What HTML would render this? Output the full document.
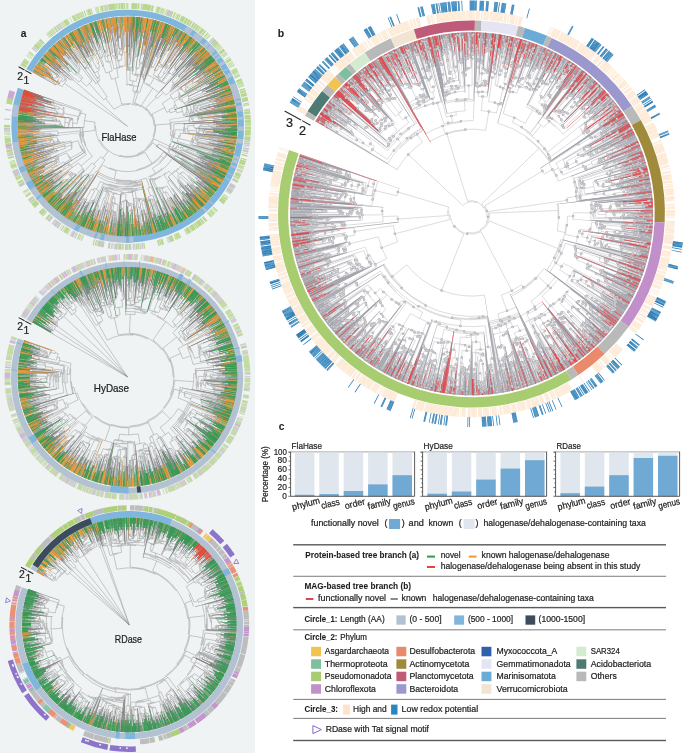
<!DOCTYPE html>
<html><head><meta charset="utf-8"><title>Figure</title>
<style>html,body{margin:0;padding:0;background:#fff;overflow:hidden}svg{display:block}</style>
</head><body><svg width="685" height="753" viewBox="0 0 685 753" font-family="'Liberation Sans', Arial, sans-serif"><rect x="0" y="0" width="255" height="753" fill="#f0f3f4"/>
<g transform="translate(127.5 126.4) scale(0.25)"><path d="M-394-224A453 453 0 1 1 -427-151" stroke="#7fb6de" stroke-width="24.8" fill="none"/><path d="M231-390A453 453 0 0 1 245-381" stroke="#b3c2d3" stroke-width="24.8" fill="none"/><path d="M245-381A453 453 0 0 1 254-375" stroke="#b3c2d3" stroke-width="24.8" fill="none"/><path d="M266-367A453 453 0 0 1 270-364" stroke="#b3c2d3" stroke-width="24.8" fill="none"/><path d="M270-364A453 453 0 0 1 283-354" stroke="#b3c2d3" stroke-width="24.8" fill="none"/><path d="M283-354A453 453 0 0 1 295-344" stroke="#b3c2d3" stroke-width="24.8" fill="none"/><path d="M308-332A453 453 0 0 1 321-320" stroke="#b3c2d3" stroke-width="24.8" fill="none"/><path d="M324-317A453 453 0 0 1 337-303" stroke="#b3c2d3" stroke-width="24.8" fill="none"/><path d="M337-303A453 453 0 0 1 341-298" stroke="#b3c2d3" stroke-width="24.8" fill="none"/><path d="M341-298A453 453 0 0 1 344-296" stroke="#b3c2d3" stroke-width="24.8" fill="none"/><path d="M350-288A453 453 0 0 1 355-282" stroke="#b3c2d3" stroke-width="24.8" fill="none"/><path d="M359-277A453 453 0 0 1 364-270" stroke="#b3c2d3" stroke-width="24.8" fill="none"/><path d="M374-256A453 453 0 0 1 381-245" stroke="#b3c2d3" stroke-width="24.8" fill="none"/><path d="M392-228A453 453 0 0 1 394-224" stroke="#b3c2d3" stroke-width="24.8" fill="none"/><path d="M401-210A453 453 0 0 1 410-194" stroke="#b3c2d3" stroke-width="24.8" fill="none"/><path d="M430-143A453 453 0 0 1 431-140" stroke="#b3c2d3" stroke-width="24.8" fill="none"/><path d="M431-140A453 453 0 0 1 436-124" stroke="#b3c2d3" stroke-width="24.8" fill="none"/><path d="M441-104A453 453 0 0 1 443-94" stroke="#b3c2d3" stroke-width="24.8" fill="none"/><path d="M446-83A453 453 0 0 1 448-71" stroke="#b3c2d3" stroke-width="24.8" fill="none"/><path d="M448-71A453 453 0 0 1 449-60" stroke="#b3c2d3" stroke-width="24.8" fill="none"/><path d="M452-37A453 453 0 0 1 452-27" stroke="#b3c2d3" stroke-width="24.8" fill="none"/><path d="M453 0A453 453 0 0 1 453 18" stroke="#b3c2d3" stroke-width="24.8" fill="none"/><path d="M450 50A453 453 0 0 1 448 68" stroke="#b3c2d3" stroke-width="24.8" fill="none"/><path d="M438 118A453 453 0 0 1 434 130" stroke="#b3c2d3" stroke-width="24.8" fill="none"/><path d="M433 134A453 453 0 0 1 429 146" stroke="#b3c2d3" stroke-width="24.8" fill="none"/><path d="M425 157A453 453 0 0 1 422 165" stroke="#b3c2d3" stroke-width="24.8" fill="none"/><path d="M412 189A453 453 0 0 1 411 192" stroke="#b3c2d3" stroke-width="24.8" fill="none"/><path d="M402 209A453 453 0 0 1 400 212" stroke="#b3c2d3" stroke-width="24.8" fill="none"/><path d="M336 304A453 453 0 0 1 334 307" stroke="#b3c2d3" stroke-width="24.8" fill="none"/><path d="M311 330A453 453 0 0 1 306 335" stroke="#b3c2d3" stroke-width="24.8" fill="none"/><path d="M420-170A453 453 0 0 1 440-110" stroke="#b3c2d3" stroke-width="24.8" fill="none"/><path d="M24 453A453 453 0 0 1 -449 63" stroke="#b3c2d3" stroke-width="24.8" fill="none"/><path d="M-451-39A453 453 0 0 1 -445-86" stroke="#b3c2d3" stroke-width="24.8" fill="none"/><path d="M7 453A453 453 0 0 1 -6 453" stroke="#7fb6de" stroke-width="24.8" fill="none"/><path d="M-93 444A453 453 0 0 1 -107 441" stroke="#7fb6de" stroke-width="24.8" fill="none"/><path d="M-122 437A453 453 0 0 1 -130 434" stroke="#7fb6de" stroke-width="24.8" fill="none"/><path d="M-193 410A453 453 0 0 1 -209 402" stroke="#7fb6de" stroke-width="24.8" fill="none"/><path d="M-352 286A453 453 0 0 1 -357 280" stroke="#7fb6de" stroke-width="24.8" fill="none"/><path d="M-380 247A453 453 0 0 1 -389 232" stroke="#7fb6de" stroke-width="24.8" fill="none"/><path d="M-389 232A453 453 0 0 1 -396 221" stroke="#7fb6de" stroke-width="24.8" fill="none"/><path d="M-416 181A453 453 0 0 1 -419 173" stroke="#7fb6de" stroke-width="24.8" fill="none"/><path d="M-419 173A453 453 0 0 1 -424 161" stroke="#7fb6de" stroke-width="24.8" fill="none"/><circle r="482" stroke="#a7cd6d" stroke-width="24" pathLength="36000" stroke-dasharray="0 24 130 20 255 20 30 20 180 594 30 45 80 120 55 20 230 45 55 20 30 20 30 220 180 19 80 70 55 645 30 145 30 20 30 20 80 20 205 394 55 20 30 45 30 20 80 20 55 20 80 220 105 70 80 20 205 20 80 20 55 20 180 20 30 20 154 20 55 295 80 20 105 20 55 70 155 120 30 195 105 20 55 20 55 644 55 245 55 20 55 320 30 45 55 195 30 20 130 894 105 170 55 544 30 45 30 20 30 20 55 470 55 20 155 20 30 45 55 45 30 719 105 145 55 20 105 20 80 270 255 20 80 270 80 20 30 69 30 20 55 345 55 20 105 70 30 20 105 20 30 370 30 20 130 20 30 20 30 20 30 20 30 119 80 45 30 45 80 20 130 220 80 20 230 20 30 20 30 45 30 20 30 45 55 170 130 994 280 1614 30 20 105 20 130 20 55 145 30 45 30 45 30 20 55 320 155 20 80 20 55 20 105 344 30 45 55 20 55 20 55 20 30 20 55 45 80 220 30 20 30 20 30 20 30 20 30 20 180 20 30 95 30 95 130 19 55 20 105 20 55 20 55 20 55 45 55 70 30 20 130 20 55 170 30 20 30 20 55 70 30 20 105 20 30 20 80 145 304 20 55 20 30 20 80 20 130 20 55 45 30 20 55 145 280 20 80 145 404 20 105 120 30 20 130 20 30 20 55 20 55 20 30 45 30 20 30 195 80 45 80 45 30 20 80 20 55 45 204 20 130 20 105 20 80 70 80 20 80 20 105 20 55 20 30 20 155 20 80 70 55 20 30 45 55 145 55 194 130 20 55 20 30 20 30 20 30 20 30 45 155 45 55 20 30 20 30 120 30 45 130 45 30 20 30 20 30 20 30 20 30 120 55 19 80 20 55 20 30 20 30 20 80 120 130 20 80 20 30 20 30 20 30 95 80 20 105 20 155 45 205 70 55 19 55 170 80 20 130 45 205 20 155 20 80 20 51 1" fill="none" stroke-opacity="0.75"/><circle r="482" stroke="#b9b9b9" stroke-width="24" pathLength="36000" stroke-dasharray="0 698 55 20 80 20 55 20 30 45 80 20 105 870 80 20 30 369 30 45 55 145 205 20 205 1819 30 1769 55 20 30 495 30 694 55 20 30 20 55 20 30 145 55 20 55 70 105 45 30 45 80 45 30 20 30 170 30 19 155 45 30 20 55 45 105 195 205 120 30 20 55 620 30 294 55 20 30 20 130 20 30 620 105 20 155 20 80 120 129 445 30 720 130 669 105 445 305 1894 130 394 55 420 30 3089 55 20 55 1369 30 20 80 20 55 2394 55 20 55 1494 55 1219 205 1119 30 1194 180 1669 30 2670" fill="none" stroke-opacity="0.75"/><circle r="482" stroke="#c08ec8" stroke-width="24" pathLength="36000" stroke-dasharray="0 16614 30 270 30 20 55 20 80 1644 30 545 355 16307" fill="none" stroke-opacity="0.75"/><path d="M-359-207l0-1M-359-208l14 8l1-1M-340-201l1-1M-338-199l1-1l-3-2M-337-199l2 1l2-2M-344-200l11 6l2-3l-3-2M-332-196l3 2a382 382 0 0 1 2-4M-328-196l30 18l1-3M-296-170a341 341 0 0 1 4-6l-6-4M-290-165a333 333 0 0 1 3-4l-7-4M-289-167l3 1a330 330 0 0 1 5-7M-284-169l5 3a324 324 0 0 1 3-5M-363-230l1-1M-355-245l1-1M-329-225l1-2l-27-18M-328-226l2 2l2-2M-313-213l2-3l-14-9M-312-214l3 1l2-3M-306-208l2-3l-4-3M-303-201a363 363 0 0 1 3-5l-5-4M-302-196a360 360 0 0 1 3-6l-2-1M-300-194l2-3l-2-2M-298-191l2-3l-3-1M-363-231l67 43l2-3l-3-1M-345-245l0-1M-333-235l1-1l-13-10M-332-236l14 11l2-2M-317-226l11 7l1-1M-295-189l3 1a347 347 0 0 1 10-15l-23-16M-287-195l2 1a344 344 0 0 1 7-9M-282-198l3 2a341 341 0 0 1 4-5M-283-178a334 334 0 0 1 11-17l-5-4M-281-176a331 331 0 0 1 6-9l-2-2M-276-172a325 325 0 0 1 3-5l-5-3M-339-251l1-1M-316-233l1-1l-24-17M-274-174l2 1a322 322 0 0 1 13-18l-56-42M-339-255l1-1M-339-256l3 2l1-1M-335-251l2-2l-3-2M-334-252l3 2l2-3M-330-251l53 40l2-2M-265-182l6 4a314 314 0 0 1 10-14l-27-20M-321-254l0 0M-283-221l1-2l-39-31M-282-222l8 6l1-2M-254-185l2 2a311 311 0 0 1 8-10l-29-24M-277-168l16 9a305 305 0 0 1 18-26l-5-3M-293-242l1-1M-292-243l16 13l1-1M-275-226l2-2l-3-2M-273-223l1-2l-2-2M-301-256l0-1M-286-241l1-1l-16-14M-273-224l13 10a337 337 0 0 1 3-4l-28-24M-258-216l2 2a333 333 0 0 1 3-3M-254-215l22 18l2-2M-228-184a293 293 0 0 1 5-6l-8-8M-269-235l1-1M-225-187l3 3a288 288 0 0 1 5-6l-51-45M-290-263l1-1M-279-251l1-2l-11-10M-264-236l2-2l-16-14M-262-233l1-2l-2-2M-262-234l4 3a346 346 0 0 1 3-3M-256-232l2 2l2-3M-284-264l1-1M-284-264l18 16l2-1M-312-298l1-1M-311-298l20 19l1-1M-270-265l1-1M-269-265l7 7l1-2M-261-255l2-2l-2-2M-237-230l2-1l-25-25M-290-279l55 53l2-2l-3-2M-234-223l2-2l-2-2M-265-249l32 30l2-3l-2-2M-243-244l2-2M-232-220l2 2a317 317 0 0 1 7-7l-19-20M-226-222l15 15a296 296 0 0 1 6-6M-208-210l2 2a293 293 0 0 1 3-3M-277-297l1-1M-277-298l13 14l2-1M-263-281l2-1l-2-3M-262-277l2-2l-2-2M-260-274l2-2l-3-2M-259-275l2 2a375 375 0 0 1 5-5M-251-280l2-1M-250-280l14 15l2-2M-235-266l2 2l2-1M-248-286l1-2M-248-287l2 2l3-2M-262-316l1 0M-261-316l2 2l1-1M-258-310l1-2l-2-2M-227-271l1-1l-31-39M-226-268l2-1l-2-3M-244-286l40 47l2-2l-23-28M-246-302l2-1M-203-240l8 10a301 301 0 0 1 5-4l-55-68M-232-264l36 41a297 297 0 0 1 7-5l-3-4M-255-275l56 60a293 293 0 0 1 9-8l-3-3M-200-210a290 290 0 0 1 7-7l-2-2M-204-210l18 19a266 266 0 0 1 6-5l-17-18M-253-231l59 54a263 263 0 0 1 13-14l-2-2M-240-307l1-1M-228-295l2-1M-240-307l13 16l2-2l-2-2M-208-264l2-2l-20-26M-207-261l2-1l-2-3M-206-262l2 3a330 330 0 0 1 4-3M-203-255a326 326 0 0 1 3-3l-2-3M-201-257l1 3a323 323 0 0 1 5-4M-197-256l2 3a320 320 0 0 1 3-3M-196-245a314 314 0 0 1 6-5l-4-5M-188-184l24 23a230 230 0 0 1 22-20l-51-66M-234-320l1 0M-233-320l2 3l1-1M-230-313l2-1l-3-4M-229-310l2-1l-2-3M-229-319l1-1M-228-310l22 29l3-2l-26-37M-250-352l1 0M-249-352l23 32l2-1M-212-307l2-2M-225-320l34 49a331 331 0 0 1 4-2l-24-35M-217-321l2-1M-216-321l13 18l1-1M-189-272l11 16a312 312 0 0 1 5-4l-30-43M-176-258l2 3a309 309 0 0 1 4-3M-222-343l2 0M-202-310l2-1l-21-32M-201-310l2 2l2-1M-179-272l3-2l-22-34M-172-257l8 13a294 294 0 0 1 4-3l-18-26M-205-282l35 47a290 290 0 0 1 10-7l-2-3M-171-230a287 287 0 0 1 8-6l-2-2M-167-233l2 3a283 283 0 0 1 13-9M-191-313l2-1M-190-313l3 5l2-1M-172-279l3-1l-17-29M-189-319l2-1M-182-306l1-1l-7-13M-181-307l13 22l3-1M-167-285l2 2l2-1M-170-279l1 2a324 324 0 0 1 7-4l-2-2M-165-279l1 3a321 321 0 0 1 6-3M-161-278l2 3a318 318 0 0 1 4-2M-157-253a298 298 0 0 1 10-6l-10-17M-149-238a280 280 0 0 1 6-3l-9-15M-187-346l1 0M-182-336l1 0l-5-10M-182-336l2 3l2-1M-161-292l3-2l-21-40M-182-350l1-1M-173-341l1-1M-169-330l2 0l-6-12M-168-330l12 23l2-1M-191-384l1-1M-155-307l3 7l3-1l-42-84M-181-350l28 54a333 333 0 0 1 4-2l-1-3M-153-292a330 330 0 0 1 4-2l-2-3M-152-289l2-1l-1-3M-151-290l4 7a319 319 0 0 1 7-3M-144-284l2 2a316 316 0 0 1 4-2M-144-272a308 308 0 0 1 7-4l-3-7M-159-293l15 28a301 301 0 0 1 7-3l-3-6M-166-363l1-1M-158-343l2 0l-9-21M-157-343l1 3l3-1M-156-336l3-2l-2-3M-155-333l2-1l-2-3M-155-330l2-1l-1-3M-154-330l10 21a341 341 0 0 1 5-2M-142-310l2 3l3-2M-143-302a334 334 0 0 1 6-3l-2-3M-140-304l1 3a331 331 0 0 1 6-2M-138-289a321 321 0 0 1 6-3l-4-10M-137-286l3-2l-1-3M-159-370l1 0M-158-370l1 3l1 0M-146-335l3-1l-13-31M-144-336l1 5l3-2M-136-287l2 3a314 314 0 0 1 11-5l-18-43M-122-252a280 280 0 0 1 8-3l-15-32M-141-266l19 35a262 262 0 0 1 11-6l-7-17M-146-239l15 25a251 251 0 0 1 19-11l-4-9M-122-194a229 229 0 0 1 11-6l-10-20M-158-235l37 56a216 216 0 0 1 11-7l-6-11M-127-170a212 212 0 0 1 14-10l-2-3M-153-172l58 66a142 142 0 0 1 14-11l-39-58M-158-385l1-1M-148-373l1 0M-146-364l2 0l-4-9M-142-351l2-1l-5-12M-141-351l6 14l3-2M-158-386l22 52l3-1l-1-3M-128-334l2-1M-127-335l3 9l2-1M-125-338l2-1M-123-326l6 15l3-1l-10-27M-115-311l1 3a329 329 0 0 1 4-2M-135-334l13 32a326 326 0 0 1 11-4l-1-3M-143-407l2 0M-139-408l1 0M-134-389l2 0l-6-19M-142-407l23 66l2-1l-16-47M-112-317l2-1l-8-24M-116-304l10 28a296 296 0 0 1 8-3l-13-38M-112-271a293 293 0 0 1 11-4l-1-3M-101-242a262 262 0 0 1 6-2l-11-29M-123-370l1 0M-122-370l1 5l3-1M-119-365l3 11l3 0M-117-350l4-1l-1-3M-112-371l2-1M-112-368l2-1l-1-3M-108-352l2-1l-5-15M-107-352l1 3l4-1M-102-330l3-1l-5-19M-116-411l1 0M-116-411l1 3l2 0M-104-364l2 0l-12-44M-104-360l2-1l-1-3M-103-361l5 19l4-1M-96-342l1 3l3-1M-94-340l1 4l3-1M-101-331l9 29a316 316 0 0 1 9-3l-8-32M-93-298a312 312 0 0 1 7-2l-1-3M-102-399l1 0M-102-399l4 14l2 0M-96-371l2 0l-3-14M-88-336l2-1l-9-34M-90-299l1 3a309 309 0 0 1 11-3l-9-38M-83-298l3 13a296 296 0 0 1 9-2M-88-279a292 292 0 0 1 14-4l-1-3M-115-350l30 92a272 272 0 0 1 9-3l-5-20M-80-260l1 4a268 268 0 0 1 15-4M-98-243l12 30a230 230 0 0 1 25-9l-10-36M-90-391l3 0M-89-391l11 46l3 0M-79-341l3-1l-1-3M-78-342l1 3l4 0M-79-335a344 344 0 0 1 5-1l-1-3M-79-383l1 0M-78-383l0 5l2-1M-75-357l2-1l-4-20M-74-348l2 0l-2-10M-69-374l1 0M-71-370l3-1l0-3M-66-341l2 0l-5-29M-66-333l2 0l-1-8M-73-348l11 51l4 0l-7-36M-77-335l10 43a300 300 0 0 1 8-2l-1-3M-63-293l3 12a287 287 0 0 1 10-2M-68-401l1 0M-67-401l4 25l1-1M-55-282l2 10a277 277 0 0 1 8-1l-17-104M-62-393l1 0M-62-389l1 0l0-4M-50-342l3-1M-51-376l3-1M-50-376l4 29l3 0M-44-347l0 3l2 0M-43-344l1 3l2 0M-48-343l2 20a326 326 0 0 1 7-1l-2-17M-42-391l2-1M-41-392l3 34l3 0M-39-411l1 0M-39-411l1 3l1 0M-38-408l5 49l2 0M-36-358l0 3l4 0l0-4M-39-351a354 354 0 0 1 5-1l0-3M-39-348l3-1l0-3M-37-348l4 37a313 313 0 0 1 8-1M-35-300a302 302 0 0 1 7-1l-1-10M-42-323l4 33a292 292 0 0 1 7-1l-1-10M-34-290l0 3a289 289 0 0 1 11-1M-29-389l2 0M-29-386l1 0l0-3M-29-386l2 20l2 0M-28-288l0 3a286 286 0 0 1 8 0l-6-81M-40-264a267 267 0 0 1 17-2l-1-19M-62-389l21 128a264 264 0 0 1 10-1l0-3M-24-391l2 0M-23-391l2 29l2 0M-20-409l1 0M-19-409l0 3l2 0M-18-406l2 40l1 0M-14-376l2-1M-13-376l0 3l3 0M-16-366l2 38l4 0l-1-45M-12-328l0 5l4 0M-16-319a320 320 0 0 1 7-1l-1-3M-20-362l2 49l5 0l0-7M-20-308l5 0l0-5M-17-308l0 11a298 298 0 0 1 11-1M-36-261l3 21a243 243 0 0 1 24-2l-2-55M-49-273l6 37a239 239 0 0 1 22-2l0-4M-55-230a236 236 0 0 1 24-4l-1-3M-74-218l10 30a199 199 0 0 1 27-8l-6-36M-2-405l2 0M1-374l1 0M3-324l2 0M1-374l0 54l3 0l0-4M-1-405l0 106l3 0l1-21M1-299l0 7a292 292 0 0 1 5 1M4-292l-1 4l4 0M12-387l2 0M11-375l2 0l0-12M10-361l1 0l1-14M5-288l0 14l3 0l3-87M19-384l1 1M20-384l-2 33l2 0M19-351l-1 22l2 0M15-326l4 1l0-4M17-325l-1 6l4 0M14-316l4 0l0-3M23-348l1 0M16-316l0 3l5 0l3-35M12-303a303 303 0 0 1 6 1l0-11M10-263l3 0l2-39M6-274l0 24a250 250 0 0 1 5 1l1-14M-2-246a246 246 0 0 1 10 0l0-3M3-246l0 9a237 237 0 0 1 15 0M-2-234a234 234 0 0 1 12 0l0-3M4-234l0 3a231 231 0 0 1 14 1M-3-228a228 228 0 0 1 14 1l0-4M4-228l0 4a224 224 0 0 1 14 0M32-345l2 0M30-342l3 0l0-3M31-342l0 10l3 1M32-332l-1 12l2 1M42-378l1 0M39-360l1 0l2-18M45-379l2 0M41-352l2 0l3-27M40-360l-4 34l3 0l3-26M32-320l-3 32l4 0l4-38M49-370l1 0M46-361l2 0l2-9M31-288l-1 7a282 282 0 0 1 7 1l10-81M24-278a279 279 0 0 1 9 1l1-3M18-222a223 223 0 0 1 5 1l5-57M51-319l3 0M49-316l3 0l0-3M43-288l3 0l4-28M42-285l2 0l1-3M39-277l2 1l2-9M65-323l4 1M65-298l2 0M67-322l-5 26l3 1l1-3M64-296l-1 4l4 1M55-291a296 296 0 0 1 9 2l1-3M54-288a293 293 0 0 1 5 1l1-3M52-285l4 1l0-3M54-284l-6 29a259 259 0 0 1 11 2M45-250a254 254 0 0 1 8 1l1-5M40-276l-6 42a236 236 0 0 1 11 2l4-18M32-231a233 233 0 0 1 7 1l1-3M92-381l1 0M89-378l3 0l1-3M36-231l-4 21a213 213 0 0 1 18 3l41-171M20-222l-1 13a210 210 0 0 1 21 3l1-3M97-391l1 1M30-207l-1 3a206 206 0 0 1 21 4l47-190M11-224l-2 41a183 183 0 0 1 26 3l5-23M-3-168a168 168 0 0 1 23 1l2-15M9-168l-1 4a165 165 0 0 1 33 4M25-163l-4 21a143 143 0 0 1 15 3M29-140l-2 5a138 138 0 0 1 8 2M91-345l2 0M106-380l1 0M86-312l1 0l19-68M86-312l0 3l1 1M97-322l1 0M94-320l2 1l1-3M95-319l-9 31l2 1M87-287l-2 5l2 1M79-273l4 1l3-9M81-273l-1 3a281 281 0 0 1 4 2M82-269l-8 26l3 1M117-361l1 1M109-342l2 1l6-19M76-242l-1 3l2 0l33-103M68-238a248 248 0 0 1 7 2l1-3M72-237l-1 3a244 244 0 0 1 5 2M86-309l-28 101a216 216 0 0 1 7 2l9-27M122-366l1 1M122-365l-8 24l1 0M115-341l-10 29l1 1M105-311l-8 25l1 1M62-207l-1 3a213 213 0 0 1 8 3l29-85M55-202a209 209 0 0 1 9 3l1-3M59-201l-1 3a206 206 0 0 1 10 3M63-196l-1 4a202 202 0 0 1 5 2M64-191l-1 3l4 1M65-188l-1 3l2 1M65-184l-1 3l2 0M92-345l-55 205a145 145 0 0 1 12 4l16-45M128-347l3 1M154-363l1 0M142-338l2 0l11-25M136-327l2 1l5-12M137-327l-5 12l3 1M134-315l-1 4l2 1M127-309a334 334 0 0 1 5 2l2-4M125-307l3 2l2-3M123-304l2 1l2-3M121-301l2 1l1-3M148-333l2 1M146-330l2 1l1-3M133-305l2 1l12-26M122-301l-1 3a321 321 0 0 1 9 4l4-10M125-296l-1 3a318 318 0 0 1 8 4M117-293a315 315 0 0 1 10 5l1-3M115-290a312 312 0 0 1 6 2l1-3M118-289l-2 3a309 309 0 0 1 14 6M111-284a305 305 0 0 1 11 4l1-3M117-282l-2 3a302 302 0 0 1 13 5M94-241a258 258 0 0 1 10 5l18-41M92-238a255 255 0 0 1 6 2l1-3M130-347l-42 111a252 252 0 0 1 6 2l1-3M191-386l1 0M178-363l2 1l12-24M179-362l-1 2l2 2M179-359l-13 26l2 1M162-332a369 369 0 0 1 4 2l1-3M190-368l1 0M169-329l1 0l20-39M165-324l1 1l3-6M164-331l-13 26a341 341 0 0 1 4 2l11-20M192-355l1 1M192-355l-11 21l1 1M178-332l2 1l2-2M179-331l-7 13l3 1M165-309l3 2l5-10M162-306l3 1l1-3M159-304l3 1l1-3M153-304l-8 16a322 322 0 0 1 5 3l10-19M125-257a286 286 0 0 1 6 3l17-32M196-348l1 0M182-326l1 1l13-23M171-308l2 1l10-18M194-341l1 0M172-308l-2 4l3 2l22-39M197-339l1 1M194-336l1 1l2-3M171-303l-12 22l3 2l33-57M128-256l-2 3a282 282 0 0 1 14 8l21-35M133-249l-1 3a279 279 0 0 1 10 5M137-243l-2 2a276 276 0 0 1 6 3M118-246a273 273 0 0 1 18 10l2-3M108-227a252 252 0 0 1 10 4l9-18M212-342l1 0M205-333l1 1l6-10M192-315l2 1l11-18M193-314l-2 2l3 2M206-325l1 0M207-325l-4 6l1 1M200-317l2 1l2-3M231-349l1 1M215-326l1 1l15-24M197-302l2 1l16-25M216-321l2 1M204-305l1 2l12-18M198-301l-11 16a340 340 0 0 1 3 3l15-22M167-257l3 2l19-28M201-316l-38 60l3 2l2-2M193-311l-38 61a295 295 0 0 1 5 2l5-7M158-249l-2 3a291 291 0 0 1 10 6M149-247a288 288 0 0 1 10 7l2-3M154-244l-2 3a285 285 0 0 1 12 8M145-242a282 282 0 0 1 11 7l2-2M151-238l-2 2a279 279 0 0 1 12 8M230-317l2 0M214-297l2 1l15-21M215-297l-7 9l3 2M205-287l3 2l2-2M202-285l2 2l2-3M155-232l-12 18a258 258 0 0 1 7 4l53-74M120-202a235 235 0 0 1 14 9l13-19M113-225l-10 19a231 231 0 0 1 22 12l2-4M114-200l-1 2a227 227 0 0 1 22 15M233-308l1 1M251-328l1 1M234-308l-6 8l2 1l22-28M225-299l2 2l2-3M222-297l2 2l2-3M234-300l1 1M256-318l1 1M257-317l-10 12l1 1M230-286l1 1l16-19M217-272l2 1l12-15M214-270l2 1l2-2M235-300l-25 31l3 2l2-3M254-306l2 1M255-306l-22 27l2 1M221-269l3 2l10-12M212-268l-22 27a307 307 0 0 1 6 5l26-32M186-240a303 303 0 0 1 5 4l2-2M188-238l-2 3a300 300 0 0 1 9 7M191-232l-2 3a297 297 0 0 1 5 4M276-318l1 1M277-318l-17 19l2 1M191-227l-11 13a280 280 0 0 1 4 4l77-89M182-212l-2 2a276 276 0 0 1 3 3M223-296l-59 78a273 273 0 0 1 15 12l2-2M161-217a270 270 0 0 1 9 7l2-2M274-303l1 0M271-302l1 1l2-2M249-279l1 1l22-23M246-277l1 1l3-2M166-213l-26 33a227 227 0 0 1 11 10l96-106M124-191l-2 3a224 224 0 0 1 22 16l2-3M91-235l-11 29a221 221 0 0 1 51 28l2-2M64-175a187 187 0 0 1 26 11l16-30M77-170l-1 3a183 183 0 0 1 48 31M271-290l0 1M271-289l-23 24l1 1M249-264l-3 2l2 1M247-261l-11 11l2 1M237-250l-13 14l2 2M219-236a322 322 0 0 1 4 3l2-2M285-290l1 0M236-242l1 1l48-49M236-242l-2 3l2 1M221-234l-22 23a290 290 0 0 1 5 4l31-31M201-209l-7 8a279 279 0 0 1 3 3M273-266l0 1M257-252l1 1l15-14M258-252l-7 7l2 1M248-244l2 2l2-3M249-243l-16 15l2 3M234-227l-5 5l2 2M257-242l1 1M230-221l-2 2l2 3l28-25M267-246l1 2M258-239l1 2l9-8M229-217l-15 14a296 296 0 0 1 3 3l42-38M216-202l-2 2a292 292 0 0 1 3 4M205-204a289 289 0 0 1 8 8l2-2M209-200l-2 2a286 286 0 0 1 5 7M196-200l-18 19a254 254 0 0 1 8 8l23-22M182-177l-2 2a251 251 0 0 1 7 8M183-171l-2 2a247 247 0 0 1 4 4M183-167l-3 2a244 244 0 0 1 3 3M299-262l1 1M250-220l1 1l49-43M181-163l-2 2l2 2l69-61M268-233l1 2M180-160l-2 2l2 3l89-77M179-157l-3 2a235 235 0 0 1 3 3M178-153l-3 2l2 2M176-150l-2 2l1 1M174-147l-2 2l1 1M288-232l1 2M289-231l-3 2l1 2M282-229l2 3l3-2M283-228l-10 8a351 351 0 0 1 3 3M269-220a348 348 0 0 1 3 3l3-2M271-219l-36 29a303 303 0 0 1 3 3M231-190a299 299 0 0 1 3 4l3-2M215-178l2 2l16-12M320-243l0 1M320-243l-19 15l1 1M301-228l-25 20l1 1M272-208l2 2l2-2M269-207l1 2l3-2M266-206l1 2l3-2M263-205l1 2l2-2M216-177l-17 14a257 257 0 0 1 4 6l60-47M172-145l-2 2a222 222 0 0 1 3 5l28-22M134-145a198 198 0 0 1 19 20l19-15M110-120a163 163 0 0 1 9 8l25-23M348-254l1 1M348-254l-51 38l1 1M302-213l1 1M316-219l1 1M316-219l-2 2l0 2M342-233l1 1M342-232l-34 23l1 1M309-209l-3 2l1 2M314-216l-29 20l2 3l19-13M303-213l-22 16a343 343 0 0 1 3 4l2-2M277-197a340 340 0 0 1 2 4l3-2M278-195l-18 13a317 317 0 0 1 4 6M262-179l-3 2a314 314 0 0 1 3 4M261-175l-3 2l2 2M337-217l1 1M337-217l-2 2l0 1M335-214l-26 16l1 2M310-197l-14 9l2 2M280-182a334 334 0 0 1 3 4l14-9M281-180l-2 1a331 331 0 0 1 2 4M346-212l0 1M326-201l0 1l20-12M280-177l-3 2l2 3l47-28M259-172l-19 13a288 288 0 0 1 4 7l34-21M231-166a284 284 0 0 1 8 12l3-2M235-160l-5 4a278 278 0 0 1 7 12M234-150l-3 2a274 274 0 0 1 4 6M233-145l-3 2a271 271 0 0 1 3 4M349-206l1 2M350-205l-43 25l1 1M296-176l2 2l10-5M231-141l-2 1a268 268 0 0 1 2 4l66-39M297-216l-83 61a265 265 0 0 1 13 19l3-2M211-155a262 262 0 0 1 7 11l3-2M208-154a258 258 0 0 1 4 6l3-2M210-151l-10 7a246 246 0 0 1 13 21M207-134l-3 2a243 243 0 0 1 7 11M341-194l0 1M208-126l-3 1a240 240 0 0 1 4 7l132-75M170-126a211 211 0 0 1 12 19l25-15M349-192l1 2M350-191l-32 17l1 2M314-174l1 3l3-2M369-190l0 1M330-171l1 1l38-19M326-172l2 3l3-2M323-172l1 3l3-1M323-170l-2 1a362 362 0 0 1 2 5M316-170a359 359 0 0 1 3 5l3-2M318-167l-28 14a327 327 0 0 1 2 5M315-173l-42 23a311 311 0 0 1 4 7l14-7M275-146l-34 18a273 273 0 0 1 3 6M313-153l1 1M313-153l-16 8l1 2M293-146l2 3l3-1M382-180l0 1M356-169l1 2l25-12M357-168l-3 1l1 2M354-166l-16 8l1 2M371-163l0 1M316-141l1 2l54-23M312-142l2 3l2-1M309-141l1 2l3-1M338-157l-33 15l2 3l2-1M301-144a333 333 0 0 1 2 5l3-1M302-141l-3 1a330 330 0 0 1 4 10M373-156l1 2M335-141l0 2l39-16M331-140l1 1l3-1M328-140l1 2l3-2M328-139l-35 15l1 4M301-135l-48 22a277 277 0 0 1 3 7l37-16M294-144l-51 25a271 271 0 0 1 6 11l5-2M246-114l-3 2a268 268 0 0 1 5 12M246-106l-3 1a265 265 0 0 1 3 6M390-150l0 1M381-148l1 2l8-3M346-135l0 1l35-13M388-147l0 1M346-134l-3 1l1 3l44-16M344-132l-14 6l1 3M315-124a338 338 0 0 1 1 5l15-6M311-124l2 3l3-1M312-122l-32 12a301 301 0 0 1 2 6M244-102l-16 7a246 246 0 0 1 2 7l51-19M243-125l-27 13a243 243 0 0 1 10 22l3-1M207-116a237 237 0 0 1 9 18l5-3M204-115a234 234 0 0 1 5 9l3-1M207-110l-21 11a211 211 0 0 1 12 26M193-86l-8 3a203 203 0 0 1 6 14M399-135l1 1M362-123l1 1l37-12M362-123l-3 1l1 3M334-115l1 3l25-9M373-118l0 1M352-112l0 1l21-6M349-112l0 1l3-1M349-112l-3 1l1 3M346-109l-17 5l1 3M325-106l1 4l3 0M322-106l1 3l3-1M371-111l0 1M351-106l0 2l20-6M348-106l0 2l3-1M322-104l-51 16a285 285 0 0 1 2 6l75-23M370-105l0 2M367-105l0 2l3-1M355-103l1 2l11-3M339-99l1 2l15-5M392-102l0 2M358-94l0 2l34-9M358-93l-7 2l1 2M338-90l1 3l13-3M339-89l-14 4l1 3M326-83l-3 0l0 3M293-80a304 304 0 0 1 2 6l28-7M294-77l-3 0a301 301 0 0 1 2 6M339-98l-61 18a290 290 0 0 1 3 9l11-3M401-95l0 2M401-94l-52 12l1 3M342-82l1 3l6-1M343-80l-29 6l1 4M400-86l0 1M400-86l-38 9l1 2M340-74l0 2l23-4M315-72l-4 1l1 4l28-6M312-69l-3 1a316 316 0 0 1 1 5M280-76l-4 1a286 286 0 0 1 4 15l29-6M278-67l-3 1a283 283 0 0 1 3 10M272-85l-5 1a280 280 0 0 1 6 24l4-1M335-114l-73 25a277 277 0 0 1 5 18l4-1M265-80l-3 1a274 274 0 0 1 6 26M265-66l-3 1a270 270 0 0 1 3 13M264-59l-3 1a267 267 0 0 1 1 8M249-87a264 264 0 0 1 10 33l3 0M255-70l-4 1a261 261 0 0 1 5 20M254-59l-3 1a258 258 0 0 1 2 11M252-53l-3 1a254 254 0 0 1 1 6M237-83a251 251 0 0 1 10 35l3-1M234-83a248 248 0 0 1 5 18l3-1M237-74l-3 1a245 245 0 0 1 7 29M238-58l-5 1a240 240 0 0 1 3 15M234-50l-7 2a232 232 0 0 1 1 8M215-77a228 228 0 0 1 9 34l3-1M192-69a204 204 0 0 1 5 15l23-6M188-76l-22 9a179 179 0 0 1 5 13l24-8M176-117l-37 25a167 167 0 0 1 18 36l11-5M376-58l0 2M323-51l0 2l53-8M383-55l1 1M406-55l0 1M394-54l1 1l11-1M383-55l-36 6l0 2l47-7M347-48l-3 0l0 3M323-50l-26 4a300 300 0 0 1 0 6l47-6M297-43l-3 0a297 297 0 0 1 1 7M381-44l0 2M381-43l-3 0l1 4M378-41l-37 4l0 2M337-40a339 339 0 0 1 1 5l3-1M408-38l0 1M383-37l1 2l24-2M384-36l-4 0l1 3M377-37l0 3l3 0M337-38l-42 5a297 297 0 0 1 1 5l81-8M294-39l-3 0a294 294 0 0 1 1 9l3 0M287-46a291 291 0 0 1 1 12l4-1M288-40l-3 0a287 287 0 0 1 1 16M280-46a284 284 0 0 1 2 14l4 0M281-39l-20 3a264 264 0 0 1 2 15M254-42a258 258 0 0 1 2 14l6-1M251-42a254 254 0 0 1 1 7l3 0M251-39l-3 1a251 251 0 0 1 2 18M374-28l0 1M374-28l-28 2l0 4M250-29l-4 0a248 248 0 0 1 1 12l99-7M424-21l0 2M424-20l-65 3l0 2M388-12l0 1M388-12l-37 1l0 2M348-12l0 2l3 0M414-7l0 1M371-8l0 2l43-1M371-7l-7 0l0 3M361-8l0 2l3 0M361-7l-3 0l0 4M348-11l-26 1l0 5l36 0M322-7l-29 0a294 294 0 0 1 1 5M402 1l0 1M417 3l0 1M417 4l-4 0l0 1M413 4l-38 0l0 2M402 1l-47 0l0 4l20 0M355 3l-8 0l0 3M387 8l0 1M347 5l-3 0l0 3l43 1M341 0a341 341 0 0 1 0 6l3 0M341 3l-3 0a338 338 0 0 1 0 6M335-1a335 335 0 0 1 0 7l3 0M294-4l-4 0a290 290 0 0 1 0 6l45 0M290-1l-3 0a287 287 0 0 1 0 9M287 4l-3 0l0 5M359-16l-94 4a266 266 0 0 1 1 18l18 0M318 20l0 3M407 37l0 1M400 35l-1 2l8 0M391 33l-1 2l10 1M365 29l-1 3l26 2M365 30l-48-4l0 4M318 22l-4-1a315 315 0 0 1 0 7l3 0M311 14a312 312 0 0 1 0 11l3 0M308 13a309 309 0 0 1 0 6l3 0M308 16l-3 0a305 305 0 0 1 -1 14M302 12a302 302 0 0 1 -1 11l4 0M289 11a290 290 0 0 1 0 6l13 1M289 14l-3 0a286 286 0 0 1 -1 15M286 21l-3 0a283 283 0 0 1 -1 8M282 25l-3 0a280 280 0 0 1 -1 5M277 10a277 277 0 0 1 -1 17l3 0M276 18l-31-2a245 245 0 0 1 -1 11M266-3l-25 0a241 241 0 0 1 -1 24l4 1M410 47l-1 2M378 43l-1 2l33 3M241 9l-10 0a231 231 0 0 1 -1 18l147 17M228-12a228 228 0 0 1 -1 30l4 0M228 3l-3 0a225 225 0 0 1 -2 25M427 58l0 1M403 54l0 1l24 4M383 54l0 1M411 63l0 1M368 55l0 2l43 6M368 56l-3-1l-1 3M383 55l-55-8l-1 4l37 5M403 54l-115-15l-1 4l41 6M425 73l0 2M425 74l-50-9l0 2M373 63l-1 3l3 0M355 59l0 2l17 3M392 73l-1 1M389 72l-1 1l4 1M366 66l-1 2l24 4M365 67l-3 0l0 3M355 60l-11-2a349 349 0 0 1 -1 7l19 3M385 75l0 1M343 61l-14-2a335 335 0 0 1 -1 6l57 11M398 83l-1 2M407 88l-1 1M398 84l-43-9l0 2l51 11M340 70l0 3l15 3M340 72l-6-2l0 4M324 66l-1 4l11 2M321 65l-1 2l3 1M320 66l-3-1a324 324 0 0 1 -1 6M329 62l-46-9a288 288 0 0 1 -2 8l36 7M281 46a285 285 0 0 1 -2 10l3 1M280 51l-3 0a281 281 0 0 1 -3 11M275 44a278 278 0 0 1 -2 12l3 1M287 41l-15-2a275 275 0 0 1 -1 11l3 0M411 96l-1 1M411 96l-23-5l0 2M388 92l-26-6l-1 1M358 82l-1 4l4 1M338 86l-1 3M372 100l0 1M389 107l-1 1M372 100l-31-8l0 2l47 13M339 90l-1 2l3 1M337 87l-39-10l-1 3l41 11M285 70a294 294 0 0 1 -1 5l14 4M285 72l-3 0a291 291 0 0 1 -2 7M358 84l-78-18a287 287 0 0 1 -2 8l3 1M271 44l-3 0a272 272 0 0 1 -4 22l15 4M266 55l-3-1a269 269 0 0 1 -5 19M263 34a265 265 0 0 1 -5 29l3 1M384 112l0 1M381 110l0 2l3 1M381 111l-42-12l-1 2M336 96l-1 3l3 1M261 49l-3-1a262 262 0 0 1 -6 25l84 25M212 27a213 213 0 0 1 -4 22l47 12M407 123l-1 1M407 123l-3-1l-1 2M210 38l-5-1a208 208 0 0 1 -6 24l204 62M224 15l-33-2a191 191 0 0 1 -5 32l16 4M394 122l-1 1M375 119l0 1M394 123l-36-11l-1 2l18 5M357 113l-18-6l-1 2M335 110l-1 2M339 108l-14-4l-1 3l10 4M324 106l-3-1l-1 3M189 29l-3 0a188 188 0 0 1 -7 30l142 47M185-11a185 185 0 0 1 -5 54l3 1M184 16l-3 0a182 182 0 0 1 -9 43M247-23l-73 7a174 174 0 0 1 -3 52l7 2M169-29a171 171 0 0 1 2 39l3 0M370 131l-1 2M310 121l-1 1M308 118l-1 2l3 2M298 113l-1 2l10 4M286 107l-1 2l12 5M285 108l-3-1a302 302 0 0 1 -1 5M280 102a298 298 0 0 1 -2 6l3 1M388 156l-1 1M373 155l0 1M373 155l-27-11l-1 1M334 137l-1 2l12 6M333 138l-37-15l-1 2M291 119l-1 3l5 2M388 156l-99-40l-1 3l3 1M279 105l-39-14a256 256 0 0 1 -3 6l51 21M239 94l-3-1a253 253 0 0 1 -3 7M370 132l-146-52a237 237 0 0 1 -4 10l14 6M222 85l-7-3a230 230 0 0 1 -4 9M205 72a218 218 0 0 1 -3 10l11 5M325 143l-1 2M322 141l0 2l2 1M322 142l-35-15l-1 3M282 122l-1 4l5 2M308 145l-1 2M306 142l-1 2l3 2M305 143l-2-1l-2 3M301 138a331 331 0 0 1 -2 4l3 1M300 140l-24-11a304 304 0 0 1 -2 4M281 124l-65-29a236 236 0 0 1 -3 6l62 30M203 77l-3-1a214 214 0 0 1 -5 13l19 9M315 159l0 1M313 156l-1 2l3 1M311 154l-1 2l3 1M284 140l0 1l26 14M282 138l-1 1l3 2M198 83l-3-2a211 211 0 0 1 -5 12l92 45M192 87l-3-1a208 208 0 0 1 -4 9M187 90l-3-1a205 205 0 0 1 -2 5M190 66a202 202 0 0 1 -10 24l3 1M186 78l-3-1a198 198 0 0 1 -7 14M180 84l-9-4a189 189 0 0 1 -3 8M176 61a186 186 0 0 1 -9 22l3 1M172 72l-3-1a183 183 0 0 1 -7 14M363 196l-1 1M342 187l-1 1M362 197l-67-37l-1 2l48 26M268 144l-1 2l28 15M320 179l0 1M320 179l-3-1l-1 1M315 175l-1 2l3 1M315 176l-23-13l-2 2M291 164l-16-9l-1 2M274 156l-3-2l-1 2M271 155l-3-1l-1 2M326 194l-1 1M303 179l-1 1l23 14M272 160l-1 1l31 19M267 155l-48-28l-1 2l53 31M219 128l-3-1l-2 2M267 145l-63-34a233 233 0 0 1 -4 8l15 9M195 104a221 221 0 0 1 -3 5l10 6M337 214l-1 0M337 214l-48-30l-1 1M287 181l-1 2l2 1M272 171l-1 1l15 10M270 168l-1 2l3 1M270 169l-3-2a315 315 0 0 1 -2 4M311 204l0 0M286 186l-1 1l26 17M266 169l-48-31l-2 3l70 45M217 140l-3-2l-2 3M266 178l-1 2M213 139l-2-2a252 252 0 0 1 -2 4l57 38M192 117a225 225 0 0 1 -4 8l22 14M194 107l-24-14a194 194 0 0 1 -7 11l27 17M167 89a189 189 0 0 1 -4 7l4 3M165 92l-40-22a143 143 0 0 1 -7 11M331 229l0 1M331 229l-35-24l-1 1M295 205l-13-9l-1 1M258 177l-2 2l25 18M122 75l-3-1a140 140 0 0 1 -4 5l142 99M298 216l-1 1M321 238l0 1M323 242l-1 1M321 238l-23-17l-2 2l27 20M297 222l-17-13l-2 3M297 216l-17-12a346 346 0 0 1 -4 5l3 1M278 206l-2-2a343 343 0 0 1 -4 5M317 244l-1 1M316 244l-2-2l-1 2M313 243l-5-4l-1 1M307 240l-19-15l-1 1M287 225l-4-3l-2 2M282 223l-2-2l-2 2M302 243l-1 1M279 222l-3-2l-2 2l27 22M319 260l-1 1M325 268l-1 1M319 261l-3-2l-1 1l9 8M300 253l-1 2M311 268l-1 1M299 254l-13-11l-2 2l27 24M285 244l-3-2a372 372 0 0 1 -3 4M281 244l-3-2l-2 3M277 243l-2-2l-2 2M266 224a348 348 0 0 1 -6 7l14 11M256 214a334 334 0 0 1 -3 4l10 9M316 260l-67-55a322 322 0 0 1 -3 4l9 7M275 221l-29-24a315 315 0 0 1 -4 5l5 5M244 200l-23-19a285 285 0 0 1 -9 10M301 275l-1 0M281 255l-1 1l20 19M279 252l-1 1l2 2M278 253l-20-19l-2 2M283 266l-2 1M267 249l-1 2l16 15M257 235l-3-2a345 345 0 0 1 -3 3l16 14M253 234l-9-8a332 332 0 0 1 -4 4M242 228l-3-3l-2 3M265 266l-2 1M264 262l-2 2l2 2M263 258l-2 3l2 2M262 259l-6-5a360 360 0 0 1 -4 3M256 249a357 357 0 0 1 -4 4l2 2M254 251l-6-6a348 348 0 0 1 -5 5M243 236a339 339 0 0 1 -5 4l7 7M241 238l-3-2a335 335 0 0 1 -5 5M236 238l-2-2a332 332 0 0 1 -3 3M232 238l-2-3l-2 2M238 227l-27-26a292 292 0 0 1 -8 9l26 26M217 186l-3-2a282 282 0 0 1 -14 15l7 7M274 206l-62-46a266 266 0 0 1 -17 20l12 11M243 259l-2 2M238 265l-2 1M247 288l-2 1M235 270l-3 2l14 16M234 271l-9-10l-3 2M256 307l-1 1M256 308l-6-7l-2 1M249 302l-2-3l-2 2M221 264l-3 2l28 34M223 262l-2-3a341 341 0 0 1 -3 4l2 2M237 265l-22-25a322 322 0 0 1 -8 7l13 14M214 236a319 319 0 0 1 -5 5l2 2M213 233a316 316 0 0 1 -4 3l3 3M204 222l-2 2l9 11M242 260l-39-42l-2 3l2 2M204 214a295 295 0 0 1 -4 3l2 3M204 170l-3-2a262 262 0 0 1 -22 24l23 23M191 180l-3-2a259 259 0 0 1 -25 23M238 296l-1 1M246 312l-1 1M237 297l-13-17l-3 2l25 31M246 316l0 1M249 335l-1 1M248 332l-1 1l2 3M248 333l-2-3l-2 2M245 326l-2 2l2 3M244 327l-20-27l-3 2M224 296a371 371 0 0 1 -3 3l1 2M223 293l-3 2l2 2M222 290l-2 1l2 3M221 287l-2 1l2 3M246 317l-26-34l-2 2l2 2M223 281l-2-3a355 355 0 0 1 -4 3l2 3M227 323l-1 1M215 303l-2 1l14 20M214 303l-2-2l-3 2M212 297l-3 2l2 3M197 275l-2 1l15 22M196 275l-2-2a335 335 0 0 1 -5 3M192 275l-2-4a331 331 0 0 1 -4 3M192 266a328 328 0 0 1 -6 4l2 3M181 249a307 307 0 0 1 -4 2l12 17M219 280l-50-64a275 275 0 0 1 -9 7l19 27M176 190l-10-11a244 244 0 0 1 -20 16l19 25M221 332l-2 1M219 341l-2 2M218 342l-20-31l-3 1M197 312l-6-10l-3 1M189 302l-1-2l-2 1M190 295a351 351 0 0 1 -5 3l2 2M187 288l-3 2l4 6M186 285l-3 1l2 3M220 332l-34-51l-3 2l2 2M186 277l-3 2l1 3M222 370l-1 1M221 370l-1-1l-1 0M195 324l-2 1l26 44M194 325l-1-3l-3 2M174 285a334 334 0 0 1 -3 3l20 35M189 326l-2 1M188 326l-2-3l-3 2M185 324l-2-3l-3 2M209 377l-1 1M182 322l-14-25l-3 1l44 79M166 298l-1-3l-3 1M202 378l-1 1M201 379l-4-8l-1 1M190 354l-2 1l8 17M189 350l-2 1l2 3M175 321l-2 1l15 29M183 351l-1 0M174 322l-4-8a357 357 0 0 1 -5 3l18 34M163 296l-1-3a335 335 0 0 1 -5 3l10 20M167 286a331 331 0 0 1 -9 5l1 3M172 286l-15-24a305 305 0 0 1 -7 4l12 23M154 264l-2-3a302 302 0 0 1 -14 8M184 278l-26-40a285 285 0 0 1 -21 12l8 15M148 244l-2-2a282 282 0 0 1 -17 9M184 367l-1 0M183 367l-3-7l-2 1M180 356l-2 1l1 3M172 351l-2 1M171 352l-1-3l-2 1M179 357l-26-52a342 342 0 0 1 -4 3l20 41M151 307l-4-8a333 333 0 0 1 -4 2M145 300l-2-5l-3 1M147 289a324 324 0 0 1 -7 3l1 3M137 247l-1-3a279 279 0 0 1 -12 6l19 41M130 247l-2-3a276 276 0 0 1 -11 6M123 247l-2-3a272 272 0 0 1 -6 3M156 187l-2-2a241 241 0 0 1 -49 32l13 28M160 346l-1 1M156 353l-2 1M155 353l-1-3l-2 1M156 346a379 379 0 0 1 -4 2l1 3M161 375l-1 1M161 375l-7-16l-1 1M153 360l-6-15l-2 0M154 347l-8-18a360 360 0 0 1 -5 3l5 13M146 321a353 353 0 0 1 -6 3l3 7M160 346l-14-29a350 350 0 0 1 -4 3l1 3M130 202l-1-2a238 238 0 0 1 -31 16l46 103M114 209l-2-3a234 234 0 0 1 -22 10M101 211l-1-3a231 231 0 0 1 -12 6M180 129a222 222 0 0 1 -90 74l4 8M140 172l-2-3a219 219 0 0 1 -55 33M159 114a196 196 0 0 1 -59 54l12 20M156 111a191 191 0 0 1 -27 30l3 3M153 384l-2 1M135 353l-2 1M134 354l-9-23l-1 1M152 385l-32-82a326 326 0 0 1 -6 2l10 27M119 295a318 318 0 0 1 -5 2l3 7M125 349l-3 1M137 402l-1 0M132 385l-1 0l6 17M120 368l-2 0M119 356l-4 1l4 11M117 357l-1-3l-4 1M132 385l-25-72a330 330 0 0 1 -6 1l13 41M123 349l-20-57a309 309 0 0 1 -5 2l6 20M121 395l-1 0M121 395l-12-40l-2 1M120 414l-1 1M115 395l-1 1l5 18M105 370l-2 0M115 395l-9-29l-3 1l1 3M104 351l-4 1l5 15M104 347l-3 1l1 3M102 348l-1-3a359 359 0 0 1 -6 1M108 355l-11-36a333 333 0 0 1 -6 1l7 26M93 298a313 313 0 0 1 -5 2l6 19M91 299l-1-3a309 309 0 0 1 -9 3M100 293l-1-3a306 306 0 0 1 -15 4l1 3M92 292l-1-3a303 303 0 0 1 -12 4M101 275a293 293 0 0 1 -19 6l3 10M117 296l-22-54a260 260 0 0 1 -14 5l11 31M98 405l-1 1M97 406l0-4l-2 1M86 391l-2 0M83 365l-3 1l5 25M81 366l0-3l-4 0M79 363l-3-12l-2 1M81 347a356 356 0 0 1 -7 1l1 3M96 403l-25-105l-4 1l11 48M78 379l-1 0M73 392l-1 0M74 388l-2 1l1 3M73 388l-1-3l-2 1M73 382l-3 0l1 4M74 378l-3 1l1 3M74 375l-2 1l1 3M73 375l-5-26a356 356 0 0 1 -6 1M65 350l0-3l-4 0M63 347l-1-3l-3 0M68 340a346 346 0 0 1 -8 1l1 3M64 340l0-3a343 343 0 0 1 -7 1M78 379l-10-46a340 340 0 0 1 -8 2l0 3M69 299l-1-4a303 303 0 0 1 -11 3l7 36M71 291a300 300 0 0 1 -9 3l1 3M65 398l-2 0M64 412l-1 0M60 411l-1 0M60 400l-2 0l2 11M59 400l-1-4l-3 1M63 412l-3-19l-4 1l1 3M58 393l0-3a394 394 0 0 1 -5 1M54 411l-1 0M55 390l-4-32l-4 0l7 53M64 398l-7-45a358 358 0 0 1 -9 2l1 3M52 354l-4-31a327 327 0 0 1 -8 2M49 296a300 300 0 0 1 -9 1l4 27M67 293l-1-4a297 297 0 0 1 -22 4l1 4M55 292l0-4a294 294 0 0 1 -20 4M44 381l-1 0M43 415l-1 0M41 385l-1 0l3 30M42 382l-2 0l0 3M44 381l-1-3l-2 1l0 3M42 378l-2-18l-5 0M37 360l0-3l-5 0M35 357l-4-36l-3 0M30 321l-1-9l-3 0M45 290l-1-3a290 290 0 0 1 -18 2l2 23M30 404l-1 0M29 404l0-6l-2 0M28 398l0-3l-2 0M27 395l-1-3l-2 0M28 371l-4 0l1 21M29 368l-3 0l0 3M20 388l-1 0M19 388l0-3l-1 0M18 385l0-9l-2 0M14 403l-1 0M10 394l-1 0M11 373l-2 0l1 21M13 403l-1-33l-2 0l0 3M11 370l0-5l-3 0M13 358l-4 0l0 7M14 355l-3 0l0 3M17 376l-1-28l-4 0l1 7M19 345l-5 0l0 3M16 345l0-6a339 339 0 0 1 -11 0M19 335a336 336 0 0 1 -9 1l0 3M19 327l-5 0l1 9M4 417l-1 0M17 327l-1-10a318 318 0 0 1 -13 1l0 99M10 318l-1-4a315 315 0 0 1 -8 1M28 368l-5-57a311 311 0 0 1 -18 0l0 4M14 311l0-3a308 308 0 0 1 -15 0M6 308l0-3a305 305 0 0 1 -8 0M2 305l0-3l-5 0M0 302l0-3l-4 0M-10 408l-1 0M-8 387l-2 0l0 21M-9 387l0-14l-2 0M-7 370l-3 0l0 3M-8 370l0-8l-4 0M-10 362l0-5l-2 0M-11 357l0-4l-2 0M-12 353l0-3l-2 0M-13 350l0-3l-2 0M-14 347l0-3l-2 0M-15 344l0-4l-2 0M-21 413l-1 0M-22 413l0-3l-1-1M-23 356l-1 0M-28 392l-1 0M-23 356l0-3l-3 0l-2 39M-24 353l1-18l-3 0M-25 335l0-3l-3 0M-23 410l5-81a329 329 0 0 1 -8-1l0 4M-22 329l0-4a326 326 0 0 1 -7 0M-16 340l2-39a302 302 0 0 1 -9 0l-2 24M-5 299a299 299 0 0 1 -13-1l-1 3M-2 299l0-4a295 295 0 0 1 -9 0l0 3M-7 295l1-24a271 271 0 0 1 -18-1M-15 271l0-3a268 268 0 0 1 -10-1M22 264a265 265 0 0 1 -42 0l0 3M35 288l-4-28a262 262 0 0 1 -30 2l0 3M62 251a258 258 0 0 1 -46 7l0 3M-42 396l-2 0M-39 388l-3 0l-1 8M-44 388l-1-1M-41 388l1-3l-4-1l0 3M-38 382l-4-1l0 4M-52 428l-1 0M-52 409l-1 0M-53 409l3-23l-1-1M-53 428l7-58l-2 0l-2 16M-43 364l-3 0l-1 6M-55 400l-2 0M-61 417l-1 0M-56 392l-2 0l-4 25M-63 411l-1 0M-63 411l3-22l-2 0M-57 392l3-24l-3-1l-4 22M-56 400l6-46l-3 0l-3 13M-51 354l0-6a352 352 0 0 1 -5-1M-47 345a348 348 0 0 1 -6-1l0 4M-67 403l-1 0M-62 379l-2 0l-4 24M-74 417l-1 0M-75 417l2-10l-2-1M-71 404l-2-1l-1 3M-69 401l-2-1l-1 3M-70 400l8-48l-4-1M-63 379l6-35a348 348 0 0 1 -5-1l-2 9M-50 345l1-3a345 345 0 0 1 -10-2l-1 3M-54 341l0-3a342 342 0 0 1 -10-2M-45 364l7-52a314 314 0 0 1 -16-3l-5 28M-46 311l0-3a311 311 0 0 1 -13-3M-80 409l-1 0M-80 409l3-16l-2 0M-78 393l3-18l-1-1M-75 375l0-4l-2-1M-76 371l1-4l-2 0M-52 307l3-19a292 292 0 0 1 -10-2l-17 81M-92 419l-1 0M-84 388l-1-1l-7 32M-84 388l7-35l-3 0M-72 337l-3-1l-3 17M-54 287l1-4a288 288 0 0 1 -8-2l-12 56M-57 282l2-10a278 278 0 0 1 -7-2M-40 382l12-109a274 274 0 0 1 -30-5l-1 3M-98 407l-2 0M-97 404l-1 0l-1 3M-97 404l4-20l-2-1M-97 388l-1 0M-94 384l1-4l-3 0l-2 8M-94 380l0-3l-3-1M-80 340a350 350 0 0 1 -6-1l-9 38M-83 340l1-3a347 347 0 0 1 -5-1M-78 334a343 343 0 0 1 -6-1l-1 3M-81 334l6-23a320 320 0 0 1 -6-2M-106 387l-1-1M-103 384l-3-1l0 3M-101 381l-3 0l0 3M-102 381l0-3l-4-1M-78 310l0-3a316 316 0 0 1 -6-2l-20 72M-113 392l-1-1M-114 392l4-14l-1-1M-117 394l-2-1M-111 377l1-3l-2 0l-6 19M-92 324l-4-1l-15 51M-81 306l9-33a283 283 0 0 1 -7-1l-15 51M-123 386l-2 0M-120 384l-3-1l-1 3M-118 381l-3-1l-1 3M-120 381l1-3a396 396 0 0 1 -4-2M-108 353a369 369 0 0 1 -4-2l-9 26M-110 352l4-14a355 355 0 0 1 -5-1M-127 368l-2-1M-125 365l-2 0l-1 3M-126 365l4-12l-3-1M-112 336a355 355 0 0 1 -5-1l-6 18M-109 338l1-3a351 351 0 0 1 -6-2l-1 3M-88 288a302 302 0 0 1 -7-2l-16 48M-76 273l2-6a278 278 0 0 1 -10-2l-7 22M-136 378l-1-1M-134 375l-1 0l-2 3M-134 364l-3-1M-127 347l-2-1l-7 17M-128 346l3-8l-4-1M-135 375l21-57a338 338 0 0 1 -5-1l-8 20M-117 318l1-3a335 335 0 0 1 -5-3M-79 266l1-3a274 274 0 0 1 -19-6l-22 57M-43 271l0-3a271 271 0 0 1 -44-11l-1 3M-65 263l1-3a268 268 0 0 1 -34-10M-81 255l1-3a265 265 0 0 1 -17-6M-25 260a262 262 0 0 1 -63-14l-1 3M-57 255l1-3a258 258 0 0 1 -40-12M39 255l0-3a255 255 0 0 1 -114-8l-1 3M61 244a252 252 0 0 1 -79 7l-1 3M-150 368l-1-1M-151 368l2-3l-2-1M-150 364l8-19l-2 0M-143 345l1-3l-3-1M-164 385l-2-1M-165 385l11-27l-1-1M-143 342l1-3l-3-2l-9 21M-137 337a364 364 0 0 1 -6-2l-1 3M-134 335a361 361 0 0 1 -4-2l-2 3M-136 334l11-29a330 330 0 0 1 -7-3M22 251l-1-3a249 249 0 0 1 -118-19l-31 75M-165 353l-2-1M-162 351l-2-1l-2 3M-163 350l1-3l-3-1M-158 346a380 380 0 0 1 -4-2l-1 3M-156 343l-3-1l-1 3M-157 342l1-2a374 374 0 0 1 -6-3M-159 338l5-10a363 363 0 0 1 -4-2M-138 307a337 337 0 0 1 -7-3l-11 23M-136 304a333 333 0 0 1 -4-2l-2 3M-175 357l-1-1M-138 303l1-3a330 330 0 0 1 -9-4l-29 60M-133 299a327 327 0 0 1 -7-4l-1 3M-130 294a322 322 0 0 1 -4-2l-2 5M-176 349l-1-1M-201 382l-1-1M-190 364l-2-1l-9 18M-191 364l1-3l-2-1M-191 360l2-2l-2-1M-190 357l1-3l-2-1M-206 379l-1-1M-190 354l18-33l-3-1l-32 58M-166 321a361 361 0 0 1 -6-3l-1 2M-161 314a352 352 0 0 1 -4-3l-4 8M-177 349l19-37a349 349 0 0 1 -4-2l-1 2M-160 311l2-3a346 346 0 0 1 -9-5M-154 306a343 343 0 0 1 -7-3l-2 2M-151 304a340 340 0 0 1 -5-2l-1 3M-214 368l-1-1M-207 359l-2-1l-5 10M-205 357l-1-1l-2 3M-202 355l-2-1l-1 2M-203 354l2-3a405 405 0 0 1 -4-2M-195 344a396 396 0 0 1 -4-2l-4 8M-197 343l22-37a353 353 0 0 1 -5-3M-171 305a349 349 0 0 1 -5-3l-1 3M-169 302l-3-2l-2 3M-218 367l-1-1M-170 301l1-2a343 343 0 0 1 -7-5l-43 72M-215 352l-1 0M-188 311l-2-1l-26 42M-221 355l-1-1M-211 342l-2-1l-8 14M-189 310l2-3l-3-1l-22 35M-172 297l1-3a340 340 0 0 1 -7-5l-10 18M-163 294a337 337 0 0 1 -10-5l-1 3M-154 303l23-45a289 289 0 0 1 -13-7l-24 41M-132 293l17-36a281 281 0 0 1 -19-10l-4 7M-39 246l1-3a246 246 0 0 1 -71-23l-16 32M60 235a242 242 0 0 1 -134-4l0 3M59 232a239 239 0 0 1 -66 7l0 3M59 228a236 236 0 0 1 -33 7l0 3M43 232l-1-3a233 233 0 0 1 -166-32M58 222a230 230 0 0 1 -101 3l-1 4M58 219a226 226 0 0 1 -50 7l0 3M33 224l0-3a223 223 0 0 1 -152-32M88 244l-13-37a220 220 0 0 1 -121 8l0 3M15 219l0-3a217 217 0 0 1 -132-33M-53 210l8-32a184 184 0 0 1 -54-23M143 126l-7-7a181 181 0 0 1 -208 47l-1 3M145 102a177 177 0 0 1 -106 71l0 3M-212 322l-1-1M-186 285l-2-1l-24 38M-176 272l-2-1l-9 14M-194 287l-3-2M-177 271l14-21a299 299 0 0 1 -6-3l-26 39M-166 248l2-2a296 296 0 0 1 -4-3M-239 343l-1 0M-221 311l-1 0M-222 311l5-6l-2-2M-218 304l2-3l-2-1M-219 298l-2-1M-220 298l28-38l-2-1M-193 260l2-3l-2-1M-198 262l-2-2M-192 257l6-9l-2-2l-11 15M-181 247a306 306 0 0 1 -4-3l-2 3M-217 301l45-62a294 294 0 0 1 -4-3l-7 10M-174 237l2-2a291 291 0 0 1 -8-6M-148 209a256 256 0 0 1 -7-5l-21 28M-151 207l2-3a253 253 0 0 1 -8-5M-240 343l101-144a243 243 0 0 1 -8-5l-6 7M-166 244l32-48a237 237 0 0 1 -6-4l-3 4M-119 184a219 219 0 0 1 -7-5l-11 15M-233 286l-1-1M-232 276l-1-1M-264 308l-1-1M-232 276l2-3l-3-2l-32 37M-227 272a354 354 0 0 1 -3-3l-2 3M-228 271l2-3a351 351 0 0 1 -4-3M-222 268a348 348 0 0 1 -4-4l-2 3M-234 285l48-58a293 293 0 0 1 -3-3l-35 42M-179 221l-3-2l-5 6M-176 219l-2-2l-2 3M-164 205l-2-1l-11 14M-165 204l2-2a259 259 0 0 1 -7-7M-167 198l4-4a253 253 0 0 1 -4-3M-156 196a250 250 0 0 1 -7-6l-2 2M-153 194a247 247 0 0 1 -4-4l-3 3M-262 292l-1-2M-263 291l3-2a389 389 0 0 1 -3-3M-257 288a386 386 0 0 1 -3-3l-2 2M-288 310l0-1M-288 310l33-36l-1-1M-258 286l52-58a307 307 0 0 1 -4-4l-46 50M-202 227a304 304 0 0 1 -3-3l-3 2M-261 275l-1 0M-258 274l-1-1l-3 2M-259 273l21-22l-1-2M-204 226l18-20a277 277 0 0 1 -5-5l-47 49M-181 205a274 274 0 0 1 -5-4l-3 2M-184 203l3-3a269 269 0 0 1 -6-6M-184 197l2-3a266 266 0 0 1 -3-3M-184 193l11-11l-2-2M-155 192l27-34a203 203 0 0 1 -13-12l-33 35M-123 182l33-48a161 161 0 0 1 -17-13l-28 31M-263 265l-1-1M-292 290l-1-1M-292 289l23-23l-2-1M-270 266l2-2l-1-2M-249 248l-2-2l-17 17M-263 265l25-26l-2-2l-10 10M-239 238l3-2a334 334 0 0 1 -4-4M-238 234l3-2a330 330 0 0 1 -3-3M-217 222a311 311 0 0 1 -5-5l-15 13M-299 279l-1-1M-277 259l-1-1l-21 20M-250 236l-1-1l-26 24M-291 265l-2-1M-288 264l-2-2l-2 2M-265 244l-1-1l-23 20M-305 271l-1-1M-297 258l-1-1M-285 250l-1-2l-12 10M-286 249l28-25l-2-2M-306 270l54-47a336 336 0 0 1 -3-3l-4 3M-253 221l6-5a328 328 0 0 1 -4-5M-242 216a325 325 0 0 1 -4-4l-3 2M-239 215a322 322 0 0 1 -3-3l-2 2M-317 258l0-1M-307 251l-1-1l-9 8M-288 238l-2-2l-17 15M-285 237l-1-2l-3 2M-282 236l-1-2l-3 2M-292 236l-1-1M-337 267l0-1M-295 235l-1-1l-41 32M-293 235l13-10l-1-2l-15 12M-282 235l16-14a346 346 0 0 1 -4-5l-10 8M-268 219l3-2a343 343 0 0 1 -5-6M-268 214l10-8l-2-3M-241 213l14-12a304 304 0 0 1 -11-13l-21 17M-265 243l43-40a301 301 0 0 1 -9-10l-2 2M-226 198l2-2a297 297 0 0 1 -11-14M-251 235l37-34a294 294 0 0 1 -13-14l-2 2M-221 194l3-2a291 291 0 0 1 -13-15M-209 198a288 288 0 0 1 -13-15l-3 2M-206 196a285 285 0 0 1 -7-8l-3 3M-203 195a281 281 0 0 1 -4-5l-3 2M-220 219l45-44a247 247 0 0 1 -5-6l-25 24M-314 238l-1-1M-297 226l-1-1l-16 12M-297 225l2-2l-1-1M-295 222l2-1l-1-3M-178 172l2-2a244 244 0 0 1 -20-24l-98 73M-302 218l-2-3M-303 217l3-2l-1-2M-301 214l3-2l-1-2M-275 201a341 341 0 0 1 -3-4l-21 14M-335 234l-1-1M-277 199l3-2a338 338 0 0 1 -3-4l-58 40M-276 195l12-8l-2-3M-265 185l2-2l-1-2M-263 182l2-2l-1-2M-340 225l-1-1M-337 224l-1-1l-3 1M-337 223l9-6l-2-2M-324 217l-2-2l-3 1M-364 229l0-1M-315 199l-1-1l-48 30M-301 194l-2-3l-12 8M-292 189l-1-2l-9 5M-325 216l38-26a344 344 0 0 1 -3-4l-2 2M-266 179a321 321 0 0 1 -2-4l-20 13M-263 178l-2-3l-2 2M-264 177l11-7a305 305 0 0 1 -6-9M-261 179l28-19a283 283 0 0 1 -4-7l-19 12M-235 157l2-2a279 279 0 0 1 -5-8M-223 164a276 276 0 0 1 -9-15l-3 2M-362 217l0-1M-362 216l25-15l-1-2M-338 200l3-1l-1-3M-336 198l3-2l-1-2M-335 193l-1-1M-334 195l33-19l-1-2l-34 19M-296 178a345 345 0 0 1 -3-5l-3 2M-289 175l-2-3l-6 4M-379 205l-1-1M-332 181l-1-1l-47 24M-342 182l-1-1M-333 180l3-1l-1-3l-12 6M-300 167a343 343 0 0 1 -2-5l-29 15M-281 159a323 323 0 0 1 -2-4l-18 9M-290 174l40-24a292 292 0 0 1 -5-8l-27 15M-377 197l-1-1M-377 196l40-20l-1-2M-357 181l-1-1M-353 181l-1-2l-3 2M-354 180l13-6l-2-3M-342 172l18-9l-1-2M-325 162l35-17l-2-3M-291 143l3-1a321 321 0 0 1 -2-4M-337 175l55-29a317 317 0 0 1 -3-8l-4 2M-375 174l0-1M-323 151l-1-1l-51 23M-383 175l0-1M-359 161l-1-1M-383 174l58-26l-1-3l-34 15M-324 150l3-1l-1-4l-3 2M-301 142l-1-4l-20 9M-297 141l-2-2l-2 1M-389 169l-1-1M-374 163l0-1l-16 6M-370 163l-1-2l-3 2M-371 162l58-25l-1-3M-298 140l11-5a317 317 0 0 1 -4-9l-23 10M-284 142l3-1a314 314 0 0 1 -5-12l-3 1M-284 135l3-1a311 311 0 0 1 -5-13M-272 143a308 308 0 0 1 -9-17l-2 1M-277 135l3-2a304 304 0 0 1 -7-15M-277 126l3-2a301 301 0 0 1 -4-8M-252 146l23-14a265 265 0 0 1 -14-26l-33 14M-223 136a261 261 0 0 1 -10-18l-3 1M-381 155l0-1M-378 155l0-1l-3 1M-369 147l0-1M-346 139l-1-1l-22 8M-363 142l0-2M-347 138l22-8l-1-3l-37 14M-325 128l3-1a347 347 0 0 1 -2-4M-378 154l69-28a333 333 0 0 1 -2-6l-12 5M-305 126a330 330 0 0 1 -2-4l-3 1M-390 144l-1-1M-379 141l-1-1l-10 4M-380 141l29-11l0-2M-333 125l-1-3l-17 7M-333 124l27-10l-1-4M-355 121l0-2M-351 122l-1-3l-3 1M-351 120l18-6l-1-3M-334 113l33-11l-1-3M-383 125l0-1M-400 128l0-1M-383 124l28-9l0-2l-45 14M-302 100l3-1l-1-3l-55 18M-283 99a300 300 0 0 1 -2-6l-14 5M-307 112l28-11a296 296 0 0 1 -2-6l-3 1M-280 98l31-10a264 264 0 0 1 -3-9M-306 124l84-34a239 239 0 0 1 -5-15l-23 8M-404 116l0-1M-376 109l0-2l-28 8M-368 109l0-3l-8 2M-347 103l0-2l-21 6M-343 104l-1-3l-3 1M-340 103l0-1l-4 0M-340 102l3 0a352 352 0 0 1 -2-7M-356 98l0-1M-338 98l3-1a349 349 0 0 1 -1-5l-20 5M-336 95l3-1l-1-4M-327 101a342 342 0 0 1 -3-10l-3 1M-297 92a311 311 0 0 1 -2-5l-30 9M-298 90l3-1a308 308 0 0 1 -3-10M-224 83l3-1a236 236 0 0 1 -6-18l-69 20M-407 101l0-1M-404 101l0-2l-3 1M-404 100l75-18l-1-2M-384 92l-1-1M-330 81l9-2l0-3l-64 15M-397 88l0-1M-393 88l-1-1l-3 0M-368 84l0-2l-26 5M-333 77l0-2l-35 8M-408 87l-1-1M-398 80l0-1M-370 76l0-2l-28 6M-408 86l83-17l-1-3l-44 9M-312 67l-1-2l-12 2M-364 70l-1-2M-365 69l8-1l-1-2M-358 67l16-3l-1-2M-342 63l16-3l0-2M-313 66l4-1a316 316 0 0 1 -2-9l-15 3M-310 61l3-1a313 313 0 0 1 -1-6M-358 59l0-1M-354 61l-1-3l-3 0M-308 57l3 0a310 310 0 0 1 0-6l-49 8M-305 54l3-1a307 307 0 0 1 -1-5M-333 76l37-9a303 303 0 0 1 -3-17l-3 1M-292 68a300 300 0 0 1 -2-10l-4 1M-321 77l41-10a288 288 0 0 1 -1-7l-12 3M-386 57l0-1M-371 56l0-2l-15 2M-371 55l3-1l0-2M-368 53l3 0l0-3M-344 53l-1-4l-20 3M-281 64l4-1a285 285 0 0 1 -5-21l-63 9M-273 69a281 281 0 0 1 -4-17l-3 1M-269 69a278 278 0 0 1 -3-9l-3 1M-255 66a263 263 0 0 1 -1-5l-15 4M-251 66l-1-3l-3 1M-224 73l3-1a233 233 0 0 1 -5-14l-26 6M-228 127l48-27a206 206 0 0 1 -18-43l-26 8M-173 106a203 203 0 0 1 -14-28l-3 1M-228 156l63-43a200 200 0 0 1 -13-22l-3 1M-172 102l4-2a195 195 0 0 1 -26-74M-353 44l0-2M-381 40l0-1M-378 42l0-3l-3 1M-369 42l0-3l-9 1M-369 41l3-1l0-4M-394 36l0-2M-385 36l0-2l-9 1M-385 35l3 0l0-3M-379 31l0-2M-382 34l29-3l-1-3l-25 2M-354 29l15-1l0-4M-335 32a337 337 0 0 1 -1-6l-3 0M-366 38l58-6a310 310 0 0 1 -1-5l-27 2M-305 35a307 307 0 0 1 0-6l-3 0M-353 43l61-8l0-4l-13 1M-288 37l-1-4l-3 0M-285 38l0-3l-3 0M-401 27l0-1M-401 27l30-2l0-2M-285 36l8-1a279 279 0 0 1 -2-17l-92 6M-184 64l3-1a192 192 0 0 1 -10-45l-87 9M-378 21l0-1M-378 21l10-1l0-2M-368 19l4 0l-1-2M-364 18l3 0l0-2M-361 17l3-1l0-2M-355 21a355 355 0 0 1 0-6l-3 0M-355 18l3 0l0-5M-396 14l0-1M-352 16l3-1l0-3l-47 1M-349 14l4-1l-1-3M-188 41l3-1a189 189 0 0 1 -4-34l-157 6M-186 158l45-38a186 186 0 0 1 -43-97l-3 1M-170 75l3-1a183 183 0 0 1 -15-69M-178 40l3-1a179 179 0 0 1 -4-35M-406 1l0-2M-406 0l12 0l0-2M-372 2l0-3l-22 0M-372 0l9 0l0-3M-416-8l0-1M-416-8l13 0l0-2M-403-9l26 1l0-2M-365-6l0-3l-12 0M-376-13l0-2M-376-14l37 2l0-3M-339-14l3 0l0-3M-333-10l0-5l-3-1M-365-7l35 1a330 330 0 0 1 0-7l-3 0M-289-4l1-4l-42-2M-364-20l1-1M-363-21l3 1l0-4M-360-22l3 0l0-2M-357-23l3 0l0-2M-379-31l0-2M-379-32l9 1l0-3M-367-29l0-4l-3 0M-364-28l0-3l-3 0M-419-43l0-1M-419-43l18 2l0-2M-377-37l0-3l-24-2M-345-33l0-2l-32-3M-345-34l3 0l1-4M-364-29l67 5a298 298 0 0 1 0-7l-45-5M-364-43l0-2M-364-44l13 1l1-2M-351-44l14 2l1-3M-334-39l1-4l-3 0M-327-37l1-3l-7-1M-297-27l10 0a288 288 0 0 1 1-7l-41-4M-284-21a285 285 0 0 1 0-9l-3 0M-354-24l81 6a274 274 0 0 1 1-6l-12-1M-289-6l19 0a270 270 0 0 1 1-15l-4 0M-267-3a267 267 0 0 1 0-10l-3 0M-363-1l99 0a264 264 0 0 1 0-7l-3 0M-261 2a261 261 0 0 1 0-6l-3 0M-257 2l-1-3l-3 0M-254 3l0-2l-4 0M-254 2l3 0a251 251 0 0 1 2-36M-236 4a236 236 0 0 1 0-19l-15-1M-236-6l3 0a233 233 0 0 1 2-26M-232-19l3 0a230 230 0 0 1 2-13M-228-25l3 0a226 226 0 0 1 1-7M-225-29l4 1l0-4M-220 4a220 220 0 0 1 2-34l-3 0M-373-60l0-2M-359-56l0-3l-14-2M-359-57l27 4l0-3M-316-48l1-4l-17-3M-315-50l7 1l1-4M-308-51l17 3l1-3M-395-74l0-1M-353-65l1-1l-43-8M-409-81l0-1M-398-78l1-1l-12-3M-333-64l0-2l-65-13M-352-66l24 5l1-3l-6-1M-325-59l1-3l-3 0M-391-81l0-1M-362-74l0-1l-29-6M-362-75l11 3l0-3M-385-85l0-1M-402-92l0-2M-375-85l0-2l-27-6M-385-85l50 11l0-3l-40-9M-333-72l1-3l-3-1M-351-73l21 4l1-4l-3 0M-325-60l41 7a289 289 0 0 1 2-8l-48-10M-279-50a284 284 0 0 1 1-6l-5-1M-367-98l0-1M-342-88l1-3l-26-7M-339-86l1-3l-3-1M-336-84l1-3l-3 0M-333-82l0-3l-3 0M-301-73l0-2l-32-8M-297-71l0-2l-4-1M-297-72l3 1a302 302 0 0 1 2-9M-291-69a299 299 0 0 1 1-6l-3-1M-360-103l0-2M-360-104l38 11l0-2M-322-94l11 3l1-2M-311-92l3 1l1-2M-306-86a318 318 0 0 1 2-5l-3-1M-293-81l1-4l-13-3M-290-72l15 4a283 283 0 0 1 2-9l-20-6M-274-73l16 5a267 267 0 0 1 3-11M-279-53l20 4a264 264 0 0 1 6-24l-3-1M-290-49l33 5a260 260 0 0 1 4-16l-3-1M-220-13l19 1a202 202 0 0 1 3-28l-57-12M-302-99a318 318 0 0 1 2-4M-301-101l3 1l1-3M-297-93a311 311 0 0 1 2-8l-3-1M-200-26l3 0a198 198 0 0 1 8-36l-107-35M-194-44l4 1a195 195 0 0 1 6-22M-174 4a174 174 0 0 1 7-52l-21-6M-178 22l48-6a131 131 0 0 1 0-33l-43-6M-99 128l21-27a128 128 0 0 1 -50-101l-3 0M98 148l-29-45a124 124 0 0 1 -180-49l-4 2M117 77l-16-11a120 120 0 0 1 -132 50l-1 4M165 78l-59-28a117 117 0 0 1 -65 59l2 4M171-10l-58 4a113 113 0 0 1 -36 89l2 3M149-75l-51 26a110 110 0 0 1 4 90l3 1M115-116l-41 41a106 106 0 0 1 32 71l4 0M101-153l-45 68a102 102 0 0 1 38 44l3-2M43-138l-14 44a99 99 0 0 1 46 30l3-2M31-134l-10 41a95 95 0 0 1 32 14l2-3M-50-192l27 103a92 92 0 0 1 59 5l2-3M-88-112l34 43a88 88 0 0 1 61-19l0-3M0 0l-252-172M0 0l-219-187" stroke="#868686" stroke-width="1.7" fill="none"/><circle r="289" stroke="#808080" stroke-width="300" pathLength="36000" stroke-dasharray="0 3414 28 24985 44 7529" fill="none"/><circle r="301" stroke="#808080" stroke-width="276" pathLength="36000" stroke-dasharray="0 26885 28 1498 28 2802 28 4731" fill="none"/><circle r="307" stroke="#808080" stroke-width="264" pathLength="36000" stroke-dasharray="0 3509 28 14314 28 17131 28 962" fill="none"/><circle r="313" stroke="#808080" stroke-width="252" pathLength="36000" stroke-dasharray="0 1887 28 831 28 4 28 719 28 14282 28 11120 44 2198 28 4393 28 326" fill="none"/><circle r="319" stroke="#808080" stroke-width="240" pathLength="36000" stroke-dasharray="0 1903 28 783 44 783 28 11261 28 2357 28 11677 76 2261 28 2707 28 1980" fill="none"/><circle r="325" stroke="#808080" stroke-width="228" pathLength="36000" stroke-dasharray="0 2698 28 9512 28 11041 28 5171 28 370 28 3390 28 1626 28 1996" fill="none"/><circle r="331" stroke="#808080" stroke-width="216" pathLength="36000" stroke-dasharray="0 695 28 1196 28 847 28 290 44 401 28 3168 28 719 28 4742 28 5585 28 894 28 4935 28 3120 28 497 28 3168 28 1324 43 1992 28 1609 60 279" fill="none"/><circle r="337" stroke="#808080" stroke-width="204" pathLength="36000" stroke-dasharray="0 2317 28 4376 44 767 28 4647 28 6554 28 6812 28 1275 28 449 44 322 28 2262 28 1864 44 1053 44 1880 44 978" fill="none"/><circle r="343" stroke="#808080" stroke-width="192" pathLength="36000" stroke-dasharray="0 615 28 6921 28 5251 28 544 28 5314 28 8163 28 1610 28 910 44 2262 28 2182 44 1450 28 438" fill="none"/><circle r="349" stroke="#808080" stroke-width="180" pathLength="36000" stroke-dasharray="0 2301 28 1005 28 1721 28 2485 28 894 28 989 28 2946 28 560 44 1705 28 1371 28 258 28 1356 28 3 28 6748 28 2453 28 767 28 274 28 767 44 3199 28 1435 28 242 28 815 60 51 28 465 28 454" fill="none"/><circle r="355" stroke="#808080" stroke-width="168" pathLength="36000" stroke-dasharray="0 186 28 513 28 814 28 4870 28 3009 43 1578 28 2230 28 4631 28 1641 28 5874 28 480 28 3407 28 465 28 576 28 449 28 1721 28 417 28 433 28 1069 44 1074" fill="none"/><circle r="361" stroke="#808080" stroke-width="156" pathLength="36000" stroke-dasharray="0 154 44 370 60 274 44 321 28 4981 28 6570 44 704 44 1148 28 1705 44 640 28 799 28 322 28 560 28 4299 28 401 28 2198 44 1101 28 322 28 306 44 751 28 942 28 481 43 370 44 942 60 242 28 210 28 370 44 2595 28 915" fill="none"/><circle r="367" stroke="#808080" stroke-width="144" pathLength="36000" stroke-dasharray="0 202 28 1324 28 3040 28 2310 28 623 28 402 28 242 28 719 44 3359 28 306 28 1403 44 1784 28 592 28 545 28 2039 28 2534 44 672 44 1164 28 3041 28 210 28 704 28 147 59 211 28 401 28 1705 60 513 75 672 28 2166 28 624 44 417 28 179 44 624 28 24" fill="none"/><circle r="373" stroke="#808080" stroke-width="132" pathLength="36000" stroke-dasharray="0 218 44 1753 59 84 28 147 28 210 28 211 28 147 59 386 28 1276 28 623 28 847 28 958 28 194 44 1530 28 1006 28 3041 28 258 28 1339 28 386 28 449 44 528 28 211 28 2802 44 147 28 178 28 2312 28 2103 28 1021 28 1053 28 163 28 67 28 577 28 989 28 624 28 211 43 306 44 751 28 465 28 3661 28 1519" fill="none"/><circle r="379" stroke="#808080" stroke-width="120" pathLength="36000" stroke-dasharray="0 361 76 99 28 687 28 926 28 52 28 115 44 115 44 338 28 35 28 99 44 68 28 67 60 1323 44 1499 28 465 44 1657 28 449 60 1435 28 878 28 894 28 354 44 1816 76 830 28 704 28 576 28 2039 44 671 28 84 28 3 28 20 60 83 44 1231 44 1911 28 879 59 338 28 2596 75 115 28 84 28 210 28 258 28 624 28 20 28 560 44 243 28 3152 43 2167 28 1137" fill="none"/><circle r="385" stroke="#808080" stroke-width="108" pathLength="36000" stroke-dasharray="0 1124 44 910 28 4 28 4 28 290 28 67 28 370 28 1371 44 179 59 767 28 115 76 211 28 3 28 68 28 449 44 1800 44 322 44 735 28 4 60 1053 44 496 28 211 28 4 28 4 28 449 28 782 108 767 44 353 28 195 28 1228 28 529 28 3 28 911 28 433 28 687 44 433 28 290 28 36 28 592 28 1294 28 210 28 831 28 322 28 703 28 99 28 529 44 131 28 67 60 67 44 195 28 131 28 385 44 2182 28 52 28 210 28 481 44 4 28 4 75 386 44 19 28 163 28 290 28 4 28 99 28 1991 44 52 28 115 28 560 44 449 28 83 28 481 28 4 28 52 43 195 28 131 28 735 44 465 28 847 28 8" fill="none"/><circle r="391" stroke="#808080" stroke-width="96" pathLength="36000" stroke-dasharray="0 91 28 178 60 799 28 52 28 194 28 370 28 624 59 52 28 608 28 210 28 211 28 226 28 243 28 115 28 544 28 417 28 227 44 2134 28 147 28 862 28 290 60 767 28 354 28 1164 44 195 28 3 28 370 28 115 28 481 28 385 28 545 28 210 28 163 28 290 28 147 44 767 28 210 28 338 28 385 28 386 28 687 28 386 28 3 28 243 28 178 28 306 28 100 28 146 28 2185 28 147 28 67 28 370 28 210 44 4 28 4 28 1721 28 226 44 322 28 290 28 194 60 227 28 83 28 290 28 67 44 1022 44 83 60 3 28 1737 28 402 28 3 28 720 28 290 28 51 28 402 28 19 44 83 28 672 44 36 28 115 28 433 28 417 76 99 44 4 43 211 28 306 28 560 28 465 28 36 28 67 28 195 28 131 28 183" fill="none"/><circle r="397" stroke="#808080" stroke-width="84" pathLength="36000" stroke-dasharray="0 933 28 418 91 4 28 83 28 163 44 20 28 353 28 100 59 4 28 195 75 338 28 401 28 211 28 83 60 656 28 147 28 35 155 767 28 815 28 370 28 480 28 195 28 99 28 163 28 449 28 831 59 513 28 385 28 465 76 195 44 51 28 497 60 162 28 100 28 290 28 3 28 4 28 513 91 1642 28 751 28 417 28 195 28 115 44 83 28 560 28 227 60 321 28 100 28 560 44 322 28 433 28 210 44 322 44 4 59 1374 44 465 44 83 44 35 28 68 28 4 75 672 44 67 44 878 44 767 28 195 28 4 44 449 44 178 28 84 28 528 44 115 28 783 28 306 28 290 44 449 60 242 28 67 28 354 44 1021 28 211 28 51 28 688 28 226 28 20 28 4 28 3 28 163 44 4 28 194 28 593 28 162 28 672 28 242 28 115 28 243 28 115 28 115 28 20 59 990 60 51 28 52 28 40" fill="none"/><circle r="403" stroke="#808080" stroke-width="72" pathLength="36000" stroke-dasharray="0 441 43 354 28 481 28 1530 60 338 43 227 76 449 43 20 28 83 44 115 28 4 28 147 92 496 60 147 28 52 44 226 28 226 60 36 28 910 28 131 28 51 44 433 28 608 60 52 28 306 28 194 28 52 28 465 28 576 28 401 28 465 28 67 28 1308 28 4 28 226 60 1037 28 274 28 4 28 83 28 4 28 847 91 624 28 227 28 83 60 385 92 51 76 83 44 195 28 258 28 226 28 306 76 51 28 68 28 115 76 147 28 226 28 2137 75 20 28 894 28 68 28 35 28 736 28 353 28 195 44 35 76 274 28 163 44 115 44 544 28 36 28 51 28 417 28 306 76 385 28 974 28 83 44 1260 28 227 28 83 44 4 28 131 28 51 60 385 44 36 28 147 28 274 28 163 28 115 28 687 44 306 76 4 28 226 28 51 28 84 28 131 44 353 28 20 60 35 28 195 28 306 28 322 44 131 28 115 28 19 28 1276 28 20 28 56" fill="none"/><circle r="409" stroke="#808080" stroke-width="60" pathLength="36000" stroke-dasharray="0 631 28 290 28 1292 28 767 44 1387 60 385 44 115 44 4 28 799 28 496 28 4 28 4 28 52 28 35 28 147 44 67 44 20 28 51 28 259 44 226 60 608 28 1768 44 736 28 290 28 162 28 1054 75 704 28 3 44 68 60 51 28 433 44 67 28 243 28 703 28 179 28 974 28 337 28 84 43 497 28 20 28 83 28 131 44 465 60 210 28 20 28 385 28 322 28 195 28 99 28 1469 28 274 28 560 28 147 28 227 59 147 60 52 59 4 28 52 60 385 28 179 44 592 28 99 28 179 28 19 28 195 28 51 28 20 28 258 28 147 28 497 28 20 43 227 44 4 28 496 76 131 28 4 28 99 28 83 28 4 28 290 28 115 28 115 28 847 28 226 44 4 28 1117 28 3 28 513 28 751 28 688 28 194 44 258 28 1308 28 242 44 640 60 178 28 52 28 36 28 35 60 390" fill="none"/><circle r="415" stroke="#808080" stroke-width="48" pathLength="36000" stroke-dasharray="0 107 44 639 44 258 44 624 28 147 28 20 28 846 44 894 28 195 44 274 28 688 28 1291 28 20 28 147 44 51 28 497 28 576 44 20 28 783 28 3 28 354 28 672 28 369 28 242 28 52 28 210 28 68 44 83 28 20 28 242 28 99 60 4 28 115 28 624 60 783 28 3 44 4 28 465 28 131 28 354 28 305 28 36 28 226 60 4 28 258 28 513 28 20 43 449 28 1070 28 4808 28 401 44 306 28 3 28 465 28 1546 28 147 28 481 28 688 28 67 28 497 28 1148 28 449 28 433 28 624 28 36 28 99 28 227 59 147 28 84 28 3501 28 1546 28 152" fill="none"/><circle r="421" stroke="#808080" stroke-width="36" pathLength="36000" stroke-dasharray="0 11 28 465 28 656 28 2548 28 449 28 926 28 385 28 4 44 4710 44 512 28 4 28 195 28 2834 28 1196 28 4 28 2770 28 4236 28 640 28 2643 28 990 28 210 28 2914 43 1213 28 226 28 799 28 449 28 163 28 3 28 116 28 496 28 99 28 767 28 624 28 772" fill="none"/><circle r="427" stroke="#808080" stroke-width="24" pathLength="36000" stroke-dasharray="0 4066 28 4058 28 14857 28 2484 28 6984 28 3411" fill="none"/><circle r="307" stroke="#f2982f" stroke-width="264" pathLength="36000" stroke-dasharray="0 17870 22 18108" fill="none"/><circle r="313" stroke="#2f9b4f" stroke-width="252" pathLength="36000" stroke-dasharray="0 1875 22 34103" fill="none"/><circle r="313" stroke="#868686" stroke-width="252" pathLength="36000" stroke-dasharray="0 2765 22 33213" fill="none"/><circle r="313" stroke="#f2982f" stroke-width="252" pathLength="36000" stroke-dasharray="0 12257 22 23721" fill="none"/><circle r="319" stroke="#2f9b4f" stroke-width="240" pathLength="36000" stroke-dasharray="0 34011 22 1967" fill="none"/><circle r="319" stroke="#868686" stroke-width="240" pathLength="36000" stroke-dasharray="0 19921 22 16057" fill="none"/><circle r="325" stroke="#f2982f" stroke-width="228" pathLength="36000" stroke-dasharray="0 714 22 35264" fill="none"/><circle r="331" stroke="#f2982f" stroke-width="216" pathLength="36000" stroke-dasharray="0 26904 22 9074" fill="none"/><circle r="331" stroke="#2f9b4f" stroke-width="216" pathLength="36000" stroke-dasharray="0 3147 22 24291 22 8518" fill="none"/><circle r="331" stroke="#868686" stroke-width="216" pathLength="36000" stroke-dasharray="0 12225 22 23753" fill="none"/><circle r="331" stroke="#e8452c" stroke-width="216" pathLength="36000" stroke-dasharray="0 18824 22 17154" fill="none"/><circle r="337" stroke="#f2982f" stroke-width="204" pathLength="36000" stroke-dasharray="0 7519 22 10 22 11203 22 17202" fill="none"/><circle r="337" stroke="#2f9b4f" stroke-width="204" pathLength="36000" stroke-dasharray="0 17902 22 18076" fill="none"/><circle r="343" stroke="#f2982f" stroke-width="192" pathLength="36000" stroke-dasharray="0 28812 22 677 22 2268 22 4177" fill="none"/><circle r="343" stroke="#868686" stroke-width="192" pathLength="36000" stroke-dasharray="0 31817 22 1154 22 1950 22 1013" fill="none"/><circle r="343" stroke="#2f9b4f" stroke-width="192" pathLength="36000" stroke-dasharray="0 3099 22 4462 22 5209 38 20157 22 2969" fill="none"/><circle r="349" stroke="#2f9b4f" stroke-width="180" pathLength="36000" stroke-dasharray="0 11160 22 6752 22 10792 22 6274 22 934" fill="none"/><circle r="349" stroke="#f2982f" stroke-width="180" pathLength="36000" stroke-dasharray="0 12861 22 3635 22 15817 22 3621" fill="none"/><circle r="349" stroke="#868686" stroke-width="180" pathLength="36000" stroke-dasharray="0 11144 22 24834" fill="none"/><circle r="355" stroke="#f2982f" stroke-width="168" pathLength="36000" stroke-dasharray="0 13402 22 932 22 18520 22 1949 22 1109" fill="none"/><circle r="355" stroke="#2f9b4f" stroke-width="168" pathLength="36000" stroke-dasharray="0 6486 22 6624 22 22846" fill="none"/><circle r="361" stroke="#2f9b4f" stroke-width="156" pathLength="36000" stroke-dasharray="0 13609 22 10156 22 3985 22 5050 22 3112" fill="none"/><circle r="361" stroke="#f2982f" stroke-width="156" pathLength="36000" stroke-dasharray="0 10286 22 14099 22 2109 22 2172 22 1282 22 5447 22 473" fill="none"/><circle r="361" stroke="#868686" stroke-width="156" pathLength="36000" stroke-dasharray="0 4180 22 30652 22 1124" fill="none"/><circle r="367" stroke="#2f9b4f" stroke-width="144" pathLength="36000" stroke-dasharray="0 2002 22 20602 22 2586 22 10744" fill="none"/><circle r="367" stroke="#868686" stroke-width="144" pathLength="36000" stroke-dasharray="0 14213 22 1488 22 8996 22 7276 22 3939" fill="none"/><circle r="367" stroke="#f2982f" stroke-width="144" pathLength="36000" stroke-dasharray="0 1366 22 24212 22 2442 22 614 22 6545 22 711" fill="none"/><circle r="367" stroke="#e8452c" stroke-width="144" pathLength="36000" stroke-dasharray="0 18983 22 16995" fill="none"/><circle r="373" stroke="#f2982f" stroke-width="132" pathLength="36000" stroke-dasharray="0 253 22 8739 22 7959 22 74 22 6531 22 4557 22 10 38 1997 22 2347 22 3319" fill="none"/><circle r="373" stroke="#2f9b4f" stroke-width="132" pathLength="36000" stroke-dasharray="0 7265 22 5320 22 4700 22 12112 22 2697 22 3796" fill="none"/><circle r="373" stroke="#868686" stroke-width="132" pathLength="36000" stroke-dasharray="0 555 22 8453 22 1631 22 8834 22 16439" fill="none"/><circle r="373" stroke="#e8452c" stroke-width="132" pathLength="36000" stroke-dasharray="0 18967 22 17011" fill="none"/><circle r="379" stroke="#2f9b4f" stroke-width="120" pathLength="36000" stroke-dasharray="0 2065 22 4685 22 7021 22 8503 22 2013 22 3492 22 3365 22 4702" fill="none"/><circle r="379" stroke="#868686" stroke-width="120" pathLength="36000" stroke-dasharray="0 23278 22 773 22 296 22 2443 22 4748 22 4352" fill="none"/><circle r="379" stroke="#f2982f" stroke-width="120" pathLength="36000" stroke-dasharray="0 3194 22 137 22 5130 22 5273 22 773 22 407 38 8232 22 1123 22 2236 22 1139 22 5892 22 948 22 1236" fill="none"/><circle r="379" stroke="#e8452c" stroke-width="120" pathLength="36000" stroke-dasharray="0 19651 22 10 22 16295" fill="none"/><circle r="385" stroke="#f2982f" stroke-width="108" pathLength="36000" stroke-dasharray="0 15469 22 535 22 5100 22 41 22 2777 22 4080 22 10 22 1043 22 3444 22 3303" fill="none"/><circle r="385" stroke="#868686" stroke-width="108" pathLength="36000" stroke-dasharray="0 15739 22 7390 38 471 22 8166 22 4130" fill="none"/><circle r="385" stroke="#2f9b4f" stroke-width="108" pathLength="36000" stroke-dasharray="0 2097 22 10 22 1822 22 392 22 1441 22 3571 22 1934 22 6862 22 344 22 9982 37 7310" fill="none"/><circle r="391" stroke="#868686" stroke-width="96" pathLength="36000" stroke-dasharray="0 141 22 2316 22 7260 22 407 22 90 22 6163 22 121 22 4321 22 614 22 12650 22 1697" fill="none"/><circle r="391" stroke="#f2982f" stroke-width="96" pathLength="36000" stroke-dasharray="0 2495 22 773 22 2808 22 9756 22 1664 22 1011 22 2493 22 693 22 376 22 264 22 10 22 3285 22 1504 22 2348 22 1043 22 3333 22 1774 22 1" fill="none"/><circle r="391" stroke="#2f9b4f" stroke-width="96" pathLength="36000" stroke-dasharray="0 269 38 41 22 2840 22 1330 22 407 22 3667 22 184 38 4732 22 249 22 10 22 2983 22 1266 22 7373 38 1855 22 1774 22 2697 22 1489 22 2013 38 361" fill="none"/><circle r="391" stroke="#e8452c" stroke-width="96" pathLength="36000" stroke-dasharray="0 19365 22 9 22 16582" fill="none"/><circle r="397" stroke="#2f9b4f" stroke-width="84" pathLength="36000" stroke-dasharray="0 1652 22 137 38 1043 22 2904 22 2172 22 725 38 4700 22 1203 38 2999 22 614 22 2842 22 3715 37 4335 22 2299 22 217 22 4050" fill="none"/><circle r="397" stroke="#f2982f" stroke-width="84" pathLength="36000" stroke-dasharray="0 2399 22 1998 22 1361 22 4223 22 2315 22 10 22 646 22 614 22 3571 22 4767 22 3635 22 709 22 3285 22 1727 22 90 22 2792 38 1329 22 139" fill="none"/><circle r="397" stroke="#868686" stroke-width="84" pathLength="36000" stroke-dasharray="0 7980 22 1187 53 137 22 9630 22 7230 22 122 22 693 22 2729 22 3174 22 57 22 503 22 2285" fill="none"/><circle r="397" stroke="#e8452c" stroke-width="84" pathLength="36000" stroke-dasharray="0 19412 22 26 22 344 22 16152" fill="none"/><circle r="403" stroke="#f2982f" stroke-width="72" pathLength="36000" stroke-dasharray="0 825 22 42 38 1440 22 122 22 105 22 343 22 471 22 614 22 296 22 296 22 3238 22 375 22 10 22 74 22 661 22 10 22 964 22 534 22 1632 22 232 38 185 22 407 22 1425 22 598 22 551 22 9 22 233 22 10 22 995 22 360 38 296 22 677 22 2413 22 153 38 757 22 312 22 74 22 502 22 74 38 9 22 344 22 26 22 41 22 122 22 137 22 137 37 249 38 327 22 1266 22 26 22 105 22 423 22 153 22 90 22 312 22 1106 22 360 22 328 22 153 22 10 22 57 22 519 22 216 22 296 22 201 22 471 22 232 22 169 22 264 22 407 22 90 22 1933 22 217 38 693 22 441" fill="none"/><circle r="403" stroke="#2f9b4f" stroke-width="72" pathLength="36000" stroke-dasharray="0 428 38 152 22 281 22 200 22 121 22 805 22 10 22 550 38 1075 22 296 22 726 22 359 22 153 22 89 22 1171 22 185 22 343 22 1807 22 73 22 1043 22 1028 38 328 22 343 38 455 22 26 22 105 22 1202 22 312 22 26 22 73 22 392 22 2045 22 948 22 375 22 105 22 169 22 3129 22 1520 22 503 22 2808 22 534 22 758 22 566 22 1854 22 58 22 439 22 9 22 630 22 26 22 360 22 41 22 26 22 360 22 534 22 89 22 106 22 137 22 470 22 551 22 57 22 249 22 981" fill="none"/><circle r="403" stroke="#868686" stroke-width="72" pathLength="36000" stroke-dasharray="0 1016 22 42 22 2712 22 3508 22 3635 22 551 22 2665 22 471 22 2855 22 376 22 26 22 7040 22 4716 22 10 22 1218 22 153 22 1123 22 757 22 439 22 534 22 10 38 1665" fill="none"/><circle r="403" stroke="#e8452c" stroke-width="72" pathLength="36000" stroke-dasharray="0 18872 22 105 22 185 22 518 22 137 22 16073" fill="none"/><circle r="409" stroke="#f2982f" stroke-width="60" pathLength="36000" stroke-dasharray="0 1000 22 217 22 137 37 424 22 280 22 169 22 9 22 551 22 296 22 89 22 709 22 122 22 152 22 26 22 233 22 25 22 1648 22 455 22 582 22 296 22 662 22 184 22 58 22 26 22 1186 22 42 22 661 54 296 22 73 38 408 22 312 22 232 22 105 22 169 22 153 22 821 22 9 22 169 22 217 22 73 22 10 22 57 22 58 22 10 38 757 22 121 22 10 22 9 22 551 22 73 70 296 22 26 22 359 22 201 54 105 22 121 38 73 70 359 22 201 22 487 22 10 22 2365 22 42 22 216 22 153 22 344 38 105 22 89 22 42 22 328 22 25 22 74 53 26 38 10 22 41 22 10 38 503 38 407 38 89 22 74 22 264 22 89 22 26 22 232 38 439 22 10 22 58 22 41 22 328 22 10 38 25 38 105 22 10 22 26 22 26 22 502 22 74 22 25 22 74 22 41 22 153 22 74 22 264 22 121 22 42 22 41 70 153 22 41 22 74 22 105 22 58 22 9 22 137 22 90 22 41 22 74 22 25 22 233 22 73 22 26 22 662 22 137 37 90 22 264 22 137 22 328 22 169 22 137 22 25 22 90 22 73 22 42 22 121 22 312 22 9 22 74 22 598 22 359 22 487 22 74 22 25 38 233 22 9 22 503 22 10 22 42 22 264 22 10 22 296 22 329" fill="none"/><circle r="409" stroke="#868686" stroke-width="60" pathLength="36000" stroke-dasharray="0 78 22 4112 22 3174 22 439 22 439 38 3062 22 3810 22 519 22 1679 22 137 22 455 22 741 22 551 22 2000 22 455 22 804 22 1473 22 980 22 741 22 1584 22 2124 22 948 22 3603 22 1570" fill="none"/><circle r="409" stroke="#2f9b4f" stroke-width="60" pathLength="36000" stroke-dasharray="0 157 22 10 22 10 22 137 22 10 22 25 22 90 22 566 22 296 22 89 22 169 22 233 22 25 22 360 22 57 22 58 22 57 22 26 22 10 22 328 22 168 22 137 22 42 22 630 22 375 22 312 22 185 38 201 22 9 22 360 22 57 38 42 22 10 85 201 22 10 22 200 22 10 22 74 22 121 22 105 22 41 22 26 70 57 22 74 22 184 22 10 22 487 22 264 22 185 22 407 22 42 22 41 54 392 22 41 22 328 38 232 22 885 38 73 22 232 22 74 38 57 22 853 22 41 22 58 54 311 22 58 38 185 22 105 38 57 22 551 22 343 22 360 22 232 22 312 22 455 22 757 22 646 38 821 22 121 22 73 38 26 38 4384 22 265 22 566 22 280 22 73 22 26 22 296 22 328 22 73 22 121 22 58 38 1918 22 41 22 169 38 169 38 25 22 678 22 10 22 280 22 248 38 10 38 41 22 74 22 566 22 328 22 264 22 169 22 216 22 185 22 805 22 41 22 185 22 296 22 232 22 408 22 296 22 25 22 408 22 979 22 106 22 137 22 25 54 10 22 296 22 10 22 202" fill="none"/><circle r="409" stroke="#e8452c" stroke-width="60" pathLength="36000" stroke-dasharray="0 18888 22 25 22 121 22 90 22 105 22 89 38 42 38 25 54 137 22 10 22 41 22 16121" fill="none"/><circle r="415" stroke="#f2982f" stroke-width="48" pathLength="36000" stroke-dasharray="0 126 22 391 22 137 22 312 22 200 38 58 22 10 22 25 22 42 22 375 22 360 22 121 38 73 22 122 22 232 22 89 22 201 22 232 22 360 22 105 54 89 22 105 54 153 22 10 22 153 22 25 22 42 22 10 38 89 22 89 22 312 22 58 22 852 38 26 22 105 22 137 22 1473 22 200 22 153 22 74 22 661 22 217 22 502 22 265 38 216 22 201 22 184 22 90 22 200 22 1059 22 312 38 264 22 58 22 201 22 232 54 89 22 153 22 534 22 312 22 217 22 200 22 58 22 89 22 58 38 200 22 233 22 184 22 153 22 74 22 105 22 105 22 153 22 57 22 26 22 248 22 185 22 89 22 10 22 169 22 169 38 2715 22 137 22 169 69 185 22 42 22 216 22 137 22 137 22 26 22 57 22 137 22 376 22 10 38 153 37 74 22 89 22 10 22 121 38 26 22 41 22 264 22 26 22 58 22 9 22 26 22 26 22 280 22 248 22 42 38 41 22 439 22 153 22 58 22 73 22 90 22 359 22 26 22 57 22 26 22 26 38 73 22 26 22 25 70 121 38 10 22 201 22 25 22 42 22 10 22 200 22 312 22 185 22 10 22 57 38 42 38 168 22 153 22 153 22 89 22 58 38 26 22 439 22 121 22 184 22 153 22 42 22 10 22 73 22 105 22 26 22 42 22 264 22 10 22 41 22 10 22 185 22 216 22 105 22 932 22 58 38 73 22 105 22 217 22 10 22 105 22 248 22 121 22 344 22 503 22 57 38 42 38 343 22 280 22 201 22 58 22 184 22 105 22 122 22 11" fill="none"/><circle r="415" stroke="#868686" stroke-width="48" pathLength="36000" stroke-dasharray="0 475 22 3381 22 2331 22 1664 22 25 22 853 22 884 22 662 22 3841 22 694 22 169 22 614 38 789 22 804 22 1743 22 1761 38 10 22 1171 22 884 22 153 22 10 38 9 22 710 22 57 22 1044 22 486 38 217 22 5193 38 2903 22 74 22 1457 22 170" fill="none"/><circle r="415" stroke="#2f9b4f" stroke-width="48" pathLength="36000" stroke-dasharray="0 94 22 121 22 105 22 10 22 375 22 121 22 153 22 328 22 26 22 26 22 25 22 121 22 26 22 89 22 26 38 57 22 153 22 312 22 105 22 106 22 280 22 41 22 328 22 26 38 169 22 41 22 137 22 328 38 185 22 9 38 74 22 137 22 9 22 137 22 26 22 296 22 10 38 73 22 233 22 216 22 42 22 89 22 10 22 105 22 153 22 26 22 232 22 264 54 10 22 185 22 9 22 121 22 74 38 41 38 74 22 455 22 73 22 137 22 42 22 9 22 106 22 89 22 10 22 312 22 9 22 26 38 26 22 10 37 26 22 58 22 216 22 471 22 153 22 10 22 25 22 217 22 137 54 264 22 137 22 121 22 10 22 216 38 280 22 185 22 58 22 9 22 121 22 58 22 105 22 42 38 184 22 10 22 58 22 296 22 137 22 105 22 73 22 10 22 73 22 185 22 89 22 58 22 423 22 566 38 106 22 693 22 26 22 200 22 455 22 169 22 74 22 327 22 360 22 2858 22 392 22 534 22 153 22 89 22 74 22 41 22 567 22 280 22 25 22 137 38 201 22 423 22 42 22 614 22 169 22 25 38 376 38 200 22 487 38 185 22 391 22 169 22 89 22 10 22 153 22 41 22 121 22 583 53 58 22 10 22 73 38 42 22 566 22 42 22 168 22 185 22 264 54 201 22 200 38 89 38 106 22 121 22 25 22 106 22 57 22 264 22 185 22 360 22 73 22 423 22 42 22 407 22 153 22 105 22 153 22 10 22 407 22 217 38 375 22 58 22 216 22 105 38 10 22 42 22 248 22 105 38 153 22 10 22 186" fill="none"/><circle r="415" stroke="#e8452c" stroke-width="48" pathLength="36000" stroke-dasharray="0 18840 38 41 22 74 22 184 38 10 22 58 22 9 22 217 22 26 22 25 38 16248" fill="none"/><circle r="421" stroke="#f2982f" stroke-width="36" pathLength="36000" stroke-dasharray="0 523 22 185 38 41 22 10 22 185 22 25 22 58 22 248 22 169 22 105 22 471 22 58 22 89 22 391 22 58 22 280 22 42 22 9 22 10 22 74 22 152 22 26 38 10 38 328 22 105 22 264 22 153 22 89 22 121 22 42 22 137 22 26 37 344 22 10 22 42 22 439 22 184 22 42 22 26 22 9 22 153 22 10 22 773 22 42 22 10 22 152 22 42 22 201 38 264 22 184 22 58 22 121 22 360 22 391 38 42 22 121 22 121 38 137 22 359 38 74 22 73 70 9 22 169 22 105 22 90 22 10 22 248 22 73 22 58 22 105 22 57 22 360 22 26 54 9 22 424 22 57 22 10 22 89 22 74 22 57 22 89 22 10 22 423 22 233 22 73 22 74 22 105 22 73 22 26 22 10 22 25 22 10 22 121 22 26 22 57 22 10 22 105 38 185 22 10 22 455 22 105 22 105 22 105 22 90 22 25 22 58 22 105 22 169 22 89 22 26 22 42 22 9 70 153 38 10 22 137 22 137 22 25 22 26 38 42 22 41 22 26 22 73 22 42 22 57 22 10 22 519 22 2302 22 375 38 423 38 10 22 121 22 42 37 122 22 232 22 10 22 89 22 105 22 169 22 535 22 105 38 137 22 232 22 280 22 105 38 26 22 10 22 10 37 122 22 57 38 391 22 10 22 58 22 41 22 169 54 41 22 74 22 26 22 41 38 42 22 153 22 41 22 169 22 26 22 153 22 57 22 121 22 42 22 598 22 137 22 41 22 90 22 296 22 296 22 121 22 89 22 89 22 137 22 153 22 42 22 89 22 26 38 534 22 42 22 201 22 9 22 153 22 249 22 89 22 200 22 26 22 105 22 42 22 10 22 25 22 90 22 57 38 121 22 376 38 137 22 9 22 185 38 42 22 57 22 74 22 9 22 74 22 10 37 10 22 169 86 184 22 106 22 25 22 26 22 201 22 168 22 265 22 25 22 153 22 58 22 41 22 360 22 248 22 296 22 107" fill="none"/><circle r="421" stroke="#2f9b4f" stroke-width="36" pathLength="36000" stroke-dasharray="0 110 22 73 22 73 38 153 22 74 38 327 22 90 22 41 22 185 22 185 22 57 22 296 22 26 22 10 22 168 22 10 22 26 54 264 22 248 22 10 22 137 22 73 22 42 22 201 22 89 22 73 22 42 22 121 22 105 22 392 22 232 38 328 38 121 38 41 22 10 22 73 22 106 53 153 70 169 22 185 22 121 22 200 22 42 38 105 22 42 22 121 22 25 38 58 22 200 22 90 22 296 38 41 22 42 22 25 22 137 22 26 22 26 38 73 22 201 22 41 38 42 22 121 22 264 54 789 22 455 22 41 22 42 22 10 22 10 22 153 22 89 22 26 53 217 22 105 22 58 22 41 22 89 38 169 38 42 38 41 22 58 22 105 22 26 22 89 22 709 22 137 22 105 22 58 38 121 38 73 22 137 22 105 22 26 22 471 22 137 54 264 22 42 38 518 38 535 22 41 38 248 22 121 22 26 22 74 53 980 22 89 22 10 22 328 38 41 22 10 22 26 38 57 22 42 22 57 22 2509 22 693 38 360 38 10 22 248 38 980 22 9 22 137 38 710 22 25 22 90 22 137 22 25 22 201 22 423 22 328 22 1250 22 26 22 137 22 41 54 391 38 328 22 169 22 232 22 169 22 26 22 26 22 439 38 25 38 10 22 439 22 10 22 312 38 73 22 232 22 26 54 201 22 359 22 312 22 10 22 41 22 90 22 10 37 74 22 455 22 26 22 25 22 105 22 153 22 360 22 105 22 10 22 153 22 105 38 137 22 423 22 10 22 57 22 249 22 89 22 10 38 89 22 73 22 567 38 27" fill="none"/><circle r="421" stroke="#868686" stroke-width="36" pathLength="36000" stroke-dasharray="20 1505 22 2124 22 2967 22 1266 22 1171 22 455 22 137 38 677 22 3190 22 916 22 1091 22 964 22 853 22 1409 22 25 22 42 22 2333 22 2999 22 1553 22 2251 22 1425 38 1997 22 837 22 980 22 121 22 2110" fill="none"/><circle r="421" stroke="#e8452c" stroke-width="36" pathLength="36000" stroke-dasharray="0 18792 38 121 22 89 22 58 22 10 22 296 22 184 22 58 22 10 22 57 22 16089" fill="none"/><circle r="427" stroke="#f2982f" stroke-width="24" pathLength="36000" stroke-dasharray="0 30 22 582 22 10 38 153 22 344 22 471 22 184 22 233 22 455 22 168 22 106 38 9 22 10 22 10 22 693 22 106 38 105 22 184 22 169 22 344 22 105 22 74 22 168 22 58 22 264 22 10 54 645 22 328 22 105 22 455 22 312 22 10 22 423 22 42 22 42 22 677 22 916 22 90 22 25 22 10 22 26 22 137 22 57 22 26 22 232 22 344 22 264 22 344 22 57 22 376 22 10 22 73 22 185 22 248 22 376 22 343 22 360 22 328 22 296 22 248 22 423 22 26 22 26 22 121 22 232 22 169 22 73 22 74 22 41 22 106 22 41 22 169 22 185 22 105 22 232 22 10 22 58 22 773 22 184 22 264 22 122 22 2238 22 169 22 89 22 598 22 185 22 312 22 41 22 105 22 10 22 233 22 73 22 10 22 57 22 614 22 201 22 503 22 232 22 375 22 296 22 42 22 201 22 168 22 249 22 471 22 137 22 41 22 121 22 10 22 10 22 89 22 121 22 121 22 249 22 359 22 10 22 678 22 200 22 121 22 408 22 169 22 184 22 201 22 41 22 74 22 216 22 408 22 296 22 375 22 662 22 153 22 153 22 327 22 455 22 26 22 58 22 25 22 217 22 185 22 57 22 185 22 105 22 391 38 217 22 41 22 121 38 153 22 10 22 91" fill="none"/><circle r="427" stroke="#868686" stroke-width="24" pathLength="36000" stroke-dasharray="0 873 22 6465 22 264 22 726 22 868 22 407 38 5798 22 216 22 805 22 1472 22 996 22 137 22 1698 22 804 22 3238 22 1329 54 217 22 4000 22 2507 22 2714" fill="none"/><circle r="427" stroke="#2f9b4f" stroke-width="24" pathLength="36000" stroke-dasharray="0 14 22 10 38 89 22 137 22 153 22 121 22 519 38 343 22 137 22 90 22 328 22 359 38 185 22 10 22 550 54 153 38 121 22 121 22 25 22 106 22 137 22 73 22 185 22 73 22 439 22 185 22 10 38 327 22 328 22 137 22 90 22 486 54 10 22 216 22 58 22 42 22 375 38 328 22 57 22 10 22 73 38 26 22 73 22 519 22 328 38 10 22 89 22 57 22 296 22 217 22 89 22 105 22 10 22 280 22 217 22 391 22 153 22 455 38 121 22 42 22 280 22 487 22 9 22 471 22 10 22 360 22 105 22 1043 22 137 22 185 22 10 22 312 37 74 22 232 22 26 22 89 22 169 22 185 22 1456 22 42 22 58 22 137 22 3001 22 57 22 42 54 10 38 216 22 662 22 280 22 741 22 487 22 423 22 789 22 1075 22 296 22 439 22 264 22 1266 22 153 22 503 22 10 22 168 22 137 22 217 22 709 22 137 22 169 38 10 22 614 22 89 22 328 22 232 22 376 22 391 22 10 22 217 37 614 22 106 22 73 22 439 22 217 22 137 22 248 38 59" fill="none"/><circle r="427" stroke="#e8452c" stroke-width="24" pathLength="36000" stroke-dasharray="0 19110 22 169 22 10 22 200 22 58 22 185 22 9 22 16105" fill="none"/><circle r="433" stroke="#f2982f" stroke-width="12" pathLength="36000" stroke-dasharray="0 968 22 694 38 4175 22 185 22 3555 22 137 22 137 22 201 22 1536 22 42 22 153 22 41 22 1171 22 868 22 726 22 311 22 392 22 5545 22 217 22 153 22 709 22 1075 22 869 22 677 22 26 22 296 38 4175 22 1425 22 1266 22 1075 22 630 22 1584 22 250" fill="none"/><circle r="433" stroke="#868686" stroke-width="12" pathLength="36000" stroke-dasharray="0 777 22 185 22 296 22 4859 38 885 22 248 38 7355 38 344 38 6054 22 280 22 137 22 630 22 1075 22 1600 22 9041 22 1840" fill="none"/><circle r="433" stroke="#2f9b4f" stroke-width="12" pathLength="36000" stroke-dasharray="0 762 22 534 22 328 22 4223 38 137 22 1012 22 2553 22 106 22 168 22 201 22 1504 22 74 22 121 22 41 22 1203 22 836 22 726 22 312 22 391 22 5784 22 57 22 106 22 9 22 10 22 2602 22 757 22 264 22 4191 22 1457 22 1266 22 1075 22 2204 22 266" fill="none"/></g>
<g transform="translate(127.5 376.9) scale(0.25)"><path d="M-393-223A452 452 0 1 1 -427-150" stroke="#b3c2d3" stroke-width="24.8" fill="none"/><path d="M444-85A452 452 0 0 1 448-60" stroke="#7fb6de" stroke-width="24.8" fill="none"/><path d="M53 449A452 452 0 0 1 38 451" stroke="#3d4c5c" stroke-width="24.8" fill="none"/><path d="M4 452A452 452 0 0 1 -68 447" stroke="#7fb6de" stroke-width="24.8" fill="none"/><path d="M-371 259A452 452 0 0 1 -386 236" stroke="#7fb6de" stroke-width="24.8" fill="none"/><path d="M205-403A452 452 0 0 1 219-396" stroke="#7fb6de" stroke-width="24.8" fill="none"/><path d="M-299-340A452 452 0 0 1 -297-342" stroke="#7fb6de" stroke-width="24.8" fill="none"/><path d="M-187-412A452 452 0 0 1 -185-413" stroke="#7fb6de" stroke-width="24.8" fill="none"/><path d="M-185-413A452 452 0 0 1 -181-415" stroke="#7fb6de" stroke-width="24.8" fill="none"/><path d="M-88-444A452 452 0 0 1 -84-444" stroke="#7fb6de" stroke-width="24.8" fill="none"/><path d="M-15-452A452 452 0 0 1 -13-452" stroke="#7fb6de" stroke-width="24.8" fill="none"/><path d="M47-450A452 452 0 0 1 50-450" stroke="#7fb6de" stroke-width="24.8" fill="none"/><path d="M241-383A452 452 0 0 1 244-381" stroke="#7fb6de" stroke-width="24.8" fill="none"/><path d="M247-379A452 452 0 0 1 250-377" stroke="#7fb6de" stroke-width="24.8" fill="none"/><path d="M395-220A452 452 0 0 1 397-217" stroke="#7fb6de" stroke-width="24.8" fill="none"/><path d="M437-116A452 452 0 0 1 438-112" stroke="#7fb6de" stroke-width="24.8" fill="none"/><path d="M452 7A452 452 0 0 1 452 8" stroke="#7fb6de" stroke-width="24.8" fill="none"/><path d="M344 294A452 452 0 0 1 341 298" stroke="#7fb6de" stroke-width="24.8" fill="none"/><path d="M-452-25A452 452 0 0 1 -451-29" stroke="#7fb6de" stroke-width="24.8" fill="none"/><path d="M-433-132A452 452 0 0 1 -432-135" stroke="#7fb6de" stroke-width="24.8" fill="none"/><circle r="480" stroke="#b9b9b9" stroke-width="23" pathLength="36000" stroke-dasharray="29 345 55 20 30 145 55 269 30 395 30 195 30 145 30 195 30 120 80 195 30 19 55 20 80 95 30 70 55 70 30 120 30 170 55 95 55 145 30 70 155 20 105 219 30 70 55 70 55 170 30 20 55 195 55 20 30 95 30 20 30 45 30 95 55 395 30 19 30 145 130 245 55 220 30 45 55 70 30 220 30 145 30 195 104 220 30 195 30 70 130 95 80 95 30 45 105 20 55 20 30 20 105 95 55 394 30 270 30 20 105 70 55 145 30 70 30 20 105 45 55 120 30 195 80 444 330 145 255 170 30 95 55 120 30 244 105 20 30 220 30 70 80 345 30 320 30 95 30 20 80 169 30 20 205 170 30 20 205 695 80 244 30 45 30 20 180 70 155 20 30 170 30 170 80 120 30 145 30 95 30 419 30 145 80 20 30 70 30 45 30 145 80 345 30 95 30 1414 155 20 80 95 155 20 55 20 30 70 30 20 30 45 30 20 280 245 105 195 55 19 105 70 30 70 55 20 30 45 80 45 30 95 55 20 30 445 30 95 80 70 55 194 30 45 30 95 30 20 130 145 55 20 55 120 80 195 155 20 205 145 30 45 30 144 30 220 80 195 30 120 30 270 130 270 30 20 30 20 55 70 55 19 30 20 55 345 130 545 155 120 130 45 55 144 30 95 80 195 30 445 105 45 30 70 55 145 155 244 130 95 180 20 180 20 30 720 30 120 30 20 30 45 80 44 55 270 30 20 80 170 55 445 55 295 30 20 55 70 30 19 55 445 30 70 30 195 55 120 51 1" fill="none" stroke-opacity="0.62"/><circle r="480" stroke="#c08ec8" stroke-width="23" pathLength="36000" stroke-dasharray="0 599 30 344 30 320 30 170 30 470 30 270 80 119 30 1994 30 345 30 270 30 45 30 270 30 469 30 195 30 20 30 220 30 795 130 169 30 45 30 20 80 120 30 20 55 970 30 519 30 895 30 295 30 419 30 520 80 570 30 145 30 369 30 620 30 145 30 345 30 245 30 94 30 195 180 495 30 1044 30 270 30 595 30 245 255 219 80 1120 130 20 30 1314 30 70 30 45 30 1145 30 20 30 20 30 20 30 219 30 420 105 170 30 120 80 20 105 370 130 19 30 395 30 70 30 345 55 919 55 20 80 370 30 145 155 20 30 195 55 395 30 469 30 145 80 620 105 944 80 345 55 545 30 269 30 20 30 445 30 1019 30 545 55 695 80 1219 30 20 30 96" fill="none" stroke-opacity="0.62"/><circle r="480" stroke="#a7cd6d" stroke-width="23" pathLength="36000" stroke-dasharray="0 49 205 20 55 20 30 95 30 20 80 244 105 45 30 95 155 20 30 20 30 45 105 20 55 20 105 20 30 145 30 120 55 95 105 70 30 194 105 20 80 45 30 70 130 20 180 195 80 20 30 45 80 270 204 45 80 45 80 45 30 20 80 20 30 20 30 45 130 20 55 45 30 20 105 70 30 45 55 20 30 45 105 20 30 120 130 69 55 220 80 70 55 20 30 45 30 20 30 45 105 20 55 45 80 20 30 45 55 20 30 70 30 145 30 269 30 45 30 220 30 320 30 20 30 95 105 20 55 95 30 95 30 170 30 45 155 94 30 20 105 20 30 20 30 20 180 20 30 145 30 45 80 20 55 20 80 170 30 45 30 20 80 45 55 20 30 20 55 70 30 19 205 20 30 70 30 20 30 420 55 245 105 145 30 70 105 45 154 20 80 170 30 20 55 20 55 70 55 95 80 20 80 70 55 95 230 20 30 95 30 120 80 20 30 19 30 445 30 195 105 20 30 20 30 120 80 20 105 95 30 20 30 245 80 19 55 20 30 195 55 145 30 70 80 20 30 20 180 220 55 20 80 20 30 20 55 20 30 244 55 20 80 320 55 95 155 95 330 20 105 295 130 1289 55 295 55 45 30 95 30 295 30 669 30 70 30 170 30 70 55 320 80 20 30 245 80 220 30 194 55 20 105 20 30 195 30 170 55 20 55 145 30 470 55 145 30 69 105 195 30 270 30 70 80 20 30 145 30 20 30 145 30 195 30 170 55 69 30 20 30 195 80 20 55 20 30 220 80 20 130 45 155 270 30 344 30 45 55 95 205 220 255 170 80 95 55 20 30 170 80 20 55 20 30 144 30 20 30 195 30 170 30 20 30 20 255 45 30 120 205 45 105 45 30 45 30 244 130 20 55 20 30 95 55 45 30 70 80 420 55 20 30 170 30 20 30 45 80 94 455 20 80 20 155 20 30 221" fill="none" stroke-opacity="0.62"/><circle r="480" stroke="#e98a6c" stroke-width="23" pathLength="36000" stroke-dasharray="0 21732 55 1169 55 95 30 320 30 1569 30 1070 30 1893 155 495 30 745 30 70 30 20 30 19 30 45 30 6193" fill="none" stroke-opacity="0.62"/><circle r="480" stroke="#f0f3f4" stroke-width="23" pathLength="36000" stroke-dasharray="0 773 55 220 80 595 30 195 30 919 55 470 30 2194 30 1494 55 45 30 20 80 170 30 594 30 245 30 1594 55 2294 55 469 30 1020 30 345 30 2718 30 295 130 894 30 220 55 795 30 2489 30 2069 30 1094 30 720 30 419 30 695 30 195 105 120 30 894 30 420 30 744 30 295 80 20 30 620 55 2318 80 695 305 1620" fill="none" stroke-opacity="0.62"/><path d="M-305-175l2-2M-297-169l2-2l-9-5M-354-212l1-1M-354-212l3 1l1-1M-348-218l1-1M-345-215l1-1l-4-3M-339-209l1-3l-6-3M-343-227l1-1M-328-216l1-2l-16-10M-326-213l1-2l-3-2M-324-210l1-2l-3-2M-324-211l3 1a383 383 0 0 1 3-4M-320-205a380 380 0 0 1 3-5l-2-2M-318-203l2-3l-2-2M-311-197l1-3l-7-4M-310-199l2 2a365 365 0 0 1 6-8M-339-210l34 20a359 359 0 0 1 5-8l-5-3M-304-186a356 356 0 0 1 4-6l-3-2M-350-212l48 30a353 353 0 0 1 3-5l-3-2M-349-242l1-1M-348-243l12 9l1-1M-330-228l1-2l-7-5M-330-229l10 7l2-3M-315-216l2-3l-6-4M-313-213l2-3l-3-2M-301-185l3 2a350 350 0 0 1 10-15l-24-17M-323-239l1-2M-323-251l2-2M-322-248l2-2l-2-2M-313-240l2-2l-10-7M-305-232l2-2l-9-7M-304-233l2 2a380 380 0 0 1 5-5M-322-240l20 15a377 377 0 0 1 5-7l-2-2M-300-228l3 2a373 373 0 0 1 6-8M-299-219a370 370 0 0 1 7-9l-2-2M-297-216a367 367 0 0 1 4-5l-2-2M-295-219l3 2a364 364 0 0 1 10-13M-292-211a361 361 0 0 1 7-10l-2-2M-289-216l3 2a357 357 0 0 1 10-14M-288-207a354 354 0 0 1 10-12l-3-2M-286-204a351 351 0 0 1 6-7l-3-2M-284-202a348 348 0 0 1 4-4l-3-2M-297-253a390 390 0 0 1 3-3M-296-249a387 387 0 0 1 3-4l-2-2M-293-245l2-3l-3-3M-293-264l2-3M-291-261l2-2l-3-3M-290-259l2-1l-2-2M-289-259l3 2a385 385 0 0 1 5-6M-285-253a381 381 0 0 1 4-4l-3-3M-308-289l1-1M-308-290l21 20l2-2M-283-255l3 3a377 377 0 0 1 6-7l-12-12M-277-256l7 6a368 368 0 0 1 5-5M-292-247l13 12a365 365 0 0 1 14-15l-3-2M-272-243l2 3a361 361 0 0 1 10-11M-273-226a355 355 0 0 1 13-15l-5-5M-294-287l2-1M-287-289l2-2M-286-290l2 3l2-2M-284-283a401 401 0 0 1 4-3l-3-2M-282-285l2 3a397 397 0 0 1 3-3M-275-292l2-1M-275-287a397 397 0 0 1 3-3l-2-2M-278-284l2 2a394 394 0 0 1 5-4l-2-2M-277-275a391 391 0 0 1 6-6l-3-3M-280-302l2-2M-274-278l2 2a388 388 0 0 1 9-9l-16-18M-267-281l7 8a377 377 0 0 1 7-6M-293-288l40 39a355 355 0 0 1 12-11l-16-16M-266-234l2 2a351 351 0 0 1 19-20l-2-2M-282-315l1 0M-282-315l2 2l2-1M-271-309l2-1M-270-306l2-1l-2-3M-269-306l8 9a396 396 0 0 1 3-3M-259-299l2 2l2-2M-263-311l1-1M-263-311l2 2l2-1M-260-310l2 3l2-2M-256-298l11 14a375 375 0 0 1 5-4l-17-20M-242-286l6 7a366 366 0 0 1 3-3M-279-313l38 42a362 362 0 0 1 9-7l-2-3M-261-329l1-1M-252-313l3-2l-11-14M-252-308a398 398 0 0 1 4-3l-2-3M-257-328l1-1M-250-310l13 16a378 378 0 0 1 5-4l-24-31M-237-274l2 2a359 359 0 0 1 12-9l-12-15M-253-338l1-1M-253-339l2 3l2-1M-250-337l2 3l2-1M-244-334l1-1M-247-335l7 10l2-2l-6-7M-241-321a401 401 0 0 1 4-3l-2-2M-239-322l2 3a398 398 0 0 1 4-4M-236-312a391 391 0 0 1 5-3l-4-6M-235-308a387 387 0 0 1 4-3l-2-2M-233-309l8 10a374 374 0 0 1 7-5M-226-294a371 371 0 0 1 6-5l-2-3M-223-297l2 3a368 368 0 0 1 7-5M-229-277l10 13a343 343 0 0 1 16-13l-15-20M-223-248a333 333 0 0 1 18-15l-6-8M-227-322l2-2M-226-323l2 2l2-1M-223-321l13 18l2-2M-209-304l2 2l3-2M-206-303l2 3l2-2M-203-301l2 3l2-1M-211-321l2-1M-210-322l6 9l3-2M-200-299l11 17a339 339 0 0 1 5-3l-19-29M-196-318l1-1M-192-307l3-1l-6-10M-191-304l2-1l-2-3M-185-292l2-1l-7-11M-184-292l3 5a339 339 0 0 1 5-3M-204-338l1-1M-178-289l5 9l3-2l-33-56M-193-327l2-1M-209-360l1 0M-192-327l23 39l2-1l-41-71M-181-319l1-1M-181-316l2-1l-2-2M-168-288l17 29l3-2l-32-55M-181-328l2-1M-194-362l1 0M-187-346l2-1l-8-15M-180-329l19 36l3-2l-28-52M-189-357l1-1M-182-348l1 0M-181-348l20 39l3-1M-189-358l38 71l2-2l-11-21M-159-294l6 11a321 321 0 0 1 4-2l-1-3M-151-284l10 19a301 301 0 0 1 6-3M-150-260l4 6a294 294 0 0 1 11-7l-3-6M-177-358l1 0M-176-358l13 26l1-1M-163-332l2 2l2-1M-162-326l3-1l-1-3M-154-330l2-1M-153-331l1 3l2-1M-154-345l2-1M-153-346l1 3l3-1M-145-322l3-1l-8-20M-141-311l2-2l-4-10M-151-328l17 37l3-1l-9-20M-132-292l1 3a317 317 0 0 1 6-2M-156-367l1-1M-148-346l2-1l-9-21M-147-347l2 5l2-1M-144-343l1 3l2-1M-142-340l4 9l2 0M-158-388l1 0M-137-331l15 36l2-1l-37-92M-128-290l1 3a314 314 0 0 1 8-3l-2-5M-128-270a299 299 0 0 1 11-5l-6-14M-123-273l2 3a296 296 0 0 1 11-5M-126-264a293 293 0 0 1 11-5l-1-3M-160-326l32 66a290 290 0 0 1 9-4l-1-3M-123-262l1 3a286 286 0 0 1 16-7M-114-263l1 3a283 283 0 0 1 9-3M-138-353l2-1M-108-262l1 3a280 280 0 0 1 6-2l-36-92M-104-260l1 3a277 277 0 0 1 5-2M-100-258l1 3l3-1M-121-242a270 270 0 0 1 24-11l-1-3M-141-258l23 43a245 245 0 0 1 19-9l-10-23M-171-281l45 75a242 242 0 0 1 19-11l-1-3M-134-370l1 0M-130-354l2-1l-5-15M-129-355l1 3l3-1M-126-341l3-1l-3-10M-121-349l2-1M-119-371l1-1M-119-361l4-1l-4-10M-110-332l2-1l-9-28M-110-329l2-1l-1-3M-120-349l8 24l4-1l-1-3M-110-326l1 4a340 340 0 0 1 7-3M-108-308a327 327 0 0 1 7-3l-4-13M-124-342l14 38a323 323 0 0 1 7-2l-1-3M-107-305l3 9a313 313 0 0 1 11-3M-117-382l2-1M-116-382l1 3l2-1M-98-297l1 3a310 310 0 0 1 8-3l-25-83M-105-283a302 302 0 0 1 14-5l-2-8M-98-286l1 3a299 299 0 0 1 12-4M-105-389l1 0M-101-368l2 0l-6-21M-99-354l3 0l-4-14M-92-323l3-1l-9-30M-95-395l1 0M-95-395l1 3l2 0M-93-392l9 40l3 0M-86-348l4-1l-1-3M-84-348l1 3l4-1M-86-341a352 352 0 0 1 6-2l-1-3M-85-331a341 341 0 0 1 5-1l-3-10M-83-331l2 5a336 336 0 0 1 7-2M-79-304a314 314 0 0 1 7-2l-5-21M-76-305l1 5a309 309 0 0 1 9-2M-91-323l8 28a306 306 0 0 1 13-3l0-3M-87-408l1 0M-83-385l2-1l-5-22M-82-386l1 7l3 0M-80-379l5 22l2 0M-74-357l4 17l2-1M-76-296l1 3a303 303 0 0 1 15-4l-9-44M-83-288a300 300 0 0 1 16-4l-1-3M-75-290l1 3a296 296 0 0 1 16-4M-81-278a290 290 0 0 1 16-4l-1-7M-91-285l15 46a250 250 0 0 1 13-3l-10-38M-70-399l1 0M-69-399l3 17l1 0M-65-368l2 0l-2-14M-66-364l2-1l0-3M-65-365l1 3l4 0M-62-362l0 4l3 0M-65-348a354 354 0 0 1 6-1l-1-9M-62-349l6 31a323 323 0 0 1 5-1M-54-319l1 4l4-1M-57-406l1 0M-55-376l3 0l-5-30M-50-398l1 0M-50-398l2 15l2 0M-45-402l1 0M-45-402l2 13l1 0M-43-374l2 0l-1-15M-42-374l1 10l3 0M-43-360l4-1l0-3M-47-383l4 31l3 0l-1-9M-45-349l4 0l-1-3M-44-333l3 0l-2-16M-44-323l3-1l-2-9M-54-376l8 56l4 0l-1-3M-48-316l4-1l0-3M-51-316l1 3l5 0l-1-3M-58-308a313 313 0 0 1 11-2l-1-3M-27-387l2 0M-25-408l1 0M-25-408l1 18l2 0M-26-387l2 26l3-1l-2-28M-27-353l5 0l-1-8M-28-350l4 0l-1-3M-28-346l2 0l0-4M-27-346l0 3a344 344 0 0 1 9-1M-23-343l2 17l4 0M-19-326l1 11l3 0M-15-414l1 0M-16-407l1 0l0-7M-17-389l2 0l0-18M-17-375l2 0l-1-14M-17-315l0 3l4 0l-3-63M-29-307a309 309 0 0 1 14-2l0-3M-53-309l6 33a280 280 0 0 1 27-4l-2-28M-47-245a250 250 0 0 1 17-3l-4-30M-70-241l2 8a243 243 0 0 1 30-7l-1-7M-2-401l2 0M-3-393l2 0l0-8M-4-390l2 0l0-3M-3-390l0 4l4 0M-5-383l4 0l0-3M-6-380l3 0l0-3M-4-380l0 11a369 369 0 0 1 6 0M-1-369l0 3l4 0M1-366l0 3l3 0M2-363l0 3l3 0M3-360l0 22l2 0M8-418l1 0M10-392l3 0M11-392l0 4l3 0M18-401l3 0M16-388l3 0l1-13M22-405l1 0M23-405l-2 25l2 0M17-388l-1 24l5 0l1-16M14-361l5 0l0-3M12-388l-1 45l4 0l1-18M13-343l0 3a340 340 0 0 1 9 1M8-418l-2 104a314 314 0 0 1 10 0l2-26M4-338l0 27a311 311 0 0 1 7 0l0-3M-5-308a308 308 0 0 1 12 0l1-3M28-378l2 0M29-378l-1 6l3 0M25-369l4 0l1-3M1-308l0 4a304 304 0 0 1 21 0l5-65M39-388l1 0M39-388l0 3l3 0M41-363l2 0M41-385l-4 34l4 0l1-12M34-348l5 0l0-3M51-373l2 0M49-370l2 0l1-3M56-365l2 0M54-361l2 0l1-4M55-361l-1 7l4 0M50-370l-4 29a345 345 0 0 1 8 1l2-14M43-339a341 341 0 0 1 7 1l0-3M42-336l4 1l0-3M67-402l1 0M68-402l-2 8l2 1M44-335l-2 13a324 324 0 0 1 13 2l12-74M36-348l-3 29a321 321 0 0 1 15 1l0-3M73-408l1 0M73-408l-6 33l2 1M65-372l3 1l0-3M40-319l-1 11a310 310 0 0 1 16 3l11-67M28-300a301 301 0 0 1 18 2l1-9M26-297a298 298 0 0 1 10 1l1-3M12-304l-1 13a291 291 0 0 1 19 2l1-7M-6-288a288 288 0 0 1 27 1l0-3M7-288l0 3a285 285 0 0 1 46 5M86-420l1 1M78-387l1 1l7-33M89-407l1 0M86-398l2 0l2-9M78-371l3 1l6-28M79-386l-5 21l4 1l2-6M76-364l0 3a369 369 0 0 1 5 1M96-406l1 0M94-403l2 0l0-3M95-403l-1 3l3 1M95-399l-5 23l2 1M91-375l-1 3l2 0M106-416l1 1M106-415l-4 14l2 1M96-383l3 1l4-18M97-383l-7 28l3 1M109-409l1 0M92-354l-3 8l3 1l17-64M101-371l2 0M102-371l-1 3l3 1M103-367l-3 9l2 1M91-345l-3 11a345 345 0 0 1 6 2l7-26M91-372l-10 40a342 342 0 0 1 9 2l1-3M86-331l-1 3a339 339 0 0 1 9 2M73-317a326 326 0 0 1 13 3l4-13M72-314a322 322 0 0 1 7 1l1-3M78-361l-10 49a319 319 0 0 1 6 2l1-4M62-310a316 316 0 0 1 8 2l1-3M60-305a311 311 0 0 1 5 1l1-5M58-302l4 0l0-3M30-283l0 3a281 281 0 0 1 25 4l5-26M42-278l0 3a278 278 0 0 1 36 8M-7-275a275 275 0 0 1 66 6l1-3M26-274l0 3a272 272 0 0 1 51 10M52-267l-1 3a269 269 0 0 1 26 7M64-261l-1 3a265 265 0 0 1 14 4M-8-262a262 262 0 0 1 77 9l1-3M-8-251a251 251 0 0 1 38 2l1-11M123-388l1 0M121-386l2 1l1-3M122-385l-1 3l2 1M122-371l3 0M123-371l-5 16l3 1M115-353l4 1l1-3M122-382l-11 36l3 1l3-7M107-344a360 360 0 0 1 5 2l1-3M109-343l-1 3a357 357 0 0 1 8 3M104-338a354 354 0 0 1 7 2l1-3M137-378l2 0M138-378l-1 3l1 1M133-373l3 1l2-3M123-348l3 1l9-25M124-348l-3 10a359 359 0 0 1 4 2M115-330a350 350 0 0 1 5 1l3-8M108-337l-2 7a347 347 0 0 1 11 4l1-3M96-314a328 328 0 0 1 9 3l6-17M137-355l2 0M150-378l2 1M151-377l-1 3l1 0M138-355l-6 16a364 364 0 0 1 4 2l15-37M129-337a361 361 0 0 1 4 2l1-3M161-386l1 0M162-386l-7 17l1 1M152-367l2 1l2-3M153-366l-1 3l3 1M153-363l-6 14l3 1M139-339a367 367 0 0 1 5 2l5-11M141-338l-5 12a353 353 0 0 1 5 2M131-336l-7 17a342 342 0 0 1 10 4l4-10M120-317a339 339 0 0 1 8 3l1-3M165-376l1 0M165-376l-6 15l1 1M124-315l-1 2a336 336 0 0 1 13 6l23-54M117-311a333 333 0 0 1 11 4l1-3M170-355l2 0M171-355l-1 3l1 1M166-350l3 1l2-3M168-350l-6 13l3 2M163-336l-1 3l2 1M163-333l-1 3l2 1M163-329l-2 4l2 1M153-325a360 360 0 0 1 7 3l2-3M157-324l-2 3a356 356 0 0 1 6 3M150-320a353 353 0 0 1 7 3l1-2M153-318l-7 15a337 337 0 0 1 7 3M202-381l1 1M192-364l1 1l9-18M192-364l-3 6l3 1M181-346l3 1l7-12M172-332l2 2l8-15M173-331l-1 3a370 370 0 0 1 4 2M184-339l3 2M174-327l-5 9a360 360 0 0 1 5 2l12-22M172-317l-2 3a357 357 0 0 1 6 3M162-315a354 354 0 0 1 9 5l2-3M167-312l-2 3a350 350 0 0 1 8 5M200-336l2 1M201-335l-2 2l2 2M195-331a384 384 0 0 1 4 2l1-3M192-329l3 1l2-2M190-327l2 1l2-2M176-304l1 1l14-23M173-302l2 1l1-3M169-306l-7 12a335 335 0 0 1 6 3l6-10M165-292l-6 10a324 324 0 0 1 10 6M146-285a320 320 0 0 1 16 9l2-3M149-302l-8 18a317 317 0 0 1 12 6l1-3M147-281l-2 3a314 314 0 0 1 19 11M155-273l-2 3a310 310 0 0 1 10 6M128-280a307 307 0 0 1 29 16l1-3M124-278a304 304 0 0 1 17 9l1-3M123-309l-18 45a284 284 0 0 1 19 8l9-18M100-312l-14 44a281 281 0 0 1 27 11l1-3M100-263l-4 9a272 272 0 0 1 48 23M225-355l1 0M214-333l1 1M226-355l-18 28l2 2l4-7M228-348l2 1M209-326l-11 17a367 367 0 0 1 4 3l27-41M229-341l1 1M230-340l-2 2l1 1M225-336l2 2l2-3M210-316l2 1l14-20M200-308l-6 9a356 356 0 0 1 4 3l13-19M185-294a347 347 0 0 1 6 4l5-7M218-316l3 1M216-314l2 1l2-2M188-292l-1 3a344 344 0 0 1 9 6l21-31M179-286a337 337 0 0 1 8 6l4-6M230-316l3 2M232-315l-3 3a388 388 0 0 1 4 2M225-311a384 384 0 0 1 4 3l2-3M227-310l-10 14a366 366 0 0 1 4 4M212-295a363 363 0 0 1 5 4l2-3M215-293l-7 9a352 352 0 0 1 5 4M211-282l-2 2a349 349 0 0 1 3 3M211-278l-3 3l2 2M198-277a341 341 0 0 1 9 6l2-3M183-283l-2 3a334 334 0 0 1 17 12l5-6M242-306l1 1M243-306l-2 3l1 1M236-303a384 384 0 0 1 4 3l2-3M190-274l-2 2a331 331 0 0 1 17 12l33-42M196-266l-1 3a327 327 0 0 1 11 8M247-305l2 2M200-259l-2 2a324 324 0 0 1 7 6l43-53M202-254l-2 3a321 321 0 0 1 5 4M270-316l0 1M270-315l-2 2l1 1M269-312l-13 14l1 2M241-284l2 2l14-15M284-316l1 1M277-311l2 1l5-6M256-289l2 2l20-23M250-285l2 2l5-5M242-283l-4 5a366 366 0 0 1 4 4l9-10M225-268a350 350 0 0 1 4 4l11-12M274-302l1 2M290-314l1 1M274-301l-2 2l3 2l15-17M227-266l-2 3a347 347 0 0 1 9 8l39-43M213-255a332 332 0 0 1 7 7l10-11M216-252l-2 3a329 329 0 0 1 10 9M284-301l1 1M268-286l2 1l14-15M292-300l0 0M261-272l2 2l29-30M262-271l-2 2l2 2M269-285l-15 16a370 370 0 0 1 4 4l3-3M256-267l-2 2a367 367 0 0 1 4 4M256-263l-5 5l3 2M252-257l-8 8l2 2M219-245l-2 3a325 325 0 0 1 12 11l16-17M202-249l-23 29a284 284 0 0 1 15 14l29-31M187-213l-2 2a280 280 0 0 1 14 13M121-244l-2 3a269 269 0 0 1 65 45l8-9M300-294l1 1M285-281l1 1l15-14M286-280l-14 13l1 2M273-266l-24 23l2 2M250-242l-2 2a345 345 0 0 1 3 3M249-239l-10 10l2 2M240-228l-15 14a311 311 0 0 1 3 3M268-239l2 2M303-262l1 1M272-237l2 1l29-25M269-238l-15 13a340 340 0 0 1 3 3l16-15M247-224a334 334 0 0 1 4 4l5-4M249-222l-2 2a331 331 0 0 1 5 5M249-217l-4 3a325 325 0 0 1 3 4M227-213l-11 11a296 296 0 0 1 8 9l22-19M220-198l-9 9a283 283 0 0 1 6 6M304-249l1 0M301-249l1 2l3-2M301-248l-2 2l2 2M300-245l-15 12l2 2M286-232l-5 4l1 2M282-227l-3 2l1 2M273-228a355 355 0 0 1 4 6l3-2M321-251l0 1M297-234l1 1l23-18M294-233l1 2l3-3M335-256l1 0M335-256l-11 9l1 1M307-237l2 2l16-12M308-236l-16 12a368 368 0 0 1 3 4M294-222l-8 6l2 3M281-218a355 355 0 0 1 4 5l2-2M302-218l2 1M303-218l-3 2l2 3M301-215l-8 7l2 2M294-207l-9 6l2 3M279-203a345 345 0 0 1 4 6l3-2M276-202a342 342 0 0 1 3 4l2-2M277-200l-5 4a335 335 0 0 1 4 7M267-196a332 332 0 0 1 4 5l3-2M283-215l-36 27a310 310 0 0 1 5 7l17-13M346-234l0 1M342-233l1 1l3-1M343-232l-42 28l2 2M249-184l-7 5a302 302 0 0 1 8 11l52-35M294-232l-60 48a298 298 0 0 1 9 12l3-2M238-178l-2 2a294 294 0 0 1 9 13M241-170l-5 4a289 289 0 0 1 5 7M275-225l-54 44a285 285 0 0 1 15 20l2-2M216-181a282 282 0 0 1 10 12l3-2M221-175l-2 2a279 279 0 0 1 15 20M226-163l-2 2a276 276 0 0 1 8 11M358-228l1 1M359-228l-33 21l1 2M326-206l-3 2l1 1M359-219l0 1M351-215l1 1l7-4M325-200l1 1l25-16M321-200l1 2l3-2M322-199l-9 6l2 3M324-204l-28 18a350 350 0 0 1 3 4l15-10M292-187a347 347 0 0 1 3 4l2-1M359-215l1 1M365-216l0 1M359-215l-23 14l1 2l28-16M329-191l2 2M337-200l-29 17a358 358 0 0 1 2 4l20-11M293-185l-15 10a329 329 0 0 1 6 9l25-15M228-155l-3 1a273 273 0 0 1 8 12l48-29M214-186l-11 9a269 269 0 0 1 24 31l2-2M215-162l-10 8a257 257 0 0 1 18 27M180-178a253 253 0 0 1 32 39l2-2M337-190l1 1M337-190l-3 2l2 3M361-194l1 1M355-192l1 2l6-3M325-177l1 2l30-16M371-193l1 1M354-186l1 2l17-8M351-180l1 2M355-185l-19 10l2 3l14-7M337-174l-10 6l2 3M322-171a364 364 0 0 1 3 6l3-2M326-176l-12 6a357 357 0 0 1 3 6l7-4M310-170a354 354 0 0 1 3 4l3-1M345-165l1 1M345-165l-5 3l0 2M376-176l1 1M377-175l-13 5l1 2M340-161l-8 4l1 3l32-15M332-155l-6 3l1 3M320-156a356 356 0 0 1 3 6l3-1M317-156a353 353 0 0 1 2 5l3-2M370-165l1 1M364-155l1 1M351-151l0 2l13-6M375-155l0 1M365-152l0 1l10-4M351-150l-5 2a377 377 0 0 1 2 4l17-7M338-147a369 369 0 0 1 2 4l7-3M335-146l1 2l3-1M370-165l-39 18l2 3l3-1M327-147l2 3l3-1M307-139l1 2l20-9M396-160l0 1M366-149l1 1l29-11M367-148l-15 5l1 3M353-142l-3 2l1 2M357-140l1 3M350-139l-22 8l1 3l28-10M391-142l0 1M376-138l0 2l15-5M350-130l1 2l25-9M389-139l0 1M350-129l-3 1a370 370 0 0 1 2 4l40-14M328-124a351 351 0 0 1 2 5l18-7M329-129l-5 2a348 348 0 0 1 2 6l3-1M307-138l-19 9a316 316 0 0 1 7 16l30-11M392-136l1 1M392-136l-3 1l1 2M390-134l-9 3l1 2M355-124l1 3l25-9M355-123l-3 1a373 373 0 0 1 2 4M292-121l-3 1a313 313 0 0 1 7 19l57-19M318-154l-39 19a310 310 0 0 1 11 26l3-1M285-122l-3 1a306 306 0 0 1 9 25M392-112l1 1M385-111l0 1l7-2M371-108l1 1l13-3M371-108l-12 4l1 4M376-102l0 2M360-102l-16 4a357 357 0 0 1 1 6l31-9M339-102a354 354 0 0 1 2 8l4-1M335-104a351 351 0 0 1 2 7l3-1M332-104l1 4l3-1M329-104l1 3l3-1M399-102l0 2M399-101l-3 1l1 3M395-95l0 2M396-99l-30 8l1 3l28-6M362-94a374 374 0 0 1 1 5l3 0M362-91l-3 1a371 371 0 0 1 2 7M333-87a345 345 0 0 1 2 6l25-6M329-102l-3 1a341 341 0 0 1 5 18l3-1M329-92l-3 0a338 338 0 0 1 4 17M328-83l-3 1a335 335 0 0 1 2 9M316-101a332 332 0 0 1 7 24l3-1M313-101a329 329 0 0 1 4 13l3-1M309-101a325 325 0 0 1 3 7l3-1M311-97l-3 1a322 322 0 0 1 7 26M303-100a319 319 0 0 1 5 18l3-1M287-109l-3 1a303 303 0 0 1 7 22l15-5M287-97l-3 1a300 300 0 0 1 9 32M249-123a278 278 0 0 1 19 49l21-6M246-122a275 275 0 0 1 11 24l3-1M312-168l-73 39a272 272 0 0 1 10 20l3-1M391-82l1 2M392-81l-19 4l1 3M395-75l0 1M395-74l-21 3l0 2M364-71l1 3l9-2M374-76l-19 4l0 4l9-1M337-72a345 345 0 0 1 1 6l17-4M422-69l0 1M414-65l0 1M422-68l-36 5l1 3l27-4M383-64l0 3l3 0M369-62l1 2l13-2M369-61l-5 1a369 369 0 0 1 1 5M365-58l-6 1l0 4M359-55l-3 1l0 3M352-61a357 357 0 0 1 1 9l3-1M334-59a339 339 0 0 1 1 5l17-2M331-60l1 4l3 0M338-69l-16 3a329 329 0 0 1 2 9l7-1M323-61l-3 0a326 326 0 0 1 3 16M315-68a323 323 0 0 1 3 15l3 0M244-119l-4 2a267 267 0 0 1 22 67l55-10M335-187l-132 74a233 233 0 0 1 18 40l32-11M382-44l0 3M378-45l1 3l3 0M375-47l0 4l3 0M356-46l0 3l19-2M352-47l1 3l3 0M349-47l0 2l4 0M346-48l0 2l3 0M346-47l-3 1a346 346 0 0 1 1 12M395-36l0 2M395-35l-3 1l0 3M371-28l0 2M392-33l-30 3l0 4l9-1M407-25l0 1M392-26l0 2l15 0M392-25l-3 1l0 3M389-23l-6 1l0 2M383-21l-21 1l0 2M362-19l-11 1l0 2M362-28l-21 1a342 342 0 0 1 1 10l9 0M385-16l0 1M403-13l0 1M403-12l-3 0l0 2M400-11l-3 0l0 2M397-10l-32 1l0 1M385-16l-23 1a362 362 0 0 1 0 7l3 0M395-7l0 2M365-2l0 3M403 4l0 1M399 3l0 2l4 0M393 2l0 2l6 0M393 3l-3 0l0 3M365-1l-4 0l0 5l29 0M361 2l-3 0l0 5M395-6l-57 1a338 338 0 0 1 0 9l20 0M403 8l0 2M338-1l-4 0a334 334 0 0 1 0 9l69 1M362-11l-31 0a331 331 0 0 1 0 15l3 0M341-22l-26 2a316 316 0 0 1 1 17l15 0M316-12l-3 0a313 313 0 0 1 0 21M308-29a310 310 0 0 1 2 28l3 0M421 16l0 1M403 14l0 2l18 0M377 12l0 2l26 1M309-15l-3 0a306 306 0 0 1 0 26l71 2M402 27l0 2M402 28l-23-2l0 2M406 32l0 1M380 29l0 2l26 2M379 27l-3 0l0 3l4 0M373 22a374 374 0 0 1 0 6l3 0M337 19l0 4l36 2M397 38l0 1M385 35l0 3l12 1M389 48l0 1M386 46l0 2l3 1M383 44l0 3l3 0M380 43l0 2l3 1M377 42l0 2l3 0M362 39l0 2l15 2M395 53l0 1M389 51l0 1l6 1M382 53l0 2M389 51l-29-3l0 3l22 3M362 40l-12-1a352 352 0 0 1 -1 9l11 1M349 43l-3 0a349 349 0 0 1 -1 8M344 36a346 346 0 0 1 -1 10l3 1M339 35a340 340 0 0 1 -1 6l5 0M385 37l-49-5a337 337 0 0 1 -1 5l3 1M325 29l-1 4l12 2M322 27l-1 4l4 0M337 21l-18-1a320 320 0 0 1 -1 9l4 0M316 17a317 317 0 0 1 0 7l3 0M316 21l-3-1a313 313 0 0 1 -3 26M304 16a304 304 0 0 1 -2 16l10 1M424 66l0 1M394 60l-1 2l31 5M383 65l0 2M372 61l0 3l11 2M394 61l-45-7a353 353 0 0 1 -1 5l24 4M376 68l-1 2M349 56l-4 0a350 350 0 0 1 -1 7l31 6M303 24l-7 0a297 297 0 0 1 -3 27l52 9M294 13a294 294 0 0 1 -2 24l3 0M293 25l-8-1a286 286 0 0 1 -4 29M306-2l-23 0a283 283 0 0 1 -3 40l3 1M282 18l-3 0a280 280 0 0 1 -5 35M275-26a276 276 0 0 1 -1 61l3 1M344-40l-73 8a273 273 0 0 1 2 36l3 0M273-14l-8 1a265 265 0 0 1 -5 64M396 83l0 1M393 81l0 2l3 1M356 73l0 1l37 8M356 74l-3-1l-1 3M335 67l0 4l17 3M396 88l0 1M396 88l-18-4l0 2M378 85l-10-2l0 2M364 80l0 3l4 1M364 81l-3 0l-1 3M389 92l-1 2M388 93l-36-9l-1 3M392 101l0 1M382 97l0 2l10 2M361 91l0 1l21 6M351 86l-40-10l0 3l50 13M361 82l-63-14a306 306 0 0 1 -1 6l14 3M298 71l-3-1a303 303 0 0 1 -2 7M381 101l-1 2M381 102l-29-8l-1 2M392 112l0 1M367 104l0 2l25 7M364 102l0 2l3 1M354 98l0 2l10 3M354 99l-19-5l-1 4M335 96l-13-4l-1 3M351 95l-33-9a329 329 0 0 1 -2 6l6 2M380 114l0 1M372 117l-1 1M371 117l-3-1l0 2M354 110l0 2l14 5M354 111l-30-9l-1 3M382 128l-1 1M371 123l0 2l11 4M324 104l-15-5l-1 4l63 21M309 101l-7-2l-1 4M347 122l-1 2M347 123l-24-8l0 2M320 110a338 338 0 0 1 -2 4l5 2M370 137l0 2M349 128l-1 2l22 8M349 129l-17-6l-1 3M319 112l-3-1a335 335 0 0 1 -2 7l17 6M301 101l-3-1a315 315 0 0 1 -2 7l19 7M298 92a311 311 0 0 1 -4 11l3 1M295 90a308 308 0 0 1 -2 6l3 1M380 114l-88-26l-1 4l3 1M291 90l-35-11a268 268 0 0 1 -6 18M317 89l-86-24a240 240 0 0 1 -4 14l27 9M294 74l-64-16a237 237 0 0 1 -4 13l3 1M335 69l-115-24a224 224 0 0 1 -4 16l12 3M339 137l-2 3M338 138l-20-8l-1 3M301 118a323 323 0 0 1 -3 6l19 7M299 121l-17-7a304 304 0 0 1 -2 5M218 53l-5-1a219 219 0 0 1 -11 32l79 32M211 42a216 216 0 0 1 -6 25l3 1M360 159l0 1M358 156l-1 2l3 2M357 157l-3-1l-1 3M354 158l-3-2l-1 3M350 158l-3-2l-1 2M347 157l-3-1l-1 2M337 146a367 367 0 0 1 -3 7l9 4M375 174l0 1M375 175l-4-2l0 2M371 180l0 1M371 180l-6-2l0 1M365 178l-11-5l-1 2M352 169l-1 3l2 2M350 167l-2 2l3 2M335 159l-1 2l15 7M334 160l-16-8a352 352 0 0 1 -3 5M317 155l-3-2a349 349 0 0 1 -2 4M371 174l-58-27a346 346 0 0 1 -3 6l3 2M351 179l-1 2M329 166l-1 2l23 12M312 150l-14-7a330 330 0 0 1 -4 7l34 17M353 190l-1 3M346 185l-1 3l7 4M346 186l-3-1l-2 3M342 186l-3-1l-1 2M338 179a383 383 0 0 1 -2 6l2 1M310 163l-1 4l28 15M370 208l-1 2M370 209l-3-2l-1 3M366 209l-2-2l-2 2M363 208l-3-2l-1 3M330 184a378 378 0 0 1 -3 5l33 19M310 165l-3-1a348 348 0 0 1 -5 8l27 15M350 206l-1 1M332 194l-1 1l19 11M305 168l-3-2a344 344 0 0 1 -5 8l35 21M299 170l-3-1a341 341 0 0 1 -3 6M295 172l-10-6a329 329 0 0 1 -3 3M284 167l-3-1l-2 2M277 145a313 313 0 0 1 -8 15l11 7M366 228l-1 1M338 215l-2 2M337 216l-10-6a388 388 0 0 1 -3 4M314 199a372 372 0 0 1 -2 4l13 9M312 197l-2 2l3 2M324 219l-2 2M311 210l-1 1l13 9M309 207l-1 2l3 2M309 208l-3-2a369 369 0 0 1 -3 4M311 198l-2-2a366 366 0 0 1 -7 10l3 2M305 201l-2-1a362 362 0 0 1 -6 7M366 228l-70-43a349 349 0 0 1 -7 11l11 8M294 182a346 346 0 0 1 -4 7l2 1M292 179a342 342 0 0 1 -3 5l3 1M290 177l-2 3l2 1M289 178l-3-1a336 336 0 0 1 -11 16M281 185l-3-2a333 333 0 0 1 -7 10M260 158a305 305 0 0 1 -9 14l24 16M273 153l-17-10a293 293 0 0 1 -10 16l10 6M296 147l-36-18a290 290 0 0 1 -12 20l3 2M254 139l-3-1a287 287 0 0 1 -18 29M312 236l-2 2M311 237l-6-5l-2 2M304 233l-2-2l-2 2M301 232l-13-10l-1 2M311 248l-1 2M310 249l-2-2l-1 2M302 238a384 384 0 0 1 -3 3l8 7M286 224l-2 3l16 13M288 223l-3-2l-2 3l2 2M313 258l-1 1M307 252l-2 1l7 6M300 245l-1 2l7 5M284 222l-3-2a357 357 0 0 1 -5 7l24 19M284 212a354 354 0 0 1 -8 9l3 2M282 210a351 351 0 0 1 -5 5l3 2M280 207a348 348 0 0 1 -3 3l3 2M278 209l-2-2a345 345 0 0 1 -12 14M275 202a341 341 0 0 1 -8 10l3 2M325 274l-1 1M307 264l-1 1M293 264l-2 2M281 249a375 375 0 0 1 -3 3l14 13M262 229a348 348 0 0 1 -3 3l20 18M292 273l-1 0M291 270l-2 1l3 2M290 270l-8-7l-2 2M281 260l-2 2l2 2M280 257l-2 2l2 2M260 231l-2-3a345 345 0 0 1 -5 6l26 24M307 264l-59-50a328 328 0 0 1 -5 6l12 11M295 285l-1 1M294 282l-2 1l3 2M288 275l-1 1l6 6M288 276l-22-21l-2 3M246 217l-3-2a324 324 0 0 1 -10 11l32 30M244 209a321 321 0 0 1 -8 9l2 2M324 274l-81-69a318 318 0 0 1 -5 6l2 2M240 208l-2-2a315 315 0 0 1 -13 14M271 207l-29-22a305 305 0 0 1 -18 22l7 6M243 178a302 302 0 0 1 -12 16l2 2M241 176a298 298 0 0 1 -6 8l2 2M239 173a295 295 0 0 1 -3 5l2 2M237 176l-6-6a287 287 0 0 1 -27 31M243 153l-3-2a283 283 0 0 1 -25 33l3 2M278 282l-1 1M276 284l-1 2M277 283l-2-3l-2 3l2 2M274 282l-2-3a390 390 0 0 1 -3 3M272 274a387 387 0 0 1 -4 5l2 2M270 277l-2-3a383 383 0 0 1 -5 5M265 277l-2-3a380 380 0 0 1 -3 3M262 276l-3-3l-2 3M258 275l-2-3l-2 2M262 262a371 371 0 0 1 -9 9l2 2M260 259a367 367 0 0 1 -5 5l2 3M289 313l-1 1M258 262l-3-3a364 364 0 0 1 -9 9l42 46M228 168l-2-2a280 280 0 0 1 -33 37l58 61M335 149l-82-36a277 277 0 0 1 -45 70l2 2M233 150l-3-2a274 274 0 0 1 -45 54M249 107a271 271 0 0 1 -42 68l2 2M271 302l-1 1M263 292l-1 1l8 9M263 293l-2-3l-2 2M274 316l-1 1M273 313l-1 1l2 3M272 314l-2-3l-2 2M250 285l-2 2l21 25M249 282l-2 2l2 2M248 283l-2-2a373 373 0 0 1 -4 3M260 291l-23-26a356 356 0 0 1 -4 4l11 13M268 315l-1 1M267 316l-3-4l-3 2M263 313l-23-27l-2 2M235 267l-11-12a340 340 0 0 1 -7 6l22 26M221 258l-2-2a337 337 0 0 1 -6 4M224 247a333 333 0 0 1 -10 9l2 2M219 251l-16-18a309 309 0 0 1 -9 7M230 142l-3-1a267 267 0 0 1 -55 64l27 31M243 104a264 264 0 0 1 -43 69l2 2M240 299l-2 1M249 318l-2 1M239 300l-14-17l-3 2l26 34M232 308l-3 1M231 309l-3-3l-3 2M227 307l-2-3l-2 2M224 305l-2-2l-2 1M237 332l-2 2M227 316l-2 1l11 16M226 316l-5-7a380 380 0 0 1 -4 3M221 304l-2-3a372 372 0 0 1 -4 3l4 6M223 294a369 369 0 0 1 -8 6l2 3M219 297l-2-2a366 366 0 0 1 -9 6M213 298l-2-3a363 363 0 0 1 -5 4M208 297l-2-3a359 359 0 0 1 -3 3M216 283a356 356 0 0 1 -13 10l2 2M215 280a353 353 0 0 1 -8 6l2 2M205 267a336 336 0 0 1 -4 3l10 13M236 356l-2 1M235 356l-14-21l-1 1M208 311l-2 2l14 23M207 308l-2 2l2 2M206 305l-2 1l2 3M205 305l-7-10a356 356 0 0 1 -6 4M195 297l-1-3a352 352 0 0 1 -5 4M203 268l-14-19a312 312 0 0 1 -20 13l22 34M224 284l-36-45a304 304 0 0 1 -14 10l5 7M223 354l-1 0M210 344l-1 0M209 344l-8-14l-2 1M200 331l-1-3l-2 1M192 310a364 364 0 0 1 -4 2l10 16M222 354l-30-48a361 361 0 0 1 -4 2l2 3M216 368l-1 1M210 355l-1 1l7 12M209 352l-1 1l1 3M190 307l-13-21a337 337 0 0 1 -5 4l37 62M195 341l-2 1M194 341l-6-11l-3 2M187 325l-3 1l3 5M183 316l-2 1l5 8M182 317l-5-10a354 354 0 0 1 -5 3M174 288l-1-3a334 334 0 0 1 -9 6l10 18M168 288l-1-3a331 331 0 0 1 -8 5M181 244l-17-23a276 276 0 0 1 -28 19l27 47M224 140l-21-13a240 240 0 0 1 -72 74l20 30M180 347l-1 1M180 348l-10-19l-2 1M169 330l-1-3l-2 1M166 316a357 357 0 0 1 -4 2l5 9M164 317l-2-3a354 354 0 0 1 -4 2M164 310a350 350 0 0 1 -5 2l1 3M161 311l-1-3a347 347 0 0 1 -6 3M162 304a344 344 0 0 1 -7 3l2 3M161 300a341 341 0 0 1 -4 2l2 3M159 301l-1-2a338 338 0 0 1 -9 4M153 301l-1-3a334 334 0 0 1 -5 3M149 299l-1-3a331 331 0 0 1 -4 2M146 297l-1-3l-3 2M149 275a313 313 0 0 1 -12 6l6 14M148 272a310 310 0 0 1 -7 4l2 2M158 345l-2 1M165 381l-1 1M165 382l-10-23l-2 0M154 359l-6-16l-2 1M144 329l-3 1l6 14M144 325l-3 2l2 3M143 326l-1-3a353 353 0 0 1 -5 2M141 315a345 345 0 0 1 -5 2l3 7M157 345l-21-46a329 329 0 0 1 -4 2l6 15M138 295a326 326 0 0 1 -5 2l1 3M135 296l-1-3a322 322 0 0 1 -10 5M137 289a319 319 0 0 1 -9 4l1 3M135 284a314 314 0 0 1 -5 2l2 5M145 274l-16-30a275 275 0 0 1 -13 6l17 35M131 239a272 272 0 0 1 -10 5l2 3M142 350l-2 1M137 335l-2 1l6 15M140 362l-2 1M139 363l-2-3l-2 0M139 356l-4 1l1 3M136 335l-7-16a344 344 0 0 1 -5 2l13 35M126 320l-1-3a340 340 0 0 1 -6 2M122 318l-2-6l-4 1M117 285a308 308 0 0 1 -9 3l10 25M132 361l-2 0M130 374l-1 0M125 374l-2 0M123 365l-2 1l3 8M118 345l-2 0l6 21M117 345l-1-3l-4 1M129 374l-12-36a358 358 0 0 1 -4 2l1 3M116 331l-3 1l2 7M114 332l-1-3a348 348 0 0 1 -6 2M115 324a344 344 0 0 1 -6 2l1 4M131 361l-24-67a313 313 0 0 1 -5 2l10 29M112 357l-2 1M115 379l-1 0M111 358l-4-14l-3 1l11 34M104 295l-6-19a293 293 0 0 1 -12 4l20 64M113 287l-10-25a282 282 0 0 1 -15 6l4 10M99 239a259 259 0 0 1 -11 4l8 22M126 241l-8-15a255 255 0 0 1 -26 11l1 4M112 388l-1 0M106 391l-1 0M106 388l-1 0l1 3M105 376l-3 0l4 12M102 360l-3 1l5 15M98 374l-2 0M97 374l-2-8l-2 1M94 366l-7-28l-3 0M85 338l0-3l-3 0M101 361l-15-52a321 321 0 0 1 -9 3l6 23M94 409l-2 0M88 373l-3 1l8 35M86 374l0-3l-4 0M84 371l-2-9l-3 0M85 355a365 365 0 0 1 -6 1l1 6M82 356l-7-33a332 332 0 0 1 -5 1M85 399l-1 0M72 324l-1-5l-4 0l17 80M75 375l-3 1M77 372l-4 1l1 3M69 319l-1-5a321 321 0 0 1 -5 1l12 57M82 310l-1-3a318 318 0 0 1 -16 4l1 3M73 309l-1-3a315 315 0 0 1 -13 3M66 372l-2 0M65 372l-2-9l-1 0M62 363l0-3l-2 0M65 353a359 359 0 0 1 -5 1l1 6M65 308l0-3a311 311 0 0 1 -11 2l9 47M112 388l-27-92a308 308 0 0 1 -26 7l1 3M86 293a305 305 0 0 1 -15 4l1 3M62 401l-1 1M58 366l-2 1l6 35M56 377l-1 1M55 378l-2-14l-3 0M52 402l-2 1M50 377l-2 0l3 25M52 364l-1-3l-4 0l2 16M57 367l-4-24a347 347 0 0 1 -6 1l2 17M55 339a344 344 0 0 1 -5 1l0 3M52 340l0-3a341 341 0 0 1 -11 1M52 318a322 322 0 0 1 -8 1l2 18M79 295l-1-3a302 302 0 0 1 -33 7l3 19M61 296l0-4a299 299 0 0 1 -26 5M84 283a295 295 0 0 1 -37 9l1 3M80 268a279 279 0 0 1 -18 4l4 16M71 270l-2-7a272 272 0 0 1 -38 7M39 429l-1 1M32 396l-1 0M32 396l0-4l-2 1M33 386l-3 0l1 6M38 430l-4-47l-3 0l0 3M33 383l-2-19l-4 0M34 361l-5 0l0 3M34 357l-3 1l0 3M35 354l-3 0l1 3M36 351l-3 0l1 3M36 342l-2 0l0 9M36 339l-2 0l1 3M35 339l-1-9a332 332 0 0 1 -11 1M28 408l-2 0M22 400l-3 0M21 400l-2-29l-2 0M18 371l0-3l-2 0M17 368l-1-11l-2 0M14 412l-1 0M15 409l-1 0l0 3M12 407l-1 0M14 409l-1-35l-3 0l1 33M15 357l0-17l-4 0l1 34M13 340l0-3l-5 0M20 333a334 334 0 0 1 -10 1l0 3M27 408l-6-85a324 324 0 0 1 -6 1l0 10M29 331l-2-17a315 315 0 0 1 -10 1l1 8M34 310a312 312 0 0 1 -12 1l0 3M5 418l-1 0M6 400l-2 0l1 18M7 397l-2 0l0 3M6 397l0-4l-3 0M7 356l-3 0l0 37M6 356l0-4a352 352 0 0 1 -6 0M3 352l0-3l-5 0M-9 402l-2 0M-10 402l1-17l-2 0M-7 372l-3 0l0 13M-6 358l-2 0l0 14M-16 407l-2 0M-18 399l-1 0M-17 407l1-22l-2 0l-1 14M-14 382l-3 0l0 3M-15 382l0-19l-4 0M-11 357a357 357 0 0 1 -5-1l-1 7M-7 358l1-35a323 323 0 0 1 -7-1l-1 34M-9 323l0-4a319 319 0 0 1 -8 0M-4 316a316 316 0 0 1 -9 0l0 3M-25 388l-3 0M-24 385l-2 0l-1 3M-25 385l0-6l-4 0M-27 379l0-3l-3-1M-22 373a373 373 0 0 1 -6-1l0 3M-25 372l1-21l-5 0M-19 341a342 342 0 0 1 -7 0l0 10M-23 341l1-3a339 339 0 0 1 -7-1M-25 338l0-7l-4 0M-40 408l-2 0M-39 405l-2 0l0 3M-40 405l2-18l-2 0M-35 375l-3-1l-1 13M-36 374l0-3l-4 0M-31 347l-5 0l-2 24M-44 397l-1 0M-33 347l0-3a346 346 0 0 1 -5-1l-6 54M-27 331l1-9a323 323 0 0 1 -7 0l-3 22M-48 409l-2 0M-49 409l2-15l-2 0M-53 401l-1 0M-51 398l-2-1l-1 4M-52 398l6-45l-3 0M-60 394l-2-1M-57 380l-2-1l-2 15M-58 380l1-8l-3 0M-54 369l-4 0l0 3M-56 369l0-3l-4-1M-58 365l1-3l-4 0M-59 362l3-20l-3-1M-70 397l-1 0M-70 397l5-30l-3 0M-57 342l0-3l-4-1l-5 29M-59 338l1-3a340 340 0 0 1 -5-1M-61 335l1-4l-4 0M-48 330a334 334 0 0 1 -13-2l-1 3M-46 327a330 330 0 0 1 -8-1l0 3M-50 327l0-4a327 327 0 0 1 -13-2M-48 353l5-32a324 324 0 0 1 -13-2l0 3M-48 394l9-76a321 321 0 0 1 -10-1l0 3M-37 316a318 318 0 0 1 -7-1l0 3M-30 322l3-29a294 294 0 0 1 -10-1l-3 23M-9 316l1-25a291 291 0 0 1 -24-2l0 4M-3 288a288 288 0 0 1 -17-1l0 4M-2 285a285 285 0 0 1 -9 0l0 3M-7 285l1-3a282 282 0 0 1 -49-6M-31 280l1-7a274 274 0 0 1 -24-4M-42 271l0-3a271 271 0 0 1 -12-2M1 349l0-81a268 268 0 0 1 -48-4l-1 3M28 311l-4-47a265 265 0 0 1 -47 0l0 3M29 260a261 261 0 0 1 -29 1l0 4M15 261l0-3a258 258 0 0 1 -67-5M-19 258l0-4a255 255 0 0 1 -33-4M50 267l-7-39a232 232 0 0 1 -75 2l-4 23M-87 372l-2 0M-88 372l1-3l-2-1M-88 369l1-4l-2 0M-93 366l-2-1M-91 362l-2-1l-1 4M-109 404l-1 0M-109 404l7-25l-2 0M-92 361l3-9a363 363 0 0 1 -6-2l-8 29M-110 396l-1-1M-92 351l0-3a360 360 0 0 1 -5-2l-13 49M-83 335a345 345 0 0 1 -7-2l-4 14M-88 365l9-39a335 335 0 0 1 -5-2l-3 10M-81 325l0-3a332 332 0 0 1 -10-3M-86 321l1-3a329 329 0 0 1 -6-2M-72 317a325 325 0 0 1 -15-3l-1 3M-112 378l-2 0M-113 378l4-14l-3-1M-105 358l-3-1l-2 6M-101 350l-3 0l-2 7M-79 316l0-3a322 322 0 0 1 -12-4l-12 41M-69 312a319 319 0 0 1 -15-4l-1 3M-128 397l-1-1M-125 380l-2 0M-129 396l14-43l-2 0l-9 27M-116 353l1-3l-4-1M-108 341a357 357 0 0 1 -5-2l-4 10M-111 340l1-3a354 354 0 0 1 -5-2M-113 336l1-3l-3-1M-104 332a348 348 0 0 1 -8-3l-1 3M-136 384l-1 0M-129 367l-1 0l-6 17M-140 386l-1-1M-138 383l-2 0l-1 3M-139 383l8-21l-3-1M-132 362l1-3l-2-1M-130 367l10-28a359 359 0 0 1 -5-2l-7 21M-108 331l2-7a341 341 0 0 1 -10-4l-6 18M-111 322l1-3a337 337 0 0 1 -9-3M-114 317l1-3a334 334 0 0 1 -7-2M-98 316a331 331 0 0 1 -17-6l-1 3M-76 310l3-16a303 303 0 0 1 -25-7l-9 26M-64 293a300 300 0 0 1 -20-5l-1 3M-63 290a297 297 0 0 1 -10-3l-1 4M-57 268a274 274 0 0 1 -6-1l-5 22M-149 377l-1 0M-150 371l-2-1M-147 366l-2-1l-2 6M-148 365l3-7a386 386 0 0 1 -4-2M-147 357l8-19l-4-1M-166 379l-1 0M-163 366l-1 0M-163 366l1-3l-2-1M-163 363l1-3l-2-1M-163 359l1-3l-2-1M-166 379l15-36a375 375 0 0 1 -5-2l-7 15M-153 342l1-3a372 372 0 0 1 -4-2M-154 338l1-3l-3-1M-145 335a365 365 0 0 1 -8-3l-2 3M-149 333l1-2a362 362 0 0 1 -6-3M-129 299a326 326 0 0 1 -7-3l-15 33M-141 337l17-40a322 322 0 0 1 -7-2l-1 2M-187 385l-1 0M-187 385l12-25l-1-1M-176 359l8-16l-1-1M-161 338a374 374 0 0 1 -4-2l-4 7M-163 337l2-4a370 370 0 0 1 -4-2M-163 332l1-3l-3-1M-163 329l9-18l-2-1M-186 363l-1 0M-187 363l5-10l-2-1M-182 346l-2-1M-183 353l11-20a375 375 0 0 1 -4-2l-7 15M-174 332l1-2a372 372 0 0 1 -4-3M-196 360l-1 0M-175 328l2-2a369 369 0 0 1 -4-2l-19 36M-166 326a366 366 0 0 1 -7-4l-2 3M-170 324l2-3a362 362 0 0 1 -7-4M-155 310l7-14a331 331 0 0 1 -9-5l-15 28M-211 369l-1-1M-196 345l-2-1l-14 25M-206 350l-2-1M-203 348l-2-2l-2 3M-201 345l-2-1l-1 3M-197 344l12-20l-3-2l-14 23M-182 322l-3-2l-2 3M-173 308l-2-1l-9 14M-174 307l2-4a348 348 0 0 1 -8-5M-219 348l-1-1M-207 331l-1-1l-11 17M-200 325l-3-2l-4 7M-197 323l-3-2l-2 3M-232 362l-1-1M-233 362l11-18l-1-1M-203 318l-1-2l-18 28M-199 322l3-4a373 373 0 0 1 -6-4l-1 3M-192 317a370 370 0 0 1 -5-4l-2 3M-176 300l11-18a327 327 0 0 1 -7-4l-23 37M-169 280l2-2a324 324 0 0 1 -10-7M-221 329l-1-1M-218 327l-2-1l-2 3M-219 327l4-6l-2-2M-216 320l2-3l-2-1M-236 340l-1 0M-227 329l-2-1l-7 12M-215 316l12-17l-3-2l-22 32M-197 298a357 357 0 0 1 -5-4l-3 4M-191 290l-3-2l-5 8M-192 289l1-3a344 344 0 0 1 -7-4M-194 284l2-3a341 341 0 0 1 -5-3M-172 274l2-2a321 321 0 0 1 -13-9l-11 17M-177 268l2-3a318 318 0 0 1 -9-6M-179 262l1-3a314 314 0 0 1 -5-3M-152 272a311 311 0 0 1 -26-17l-2 3M-149 269a308 308 0 0 1 -15-8l-1 3M-237 330l-1-1M-241 332l-1-1M-237 329l3-5l-2-1l-6 8M-231 313l-2-2M-248 329l-1-1M-232 312l10-13l-3-2l-23 32M-235 324l18-25a369 369 0 0 1 -5-3l-1 2M-219 297l6-8a360 360 0 0 1 -5-3M-157 265l10-15a290 290 0 0 1 -27-18l-42 56M-152 294l20-40a287 287 0 0 1 -27-16l-2 3M-128 296l16-36a283 283 0 0 1 -32-16l-2 3M-149 377l46-117a280 280 0 0 1 -24-10l-1 3M-253 325l-1-1M-253 325l1-3l-1-1M-252 322l20-26l-1-1M-227 295a373 373 0 0 1 -4-2l-2 2M-225 293l-2-2l-2 3M-115 255l1-2a277 277 0 0 1 -55-34l-57 73M-100 255a274 274 0 0 1 -41-20l-2 2M-60 267l1-3a271 271 0 0 1 -60-21l-2 3M-245 298a386 386 0 0 1 -3-3M-223 276a355 355 0 0 1 -4-3l-20 23M-272 319l-1-1M-272 318l17-20l-2-1M-252 297l-2-2l-2 3M-249 295l-2-1l-2 2M-225 274l12-15a335 335 0 0 1 -4-3l-33 38M-208 259a332 332 0 0 1 -5-4l-2 2M-264 298l-1-1M-249 285l-2-2l-13 15M-250 284l4-4a373 373 0 0 1 -3-3M-262 282l-1-1M-239 261l-2-2l-22 23M-291 306l-2-1M-287 298l-2-1M-292 306l31-33l-2-2l-25 26M-243 257l-2-2l-17 17M-240 260l2-2a351 351 0 0 1 -4-4l-2 2M-233 257a347 347 0 0 1 -5-4l-2 3M-236 255l15-15a326 326 0 0 1 -7-7M-216 240a323 323 0 0 1 -7-6l-2 2M-248 279l37-42a317 317 0 0 1 -5-4l-3 4M-289 291l-1-1M-269 273l-2-1l-19 19M-270 272l2-2l-2-2M-213 235l13-15a298 298 0 0 1 -11-9l-58 58M-211 257l24-29a295 295 0 0 1 -16-15l-2 3M-182 227a291 291 0 0 1 -11-9l-2 3M-291 280l0-1M-272 263l-1-1l-18 18M-310 295l0-1M-310 295l36-34l-1-1M-272 263l2-2l-2-3l-3 2M-264 257l-2-2l-5 4M-265 256l2-2a366 366 0 0 1 -4-4M-249 244a349 349 0 0 1 -4-4l-12 12M-251 242l3-2a345 345 0 0 1 -5-4M-244 240a342 342 0 0 1 -4-4l-3 2M-299 277l-1 0M-246 238l7-7a333 333 0 0 1 -5-5l-55 51M-294 268l-1-2M-295 267l3-2l-2-2M-293 264l2-2l-1-2M-275 252a373 373 0 0 1 -3-3l-13 12M-276 250l14-12a354 354 0 0 1 -3-3M-242 229l13-12a315 315 0 0 1 -6-7l-29 27M-188 223l18-22a263 263 0 0 1 -24-23l-38 36M-161 202a259 259 0 0 1 -18-15l-3 3M-294 247l-1-1M-315 260l-1-1M-291 242l-1-2l-23 19M-294 246l12-9l-2-2l-8 6M-279 236l-2-2l-2 2M-275 235l-2-2l-3 2M-292 235l-1-3M-276 234l7-6a353 353 0 0 1 -7-8l-16 13M-266 228a350 350 0 0 1 -4-6l-3 2M-268 225l3-2a347 347 0 0 1 -7-8M-260 224a343 343 0 0 1 -6-7l-3 2M-263 221l2-2a340 340 0 0 1 -7-9M-255 221a337 337 0 0 1 -7-9l-2 2M-252 219a334 334 0 0 1 -4-4l-2 2M-254 217l3-2a331 331 0 0 1 -10-12M-256 209l2-2a327 327 0 0 1 -5-6M-229 201a305 305 0 0 1 -10-11l-17 14M-307 233l-2-2M-308 232l11-8l-2-2M-287 220a362 362 0 0 1 -3-3l-8 6M-284 219l-2-3l-3 2M-326 237l-1-1M-323 236l-1-1l-2 1M-327 233l-1-1M-354 247l0-1M-317 222l-1-1l-36 25M-328 232l30-21l-1-2l-19 13M-294 211l-2-3l-2 2M-323 235l46-34l-2-3l-16 12M-278 200l3-2a339 339 0 0 1 -4-6M-335 228l-1 0M-326 219l-1-1M-326 219l11-8l-2-3M-336 228l27-18a374 374 0 0 1 -3-3l-4 2M-306 210l-2-3l-2 1M-307 208l9-6a360 360 0 0 1 -3-5M-277 195l16-11a319 319 0 0 1 -5-7l-33 22M-263 180l2-2a316 316 0 0 1 -4-6M-246 181a305 305 0 0 1 -8-12l-9 6M-239 177a297 297 0 0 1 -4-7l-7 5M-346 211l0-1M-338 208l-1-2l-7 5M-335 207l-1-2l-2 2M-323 201l-1-2l-11 7M-324 200l3-1a377 377 0 0 1 -2-4M-306 192a361 361 0 0 1 -2-4l-14 9M-307 190l3-2a358 358 0 0 1 -3-4M-358 213l0-1M-306 186l3-1a355 355 0 0 1 -2-4l-53 31M-270 172a320 320 0 0 1 -4-7l-30 18M-346 203l-1-1M-359 208l-1-1M-359 208l2-2l0-1M-357 206l35-21l-1-2M-322 184l3-1l-2-3M-320 181l3-1l-2-3M-346 203l34-20a361 361 0 0 1 -3-6l-3 2M-272 168l3-1a317 317 0 0 1 -6-9l-39 22M-263 170a313 313 0 0 1 -6-10l-3 2M-345 189l-1-2M-345 188l16-9l-1-2M-324 178l-1-2l-4 2M-325 177l3-1l-1-4M-266 165l18-11a292 292 0 0 1 -9-16l-66 36M-241 174l9-7a286 286 0 0 1 -16-23l-4 2M-285 217l68-51a273 273 0 0 1 -12-18l-11 8M-234 195l27-22a270 270 0 0 1 -14-18l-2 2M-200 176a267 267 0 0 1 -11-14l-3 2M-170 195l29-34a214 214 0 0 1 -25-25l-40 33M-334 174l-1-1M-328 173l-1-2l-5 3M-322 170l-1-1l-6 3M-322 170l2-2a361 361 0 0 1 -2-4M-321 166l9-5l-1-3M-363 175l-1-1M-364 174l5-2l-1-2M-352 171l-1-3l-6 3M-353 169l9-4l-2-2M-340 166l-2-3l-3 1M-341 164l3-1a375 375 0 0 1 -2-4M-326 160a363 363 0 0 1 -2-5l-11 6M-321 159l-2-3l-4 2M-299 149l-1-2l-22 10M-341 157l-1-2M-341 156l3-1l-2-3M-338 147l-1-4M-327 143l-1-3l-10 5M-327 142l5-3a351 351 0 0 1 -3-6M-318 140a348 348 0 0 1 -3-5l-3 1M-301 133l-1-3l-18 8M-397 157l0-2M-371 148l0-2l-26 10M-367 148l-1-2l-3 1M-367 147l3-1a393 393 0 0 1 -2-4M-379 145l-1-1M-365 144l3-1a389 389 0 0 1 -2-4l-15 6M-358 146a386 386 0 0 1 -2-6l-3 1M-359 143l3-1a383 383 0 0 1 -3-7M-357 138l32-12a349 349 0 0 1 -2-4M-326 124l3-1l-1-3M-392 140l0-1M-371 134l-1-2l-20 7M-372 133l14-5l-1-2M-352 128l-1-3l-5 2M-348 128l-1-3l-3 1M-324 121l25-9l-1-3l-49 17M-301 132l12-5a316 316 0 0 1 -7-18l-3 1M-293 118l3-1a313 313 0 0 1 -5-14M-339 153l57-26a310 310 0 0 1 -8-18l-3 1M-278 129a306 306 0 0 1 -5-12l-3 1M-390 134l0-1M-367 122l-1-2M-360 122l-1-3l-7 2M-390 134l35-12l-1-3l-4 1M-356 120l3-1a372 372 0 0 1 -1-5M-281 123l3-1a303 303 0 0 1 -10-27l-66 22M-283 108l4-1a298 298 0 0 1 -5-17M-300 148l55-27a273 273 0 0 1 -13-31l-24 8M-312 160l76-39a265 265 0 0 1 -8-18l-8 3M-413 124l0-1M-393 120l-1-2l-19 6M-397 116l-1-1M-397 116l30-9l0-2M-350 103l-1-2l-16 5M-394 119l48-14l-1-4l-3 1M-395 112l0-1M-395 111l6-1l0-2M-389 109l3-1l0-2M-347 103l24-7a336 336 0 0 1 -1-6l-62 17M-397 108l0-1M-397 107l20-5l0-2M-377 101l11-3l0-2M-393 98l0-1M-390 99l0-2l-3 1M-374 96l0-2l-16 4M-374 95l3-1l-1-3M-355 92l-1-3l-15 4M-408 98l-1-2M-393 95l0-2l-15 4M-356 90l3 0a364 364 0 0 1 -1-5l-39 9M-366 97l37-10a340 340 0 0 1 -1-5l-23 5M-323 93l12-4a323 323 0 0 1 -2-9l-17 4M-387 83l-1-3M-400 79l0-1M-368 69l0-1M-400 79l36-7l-1-4l-3 1M-365 70l3-1l0-3M-340 69a347 347 0 0 1 -1-6l-21 4M-340 66l3 0a343 343 0 0 1 -1-6M-388 81l55-11a340 340 0 0 1 -1-8l-4 1M-329 72a337 337 0 0 1 -2-7l-3 1M-326 73a334 334 0 0 1 -1-5l-3 1M-318 72l-1-3l-7 2M-315 73l-1-3l-3 1M-312 85l3-1a320 320 0 0 1 -3-13l-3 0M-383 63l-1-1M-426 66l0-1M-400 63l0-1l-26 4M-400 62l3 0l0-3M-397 61l3-1l0-2M-394 59l14-2l-1-2M-380 56l11-2l0-2M-383 63l20-4a367 367 0 0 1 -1-7l-5 1M-359 61a364 364 0 0 1 -1-6l-3 1M-328 57l-1-4l-31 5M-421 50l0-1M-396 48l0-2l-25 3M-394 40l0-2M-390 41l-1-2l-3 0M-366 39l0-2l-25 3M-356 39l0-2l-10 1M-352 40l-1-2l-3 0M-396 47l47-5l0-4l-3 1M-336 42l-1-3l-12 1M-393 33l0-2M-390 34l0-2l-3 0M-370 33l0-2l-20 2M-337 40l3 0a336 336 0 0 1 -1-11l-35 3M-330 42a333 333 0 0 1 -1-8l-3 1M-326 42l-1-4l-3 0M-323 43l-1-3l-3 0M-320 43l0-2l-3 0M-320 42l9-1a314 314 0 0 1 -2-19M-393 24l0-2M-393 23l22-1l0-2M-371 21l20-1l0-3M-345 23l0-5l-6 0M-396 16l-1-2M-396 15l3 0l0-2M-388 17l0-3l-5 0M-388 15l3 0l0-4M-385 13l3 0l0-3M-361 17a362 362 0 0 1 -1-6l-20 1M-362 14l13-1l0-5M-349 11l3 0a346 346 0 0 1 0-6M-421 1l0-2M-382 2l0-2l-39 0M-394-5l0-2M-394-6l13 0l0-3M-407-11l0-1M-381-7l3 0l0-4l-29 0M-378-9l3 0l0-3M-372-4a372 372 0 0 1 0-6l-3 0M-372-7l4 0a369 369 0 0 1 0-6M-365-2a365 365 0 0 1 0-8l-3 0M-382 1l20 0a362 362 0 0 1 0-7l-3 0M-346 8l19-1a327 327 0 0 1 0-9l-35-1M-345 20l21-1a324 324 0 0 1 0-17l-3 0M-324 11l3 0a321 321 0 0 1 0-23M-321-1l3 0a318 318 0 0 1 0-12M-312 31l3 0a311 311 0 0 1 -2-38l-7 0M-310 12l3 0a308 308 0 0 1 0-25M-308-1l4 0a304 304 0 0 1 0-13M-304-7l3 0a301 301 0 0 1 0-8M-295 41a298 298 0 0 1 -3-52l-3 0M-298 15l4 0a295 295 0 0 1 0-30M-295 0l3 0a292 292 0 0 1 1-16M-329 55l45-8a288 288 0 0 1 -4-55l-3 0M-288 20l4 0a285 285 0 0 1 -1-36M-381-25l0-3M-285 2l3 0a282 282 0 0 1 1-22l-100-6M-275 48a279 279 0 0 1 -4-57l-3 0M-278 20l3 0a276 276 0 0 1 0-41M-276-1l8 0a268 268 0 0 1 1-20M-407-38l0-3M-370-34l0-2l-37-3M-414-43l0-1M-370-35l8 1l1-4l-53-6M-413-48l0-1M-386-44l0-1l-27-3M-402-52l0-1M-388-49l0-2l-14-2M-385-47l0-2l-3-1M-386-44l4 0l0-4l-3 0M-382-46l3 1a382 382 0 0 1 1-6M-379-48l4 0l0-4M-375-50l3 1l0-3M-372-51l3 0l1-2M-367-40a369 369 0 0 1 2-11l-3-1M-366-46l3 1a366 366 0 0 1 1-9M-417-67l0-1M-417-68l7 1l1-1M-373-59l0-2l-36-6M-370-57l0-3l-3 0M-370-59l3 1l1-4M-362-50l31 4a334 334 0 0 1 1-8l-36-6M-362-36l33 3a331 331 0 0 1 2-16l-3-1M-301-25a303 303 0 0 1 1-13l-28-3M-268-11l3 0a265 265 0 0 1 2-17l-38-3M-311 77l57-14a262 262 0 0 1 -7-82l-3 0M-261 22l4 0a258 258 0 0 1 2-66M-258-11l3 0a255 255 0 0 1 4-34M-241 74a252 252 0 0 1 -9-102l-4 0M-251 24l10-1a242 242 0 0 1 3-67M-389-78l1-2M-388-79l3 1l1-4M-382-76l0-3l-3-1M-382-78l3 1l1-4M-376-74a383 383 0 0 1 1-5l-3 0M-373-72l0-3l-3-1M-377-82l0-3M-373-74l17 4a363 363 0 0 1 2-9l-23-5M-354-67a360 360 0 0 1 2-7l-3 0M-392-95l0-1M-370-88l0-2l-22-5M-370-89l4 1l1-2M-362-85l1-3l-4-1M-382-99l1-2M-381-100l21 6l0-3M-409-112l0-1M-378-103l0-1l-31-9M-360-96l3 1l1-2l-22-6M-357-96l4 1l1-4M-352-89a363 363 0 0 1 2-7l-3-1M-385-111l1-2M-382-109l0-2l-3-1M-382-110l19 5l1-3M-361-102l1-4l-3-1M-351-93l18 5a345 345 0 0 1 2-8l-29-8M-332-92l3 1a341 341 0 0 1 2-8M-354-109l0-2M-390-127l0-1M-379-122l0-2l-11-4M-373-119l0-2l-6-2M-371-117l1-2l-3-1M-402-136l1-1M-392-131l1-2l-11-3M-389-129l1-2l-3-1M-370-118l17 5a371 371 0 0 1 2-5l-38-12M-354-110l3 1a367 367 0 0 1 2-5l-3-1M-328-95l3 1a338 338 0 0 1 3-9l-28-9M-325-81a335 335 0 0 1 5-16l-4-1M-361-87l38 10a332 332 0 0 1 3-12l-3 0M-320-75a329 329 0 0 1 2-7l-3-1M-319-78l3 0a325 325 0 0 1 8-28M-312-92l3 1a322 322 0 0 1 5-15M-307-98l17 5a304 304 0 0 1 3-8M-285-66a293 293 0 0 1 8-27l-12-4M-353-70l78 15a280 280 0 0 1 5-21l-12-3M-242-11l10 1a232 232 0 0 1 6-44l-47-12M-219 68a229 229 0 0 1 -8-100l-3-1M-215 68a226 226 0 0 1 -10-50l-3 0M-240 112l42-20a218 218 0 0 1 -16-50l-8 1M-154 149l2-2a211 211 0 0 1 -49-82l-6 2M-90 255l21-59a208 208 0 0 1 -109-89l-3 2M5 232l0-28a204 204 0 0 1 -134-46l-2 3M105 232l-22-49a200 200 0 0 1 -148 7l-1 3M171 168l-31-30a197 197 0 0 1 -131 59l0 3M209 55l-22-6a193 193 0 0 1 -108 127l1 4M264 19l-75-5a190 190 0 0 1 -44 109l2 2M213-94l-43 19a186 186 0 0 1 2 145l4 2M197-159l-55 44a182 182 0 0 1 40 113l4-1M153-221l-51 74a179 179 0 0 1 66 86l4-1M11-251l-3 76a175 175 0 0 1 131 68l3-2M-53-237l16 69a172 172 0 0 1 116 16l2-3M-116-212l35 65a168 168 0 0 1 103-20l0-3M0 0l-296-170M0 0l-293-191M0 0l-282-204M0 0l-255-242M0 0l-214-255M0 0l-186-283" stroke="#868686" stroke-width="1.7" fill="none"/><circle r="325" stroke="#808080" stroke-width="228" pathLength="36000" stroke-dasharray="0 1108 28 34864" fill="none"/><circle r="331" stroke="#808080" stroke-width="216" pathLength="36000" stroke-dasharray="0 16245 44 19711" fill="none"/><circle r="343" stroke="#808080" stroke-width="192" pathLength="36000" stroke-dasharray="0 16277 28 2739 28 6827 28 878 28 9167" fill="none"/><circle r="349" stroke="#808080" stroke-width="180" pathLength="36000" stroke-dasharray="0 1092 28 5617 28 1578 28 1784 44 2644 28 6093 28 17008" fill="none"/><circle r="355" stroke="#808080" stroke-width="168" pathLength="36000" stroke-dasharray="0 2094 28 195 28 2404 28 1340 28 2182 28 1769 44 3676 28 4551 28 5874 28 560 44 1880 28 1769 44 1498 28 2500 28 608 28 2071 28 533" fill="none"/><circle r="361" stroke="#808080" stroke-width="156" pathLength="36000" stroke-dasharray="0 1061 44 2452 28 862 28 2850 28 1674 43 7922 28 1292 28 6478 28 2007 44 1148 28 3423 28 449 44 623 76 640 28 2616" fill="none"/><circle r="367" stroke="#808080" stroke-width="144" pathLength="36000" stroke-dasharray="0 234 60 3279 44 3724 28 942 28 1880 28 2611 28 3343 28 942 28 1053 44 958 28 4999 28 115 28 862 60 465 28 1578 60 7222 28 1217" fill="none"/><circle r="373" stroke="#808080" stroke-width="132" pathLength="36000" stroke-dasharray="0 154 28 100 28 1148 28 211 28 560 28 433 28 2293 60 1006 44 576 28 576 28 974 28 3502 43 2771 28 767 28 544 28 2135 44 178 60 7225 44 1101 28 608 28 528 44 1276 28 735 28 5267 28 517" fill="none"/><circle r="379" stroke="#808080" stroke-width="120" pathLength="36000" stroke-dasharray="0 472 28 338 28 1006 28 210 44 1880 28 369 28 1976 44 242 28 1308 28 973 28 561 28 560 28 2039 28 195 43 624 28 1499 28 4 28 1895 44 863 44 576 28 1673 28 4729 28 576 28 226 44 354 28 131 44 3 28 561 28 1371 28 131 28 1403 28 401 28 799 28 974 28 2754 28 4 28 1201" fill="none"/><circle r="385" stroke="#808080" stroke-width="108" pathLength="36000" stroke-dasharray="0 488 28 1117 28 1419 44 369 76 1196 28 433 28 847 28 274 44 20 28 3 28 434 28 782 28 783 28 36 28 179 28 910 44 242 44 131 44 274 44 99 28 576 28 1530 28 974 44 274 44 1101 28 226 28 1085 76 449 44 2023 28 67 28 465 28 2868 28 2246 28 306 28 306 28 465 44 433 28 1562 28 369 28 974 28 481 28 751 28 290 28 338 28 83 28 147 28 385 28 163 28 974 28 608 60 480 28 211 28 1010" fill="none"/><circle r="391" stroke="#808080" stroke-width="96" pathLength="36000" stroke-dasharray="0 313 28 243 28 210 28 926 60 51 28 52 28 258 28 783 28 36 59 434 28 337 28 84 43 2024 43 147 28 195 28 338 28 67 28 131 28 354 59 434 28 274 44 894 28 131 28 4 28 433 28 67 28 290 28 322 28 290 28 592 28 401 28 195 28 147 44 671 28 290 28 131 28 195 28 226 44 1403 28 306 44 846 28 116 28 2659 28 1834 28 2198 28 84 28 369 60 226 28 561 28 83 28 576 28 640 28 131 28 990 43 863 28 433 28 878 28 211 28 306 28 178 28 704 28 99 60 703 44 115 28 1960 28 242 28 163 44 178 28 195 28 549" fill="none"/><circle r="397" stroke="#808080" stroke-width="84" pathLength="36000" stroke-dasharray="0 1204 28 830 44 1562 28 1546 44 258 44 163 28 306 28 83 60 68 43 227 44 67 28 322 28 99 28 719 44 433 44 306 28 84 28 67 76 35 28 68 28 576 28 1101 28 989 28 386 28 353 28 147 28 306 28 68 28 480 28 68 28 274 28 417 28 67 44 481 44 290 28 99 28 1562 44 322 28 115 28 1180 28 1883 28 4 75 52 28 385 60 338 44 1641 28 115 28 767 28 163 28 370 28 385 76 67 28 195 28 290 28 131 44 608 28 449 28 353 28 767 28 147 44 99 28 20 28 226 28 52 60 3 44 147 28 20 28 194 44 4 28 704 28 242 28 449 28 369 28 115 28 100 28 51 28 99 28 115 28 4 28 576 28 227 28 131 28 1451 28 131 28 19 28 4 28 724" fill="none"/><circle r="403" stroke="#808080" stroke-width="72" pathLength="36000" stroke-dasharray="23 577 28 512 28 52 28 51 28 52 28 115 44 147 28 162 44 52 28 147 91 68 28 306 28 512 44 99 28 99 28 275 28 608 28 19 28 4 28 751 28 211 44 19 44 179 28 4 28 115 28 274 28 4 28 433 28 306 28 624 28 242 44 19 28 84 28 496 44 1054 28 67 60 35 60 529 44 226 28 369 28 4 28 147 60 99 44 4 28 115 28 20 28 35 28 147 28 592 44 894 28 36 28 179 44 258 28 51 28 68 28 99 28 465 91 52 60 131 28 242 28 4 44 3 44 211 28 338 28 162 28 402 28 35 28 131 28 163 28 67 28 179 44 4 28 274 44 115 28 290 28 83 28 163 60 83 28 338 28 67 28 52 28 35 28 115 44 2630 44 624 28 369 28 84 91 370 91 243 28 19 28 4 28 20 76 178 28 211 28 83 60 290 28 226 44 242 28 52 44 226 28 52 28 35 60 513 44 131 28 147 28 226 76 115 107 322 28 179 28 99 28 179 28 385 28 385 60 147 28 847 28 274 44 401 28 306 44 4 43 4 28 211 28 147 28 3 28 116 28 115 28 242 28 226 28 36 28 401 44 1212 28 227 44 369 76 83 28 211 44 8" fill="none"/><circle r="409" stroke="#808080" stroke-width="60" pathLength="36000" stroke-dasharray="0 170 28 131 28 52 44 162 44 243 59 68 44 210 28 1133 44 290 28 99 28 449 28 354 28 19 28 290 28 4 28 52 44 369 76 306 28 67 28 4 28 210 28 68 28 83 28 258 28 68 28 51 28 449 44 99 28 68 28 3 60 52 28 19 44 4 28 163 92 99 28 131 28 83 28 36 28 51 28 52 28 67 44 115 60 4 44 926 28 115 28 67 44 51 28 290 28 36 28 354 28 51 28 20 28 258 28 306 28 36 43 386 60 35 28 513 28 640 28 242 28 147 60 115 28 35 28 36 28 369 76 20 107 624 28 338 28 51 60 84 28 67 28 4 75 338 28 36 28 35 28 36 28 369 28 354 44 4 28 194 28 640 28 99 28 131 28 20 28 211 28 337 44 52 44 178 28 211 28 210 28 52 28 1580 28 147 28 242 44 83 44 4 28 4 44 20 28 146 28 593 28 623 28 195 28 4 28 4 59 36 44 99 44 99 76 417 60 4 28 4 28 146 60 68 28 973 28 131 28 4 28 131 28 370 28 162 28 386 44 19 92 242 92 210 28 116 43 163 28 115 44 4 28 497 75 147 28 259 28 369 60 290 28 51 28 115 28 179 28 306 28 211 59 20 28 211 43 20 44 370 43 593 43 275 28 274 44 210 28 131 44 4 28 4 28 3 28 4 28 68 28 226 28 83 44 68 28 305 28 131 28 211 28 4 28 369 28 20 44 4 28 183" fill="none"/><circle r="415" stroke="#808080" stroke-width="48" pathLength="36000" stroke-dasharray="0 11 28 465 44 115 28 20 44 19 60 131 44 258 28 115 28 211 28 51 44 52 28 163 28 3 28 275 59 4 28 242 44 68 28 51 44 401 44 36 28 4 28 226 44 163 28 4 28 274 28 67 44 163 28 67 28 131 28 20 28 433 28 99 28 561 43 4 28 163 28 608 44 163 28 306 28 67 60 926 28 20 28 576 28 178 60 163 28 847 43 20 28 83 28 513 28 52 28 178 28 274 44 4 28 338 44 131 44 19 28 195 28 4 28 226 28 4 44 19 28 20 44 688 28 433 44 178 28 99 28 4 28 735 28 354 28 322 28 4 44 290 28 19 28 211 44 210 44 354 28 19 28 4 60 51 44 68 28 35 44 99 28 131 28 211 28 4 28 274 60 385 28 36 44 3 60 131 76 4 28 210 28 1501 28 4 28 401 28 226 28 4 44 36 44 35 44 115 28 99 28 752 28 242 44 322 28 337 28 735 28 147 28 20 28 67 28 465 28 449 28 338 28 52 28 162 28 179 44 4 28 369 60 481 28 242 28 386 28 3 28 84 28 258 28 258 28 20 44 226 28 20 60 115 28 3 28 131 28 195 44 83 28 163 60 35 44 4 28 179 28 131 28 703 28 4 28 672 28 258 60 178 44 370 44 608 28 67 44 846 28 243 28 210 28 20 28 72" fill="none"/><circle r="421" stroke="#808080" stroke-width="36" pathLength="36000" stroke-dasharray="0 107 28 3 28 195 44 36 28 83 28 163 28 401 28 131 60 1864 44 560 28 417 28 481 28 338 28 242 28 195 28 1752 28 1133 28 258 28 290 28 386 28 67 28 99 28 4 28 83 28 783 28 4 44 354 28 115 75 290 28 259 28 19 28 1006 28 4 28 417 28 99 28 36 28 560 28 67 28 465 28 465 28 974 28 2039 44 465 28 290 44 210 28 4 28 1485 28 465 28 544 28 36 28 194 60 20 44 19 28 4 28 322 28 20 28 1116 28 116 28 894 44 147 28 131 28 3 28 306 28 1212 28 1467 28 211 28 19 28 2166 44 274 28 338 28 4 28 226 28 1022 28 719 28 799 60 35 28 1074" fill="none"/><circle r="427" stroke="#808080" stroke-width="24" pathLength="36000" stroke-dasharray="0 5688 59 3931 28 2516 28 36 28 163 28 290 28 2166 28 6096 28 210 28 1038 44 433 28 5076 28 1737 28 3390 28 783 28 1980" fill="none"/><circle r="343" stroke="#2f9b4f" stroke-width="192" pathLength="36000" stroke-dasharray="0 25886 22 10092" fill="none"/><circle r="349" stroke="#2f9b4f" stroke-width="180" pathLength="36000" stroke-dasharray="0 26824 22 4669 22 4463" fill="none"/><circle r="349" stroke="#f2982f" stroke-width="180" pathLength="36000" stroke-dasharray="0 2304 22 30699 22 2953" fill="none"/><circle r="355" stroke="#2f9b4f" stroke-width="168" pathLength="36000" stroke-dasharray="0 28668 22 7310" fill="none"/><circle r="355" stroke="#868686" stroke-width="168" pathLength="36000" stroke-dasharray="0 10190 22 25788" fill="none"/><circle r="355" stroke="#f2982f" stroke-width="168" pathLength="36000" stroke-dasharray="0 11128 22 7292 22 17536" fill="none"/><circle r="361" stroke="#868686" stroke-width="156" pathLength="36000" stroke-dasharray="0 24837 22 11141" fill="none"/><circle r="361" stroke="#2f9b4f" stroke-width="156" pathLength="36000" stroke-dasharray="0 10111 22 17931 22 535 22 7357" fill="none"/><circle r="367" stroke="#2f9b4f" stroke-width="144" pathLength="36000" stroke-dasharray="0 14340 22 10077 22 344 22 11173" fill="none"/><circle r="367" stroke="#f2982f" stroke-width="144" pathLength="36000" stroke-dasharray="0 18267 22 14339 22 3350" fill="none"/><circle r="367" stroke="#868686" stroke-width="144" pathLength="36000" stroke-dasharray="0 10206 22 25772" fill="none"/><circle r="373" stroke="#2f9b4f" stroke-width="132" pathLength="36000" stroke-dasharray="0 1684 22 1409 22 471 22 10726 22 10570 22 11030" fill="none"/><circle r="373" stroke="#868686" stroke-width="132" pathLength="36000" stroke-dasharray="0 34154 22 1824" fill="none"/><circle r="373" stroke="#f2982f" stroke-width="132" pathLength="36000" stroke-dasharray="0 13863 22 6036 22 16057" fill="none"/><circle r="379" stroke="#2f9b4f" stroke-width="120" pathLength="36000" stroke-dasharray="0 300 22 1823 22 5750 22 6751 22 26 22 2458 22 328 22 7914 22 583 22 4016 22 5831" fill="none"/><circle r="379" stroke="#868686" stroke-width="120" pathLength="36000" stroke-dasharray="0 34170 22 1808" fill="none"/><circle r="379" stroke="#f2982f" stroke-width="120" pathLength="36000" stroke-dasharray="0 9300 22 8898 22 17758" fill="none"/><circle r="385" stroke="#2f9b4f" stroke-width="108" pathLength="36000" stroke-dasharray="0 5055 22 1313 22 74 22 2983 22 7498 22 12017 22 6928" fill="none"/><circle r="385" stroke="#f2982f" stroke-width="108" pathLength="36000" stroke-dasharray="0 13434 22 1870 22 1918 22 13591 22 5099" fill="none"/><circle r="385" stroke="#868686" stroke-width="108" pathLength="36000" stroke-dasharray="0 35187 22 791" fill="none"/><circle r="391" stroke="#2f9b4f" stroke-width="96" pathLength="36000" stroke-dasharray="0 1127 22 471 22 344 22 264 22 1345 22 2713 22 10456 22 408 22 3653 22 4573 22 1791 22 3348 22 837 22 2617 38 439 22 1268" fill="none"/><circle r="391" stroke="#868686" stroke-width="96" pathLength="36000" stroke-dasharray="0 2654 22 11855 22 3063 22 9440 22 5623 22 3255" fill="none"/><circle r="391" stroke="#f2982f" stroke-width="96" pathLength="36000" stroke-dasharray="0 571 22 7705 22 5225 22 22433" fill="none"/><circle r="397" stroke="#2f9b4f" stroke-width="84" pathLength="36000" stroke-dasharray="0 2765 22 868 22 2952 22 1790 22 2284 38 10204 22 5527 38 2124 22 201 22 518 22 26 22 4033 22 327 22 328 22 948 22 471 22 250" fill="none"/><circle r="397" stroke="#f2982f" stroke-width="84" pathLength="36000" stroke-dasharray="0 10890 22 2331 22 2093 22 17120 22 3478" fill="none"/><circle r="397" stroke="#868686" stroke-width="84" pathLength="36000" stroke-dasharray="0 94 22 2522 22 6799 22 5416 22 18472 22 2587" fill="none"/><circle r="403" stroke="#868686" stroke-width="72" pathLength="36000" stroke-dasharray="0 9093 22 1282 22 10808 22 360 22 3110 22 9375 22 1840" fill="none"/><circle r="403" stroke="#2f9b4f" stroke-width="72" pathLength="36000" stroke-dasharray="0 1398 22 518 38 185 22 1186 22 74 22 311 22 662 22 1314 22 455 22 1313 38 789 22 89 22 694 22 296 22 1663 22 26 22 3667 22 614 22 26 22 470 38 1775 22 821 22 805 22 25 22 1650 22 1807 22 534 22 598 22 105 22 1282 22 90 22 470 22 42 22 487 22 1902 22 1600 22 1520 22 185 22 73 70 3507 22 1" fill="none"/><circle r="403" stroke="#f2982f" stroke-width="72" pathLength="36000" stroke-dasharray="0 2526 22 10631 22 360 22 1997 22 5991 22 3508 22 264 22 10 22 6354 22 1488 22 1346 22 1154 22 107" fill="none"/><circle r="409" stroke="#2f9b4f" stroke-width="60" pathLength="36000" stroke-dasharray="0 173 22 121 22 583 37 42 38 169 38 455 22 359 22 26 22 89 22 646 22 89 22 58 22 26 22 216 22 137 22 185 22 10 22 327 54 248 22 296 22 169 22 153 22 10 22 89 22 90 37 153 22 249 22 264 22 10 22 153 22 73 22 10 22 25 54 26 22 407 22 249 22 25 22 10 22 217 37 26 22 280 38 169 22 216 38 726 22 9 22 583 22 312 22 184 22 662 22 10 54 200 22 582 22 916 22 10 22 344 22 375 22 217 22 26 22 57 22 58 22 423 22 89 38 10 38 41 22 249 22 89 22 121 22 153 22 137 22 73 22 169 22 296 22 121 22 105 22 74 22 264 22 10 22 296 22 757 22 566 22 153 22 503 22 41 22 312 22 1285 37 185 22 153 22 248 22 153 22 10 22 376 22 1106 22 122 22 9 22 42 22 10 22 10 22 89 38 41 38 90 53 535 22 26 22 200 38 105 22 74 22 423 22 312 22 153 22 41 22 42 22 89 22 1028 22 25 22 26 22 42 22 248 22 26 53 10 22 519 22 73 22 26 22 89 22 58 22 89 22 137 22 312 22 10 22 280 22 375 22 201 22 344 22 25 38 185 22 89 22 10 22 280 38 105 22 26 38 25 54 201 22 26 22 152 22 26 22 89 22 185 22 264 22 121 54 121 22 42 22 232 38 58 22 57 38 185 22 10 22 25 54 201 22 10 22 41 38 10 38 57 38 74 22 327 22 42 54 10 22 248 22 26 22 89 22 248 22 42 22 169 22 11" fill="none"/><circle r="409" stroke="#f2982f" stroke-width="60" pathLength="36000" stroke-dasharray="0 1143 22 121 22 249 37 630 22 185 22 10 22 2919 22 153 22 1091 22 58 22 10 53 1282 22 487 22 89 22 280 22 233 22 932 85 26 22 471 22 121 22 646 22 439 22 73 22 42 22 185 22 661 22 10 22 996 22 836 22 106 22 89 22 614 22 693 22 646 22 805 22 26 22 25 22 773 22 2286 22 3524 22 216 22 265 22 502 22 726 22 948 22 550 22 216 22 344 22 1552 22 2013 22 42 22 42 22 25 38 312 22 407 22 1855 22 89 22 552" fill="none"/><circle r="409" stroke="#868686" stroke-width="60" pathLength="36000" stroke-dasharray="0 4848 38 7244 22 280 22 2427 22 566 22 3269 22 8122 22 1059 22 7993" fill="none"/><circle r="415" stroke="#2f9b4f" stroke-width="48" pathLength="36000" stroke-dasharray="0 237 38 10 22 168 22 90 22 25 38 10 38 105 22 105 22 90 38 391 54 121 22 73 22 26 22 169 22 89 22 201 22 184 22 153 38 42 22 57 38 153 22 42 22 9 22 42 22 58 22 89 22 10 22 25 22 58 38 10 22 73 22 169 22 248 54 216 22 42 22 10 54 566 22 344 37 312 38 58 22 137 22 10 37 153 22 26 22 328 22 89 22 26 38 41 22 42 22 26 69 10 22 10 22 73 22 106 22 41 54 26 22 137 22 57 102 9 22 58 38 137 70 280 22 327 22 42 22 360 22 423 38 137 22 89 38 312 70 168 54 551 22 25 22 121 22 932 38 408 22 41 22 10 22 26 38 57 22 169 38 423 22 57 22 137 22 74 22 26 22 73 22 26 69 265 22 9 22 106 37 344 38 201 22 121 22 10 37 26 38 42 22 57 22 153 22 42 22 89 22 10 22 566 38 42 37 106 38 25 22 344 54 10 22 9 22 74 38 9 22 122 37 58 117 90 38 248 54 9 22 185 22 26 22 185 22 57 22 58 22 41 22 10 54 25 22 153 22 344 22 1221 22 25 22 58 22 105 54 10 22 89 22 89 38 121 22 105 38 74 54 9 38 10 54 26 22 9 22 169 38 550 22 296 38 280 22 26 22 153 38 105 22 137 38 201 22 137 22 41 38 217 22 25 22 90 22 25 22 153 38 328 22 185 22 232 22 185 38 41 22 42 38 10 22 9 22 90 69 26 22 26 22 121 22 73 22 26 22 26 22 57 22 26 22 10 38 89 38 137 38 9 38 10 22 201 22 200 22 42 22 232 38 121 38 10 22 42 22 25 22 121 22 10 22 217 22 264 22 89 22 233 22 89 38 26 22 105 22 10 22 9 22 42 22 73 38 121 22 10 22 10 54 25 38 74 38 25 22 58 54 9 22 10 22 58 38 41 22 376 38 89 22 42 22 89 38 200 22 10 22 10 22 26 38 121 22 57 22 392 22 73 22 137 22 42 22 152 22 392 22 57 22 26 38 344 22 89 22 153 22 359 22 153 22 137 22 74 22 25 86 42 85 26 38 57 22 58 22 10 22 105 38 43" fill="none"/><circle r="415" stroke="#868686" stroke-width="48" pathLength="36000" stroke-dasharray="0 78 22 6163 22 8532 38 6658 22 1394 22 1281 22 11746" fill="none"/><circle r="415" stroke="#f2982f" stroke-width="48" pathLength="36000" stroke-dasharray="0 523 22 232 22 185 22 105 22 344 22 519 38 152 22 169 22 137 22 42 22 26 22 1043 22 518 22 296 38 10 38 10 22 534 22 773 22 614 22 42 22 89 22 201 22 73 22 10 22 73 22 996 38 10 38 121 22 502 22 281 37 26 22 74 22 168 22 201 22 73 22 10 22 58 22 216 22 137 22 376 22 534 22 26 38 57 22 153 22 137 22 407 22 122 22 73 22 10 22 153 22 25 22 201 22 391 22 296 38 10 22 105 22 1059 22 10 22 121 22 583 22 73 22 296 22 375 22 74 22 280 22 407 22 137 22 42 54 73 22 169 38 169 22 57 38 89 22 10 22 264 22 503 22 4448 22 105 22 217 38 137 22 391 22 249 22 137 22 518 22 10 38 296 22 1361 22 185 22 10 22 486 22 42 22 614 22 312 22 57 22 201 54 26 22 41 22 137 22 694 22 57 70 1139 22 121 22 232 22 217 22 152 22 42 22 582 22 10 22 42 22 248 22 805 22 614 38 41 22 646 22 91" fill="none"/><circle r="421" stroke="#2f9b4f" stroke-width="36" pathLength="36000" stroke-dasharray="0 14 22 10 22 58 53 153 38 26 22 41 22 58 22 105 22 58 22 73 38 153 22 41 22 42 22 73 22 169 22 137 22 90 22 57 22 26 22 105 22 57 22 26 22 137 22 74 22 73 22 137 22 57 22 74 22 10 69 153 22 153 22 10 70 41 22 105 22 10 38 10 22 89 22 10 22 89 86 57 38 74 69 90 22 10 22 25 22 26 22 42 22 391 22 137 54 57 22 74 22 296 22 57 38 169 22 41 22 106 22 73 38 312 22 10 22 105 38 248 22 185 22 121 38 137 22 57 22 42 22 105 22 73 22 10 22 169 22 42 22 41 22 10 22 73 38 296 38 153 22 233 22 25 22 42 22 26 22 57 22 328 22 121 22 57 22 10 22 42 22 10 38 89 22 41 38 280 22 74 22 26 37 58 22 89 38 89 22 137 22 58 70 9 22 106 22 9 22 153 22 26 22 42 22 153 37 74 22 296 22 216 22 153 22 169 22 10 38 121 38 57 22 344 22 10 22 121 38 10 22 105 22 10 22 57 22 26 22 121 22 73 22 58 22 10 37 328 22 26 22 73 22 74 22 359 22 58 22 10 22 41 22 169 54 73 22 201 22 26 22 248 22 89 22 10 22 10 22 232 22 42 22 25 22 42 22 10 22 41 38 42 22 89 22 105 22 26 54 121 38 407 22 10 22 312 22 26 38 232 22 137 54 25 22 10 22 10 22 42 38 105 22 73 70 73 54 42 22 57 22 10 22 1364 38 105 22 121 22 57 22 26 22 26 69 58 22 105 22 10 38 41 22 90 22 105 54 57 22 26 22 73 22 42 54 10 37 10 22 10 22 137 22 105 54 10 38 10 69 137 22 121 102 10 22 184 22 90 22 73 22 232 22 137 22 74 38 89 38 10 22 25 22 137 22 137 22 26 22 217 22 9 38 10 38 58 22 25 22 58 22 10 22 168 22 10 38 10 22 10 22 9 22 26 22 42 22 25 38 10 22 89 38 26 22 105 38 137 22 137 22 58 22 9 38 185 22 89 70 73 22 42 22 280 22 10 22 26 22 41 22 10 22 137 22 10 22 57 22 535 38 153 53 74 22 10 22 41 38 74 22 9 38 58 22 10 22 184 22 10 22 105 22 10 22 26 22 25 22 10 22 10 22 73 22 42 22 185 22 25 22 376 22 73 22 10 22 10 22 153 22 73 22 105 38 249 22 89 22 105 38 73 22 10 22 58 22 57 22 58 22 57 22 423 22 233 54 9 22 74 22 137 22 121 38 41 38 106 22 105 22 89 22 121 22 217 38 9 22 26 38 121 22 10 54 89 22 42 22 57 22 614 22 58 37 137 38 139" fill="none"/><circle r="421" stroke="#868686" stroke-width="36" pathLength="36000" stroke-dasharray="0 62 22 4716 22 1028 22 1504 22 709 22 153 22 519 38 2283 22 3413 22 264 22 1981 22 1854 22 4194 22 1727 22 1632 22 598 22 312 22 1822 22 4573 22 2222" fill="none"/><circle r="421" stroke="#f2982f" stroke-width="36" pathLength="36000" stroke-dasharray="0 30 22 58 22 57 22 296 22 26 22 26 22 89 22 26 22 407 22 26 22 9 22 10 70 57 22 90 22 25 22 26 22 201 38 486 22 10 22 614 22 10 22 296 22 519 22 89 22 169 22 25 22 26 22 10 22 137 22 73 22 121 22 424 22 200 22 10 38 503 22 25 38 471 22 121 38 42 22 137 22 423 22 41 38 296 22 265 22 455 22 41 38 10 85 106 38 9 22 90 22 73 38 89 38 121 22 105 38 90 22 41 22 10 22 58 22 152 22 217 22 646 22 10 22 9 22 169 38 296 38 26 22 57 22 42 22 10 22 9 38 10 38 169 22 10 85 201 22 10 22 57 22 73 22 10 22 42 22 10 22 25 22 74 22 328 22 121 22 121 22 200 54 328 22 105 22 185 22 10 22 25 22 74 22 598 22 10 22 9 22 26 22 89 22 10 38 407 38 344 22 58 22 73 22 89 22 10 22 105 38 392 22 137 22 836 22 137 22 392 22 486 38 10 22 58 22 168 22 42 38 232 22 3495 22 582 22 169 22 57 22 805 22 137 22 26 22 89 22 41 22 137 22 10 22 344 22 201 22 343 22 26 38 41 22 58 22 105 22 42 22 614 22 57 22 185 38 89 22 646 22 232 22 10 22 153 22 964 22 995 22 58 38 534 22 630 22 153 22 58 22 359 22 185 22 201 22 57 22 709 22 217 22 73 38 153 22 89 22 583 22 153 22 170" fill="none"/><circle r="427" stroke="#2f9b4f" stroke-width="24" pathLength="36000" stroke-dasharray="0 221 22 26 22 73 38 26 22 41 22 105 22 90 22 57 22 74 22 121 22 105 22 185 22 9 22 312 22 10 22 26 22 41 54 121 22 90 22 89 22 10 22 25 22 90 22 10 22 41 22 105 22 26 22 217 37 296 38 74 22 232 22 58 22 105 22 10 22 89 22 328 22 57 22 10 22 264 22 10 22 89 22 26 22 42 22 9 38 26 22 26 22 471 85 26 22 105 22 264 70 10 22 10 22 9 22 185 22 328 22 42 37 26 38 201 22 57 22 58 22 248 22 232 22 74 22 25 22 281 22 89 22 280 22 89 22 217 22 41 22 185 38 10 22 73 22 296 38 296 22 296 22 26 38 73 22 10 22 26 22 9 22 26 22 121 22 26 22 280 22 42 22 232 22 169 22 296 38 9 22 106 22 105 38 73 22 89 22 26 54 216 38 10 22 58 22 216 22 121 22 169 22 169 22 57 22 121 22 217 22 216 22 10 22 328 38 169 22 169 22 264 22 25 22 10 22 217 22 10 22 9 54 58 22 41 22 42 22 41 22 26 22 42 22 41 22 90 22 248 22 105 22 312 22 42 22 184 22 10 22 137 22 248 38 265 22 105 22 41 22 42 22 10 38 73 22 10 22 10 22 41 38 58 22 296 22 41 22 58 38 121 22 25 22 74 22 89 22 1046 22 73 38 10 22 10 22 25 22 122 22 137 22 200 38 10 54 216 22 58 22 9 22 10 54 42 22 105 85 10 54 42 22 25 22 10 22 10 70 9 22 26 22 10 70 89 22 26 22 57 22 26 38 10 22 73 54 216 22 10 22 10 22 10 22 9 22 122 22 73 22 89 22 58 22 200 22 10 22 10 22 42 22 9 22 90 22 105 22 73 22 58 22 89 22 89 22 26 38 10 22 57 22 153 22 58 22 168 22 360 22 201 22 89 22 328 22 200 22 42 22 10 22 25 22 153 22 58 22 73 22 10 22 137 22 217 37 169 22 90 37 74 22 121 22 42 22 57 22 58 22 9 22 153 22 90 37 90 22 73 22 105 22 74 38 9 22 58 38 26 22 121 22 25 22 10 22 10 22 26 22 121 22 10 22 73 22 42 22 57 22 296 22 137 22 58 22 9 22 26 22 26 22 41 22 74 22 10 22 41 22 26 22 41 38 169 38 566 22 26 22 185 22 216 22 10 22 10 22 248 22 42 38 232 22 185 22 169 22 73 22 42 37 471 54 137 38 26 38 137 22 73 22 58 22 57 38 169 22 137 22 57 22 26 22 89 22 26 22 26 22 27" fill="none"/><circle r="427" stroke="#f2982f" stroke-width="24" pathLength="36000" stroke-dasharray="20 185 22 185 22 10 22 327 22 153 22 376 22 73 22 169 22 57 22 440 22 280 22 73 22 1377 22 312 22 58 22 248 22 10 22 232 22 248 22 26 102 41 22 10 22 26 22 232 38 232 22 614 22 885 22 121 38 10 22 566 22 375 22 26 22 121 22 10 54 359 22 185 22 26 22 25 22 26 22 105 22 153 22 201 22 232 22 26 22 216 22 551 38 57 22 264 22 74 22 10 22 41 22 74 22 105 22 26 22 57 22 296 22 58 22 89 22 232 22 249 22 57 38 42 37 74 22 169 22 343 38 10 22 264 22 455 38 74 22 184 22 805 22 248 22 26 22 42 38 137 22 105 38 359 38 582 38 360 22 73 22 153 22 26 22 41 22 662 22 519 54 1236 22 232 38 1378 22 375 38 185 22 121 22 439 22 10 22 137 22 41 38 10 22 10 22 10 22 375 38 296 22 550 22 26 22 26 22 10 22 184 22 185 22 519 22 25 22 249 22 550 22 57 38 249 22 153 22 41 22 26 54 57 22 821 22 10 22 73 22 248 22 376 22 169 22 9 22 26 38 42 22 200 22 423 22 265 22 200 22 264 22 10 22 26 22 10 22 89 22 89 22 360 38 248 22 42 22 248 22 58 22 9 22 106 22 41 22 217 22 264 22 57 22 408 22 9 22 233 22 73 22 185 38 407 22 425" fill="none"/><circle r="427" stroke="#868686" stroke-width="24" pathLength="36000" stroke-dasharray="0 4880 53 996 22 694 22 2887 22 90 22 804 22 471 22 1457 22 980 22 1425 37 1091 22 2586 22 2540 22 583 22 4938 22 312 22 4271 22 2602 38 41 22 1872" fill="none"/><circle r="433" stroke="#2f9b4f" stroke-width="12" pathLength="36000" stroke-dasharray="0 873 22 2045 54 184 22 821 22 678 22 884 38 280 22 2506 22 3079 22 375 22 264 22 1091 22 233 22 868 22 1314 22 455 22 757 22 184 22 646 22 916 22 598 22 312 22 1571 22 820 22 996 22 4796 22 264 22 26 22 1281 22 1394 22 57 22 964 22 471 22 169 22 820 22 1250 22 918" fill="none"/><circle r="433" stroke="#868686" stroke-width="12" pathLength="36000" stroke-dasharray="0 5659 22 6592 22 9187 22 1297 38 9900 22 2315 22 902" fill="none"/><circle r="433" stroke="#f2982f" stroke-width="12" pathLength="36000" stroke-dasharray="0 889 22 2013 22 248 22 789 22 710 22 1202 22 2506 22 3078 22 376 22 1329 38 265 22 836 22 1314 22 455 22 789 22 184 22 646 22 884 22 599 22 311 22 2445 22 964 22 4828 22 232 22 58 22 1281 22 1362 22 57 22 964 22 662 22 852 22 2174" fill="none"/></g>
<g transform="translate(129.3 625.0) scale(0.25)"><path d="M-385-219A443 443 0 1 1 -418-147" stroke="#b3c2d3" stroke-width="25.6" fill="none"/><path d="M-376-235A443 443 0 0 1 -152-416" stroke="#3d4c5c" stroke-width="25.6" fill="none"/><path d="M-152-416A443 443 0 0 1 166-411" stroke="#7fb6de" stroke-width="25.6" fill="none"/><path d="M384-222A443 443 0 0 1 395-201" stroke="#7fb6de" stroke-width="25.6" fill="none"/><path d="M-363 254A443 443 0 0 1 -416 152" stroke="#7fb6de" stroke-width="25.6" fill="none"/><path d="M23 443A443 443 0 0 1 -15 443" stroke="#7fb6de" stroke-width="25.6" fill="none"/><path d="M-39 442A443 443 0 0 1 -54 440" stroke="#7fb6de" stroke-width="25.6" fill="none"/><circle r="469" stroke="#a7cd6d" stroke-width="21" pathLength="36000" stroke-dasharray="0 6445 480 819 55 2169 30 20 80 10859 505 145 80 45 380 744 705 20 230 20 355 20 155 419 430 520 679 20 55 120 255 870 205 19 180 20 30 145 980 20 404 20 180 20 155 3468 205 20 30 20 180 20 280 120 305 20 304 921" fill="none" stroke-opacity="0.92"/><circle r="469" stroke="#b9b9b9" stroke-width="21" pathLength="36000" stroke-dasharray="104 195 30 245 854 20 655 20 230 394 130 20 180 20 405 20 680 244 305 20 205 969 80 20 205 670 230 20 105 20 30 20 205 244 205 20 455 1444 55 120 655 20 504 1270 280 20 30 744 230 170 580 994 30 20 455 3618 230 1514 155 70 55 370 654 20 80 1495 179 20 205 445 530 744 130 420 230 20 380 20 55 469 130 1894 355 745 55 45 429 20 155 20 255 20 180 1819 130 819 455 20 55 20 130 20 26 1" fill="none" stroke-opacity="0.92"/><circle r="469" stroke="#c08ec8" stroke-width="21" pathLength="36000" stroke-dasharray="0 99 205 20 80 20 130 1794 105 19 180 1544 255 520 555 45 380 294 205 8216 79 20 180 20 55 1594 55 45 55 220 55 20 255 20 155 145 180 444 130 770 80 170 305 10009 30 820 130 1819 280 3194" fill="none" stroke-opacity="0.92"/><circle r="469" stroke="#e98a6c" stroke-width="21" pathLength="36000" stroke-dasharray="0 12167 380 320 55 19 355 545 180 2069 280 20 229 145 230 320 30 170 130 170 330 20 104 120 605 20 80 20 30 95 30 20 105 10709 130 470 105 570 55 1369 80 20 105 20 329 45 155 1544 180 721" fill="none" stroke-opacity="0.92"/><circle r="469" stroke="#f1c452" stroke-width="21" pathLength="36000" stroke-dasharray="0 11792 255 18930 105 20 230 4668" fill="none" stroke-opacity="0.92"/><circle r="469" stroke="#7dbf9f" stroke-width="21" pathLength="36000" stroke-dasharray="0 12042 130 1119 330 970 80 369 205 20 30 20705" fill="none" stroke-opacity="0.92"/><path d="M-338-194l1-2M-355-210l1-1M-355-211l10 6l1-2M-345-206l8 5l1-2M-360-218l1-1M-337-202l3 2l1-3l-26-16M-333-196a386 386 0 0 1 3-4l-3-1M-331-193l2-3l-3-2M-343-214l1-2M-343-215l3 2l1-2M-339-208a398 398 0 0 1 2-4l-2-2M-322-208a384 384 0 0 1 2-4M-338-210l25 15a369 369 0 0 1 4-7l-12-8M-330-195l23 14a356 356 0 0 1 7-11l-11-7M-303-186l2 1a353 353 0 0 1 8-12M-337-195l34 20a350 350 0 0 1 9-14l-3-2M-330-229l1-2M-329-230l2 2l2-2M-327-234l2-2M-325-231l2-2l-3-2M-326-229l3 2l2-3l-3-2M-322-229l2 2a392 392 0 0 1 5-6M-317-230l2 2a389 389 0 0 1 4-5M-318-218a386 386 0 0 1 7-10l-2-2M-314-223l2 2a382 382 0 0 1 7-9M-309-226l3 2a379 379 0 0 1 4-5M-304-226l3 1l2-3M-300-226l2 2l2-3M-297-226l7 6l2-2M-315-245l1-1M-325-259l1-1M-319-253l1-1l-7-6M-315-249l1-1l-4-4M-315-250l3 2l2-2M-315-246l16 12l2-3l-14-12M-289-221l3 2a360 360 0 0 1 3-5l-15-11M-295-201a357 357 0 0 1 13-18l-3-2M-319-260l1-1M-317-258l1-1l-3-2M-289-210l3 1a354 354 0 0 1 12-15l-43-34M-299-182l7 4a342 342 0 0 1 21-31l-9-7M-282-193l3 1a338 338 0 0 1 18-23M-321-272l1-1M-320-273l0 0l1-1M-320-273l8 6l1-2M-299-262l1-1M-312-268l15 13a392 392 0 0 1 3-4l-5-3M-296-257l3 2l2-3M-294-249a385 385 0 0 1 4-5l-2-2M-290-242a377 377 0 0 1 4-4l-6-5M-298-269l2-2M-297-270l2 2a399 399 0 0 1 3-4M-281-252a377 377 0 0 1 3-4l-15-14M-288-244l3 2a374 374 0 0 1 8-9l-2-3M-270-204l2 2a335 335 0 0 1 16-19l-29-26M-260-212l14 11a318 318 0 0 1 14-16M-267-253l1-2M-290-283l1 0M-289-283l23 22l1-1M-266-261l3 2l1-1M-263-255l2-2l-2-3M-257-248l2-2l-7-6M-266-254l38 37l2-2l-30-30M-276-280l1-1M-270-272l1-2l-7-6M-270-273l3 2l2-2M-262-261a370 370 0 0 1 3-3l-7-8M-260-263l8 9a358 358 0 0 1 4-4M-282-304l1-1M-281-304l18 20l1-1M-258-276l2-2l-6-7M-253-268l2-2l-6-7M-252-264l2-3l-2-2M-251-261l2-2l-2-3M-250-262l7 6a353 353 0 0 1 5-5M-241-258l3 2a350 350 0 0 1 5-5M-250-256l29 29a317 317 0 0 1 8-7l-23-25M-260-299l0 0M-255-291l1-1l-6-7M-254-291l2 2l2-1M-251-290l6 8l2-1M-263-310l1-1M-261-306l1-1l-3-4M-260-307l23 28l3-2M-235-280l2 3a362 362 0 0 1 3-3M-231-279l2 3l2-2M-247-310l1-1M-247-310l4 4l1-1M-242-306l10 13l2-1M-233-288a370 370 0 0 1 4-3l-2-2M-228-277l15 18a335 335 0 0 1 4-3l-22-27M-244-283l27 32a332 332 0 0 1 8-7l-2-2M-213-255l2 3a329 329 0 0 1 9-7M-256-334l1-1M-255-331l1-1l-1-3M-254-328l2-1l-2-3M-253-329l11 15l3-2M-240-315l1 3l3-2M-236-320l2-1M-235-320l2 2l1-1M-234-313a391 391 0 0 1 4-3l-2-2M-232-314l9 12a376 376 0 0 1 3-3M-239-334l1-1M-239-340l1-1M-238-340l14 20l2-1M-227-336l1-1M-226-337l1 3l2-1M-226-329a399 399 0 0 1 4-3l-2-3M-223-321l6 8a381 381 0 0 1 4-2l-11-16M-218-308a378 378 0 0 1 4-3l-1-3M-216-310l2 3a374 374 0 0 1 8-5M-210-310l2 3a371 371 0 0 1 4-3M-238-335l25 35a368 368 0 0 1 9-6l-2-3M-213-296a365 365 0 0 1 6-4l-2-3M-222-303l13 17a354 354 0 0 1 5-4l-6-8M-237-313l30 39a343 343 0 0 1 7-5l-6-9M-223-353l1-1M-223-350l2-1l-2-2M-222-346l2-1l-2-3M-221-347l2 3l3-2M-219-340l3-2l-2-3M-218-341l9 13a389 389 0 0 1 4-2M-207-329l1 2l3-1M-206-342l2-1M-204-335l2-2l-3-6M-200-352l1-1M-200-349l2-1l-2-3M-192-333l2-1l-9-15M-204-368l1-1M-203-368l8 15l1-1M-195-349l2-2l-1-2M-194-350l2 3l2-2M-189-353l2-1M-188-353l1 3l2-1M-191-348l2 3a394 394 0 0 1 5-3l-2-3M-187-347l2 3a391 391 0 0 1 4-2M-183-345l1 3a387 387 0 0 1 4-2M-188-376l1-1M-183-361l2-1l-7-14M-182-362l2 3l2-1M-181-355l3-2l-1-3M-180-356l2 3a395 395 0 0 1 5-3M-179-347a391 391 0 0 1 6-3l-3-4M-179-373l1 0M-178-373l1 3l1-1M-176-370l1 3l2-1M-176-349l1 3a387 387 0 0 1 9-4l-8-18M-180-343l2 3a384 384 0 0 1 9-5l-1-3M-191-333l2 2a381 381 0 0 1 17-9l-2-3M-190-327a378 378 0 0 1 11-6l-2-2M-189-324a375 375 0 0 1 6-3l-1-3M-188-320a371 371 0 0 1 4-2l-2-3M-186-321l1 2a368 368 0 0 1 29-15M-186-314a365 365 0 0 1 17-10l-1-2M-203-336l16 26a362 362 0 0 1 11-6l-1-3M-182-313l2 3a359 359 0 0 1 30-16M-165-318l1 3a355 355 0 0 1 16-8M-184-300a352 352 0 0 1 30-17l-2-2M-204-327l19 31a349 349 0 0 1 17-10l-2-3M-168-373l1-1M-166-374l1-1M-168-374l2 4l2-1l-1-3M-165-371l3 7l3-1M-161-356l3-2l-3-7M-160-357l2 3a388 388 0 0 1 4-2M-156-355l10 24l3-2M-176-301l1 3a346 346 0 0 1 37-19l-6-15M-186-287a343 343 0 0 1 31-18l-2-3M-161-380l1-1M-161-377l2 0l-1-3M-160-377l1 3l3-1M-158-375l8 19l2-1M-158-390l1-1M-157-390l4 9l1-1M-154-377l3-1l-2-3M-153-378l2 3l3-1M-150-375l1 2l3-1M-151-368a398 398 0 0 1 5-2l-1-3M-149-357l7 17a369 369 0 0 1 4-2l-11-27M-171-297l2 3a339 339 0 0 1 40-20l-11-27M-184-282a336 336 0 0 1 36-20l-1-3M-204-276l6 8a333 333 0 0 1 33-21l-1-3M-131-338l2 0M-141-380l1 0M-137-365l2-1l-6-14M-136-365l10 27l2-1M-128-357l2-1M-125-339l7 19l4-1l-13-36M-130-338l11 28a332 332 0 0 1 6-2l-3-9M-115-339l1-1M-108-311l3-1l-9-27M-114-372l2 0M-116-368l4-1l-1-3M-114-368l1 3a382 382 0 0 1 5-2M-115-361a379 379 0 0 1 5-2l-1-3M-113-362l1 3a376 376 0 0 1 7-2M-108-360l1 3l4-1M-113-352a370 370 0 0 1 9-3l-1-3M-109-353l1 3a366 366 0 0 1 8-3M-112-345a363 363 0 0 1 9-3l-1-3M-108-347l1 3a360 360 0 0 1 10-3M-111-339a357 357 0 0 1 10-3l-1-3M-102-370l3-1M-106-341l5 17a339 339 0 0 1 12-3l-12-44M-105-317a334 334 0 0 1 12-4l-2-5M-104-398l1-1M-105-395l2 0l-1-3M-104-395l1 3l2-1M-102-392l5 20l3-1M-95-372l0 3l2-1M-94-369l1 3l2-1M-92-367l2 9l2 0M-89-358l1 3l2 0M-99-319l1 4a330 330 0 0 1 20-6l-9-34M-90-380l2-1M-85-385l2-1M-84-386l2 13l3-1M-80-374l0 3l2 0M-79-371l3 13l2 0M-78-386l3-1M-76-387l1 9l3-1M-74-364l3-1l-2-13M-67-383l2-1M-68-374l4 0l-2-9M-69-370l3-1l0-3M-59-375l3 0M-58-375l1 3l3 0M-61-368a373 373 0 0 1 6-1l-1-3M-58-368l0 3a370 370 0 0 1 6-1M-55-366l1 4l4-1M-52-363l0 3l3 0M-67-371l5 29a348 348 0 0 1 14-2l-2-16M-72-364l5 26a344 344 0 0 1 12-2l0-3M-61-339l1 3a341 341 0 0 1 15-2M-75-358l7 32a334 334 0 0 1 17-4l-1-7M-44-375l2 0M-41-385l2-1M-40-386l0 4l3-1M-34-377l2 0M-35-374l2 0l0-3M-34-374l1 8l4-1M-38-382l2 21a363 363 0 0 1 5-1l0-4M-43-375l2 18a360 360 0 0 1 8-1l0-3M-44-354a356 356 0 0 1 7-1l0-3M-44-350l4-1l0-3M-30-389l2-1M-29-389l1 4l2 0M-42-351l2 15a338 338 0 0 1 16-1l-3-48M-43-332a335 335 0 0 1 11-1l0-4M-60-328l1 3a330 330 0 0 1 22-3l0-5M-48-327l0 3a327 327 0 0 1 27-2M-34-325l0 3a324 324 0 0 1 14-1M-71-313a320 320 0 0 1 44-6l0-4M-49-317l1 3a317 317 0 0 1 29-3M-89-381l23 97a292 292 0 0 1 35-6l-3-25M-88-318l11 40a289 289 0 0 1 29-7l-1-3M-20-399l2 0M-19-399l0 3l3 0M-21-393l4 0l0-3M-11-411l1 0M-12-385l3 0l-1-26M-13-380l3 0l-1-5M-12-380l0 3l4 0M-4-418l1 0M1-396l2 0M0-393l2 0l0-3M-1-388l2 0l0-5M-3-418l0 40l3 0l0-10M7-386l3 0M5-383l3 0l0-3M-2-378l0 15a363 363 0 0 1 9 0l0-20M-4-360a360 360 0 0 1 6 0l0-3M-1-360l0 3a357 357 0 0 1 13 0M6-357l-1 3a354 354 0 0 1 8 0M9-354l0 3a351 351 0 0 1 5 1M22-399l2 0M18-372l3 0l2-27M26-402l2 0M27-402l0 5l1 0M27-397l0 10l3 1M24-384l4 1l0-3M26-383l0 3l5 0M29-380l-1 3a378 378 0 0 1 5 1M20-372l-1 12a360 360 0 0 1 10 1l1-18M15-356a357 357 0 0 1 9 0l0-3M12-350l0 3a347 347 0 0 1 7 0l1-9M-5-344a344 344 0 0 1 20 0l0-3M-6-341a341 341 0 0 1 11 0l0-3M37-408l1 1M41-410l1 0M39-407l2 0l0-3M40-407l0 3l2 1M41-403l-1 10l2 1M38-408l-3 25a384 384 0 0 1 5 1l1-10M52-418l1 1M48-398l2 0l3-20M47-395l2 0l0-3M48-395l0 3l3 1M49-392l0 4l3 0M45-386a388 388 0 0 1 5 1l0-3M47-385l0 3l5 0M43-379a382 382 0 0 1 6 0l0-3M57-390l2 0M56-387l2 0l0-3M57-387l-1 3a388 388 0 0 1 5 1M54-381l4 0l1-3M52-372l3 0l1-9M53-372l0 3a373 373 0 0 1 6 1M56-368l0 3l4 0M46-379l-3 23a359 359 0 0 1 13 1l2-10M50-356l-1 4a356 356 0 0 1 10 1M54-352l0 3a353 353 0 0 1 6 2M38-347a349 349 0 0 1 18 2l1-3M38-383l-5 44a341 341 0 0 1 13 1l1-8M-1-341l0 3a338 338 0 0 1 40 2l1-3M20-337l-1 3a335 335 0 0 1 39 4M-10-377l1 46a331 331 0 0 1 47 2l1-3M-12-328a328 328 0 0 1 27 0l0-3M-19-393l3 68a325 325 0 0 1 17 0l0-3M76-409l2 1M72-392l2 0l3-17M73-392l-1 3l3 1M66-369l4 0l4-20M68-369l-1 4l4 0M-7-325l0 3a322 322 0 0 1 67 6l9-49M-18-318a319 319 0 0 1 44 0l1-3M87-390l2 0M88-390l-3 10l2 1M95-400l1 0M92-396l2 0l1-4M86-380l-3 15l3 0l7-31M85-365l-1 3l3 1M90-364l2 1M106-407l1 0M99-386l2 1l5-22M100-386l-1 3l3 1M106-394l1 1M100-382l-3 13l2 1l7-25M98-368l-1 3l3 1M109-387l1 0M103-372l2 1l5-16M99-365l-1 3l3 1l3-10M91-363l-1 3a371 371 0 0 1 9 2l0-3M86-361l-1 3a368 368 0 0 1 9 2l0-3M89-357l0 3a365 365 0 0 1 13 3M76-354a362 362 0 0 1 18 5l1-3M85-352l0 4a359 359 0 0 1 16 4M74-348a355 355 0 0 1 18 5l1-3M72-345a352 352 0 0 1 10 3l1-4M71-342a349 349 0 0 1 6 2l0-4M74-341l-3 10a338 338 0 0 1 25 7M84-328l-1 3a335 335 0 0 1 13 4M114-363l2 1M130-382l1 1M127-376l2 1l2-7M128-376l-2 5l3 1M127-370l-1 3l3 1M116-350a369 369 0 0 1 5 2l6-19M113-347l4 1l1-3M134-375l1 1M132-372l1 1l2-3M133-372l-2 3a391 391 0 0 1 4 2M133-368l-1 3l3 1M133-364l-3 9l2 1M131-355l-1 3l2 1M115-347l-1 3a362 362 0 0 1 13 5l4-12M147-382l1 0M148-382l-5 14l2 1M140-366l2 1l2-3M155-385l1 0M155-385l-3 7l2 1M153-377l-3 7l2 1M147-368l3 1l1-3M141-365l-5 13a378 378 0 0 1 5 2l7-17M133-350a375 375 0 0 1 5 2l1-3M148-347l3 2M149-346l-1 3l3 1M135-349l-4 11a362 362 0 0 1 14 6l4-11M120-342l-1 3a359 359 0 0 1 18 7l1-3M109-339a356 356 0 0 1 18 7l1-3M118-336l-1 3a353 353 0 0 1 26 11M115-362l-9 29a349 349 0 0 1 23 8l1-3M102-331a346 346 0 0 1 14 5l1-3M100-328a343 343 0 0 1 8 2l1-3M98-325a340 340 0 0 1 5 1l1-3M89-323l-6 23a312 312 0 0 1 9 2l9-27M88-299l-2 5a307 307 0 0 1 39 14M178-352l1 1M175-350l2 1l1-3M180-349l2 1M181-348l-2 2l2 1M176-349l-2 4a386 386 0 0 1 5 3l1-3M171-342a382 382 0 0 1 4 2l1-4M194-364l1 1M195-364l-7 12l2 1M198-357l1 0M196-355l1 1l2-3M193-353l2 1l2-3M186-341l2 1l6-12M189-352l-6 13l2 1l2-3M179-338l3 2l2-3M173-341l-2 3a379 379 0 0 1 8 4l2-3M167-337a376 376 0 0 1 7 4l1-3M164-334a373 373 0 0 1 5 2l1-3M167-333l-2 2a370 370 0 0 1 17 9M161-329a366 366 0 0 1 11 6l1-3M158-327a363 363 0 0 1 7 3l1-2M154-325a360 360 0 0 1 6 3l2-3M157-324l-1 3a357 357 0 0 1 21 11M149-321a354 354 0 0 1 16 8l1-3M157-317l-2 3a350 350 0 0 1 19 10M165-309l-2 3a347 347 0 0 1 11 6M144-312a344 344 0 0 1 23 11l2-2M156-307l-2 3a341 341 0 0 1 18 10M140-307a338 338 0 0 1 22 11l1-3M138-304a334 334 0 0 1 12 5l1-3M135-298a327 327 0 0 1 6 3l3-7M204-341l2 2M216-344l1 1M202-326l3 1l11-19M214-320l3 2M215-319l-2 3l3 1M207-317a378 378 0 0 1 6 4l2-3M204-315a375 375 0 0 1 4 3l2-3M202-313l3 2l1-2M199-310l2 1l2-3M200-310l-1 3a366 366 0 0 1 9 6M192-301a358 358 0 0 1 7 4l4-7M203-326l-15 25a354 354 0 0 1 6 4l1-2M191-299l-8 13a339 339 0 0 1 11 7M205-340l-31 52a336 336 0 0 1 12 8l2-3M229-326l2 2M218-312l2 1l10-14M219-311l-12 17l3 2M232-316l1 1M224-310l3 2l5-8M226-309l-8 11l2 2M219-297l-2 2l2 2M247-325l0 0M242-321l1 1l4-5M218-294l-2 3l3 2l23-31M218-290l-2 2a360 360 0 0 1 3 3M208-293l-2 3a356 356 0 0 1 9 6l2-3M180-284l-2 3a333 333 0 0 1 19 13l14-19M253-316l2 2M250-314l2 2l2-3M241-304l2 1l8-10M237-303l3 2l2-3M234-302l3 2l2-2M235-301l-7 9a370 370 0 0 1 7 6M251-302l1 2M251-301l-11 14l1 1M262-303l2 1M252-296a389 389 0 0 1 3 3l8-9M249-294l2 2l3-2M269-306l1 1M269-306l-13 15l2 2M269-298l1 2M266-296l1 1l2-2M266-295l-6 7l3 2M262-287l-2 2l2 3M261-284l-2 3l2 2M257-290l-6 6a379 379 0 0 1 7 6l2-2M250-293l-16 19a361 361 0 0 1 8 7l12-14M240-286l-10 12a357 357 0 0 1 6 6l2-3M232-289l-11 13a354 354 0 0 1 10 7l2-2M226-272l-2 2a351 351 0 0 1 16 14M262-278l2 2M272-280l1 1M273-279l-3 2l3 2M260-269l2 2l9-9M263-277l-9 9a369 369 0 0 1 4 4l3-4M232-263l-10 12a335 335 0 0 1 10 10l24-25M265-262l2 3M300-287l1 0M300-287l-3 3l1 2M273-263l1 2l23-22M266-260l-2 2a369 369 0 0 1 3 3l6-7M265-257l-2 2a366 366 0 0 1 3 4M256-257a363 363 0 0 1 6 6l3-2M227-246l-2 2a332 332 0 0 1 12 12l22-22M201-260a329 329 0 0 1 28 24l2-2M308-284l0 1M308-283l-12 11l1 1M293-271l1 2l3-3M282-263l1 2l10-9M303-272l1 1M299-271l2 2l2-2M300-270l-19 17l2 2M283-262l-14 13a367 367 0 0 1 5 5l8-8M262-246a360 360 0 0 1 4 4l6-5M318-269l0 1M310-264l1 1l7-6M299-256l1 1l10-8M311-260l0 0M299-255l-2 2l2 3l12-10M293-253a387 387 0 0 1 3 3l2-2M320-263l1 1M313-258l1 1l7-5M314-257l-10 8l2 1M300-249l2 2l3-2M301-248l-2 2l2 3M294-251l-2 2a384 384 0 0 1 6 7l2-2M287-249a380 380 0 0 1 5 5l3-2M324-260l1 1M290-246l-3 2a377 377 0 0 1 8 9l30-24M282-246a374 374 0 0 1 7 8l2-2M285-242l-2 2a371 371 0 0 1 8 10M276-242a368 368 0 0 1 8 9l3-2M280-238l-2 2a364 364 0 0 1 8 11M299-234l2 3M300-233l-3 2a376 376 0 0 1 4 5M282-231l-2 2a361 361 0 0 1 7 10l12-9M283-224l-2 2a358 358 0 0 1 6 8M264-244l-19 17a334 334 0 0 1 20 23l19-14M215-248l-2 2a325 325 0 0 1 36 36l6-5M188-275l-6 9a322 322 0 0 1 47 40l3-3M163-274a319 319 0 0 1 41 29l3-2M184-260l-1 2a316 316 0 0 1 70 70M159-269a313 313 0 0 1 60 45l2-2M157-267a309 309 0 0 1 31 21l2-2M138-297l-9 19a306 306 0 0 1 42 24l2-3M150-267l-1 3a303 303 0 0 1 95 84M201-227l-2 2a300 300 0 0 1 43 47M106-288l-3 10a297 297 0 0 1 116 78l2-2M59-288a293 293 0 0 1 105 44l1-2M57-285a290 290 0 0 1 55 17l1-3M85-277l-1 3a287 287 0 0 1 148 105M54-273a279 279 0 0 1 108 46l4-7M333-242l1 1M333-241l-2 1l1 2M331-239l-11 8l1 2M320-230l-9 7l1 3M312-222l-19 14l2 2M326-226l1 1M326-226l-2 2l1 2M324-223l-2 2l1 1M338-228l0 0M322-221l-10 7l2 2l24-16M313-213l-3 2l2 2M311-210l-3 2l2 2M339-220l1 2M320-209l1 2l18-12M321-208l-11 7l2 3M306-201l2 3l3-2M341-215l0 1M346-214l1 1M347-213l-9 5l1 1M338-207l-19 11l2 3M314-195l2 3l4-2M315-193l-3 1a366 366 0 0 1 3 5M313-189l-10 6l1 3M341-214l-44 28a350 350 0 0 1 4 6l3-1M307-200l-16 11a347 347 0 0 1 5 8l3-2M287-190a344 344 0 0 1 4 6l3-1M353-202l0 1M352-198l0 1M349-197l0 1l3-1M353-202l-8 5l1 2l3-1M327-189l2 3l17-10M324-188l1 2l3-1M341-189l1 2M325-187l-21 12a350 350 0 0 1 3 6l35-19M299-174a346 346 0 0 1 2 4l4-2M296-174l1 4l3-2M347-183l1 3M347-182l-2 2l1 2M345-179l-17 9l1 2M323-172a367 367 0 0 1 3 4l3-1M320-172l2 3l3-1M312-169l1 3l8-4M296-172l-10 6a331 331 0 0 1 6 10l21-11M289-187l-14 9a328 328 0 0 1 11 18l3-1M309-207l-41 28a322 322 0 0 1 8 13l5-3M294-207l-39 27a312 312 0 0 1 8 13l9-6M339-163l1 2M343-161l1 3M339-162l-17 8l2 3l19-8M323-152l-3 1a354 354 0 0 1 3 6M312-155a348 348 0 0 1 4 9l6-2M308-156a345 345 0 0 1 3 7l3-2M309-153l-8 4a336 336 0 0 1 6 12M304-143l-3 1a333 333 0 0 1 3 7M374-160l0 2M374-159l-20 8l1 2M351-151l1 3l3-2M347-151l1 3l3-2M344-150l1 2l3-2M326-144l1 2l17-7M361-146l1 2M362-145l-3 1l1 3M359-142l-19 7l1 3M335-137a362 362 0 0 1 2 5l3-1M332-136l1 3l3-1M329-136l1 2l3-1M383-146l1 1M371-143l1 2l12-5M372-142l-21 8l1 2M329-135l-9 4a346 346 0 0 1 3 9l29-11M322-127l-3 2a342 342 0 0 1 2 6M320-122l-3 1a339 339 0 0 1 2 4M318-119l-3 1l1 3M327-143l-22 10a333 333 0 0 1 7 18l3-1M303-138l-3 1a330 330 0 0 1 6 14l3-1M303-130l-3 1a326 326 0 0 1 7 19M304-120l-3 2a323 323 0 0 1 3 9M362-124l1 3M362-123l-3 1l1 3M350-123a371 371 0 0 1 2 5l8-3M351-120l-3 1a368 368 0 0 1 1 5M349-117l-3 1l1 4M394-123l0 1M375-119l1 2l18-6M376-118l-4 1l1 2M374-114l0 2M373-116l-3 1l1 3l3-1M370-113l-3 1l1 3M363-116a381 381 0 0 1 2 6l3-1M364-113l-3 1a378 378 0 0 1 1 6M346-114l-3 1a361 361 0 0 1 3 9l16-5M345-108l-4 0a358 358 0 0 1 3 9M335-118a355 355 0 0 1 5 15l3 0M303-114l-30 12a292 292 0 0 1 4 11l60-19M259-173l-31 20a274 274 0 0 1 31 62l16-6M245-123l-6 3a268 268 0 0 1 18 46M393-109l0 1M376-102l0 2M393-108l-37 10l0 3l20-6M388-96l1 2M378-95l0 3l11-3M369-94l1 3l8-2M356-97l-8 2a361 361 0 0 1 2 7l19-5M401-92l0 1M397-92l1 1l3-1M397-92l-11 3l0 3M375-88l1 3l10-3M375-87l-5 1l1 4M390-85l0 2M390-84l-3 1l0 3M370-84l-7 2a372 372 0 0 1 1 5l23-5M364-79l-7 1a365 365 0 0 1 1 5M357-75l-3 0l1 4M354-73l-3 1l1 2M352-71l-4 1l0 2M348-69l-3 1l0 2M386-69l0 2M382-70l1 3l3-1M366-68l1 2l16-2M388-63l0 2M367-67l-3 1a370 370 0 0 1 1 7l23-3M364-62l-3 0a366 366 0 0 1 1 6M357-68a363 363 0 0 1 1 10l4-1M386-58l1 2M381-58l0 2l5-1M358-63l-12 2a351 351 0 0 1 2 9l33-5M345-67l-3 0a348 348 0 0 1 2 11l3-1M336-80a345 345 0 0 1 4 19l3 0M349-91l-33 8a326 326 0 0 1 3 16l19-3M399-55l1 2M399-54l-17 2l0 3M378-53l1 3l3-1M382-40l0 3M378-43a381 381 0 0 1 1 5l3 0M379-40l-4 0a378 378 0 0 1 1 5M367-42a370 370 0 0 1 1 5l8 0M364-43l0 4l3-1M353-43l1 3l10-1M336-42l0 3l17-2M406-31l0 1M406-30l-14 1l0 2M388-31l1 3l3 0M389-29l-7 0l1 4M382-27l-3 0l0 3M401-22l0 1M394-23l0 2l7 0M379-25l-14 1l0 3l29-1M372-16l0 3M402-9l0 2M381-10l0 2l21 0M377-11l0 2l4 0M374-12l0 2l3 0M394-5l0 2M394-4l-3 0l0 2M391-3l-14 0l0 3M374-11l-11 1a363 363 0 0 1 0 9l14-1M372-14l-13 0a360 360 0 0 1 1 8l3 0M365-22l-9 0a356 356 0 0 1 0 12l4 0M352-29a353 353 0 0 1 1 13l3 0M349-30a350 350 0 0 1 0 8l4 0M346-30l0 4l3 0M334-30l0 3l12-1M336-41l-6 1a332 332 0 0 1 1 12l3-1M410 7l0 2M410 8l-9 0l0 2M398 6l0 3l3 0M387 5l0 2l11 0M387 6l-3 0l0 4M373 4l0 4l11 0M415 16l0 1M400 14l0 2l15 0M397 12l0 3l3 0M373 6l-3 0a370 370 0 0 1 0 7l27 0M370 9l-3 0a367 367 0 0 1 0 7M367 12l-3 0a364 364 0 0 1 -1 5M363 15l-3-1l0 4M357 3a357 357 0 0 1 0 13l3 0M354 2a354 354 0 0 1 0 7l3 0M354 5l-3 0a351 351 0 0 1 -1 13M348 1a348 348 0 0 1 0 11l3 0M348 6l-4 0a345 345 0 0 1 0 13M344 12l-9 0a335 335 0 0 1 0 7M330-34l-3 0a329 329 0 0 1 2 49l6 1M323-41a326 326 0 0 1 3 32l3 0M379-52l-59 8a323 323 0 0 1 2 19l3 0M318-75l-7 2a319 319 0 0 1 7 39l3 0M304-85a316 316 0 0 1 8 32l3-1M308-69l-3 0a313 313 0 0 1 7 88M312-25l-3 0a310 310 0 0 1 0 44M310-3l-3 0a307 307 0 0 1 -1 23M292-83a303 303 0 0 1 11 92l3 0M415 31l-1 1M397 28l-1 2l18 1M384 26l0 2l12 1M404 33l0 1M401 32l0 2l3 0M401 33l-32-3l0 4M369 32l-3 0a367 367 0 0 1 -1 5M383 46l0 3M380 44l0 3l3 0M377 43l0 2l3 1M368 40l0 3l9 1M397 53l-1 1M396 54l-5-1l0 2M382 50l0 3l9 1M382 51l-3 0l-1 4M368 41l-4 0a367 367 0 0 1 -1 10l15 2M352 37a354 354 0 0 1 -1 7l13 2M366 35l-17-2a351 351 0 0 1 -1 7l3 1M401 61l0 1M391 59l0 1l10 2M385 62l0 3M385 63l-7-1l-1 3M377 64l-3-1l0 3M372 59a376 376 0 0 1 -1 5l3 0M371 61l-3 0l-1 4M391 59l-27-4a368 368 0 0 1 -1 7l5 1M401 75l0 1M398 73l0 2l3 1M388 70l0 2l10 2M388 71l-21-4l0 4M363 59l-5-1a362 362 0 0 1 -2 9l11 2M357 62l-3 0a359 359 0 0 1 -2 7M352 52a356 356 0 0 1 -2 13l3 0M351 58l-3 0a353 353 0 0 1 -2 11M389 83l-1 2M386 80l0 3l3 1M373 76l0 3l13 3M370 75l0 2l3 0M370 76l-3-1a375 375 0 0 1 -1 6M366 78l-4-1l-1 4M361 79l-11-2l0 3M381 98l-1 2M380 99l-6-2l-1 3M371 94l-1 4l4 1M369 92l-1 3l3 1M366 91l-1 2l3 1M365 92l-3-1a374 374 0 0 1 -1 7M361 95l-3-1l-1 4M401 116l0 1M395 118l0 1M381 113l0 1l14 5M395 120l0 1M395 121l-9-3l0 2M381 114l-21-7l-1 4l27 8M401 117l-44-13l-1 4l3 1M370 117l-1 2M357 106l-7-2a365 365 0 0 1 -3 7l22 7M347 100a361 361 0 0 1 -2 6l3 1M346 103l-3-1a358 358 0 0 1 -2 9M342 96a355 355 0 0 1 -3 10l3 1M358 96l-22-6a347 347 0 0 1 -3 9l7 2M334 82a344 344 0 0 1 -3 11l3 1M333 88l-5-2a339 339 0 0 1 -7 22M320 75a328 328 0 0 1 -5 19l10 3M350 78l-33-7a325 325 0 0 1 -3 13l3 1M316 77l-6-1a319 319 0 0 1 -9 28M306 90l-3-1a316 316 0 0 1 -5 15M384 135l-1 2M388 143l-1 1M372 136l0 2l15 6M372 137l-3-1l-1 2M367 133l-2 3l3 1M364 131l-1 3l3 1M384 136l-27-9l-1 2l7 3M356 128l-12-4a366 366 0 0 1 -2 6M301 96l-3-1a312 312 0 0 1 -5 13l50 19M347 63l-43-8a309 309 0 0 1 -12 46l3 1M349 37l-47-5a304 304 0 0 1 -8 45l5 1M299 54l-3 0a301 301 0 0 1 -15 53M384 27l-87-6a297 297 0 0 1 -11 59l3 1M371 143l0 1M371 144l-5-2l-1 1M365 142l-3-1l0 2M341 138l0 2M360 155l0 1M360 156l-4-2l0 2M344 147l-1 2l13 6M341 145l-1 2l3 1M339 143l-1 1l3 2M345 154l-1 2M345 155l-3-1l-1 2M340 150l-1 4l3 1M339 152l-8-4a363 363 0 0 1 -2 4M338 144l-24-11a341 341 0 0 1 -3 8l19 9M303 126a328 328 0 0 1 -3 6l12 5M302 129l-6-2a322 322 0 0 1 -4 9M294 131l-3-1a318 318 0 0 1 -3 5M290 132l-3-1l-2 3M286 133l-3-2a312 312 0 0 1 -2 5M285 118a309 309 0 0 1 -6 14l3 1M341 139l-58-24a306 306 0 0 1 -4 9l3 1M281 112a302 302 0 0 1 -3 6l3 2M280 115l-3-1a299 299 0 0 1 -8 18M362 142l-86-34a296 296 0 0 1 -6 14l3 1M273 115l-3-1a293 293 0 0 1 -8 16M348 180l-1 2M348 181l-3-2a389 389 0 0 1 -2 4M344 181l-7-3l-1 3M337 172a378 378 0 0 1 -3 6l3 1M335 175l-3-1a375 375 0 0 1 -3 6M344 191l-1 2M343 192l-2-2l-1 2M340 191l-3-1l-1 2M337 191l-11-7l-1 2M325 185l-5-3l-1 2M331 177l-16-8a357 357 0 0 1 -5 9l9 5M316 161a354 354 0 0 1 -6 11l2 1M313 158a351 351 0 0 1 -3 7l3 1M345 207l-1 1M319 188l-2 3l27 17M311 161l-2-1a348 348 0 0 1 -10 18l19 11M354 220l0 1M339 210l-1 1l16 10M339 211l-3-2l-1 2M337 219l-1 2M336 216l-2 3l3 1M335 217l-18-11l-2 3M316 202l-2 3l2 2M315 203l-8-4a366 366 0 0 1 -3 4M331 228l-1 1M331 229l-3-2l-1 1M317 224l-1 2M328 228l-12-8l-2 3l3 2M327 235l-1 1M315 221l-2-1a382 382 0 0 1 -3 3l16 12M311 221l-2-1a379 379 0 0 1 -3 3M307 221l-2-2l-2 3M307 211a372 372 0 0 1 -6 8l3 2M305 208a369 369 0 0 1 -3 5l2 2M303 205a366 366 0 0 1 -2 4l2 1M306 201l-3-2a363 363 0 0 1 -4 6l3 2M304 193a360 360 0 0 1 -5 7l2 2M336 210l-34-21a356 356 0 0 1 -4 6l3 1M323 244l-1 1M314 240l-2 2M313 241l-2-2a392 392 0 0 1 -3 3M322 245l-12-10a389 389 0 0 1 -3 4l2 2M308 237l-2-2a386 386 0 0 1 -4 5M306 230a382 382 0 0 1 -5 5l3 2M304 226a379 379 0 0 1 -3 5l3 1M303 228l-3-1a376 376 0 0 1 -6 7M293 217a365 365 0 0 1 -5 7l9 6M291 214a362 362 0 0 1 -3 5l3 1M300 192l-2-2a353 353 0 0 1 -15 21l7 5M290 201l-2-2a350 350 0 0 1 -15 20M319 259l-1 1M319 259l-7-5l-1 1M302 249l-1 2M302 250l-3-2l-2 3M311 254l-18-15a378 378 0 0 1 -3 4l8 6M291 241l-2-2a375 375 0 0 1 -3 4M287 241l-2-2l-2 2M314 270l-1 0M304 268l-1 1M302 265l-1 1l2 2M301 266l-2-3l-2 2M298 259l-2 3l2 2M297 261l-2-2a392 392 0 0 1 -3 3M293 260l-2-2l-2 3M314 270l-29-25a376 376 0 0 1 -5 5l10 9M284 240l-10-8a359 359 0 0 1 -4 5l12 11M276 222a354 354 0 0 1 -8 9l4 3M281 209l-20-15a325 325 0 0 1 -11 14l22 19M255 201l-2-2a322 322 0 0 1 -15 17M299 278l-1 1M298 275l-2 2l2 2M296 272l-1 2l2 2M281 256l-2 2l16 15M302 293l-1 1M298 293l0 1M302 293l-28-26l-1 1l25 25M274 268l-3-3l-2 3M274 281l-2 1M260 262a369 369 0 0 1 -3 3l16 17M270 267l-10-10a366 366 0 0 1 -4 4l2 3M262 251a363 363 0 0 1 -6 6l2 2M259 254l-2-2a359 359 0 0 1 -8 7M285 302l-1 1M284 302l-2-2l-1 1M281 301l-2-3l-1 2M279 299l-3-2l-1 1M276 297l-3-2l-1 1M273 296l-3-3l-1 2M272 287a396 396 0 0 1 -4 5l2 2M273 301l0 1M274 306l0 1M273 302l-5-6l-2 1l8 9M267 297l-2-3l-2 2M270 289l-2-2a393 393 0 0 1 -6 6l2 2M265 290l-3-2a389 389 0 0 1 -4 4M267 280a386 386 0 0 1 -9 7l2 3M262 284l-18-20a359 359 0 0 1 -7 7M253 256l-5-5a353 353 0 0 1 -12 11l4 5M242 257l-2-3a350 350 0 0 1 -11 10M251 239a347 347 0 0 1 -19 18l3 2M250 236a343 343 0 0 1 -10 10l2 2M280 257l-31-28a338 338 0 0 1 -8 8l4 4M246 208l-3-2a318 318 0 0 1 -12 13l14 14M256 298l-2 2M255 299l-4-5l-1 2M265 319l-1 1M256 307l-2 1l10 12M255 307l-4-5l-2 2M246 294l-2 2l6 7M255 314l-1 1M254 315l-6-8l-1 1M248 308l-2-3l-2 1M245 301l-2 2l2 3M245 295l-2-3a380 380 0 0 1 -4 3l5 7M250 295l-19-22a358 358 0 0 1 -4 4l14 17M237 212l-2-2a315 315 0 0 1 -33 32l27 33M252 324l-1 1M245 313l-1 1l8 10M244 309l-2 2l3 3M243 310l-10-12l-3 2M233 294l-3 2l1 3M219 227l-3-3a312 312 0 0 1 -24 21l39 50M263 162a309 309 0 0 1 -60 71l2 2M304 169l-37-21a305 305 0 0 1 -34 49l2 3M270 136a302 302 0 0 1 -21 36l2 2M255 127a285 285 0 0 1 -10 18l15 9M245 332l-1 0M222 298l-1 1l24 33M222 294l-2 2l2 2M236 323l-1 0M221 295l-2-3a365 365 0 0 1 -4 3l20 28M223 314l-2 1M222 315l-3-5l-3 2M219 306a376 376 0 0 1 -4 2l2 3M209 291l-2 2l10 14M208 288l-2 2l2 2M207 289l-2-3a352 352 0 0 1 -5 4M217 294l-9-13a349 349 0 0 1 -7 5l1 2M197 258a325 325 0 0 1 -7 6l14 19M200 314l-2 1M201 309a368 368 0 0 1 -4 2l2 4M189 287a343 343 0 0 1 -4 2l14 21M189 283l-3 2l1 3M211 338l-2 1M187 284l-1-3a337 337 0 0 1 -8 5l32 53M185 275a332 332 0 0 1 -6 4l3 5M208 342l-1 1M181 307l-2 2M185 320l-2 1M195 359l-1 1M186 339l-2 1l11 20M186 336l-2 1l1 3M186 332l-3 2l2 2M185 333l-2-3a377 377 0 0 1 -5 3M183 326a374 374 0 0 1 -4 3l2 2M181 327l-12-22a348 348 0 0 1 -5 2M184 321l-13-24a343 343 0 0 1 -7 4l2 5M180 308l-12-21a333 333 0 0 1 -6 4l5 8M207 342l-37-61a328 328 0 0 1 -7 4l2 4M166 283l-4-8a319 319 0 0 1 -13 7M184 352l-1 1M179 340l-2 1l6 12M156 279l-2-3a316 316 0 0 1 -8 4l32 61M182 277l-12-17a311 311 0 0 1 -22 13l2 5M172 255a307 307 0 0 1 -14 9l1 3M171 251a304 304 0 0 1 -8 6l2 2M169 333l-2 2M168 334l-3-6l-3 2M159 332l-2 1M154 319l-1 1l5 12M172 370l-1 1M171 370l-19-42l-2 1M154 320l-4-7a347 347 0 0 1 -5 3l6 13M148 314l-2-3a344 344 0 0 1 -5 2M149 306a341 341 0 0 1 -7 3l2 3M164 329l-14-27a337 337 0 0 1 -6 3l2 3M152 297a334 334 0 0 1 -6 4l1 2M149 299l-1-3a331 331 0 0 1 -13 6M153 348l-2 1M152 348l-14-31l-3 1M141 299l-15-32a295 295 0 0 1 -9 4l20 46M167 254l-22-34a264 264 0 0 1 -36 20l12 29M193 261l-38-52a260 260 0 0 1 -30 19l2 3M158 379l-1 1M158 376l-2 0l2 3M151 370l-2 1M151 367l-2 1l1 3M150 387l-1 1M150 387l-10-26l-3 1M140 358l-3 1l1 3M139 358l-4-8l-4 1M142 394l-1 0M142 390l-2 1l1 3M141 391l-7-20l-3 1M133 371l-4-10l-2 0M128 361l-1-3l-2 1M129 354l-4 1l1 3M129 349l-3 1l1 5M133 350l-2-6a368 368 0 0 1 -5 2l1 4M134 339a365 365 0 0 1 -7 3l1 3M150 367l-21-50a343 343 0 0 1 -6 3l7 20M130 387l-1 1M127 372l-2 1l4 14M126 373l-1-3l-3 1M126 366l-4 1l1 3M124 367l-1-3l-4 1M121 364l-4-13l-3 1M127 400l-1 0M126 400l-1-3l-2 1M124 398l-4-14l-2 0M118 370l-3 1l4 13M114 382l-1 0M114 382l-3-7l-1 0M112 367l-4 1l3 7M110 367l-1-3l-3 1M117 371l-6-18a370 370 0 0 1 -6 2l2 10M115 352l-1-3a367 367 0 0 1 -7 2l1 3M110 394l-1 0M110 390l-1 0l1 4M110 390l-5-16l-2 1M107 396l-1 0M101 382l-2 0M100 382l0-3l-4 1M107 396l-6-21l-4 1l1 3M104 374l-2-5l-4 1l1 6M100 370l-1-3a380 380 0 0 1 -7 2M104 362a377 377 0 0 1 -9 3l1 3M111 350l-7-21a345 345 0 0 1 -13 4l8 30M98 331l-1-3a342 342 0 0 1 -15 4M89 330l0-3a339 339 0 0 1 -8 2M85 328l-1-3a336 336 0 0 1 -5 1M126 319l-6-15a327 327 0 0 1 -41 13l2 9M100 311l-1-3a324 324 0 0 1 -24 7M93 399l-1 0M93 395l-1 1l0 3M83 378l-2 1M84 373l-3 1l1 5M92 396l-7-31l-4 1l1 7M83 366l-1-3a372 372 0 0 1 -6 1M79 363l0-3l-4 1M75 383l-2 1M76 380l-3 1l1 3M77 376l-3 1l1 3M75 377l-2-12a373 373 0 0 1 -5 1M71 366l-1-3l-3 0M68 363l0-4l-3 0M77 361l-2-8a361 361 0 0 1 -9 2l0 4M70 354l0-3a358 358 0 0 1 -7 1M66 351l-2-13a344 344 0 0 1 -5 1M59 389l-2 1M61 381l-4 1l1 7M62 378l-4 0l1 3M60 378l0-3a379 379 0 0 1 -6 1M62 371a376 376 0 0 1 -6 1l1 3M59 371l-1-7a369 369 0 0 1 -7 1M62 360a365 365 0 0 1 -8 1l1 3M55 409l-1 0M55 409l-1-9l-2 0M54 390l-3 0l2 10M49 408l-1 0M50 404l-2 0l1 4M50 398l-1 0l0 6M49 398l0-3l-3 0M45 398l-1 0M47 395l0-5l-4 0l1 8M53 390l-5-31a362 362 0 0 1 -6 1l3 30M58 361l-1-6a359 359 0 0 1 -12 1l0 4M51 356l-1-4a356 356 0 0 1 -12 2M62 339l-2-11a333 333 0 0 1 -19 3l3 22M50 329l0-3a330 330 0 0 1 -16 2M35 407l-2 1M34 407l-1-9l-1 0M34 391l-2 0l0 7M35 388l-2 0l0 3M34 388l0-4a386 386 0 0 1 -5 1M36 381l-5 0l0 4M35 360l-3 0l2 21M29 406l-1 0M28 406l-1-16l-2 0M26 390l0-3l-5 0M24 387l-1-3l-3 0M22 384l-1-3l-3 0M28 377a378 378 0 0 1 -8 1l0 3M24 377l-1-15a362 362 0 0 1 -8 0M34 360l-2-21a341 341 0 0 1 -14 1l1 22M15 403l-2 0M25 340l0-4a337 337 0 0 1 -13 1l2 66M18 337l0-7a330 330 0 0 1 -9 0M42 327l0-3a327 327 0 0 1 -29 3l0 3M87 312l-3-11a312 312 0 0 1 -58 10l1 15M55 307l0-3a309 309 0 0 1 -48 5M157 376l-39-94a306 306 0 0 1 -87 22l0 3M4 390l-2 1M5 387l-2 0l0 4M4 387l0-3l-5 0M1 384l0-3l-4 0M6 378a378 378 0 0 1 -7 0l0 3M3 378l-1-15a363 363 0 0 1 -6 0M-1 363l0-3l-4 0M6 343a343 343 0 0 1 -8 0l-1 17M-9 379l-2 0M-14 384l-3 0M-13 375l-2 0l-1 9M-12 368l-2 0l0 7M-10 379l0-15l-3 0l0 4M-11 364l0-3a361 361 0 0 1 -7 0M-7 358a358 358 0 0 1 -7 0l0 3M-5 355l-5 0l0 3M-8 355l0-5a350 350 0 0 1 -10 0M2 343l0-20a323 323 0 0 1 -14 0l-1 27M-34 411l-1 0M-37 408l-1 0M-34 391l-2 0l-2 17M-35 391l1-15l-2 0M-40 397l-1-1M-38 389l-2-1l-1 8M-39 388l1-8l-3-1M-35 376l0-4l-4-1l-1 9M-34 411l5-61l-5 0l-3 21M-45 385l-2 0M-43 382l-2 0l-1 3M-53 409l-1 0M-48 381l-2 0l-4 28M-44 382l0-4l-5 0l0 3M-46 378l1-14l-4-1M-40 360a362 362 0 0 1 -6-1l-1 4M-32 350l0-3a348 348 0 0 1 -9-1l-2 13M-57 394l-2 0M-55 390l-3 0l0 4M-56 390l0-3l-3-1M-53 384l-4 0l0 3M-36 346l0-7a341 341 0 0 1 -12-2l-7 47M-42 338l0-3a338 338 0 0 1 -10-1M-26 333a334 334 0 0 1 -20-2l-1 3M-36 332l0-3a331 331 0 0 1 -16-2M-68 395l-1 0M-66 389l-2 0l-1 6M-67 389l1-3l-3-1M-60 366l-4 0l-3 19M-69 373l-3 0M-78 398l-1 0M-71 373l1-3l-3-1l-6 29M-65 358l-4-1l-2 12M-88 402l-1-1M-88 401l3-13l-2 0M-86 388l2-12l-1 0M-85 376l1-3l-2-1M-85 373l2-8l-2 0M-78 363a371 371 0 0 1 -5-1l-1 3M-77 360l-3-1l-1 4M-78 360l0-3a365 365 0 0 1 -6-2M-74 354a362 362 0 0 1 -6-1l-1 3M-73 351l-4-1l0 4M-71 348l-3 0l-1 3M-67 357l2-11a352 352 0 0 1 -7-1l-1 3M-62 366l6-36a334 334 0 0 1 -9-2l-3 18M-97 400l-1 0M-103 397l-1 0M-104 397l4-13l-2-1M-101 383l3-13l-1 0M-94 368l-4-1l0 3M-93 365l-2-1l-1 4M-91 362l-2 0l-1 3M-92 362l1-3a370 370 0 0 1 -6-2M-88 355a366 366 0 0 1 -5-1l-1 4M-91 355l1-3a363 363 0 0 1 -6-2M-97 400l12-51a360 360 0 0 1 -7-1l-1 3M-89 349l1-4a356 356 0 0 1 -7-2M-92 345l1-4l-4-1M-81 340a350 350 0 0 1 -11-2l-1 3M-60 329l0-3a331 331 0 0 1 -22-5l-5 18M-44 328l0-3a328 328 0 0 1 -26-5l-1 4M-108 369l-2-1M-109 369l1-6l-3-1M-102 356a371 371 0 0 1 -5-1l-2 8M-96 338l-3-1l-5 19M-97 338l6-23a328 328 0 0 1 -6-2M-57 323l1-3a325 325 0 0 1 -37-9l-1 3M-122 386l-1 0M-123 386l1-3l-1-1M-124 365l-2-1M-133 372l-1 0M-130 366l-1 0l-2 6M-130 366l1-3l-3-1M-125 364l1-3a382 382 0 0 1 -5-1l-1 3M-142 387l-1 0M-127 360l1-3a379 379 0 0 1 -5-1l-11 31M-120 356a376 376 0 0 1 -7-2l-1 3M-124 355l1-3a373 373 0 0 1 -7-3M-117 350a369 369 0 0 1 -8-3l-1 3M-115 347a366 366 0 0 1 -5-1l-1 3M-118 347l1-3a363 363 0 0 1 -11-4M-112 342a360 360 0 0 1 -9-3l-1 3M-110 339a357 357 0 0 1 -6-2l-1 3M-123 382l15-46l-4-1l-1 3M-105 334l-4-1l-1 3M-107 333l1-3a347 347 0 0 1 -17-6M-75 316l1-3a322 322 0 0 1 -32-9l-8 23M-90 309l1-3a318 318 0 0 1 -25-9M-102 302l1-3a315 315 0 0 1 -12-5M-24 311a312 312 0 0 1 -82-17l-1 3M-65 305l0-3a309 309 0 0 1 -47-14M-23 305a306 306 0 0 1 -65-12l-1 3M-21 302a302 302 0 0 1 -34-5l0 4M-157 388l-1-1M-143 357l-2 0l-12 30M-141 355l-2-1l-1 3M-142 354l1-4l-3-1M-136 347a372 372 0 0 1 -4-2l-2 5M-38 300l0-3a299 299 0 0 1 -73-19l-27 68M-20 295a296 296 0 0 1 -54-8l-1 3M-19 292a293 293 0 0 1 -28-3l0 3M-17 289a290 290 0 0 1 -15-1l-1 3M-16 284a284 284 0 0 1 -8-1l-1 6M-5 323l1-42a281 281 0 0 1 -16-1l0 3M6 278a278 278 0 0 1 -18-1l0 3M-3 278l0-4a274 274 0 0 1 -102-21M-158 365l-2 0M-159 365l2-3l-3-1M-159 362l4-8l-3-2M-156 353l1-3l-2-1M-156 350l7-15l-2-1M-142 332a361 361 0 0 1 -6-3l-2 5M-173 376l-1 0M-172 366l-2-1M-173 365l1-3l-3-1M-183 372l-1-1M-172 353l-1-1l-10 20M-176 354l-1 0M-173 352l5-10l-2-1l-7 13M-173 362l10-21a378 378 0 0 1 -5-2l-1 2M-165 340l1-3a375 375 0 0 1 -5-3M-157 337a371 371 0 0 1 -8-4l-1 3M-161 335l1-3a368 368 0 0 1 -7-4M-174 376l21-45a365 365 0 0 1 -9-4l-1 3M-194 358l-2-1M-195 358l2-3l-3-2M-190 353l-3-2l-2 3M-187 351l-3-1l-1 2M-189 350l2-3a395 395 0 0 1 -5-2M-183 346a391 391 0 0 1 -5-3l-2 3M-177 337a381 381 0 0 1 -4-2l-5 10M-179 336l1-3a378 378 0 0 1 -7-4M-173 332a374 374 0 0 1 -7-4l-1 3M-195 341l-1-1M-195 341l3-6l-2-1M-177 330l2-3a371 371 0 0 1 -11-5l-7 13M-205 347l-2-1M-206 346l2-3l-3-2M-206 342l2-2l-3-2M-205 339l1-3l-2-1M-198 336a390 390 0 0 1 -5-3l-2 3M-190 325a377 377 0 0 1 -4-2l-6 11M-218 353l-1 0M-192 324l6-10a365 365 0 0 1 -6-4l-27 43M-180 324l8-15a353 353 0 0 1 -11-7l-6 10M-160 311a350 350 0 0 1 -16-8l-1 3M-213 337l0 0M-213 337l5-8a390 390 0 0 1 -4-2M-210 328l7-10a378 378 0 0 1 -4-2M-222 327l-1-1M-218 325l-2-2l-3 3M-219 324l2-3l-3-2M-212 319a383 383 0 0 1 -4-2l-3 3M-210 317l-2-2l-2 3M-211 316l2-2a377 377 0 0 1 -6-4M-225 319l-2-1M-226 318l2-2l-2-2M-225 315l2-3l-2-1M-217 312a380 380 0 0 1 -5-3l-2 3M-212 312l2-3a374 374 0 0 1 -6-4l-4 5M-213 307l2-3a371 371 0 0 1 -7-4M-205 317l5-9a367 367 0 0 1 -13-9l-2 3M-206 304l1-3a364 364 0 0 1 -10-7M-185 295a348 348 0 0 1 -16-10l-9 13M-168 307l2-4a345 345 0 0 1 -25-16l-2 3M-179 295l2-2a342 342 0 0 1 -26-18M-190 284l2-2a339 339 0 0 1 -13-10M-158 329l16-32a329 329 0 0 1 -48-28l-5 8M-136 297a326 326 0 0 1 -29-15l-1 2M-145 331l15-35a323 323 0 0 1 -19-9l-1 3M-125 294a320 320 0 0 1 -13-5l-1 2M-123 292a317 317 0 0 1 -7-3l-2 3M-121 289a313 313 0 0 1 -4-2l-2 3M-252 321l-1-2M-248 320l-3-2l-1 2M-245 318l-2-2l-2 3M-242 316l-2-2l-2 3M-243 315l2-2a395 395 0 0 1 -5-4M-244 311l3-4a390 390 0 0 1 -4-4M-243 305l2-2a387 387 0 0 1 -3-3M-232 305a384 384 0 0 1 -9-6l-2 2M-237 302l5-6a376 376 0 0 1 -7-5M-235 294l2-3a373 373 0 0 1 -5-3M-236 290l3-3a370 370 0 0 1 -4-3M-235 286l2-3a367 367 0 0 1 -4-3M-220 290a364 364 0 0 1 -13-11l-2 3M-217 288a360 360 0 0 1 -7-6l-2 3M-214 286a357 357 0 0 1 -5-3l-2 2M-216 284l2-2a354 354 0 0 1 -15-12M-222 276l2-3a351 351 0 0 1 -8-6M-280 314l-1-1M-272 306l-1-1l-8 9M-269 305l-1-2l-2 3M-270 304l10-10a392 392 0 0 1 -3-3M-256 292a388 388 0 0 1 -3-3l-3 4M-252 291a385 385 0 0 1 -3-3l-2 3M-254 290l7-8a374 374 0 0 1 -5-5M-242 282a371 371 0 0 1 -5-5l-2 2M-244 279l2-2a368 368 0 0 1 -6-5M-224 270l2-2a348 348 0 0 1 -10-9l-13 15M-227 264l2-3a344 344 0 0 1 -8-7M-229 258l6-7a336 336 0 0 1 -5-4M-275 289l-2-2M-278 287a399 399 0 0 1 -3-3M-276 288l2-2a396 396 0 0 1 -3-3l-2 2M-276 285l3-3a393 393 0 0 1 -5-5M-276 280l2-2a390 390 0 0 1 -3-4M-265 282a387 387 0 0 1 -8-8l-2 2M-269 278l2-3a383 383 0 0 1 -6-6M-270 272l2-2a380 380 0 0 1 -3-4M-246 265a362 362 0 0 1 -10-10l-14 13M-226 249l6-6a328 328 0 0 1 -8-7l-23 24M-277 270l-2-1M-294 276l-1-2M-291 275l-1-2l-3 2M-278 264l-2-2l-12 12M-278 269l5-4a380 380 0 0 1 -4-4l-2 2M-298 267l-1-1M-299 267l3-2a397 397 0 0 1 -3-3M-293 264l-2-3l-3 2M-294 263l2-3a391 391 0 0 1 -3-3M-308 264l-1-2M-304 263l-2-2l-2 2M-292 253l-1-2l-12 11M-293 259l16-15a369 369 0 0 1 -3-3l-13 11M-271 246a366 366 0 0 1 -5-5l-2 2M-264 241a358 358 0 0 1 -3-3l-7 5M-302 253l-1-1M-306 250l-2-2M-307 249l4-4l-2-2M-309 244l-1-1M-314 243l-1-2M-310 242l-2-2l-2 2M-310 244l6-5l-2-2l-5 4M-305 238l2-2a384 384 0 0 1 -3-4M-304 244l10-8a377 377 0 0 1 -5-6l-5 4M-289 237a374 374 0 0 1 -5-6l-2 2M-292 234l3-2a371 371 0 0 1 -7-9M-283 234a367 367 0 0 1 -7-8l-3 1M-287 230l3-2a364 364 0 0 1 -8-10M-303 253l33-28a351 351 0 0 1 -8-10l-10 8M-266 240l9-8a346 346 0 0 1 -13-15l-4 3M-253 232a343 343 0 0 1 -8-10l-2 2M-275 263l33-32a335 335 0 0 1 -9-9l-6 5M-246 226l2-2a331 331 0 0 1 -22-26M-224 240l2-3a325 325 0 0 1 -28-30l-5 4M-335 238l-1-2M-329 236l-2-2l-5 3M-330 235l3-2l-2-3M-328 231l2-1l-1-3M-327 228l3-2l-1-2M-318 230a392 392 0 0 1 -4-6l-3 1M-340 230l-1-1M-337 229l-1-1l-2 2M-321 220l-1-1l-15 10M-324 215l-1-1M-350 227l0-1M-350 227l9-6l-2-2M-325 215l3-2a386 386 0 0 1 -3-4l-17 11M-318 212l-2-3l-3 2M-322 219l12-8a375 375 0 0 1 -3-4l-6 4M-320 227l16-12a372 372 0 0 1 -5-8l-3 2M-306 211l2-2a369 369 0 0 1 -8-12M-296 215a366 366 0 0 1 -9-13l-3 2M-352 222l-1-1M-353 221l18-11l-1-2M-335 209l10-7l-1-2M-301 208l3-1a363 363 0 0 1 -10-16l-17 10M-290 212a359 359 0 0 1 -11-15l-2 2M-351 214l-1-1M-352 214l8-5l-1-1M-344 209l6-4l-1-2M-295 205l2-2a356 356 0 0 1 -12-19l-34 20M-284 209a353 353 0 0 1 -12-17l-3 1M-281 208a350 350 0 0 1 -7-9l-3 1M-285 203l3-1a347 347 0 0 1 -16-25M-358 212l-1-1M-359 212l3-2l-1-2M-340 195l-2-2M-336 195l-2-3l-3 2M-356 209l25-15l-2-2l-4 2M-332 193l4-2a380 380 0 0 1 -3-5M-330 188l3-1a376 376 0 0 1 -2-4M-328 185l4-2a372 372 0 0 1 -3-4M-325 181l8-5a362 362 0 0 1 -2-5M-318 174l3-2l-2-3M-316 171l3-2l-2-2M-290 190l18-12a325 325 0 0 1 -14-25l-28 15M-237 223l3-3a322 322 0 0 1 -43-56l-2 2M-190 255a318 318 0 0 1 -64-64l-3 2M-225 226l3-2a315 315 0 0 1 -57-77M-254 187l3-2a312 312 0 0 1 -26-40M-265 165l3-1a309 309 0 0 1 -12-22M-369 178l-1-1M-370 177l3-1l-1-2M-363 177l-1-3l-3 1M-364 175l3-1l-1-3M-357 175a397 397 0 0 1 -2-4l-3 1M-349 173l-2-3l-7 3M-344 171l-1-2l-5 2M-341 171l-1-2l-3 1M-337 170l-1-2l-3 2M-369 171l0-1M-354 165l-1-1l-14 6M-354 165l2-2l-1-2M-338 169l15-7a361 361 0 0 1 -5-11l-24 11M-376 165l0-1M-372 165l-1-1l-3 1M-373 164l3-1l-1-2M-366 164l-1-3l-3 1M-367 162l3-1l-1-4M-366 156l0-2M-364 159l2-1l-1-4l-3 1M-357 161a391 391 0 0 1 -2-6l-3 1M-353 160a388 388 0 0 1 -2-4l-3 2M-354 158l3-1a385 385 0 0 1 -5-10M-325 156l3-1a358 358 0 0 1 -7-14l-25 11M-316 161a355 355 0 0 1 -7-14l-3 1M-319 154l2-2a351 351 0 0 1 -8-18M-301 154a338 338 0 0 1 -8-16l-12 5M-378 143l0-2M-378 142l3-1l0-2M-364 132l-1-2M-364 131l3-1l-1-2M-384 134l0-3M-362 129l3-1l-1-4l-24 8M-359 126l9-3l-1-4M-375 140l30-12a368 368 0 0 1 -3-8l-3 1M-400 129l-1-1M-384 125l-1-1l-16 5M-381 125l0-2l-4 1M-381 124l3-1l-1-3M-387 120l0-1M-387 120l5-2l0-2M-382 117l3-1l-1-2M-372 117l-1-4l-6 2M-379 122l11-4a387 387 0 0 1 -2-4l-3 1M-364 121a384 384 0 0 1 -2-6l-3 1M-365 118l3-1a380 380 0 0 1 -3-9M-358 120a377 377 0 0 1 -2-8l-3 1M-359 116l3-1a374 374 0 0 1 -3-10M-358 110l4-1a371 371 0 0 1 -2-6M-396 111l-1-1M-396 111l14-5l0-1M-378 107l-1-2l-3 1M-382 104l0-1M-379 106l3-1l0-3l-6 1M-376 103l3 0l-1-4M-367 105a382 382 0 0 1 -2-5l-4 1M-355 106l3-1a368 368 0 0 1 -2-6l-14 3M-346 124l3-1a364 364 0 0 1 -7-22l-3 1M-347 112l3-1a361 361 0 0 1 -5-19M-347 101l3-1a358 358 0 0 1 -3-10M-345 95l3-1a355 355 0 0 1 -2-7M-327 130a352 352 0 0 1 -13-40l-3 1M-301 123a325 325 0 0 1 -7-21l-26 8M-305 146l15-7a321 321 0 0 1 -12-28l-3 1M-283 146a318 318 0 0 1 -10-22l-3 1M-268 153l3-2a305 305 0 0 1 -12-22l-11 6M-123 288l16-36a274 274 0 0 1 -136-126l-28 15M-389 92l-1-2M-390 91l3-1l0-2M-387 89l3-1l0-2M-384 87l11-2l-1-2M-374 84l13-3l0-2M-394 79l-1-2M-405 73l0-1M-398 73l-1-1l-6 1M-399 72l10-1l0-3M-384 72l-1-3l-4 0M-407 70l0-1M-384 70l3 0a387 387 0 0 1 -1-5l-25 5M-377 72a384 384 0 0 1 -1-5l-4 0M-394 78l20-4a381 381 0 0 1 -1-5l-3 0M-370 75l-1-4l-3 0M-371 73l3 0a375 375 0 0 1 -2-11M-369 67l4-1a371 371 0 0 1 -2-6M-361 75a368 368 0 0 1 -2-12l-3 0M-357 75a365 365 0 0 1 -2-7l-3 1M-358 71l5-1a360 360 0 0 1 -2-13M-366 58l0-4M-354 64l4-1a355 355 0 0 1 -1-9l-15 2M-344 73a352 352 0 0 1 -3-15l-3 0M-341 74a349 349 0 0 1 -2-9l-3 1M-415 51l0-1M-404 51l0-1l-11 1M-404 50l3 0l0-3M-397 52l-1-4l-3 1M-407 47l-1-1M-397 50l3 0a397 397 0 0 1 -1-5l-12 2M-391 52l0-5l-3 0M-391 49l20-2a374 374 0 0 1 0-6M-342 69l9-2a340 340 0 0 1 -4-27l-34 4M-394 37l-1-2M-397 29l0-3M-394 30l0-2l-3 0M-394 29l15-1a380 380 0 0 1 -1-6M-376 30a377 377 0 0 1 0-6l-4 1M-371 30l-1-3l-4 0M-368 31l0-3l-4 1M-395 36l30-3l0-3l-3 0M-365 31l3 0a363 363 0 0 1 0-11M-358 35a360 360 0 0 1 -1-10l-3 0M-355 36a356 356 0 0 1 0-6l-3 0M-407 14l0-1M-407 14l13-1l0-2M-391 15l0-3l-3 0M-421 11l0-1M-391 14l4 0l-1-4l-33 0M-417 8l0-2M-417 7l12 0l0-2M-391 8l0-2l-14 0M-392 3l0-2M-389 4l0-2l-3 0M-391 7l21 0l0-4l-19 0M-387 12l22-1a365 365 0 0 1 0-6l-5 0M-394-2l0-3M-365 8l3 0a362 362 0 0 1 0-11l-32-1M-362 2l4 0a358 358 0 0 1 0-7M-355 15a355 355 0 0 1 0-17l-3 0M-352 16a352 352 0 0 1 0-9l-3 0M-348 17a349 349 0 0 1 -1-6l-3 0M-416-9l0-1M-392-7l0-2l-24-1M-392-8l12 0l0-3M-349 14l4 0a346 346 0 0 1 -1-23l-34 0M-419-20l0-2M-419-21l8 0l0-1M-408-19l0-2l-3 0M-405-17l0-3l-3 0M-405-19l11 1l0-4M-382-15l0-5l-12 0M-382-18l3 1a380 380 0 0 1 0-6M-376-14a376 376 0 0 1 0-6l-3 0M-376-17l12 0a364 364 0 0 1 1-8M-406-31l0-1M-406-32l11 1l0-1M-395-32l11 1l1-3M-381-28l1-4l-3 0M-377-27l0-3l-3 0M-377-28l3 0a375 375 0 0 1 1-8M-374-32l4 0l0-5M-364-21l4 1a361 361 0 0 1 1-13l-11-1M-357-12a357 357 0 0 1 1-15l-4 0M-345-11a346 346 0 0 1 0-8l-12 0M-346 3l4 0a342 342 0 0 1 0-18l-3 0M-339 17a339 339 0 0 1 0-23l-3 0M-355 33l20-2a336 336 0 0 1 -1-25l-3 0M-336 18l4 0a333 333 0 0 1 1-52M-328 34a330 330 0 0 1 -2-42l-3 0M-325 35a326 326 0 0 1 -1-22l-3 0M-336 54l17-3a323 323 0 0 1 -3-27l-4 0M-361 80l49-11a320 320 0 0 1 -6-32l-3 0M-308 75a317 317 0 0 1 -4-22l-4 0M-310 64l3-1a314 314 0 0 1 -5-96M-387-45l0-2M-372-42l0-2l-15-2M-417-53l0-1M-372-43l3 0l1-4l-49-7M-369-45l6 1l0-4M-357-39a359 359 0 0 1 1-6l-7-1M-356-42l8 1a350 350 0 0 1 1-6M-400-60l0-1M-398-62l0-1M-400-60l11 1l0-2l-9-1M-384-62l0-2M-402-70l1-1M-395-68l1-2l-8-1M-379-64l0-2l-15-3M-384-63l12 2l1-3l-8-1M-372-63l4 1l0-5M-368-64l7 1l1-3M-360-65l3 1l0-3M-389-60l33 5a360 360 0 0 1 2-10l-3 0M-353-52a357 357 0 0 1 1-7l-3-1M-349-50a353 353 0 0 1 1-5l-4 0M-342-48l0-4l-7-1M-347-44l14 1a336 336 0 0 1 1-6l-10-1M-331-35a333 333 0 0 1 1-10l-3-1M-381-76l1-3M-378-74l1-3l-3 0M-375-72l1-3l-4 0M-382-83l0-1M-382-84l14 3l0-2M-368-82l3 1l1-2M-365-82l4 1l0-2M-357-75a364 364 0 0 1 2-6l-6-1M-356-78l3 1a361 361 0 0 1 1-5M-380-90l0-2M-352-80l10 3a350 350 0 0 1 2-4l-40-10M-375-73l35 6a347 347 0 0 1 2-12l-3 0M-338-64a344 344 0 0 1 2-8l-3-1M-330-40l3 0a330 330 0 0 1 4-25l-14-3M-379-100l0-1M-379-100l3 0l1-3M-370-96l1-4l-6-1M-368-94l1-3l-3-1M-367-96l3 1a376 376 0 0 1 1-6M-363-98l3 1l1-4M-352-89a363 363 0 0 1 2-7l-10-3M-349-88l1-4l-3-1M-397-114l0-1M-397-114l20 5l0-1M-367-104l1-2l-11-3M-366-105l12 3l1-3M-349-90l3 1a357 357 0 0 1 3-11l-11-3M-344-95l3 1a354 354 0 0 1 2-8M-340-98l3 1a351 351 0 0 1 2-5M-336-100l3 1l1-3M-334-83a344 344 0 0 1 5-16l-4-1M-365-113l1-2M-332-91l3 1a341 341 0 0 1 4-12l-40-12M-371-122l1-2M-370-123l3 1l1-3M-367-124l3 1l1-2M-363-124l3 1l0-2M-352-115a371 371 0 0 1 2-6l-10-3M-344-111a361 361 0 0 1 2-4l-9-3M-327-96l3 1a338 338 0 0 1 3-11l-22-7M-325-53l29 5a300 300 0 0 1 10-41l-37-11M-292-69l3 1a297 297 0 0 1 9-30M-313 16l42-3a271 271 0 0 1 11-89l-25-7M-186 201l4-5a268 268 0 0 1 -84-227l-3-1M-55 269l2-10a264 264 0 0 1 -195-168l-3 1M75 296l-11-44a260 260 0 0 1 -234-55l-2 3M140 219l-1-3a257 257 0 0 1 -198 34l-1 3M250 136l-28-15a253 253 0 0 1 -179 129l0 3M266 122l-39-18a250 250 0 0 1 -82 99l2 3M293 51l-51-9a246 246 0 0 1 -52 114l3 3M301-37l-60 7a242 242 0 0 1 -21 131l4 2M249-97l-26 10a239 239 0 0 1 13 123l4 1M110-256l-17 40a235 235 0 0 1 141 190l3 0M4-319l-1 87a232 232 0 0 1 183 94l3-2M-63-282l13 59a228 228 0 0 1 154 20l2-3M0 0l-239-209M0 0l-227-218M0 0l-217-230M0 0l-206-256M0 0l-181-279M0 0l-116-311M0 0l-107-312" stroke="#868686" stroke-width="1.7" fill="none"/><circle r="351" stroke="#808080" stroke-width="156" pathLength="36000" stroke-dasharray="0 11237 28 16844 28 7863" fill="none"/><circle r="357" stroke="#808080" stroke-width="144" pathLength="36000" stroke-dasharray="0 2635 28 6634 60 18768 28 4217 28 3602" fill="none"/><circle r="363" stroke="#808080" stroke-width="132" pathLength="36000" stroke-dasharray="0 2603 44 4 28 6666 59 10514 28 8195 28 4185 28 3618" fill="none"/><circle r="369" stroke="#808080" stroke-width="120" pathLength="36000" stroke-dasharray="0 361 28 1848 28 879 28 2388 44 3804 44 1657 28 116 28 3947 43 3311 28 10787 28 608 44 2261 28 2039 28 1567" fill="none"/><circle r="375" stroke="#808080" stroke-width="108" pathLength="36000" stroke-dasharray="0 1887 44 545 60 2722 28 910 28 1419 28 3407 44 146 44 131 28 1181 28 2532 28 1355 60 719 28 4903 28 3375 28 894 60 5632 28 2071 28 815 28 708" fill="none"/><circle r="381" stroke="#808080" stroke-width="96" pathLength="36000" stroke-dasharray="0 2253 28 3311 28 656 28 274 28 1021 28 736 43 402 28 576 28 401 44 799 28 1896 28 592 28 1991 28 2087 28 1149 28 3 28 3314 28 1228 28 449 28 1355 60 36 28 1069 28 337 28 131 28 1181 28 624 28 751 60 1275 28 3216 28 1451 28 501" fill="none"/><circle r="387" stroke="#808080" stroke-width="84" pathLength="36000" stroke-dasharray="0 1363 28 2468 28 433 44 529 28 703 60 703 28 242 60 894 28 354 28 862 28 370 28 1021 28 370 28 306 28 608 44 878 28 592 28 465 28 576 28 3327 44 433 28 560 28 4 28 242 28 290 28 275 43 3966 28 2516 28 624 44 290 28 369 28 513 28 480 60 735 28 481 76 417 28 2150 28 275 43 306 28 656 28 640 28 815 43 470" fill="none"/><circle r="393" stroke="#808080" stroke-width="72" pathLength="36000" stroke-dasharray="0 11 44 211 44 274 28 496 28 402 75 179 28 640 28 35 92 1006 28 226 28 481 28 194 28 227 44 496 44 84 43 402 28 401 28 99 44 1848 28 274 44 290 60 147 28 322 28 512 44 338 60 194 44 465 28 1340 28 321 44 211 28 449 28 576 44 767 60 67 28 433 28 751 44 497 28 322 28 274 44 306 28 83 28 401 28 163 28 465 28 67 28 243 28 83 28 2582 28 179 28 131 28 274 44 735 28 640 59 100 28 178 76 36 44 83 60 3 28 227 28 830 28 863 60 3 28 672 60 179 59 386 28 735 28 67 28 449 28 259 28 290 28 1721 28 146 44 402 28 194 28 433 28 100 59 1054 28 19 28 370 28 676" fill="none"/><circle r="399" stroke="#808080" stroke-width="60" pathLength="36000" stroke-dasharray="0 234 44 290 28 19 28 354 28 52 28 131 43 4 28 4 60 433 44 4 44 274 59 36 44 51 28 593 28 337 108 178 28 370 28 433 60 719 76 322 59 4 60 211 75 290 28 36 44 353 28 84 44 814 44 83 60 1181 28 560 28 115 28 370 43 36 44 83 44 36 28 210 44 258 28 274 28 211 44 35 28 815 44 67 28 211 92 19 28 131 44 513 28 258 28 226 28 52 28 338 28 1339 28 210 44 354 28 20 44 242 60 210 28 131 28 131 28 672 28 147 28 51 28 83 28 243 44 115 28 83 28 99 28 115 28 52 44 115 28 1930 28 544 76 4 28 35 44 131 28 163 44 52 28 131 43 52 28 210 28 211 28 242 60 497 28 671 44 163 44 179 44 162 28 195 28 115 44 306 28 687 44 624 28 147 28 226 76 179 28 163 59 211 28 274 28 195 28 306 28 305 44 147 28 179 44 226 28 433 28 68 28 67 28 52 28 194 28 258 28 545 44 83 44 4 28 35 28 163 44 67 28 561 28 163 28 83 60 608 28 51 28 370 44 644" fill="none"/><circle r="405" stroke="#808080" stroke-width="48" pathLength="36000" stroke-dasharray="0 504 28 99 60 4 28 4 28 51 28 290 44 211 44 957 44 4 44 226 28 84 75 354 28 322 44 19 28 4 28 131 28 147 28 179 28 210 28 131 28 497 28 67 28 163 44 4 44 369 44 20 28 83 44 99 28 68 59 227 76 305 28 68 28 83 28 83 28 52 28 179 28 226 28 211 43 322 28 84 43 100 44 258 60 67 44 20 75 274 28 36 28 4 28 51 28 306 60 163 28 115 28 163 44 3 28 4 44 131 28 20 28 51 28 147 44 20 28 163 28 480 28 68 28 274 28 115 28 83 28 306 44 115 60 163 44 194 44 68 28 941 28 418 44 3 28 4 44 560 28 20 44 210 28 68 28 163 44 131 28 305 28 275 28 19 44 306 28 99 28 513 28 131 28 4 44 99 28 385 28 99 28 322 28 83 28 147 60 115 44 1755 60 211 28 3 44 465 28 147 44 195 28 465 28 35 28 322 28 894 28 242 60 163 60 51 60 52 44 449 43 68 28 20 28 3 44 115 44 4 28 67 108 242 28 4 28 20 28 449 28 83 28 4 28 115 28 99 60 894 44 4 28 242 44 163 107 274 44 115 28 338 60 83 44 83 44 20 28 290 44 179 28 226 28 20 75 100 44 3 44 4 28 211 28 321 28 4 92 163 28 115 28 671 76 83 28 4 76 51 28 4 28 20 44 178 44 115 28 20 28 195 28 147 59 68 28 433 28 99 28 67 28 259 28 178 28 115 28 1" fill="none"/><circle r="411" stroke="#808080" stroke-width="36" pathLength="36000" stroke-dasharray="0 154 28 608 28 115 28 52 28 115 60 4 28 194 28 258 28 290 28 243 28 449 28 51 28 20 60 19 28 4 60 401 28 20 28 163 28 226 44 545 28 226 28 83 28 4 28 67 28 36 28 20 28 624 28 242 28 115 44 465 28 115 60 131 28 242 28 115 92 147 44 3 28 52 76 178 44 163 28 115 28 115 28 4 44 226 76 672 28 3 28 68 44 1101 28 369 28 290 28 115 28 83 28 36 28 242 76 67 44 4 28 52 28 194 28 84 28 3 28 211 28 353 28 36 76 353 60 83 28 4 28 36 28 290 28 51 60 115 28 147 44 4 44 306 28 83 28 20 59 68 28 290 60 369 28 52 28 480 28 449 44 36 44 163 44 19 28 195 28 576 28 4 44 194 28 179 28 4 28 4 59 116 28 67 44 115 28 179 59 1072 28 4 28 226 44 242 28 115 28 449 28 116 28 576 28 67 44 4 28 51 28 20 28 99 28 36 28 131 44 242 28 20 28 258 28 83 60 67 28 227 44 83 28 147 28 322 60 321 28 4 28 20 28 83 44 83 44 354 28 4 28 131 28 385 28 4 44 369 44 131 28 20 28 131 28 20 28 3 28 115 28 418 28 401 28 83 28 115 28 322 28 115 44 147 28 242 28 179 28 36 44 83 60 67 28 163 28 115 28 36 28 83 44 67 28 115 44 465 28 163 28 306 28 99 28 497 28 3 28 52 28 4 44 115 28 19 28 354 28 656 28 51 28 115 28 52 28 115 28 4 28 4 43 4 28 4 28 52 28 178 28 4 28 99 28 20 28 99 44 147 28 4 44 24" fill="none"/><circle r="417" stroke="#808080" stroke-width="24" pathLength="36000" stroke-dasharray="0 759 28 2372 28 290 28 68 28 115 28 513 28 3 28 1546 28 879 44 1721 28 226 60 1133 28 115 28 1959 28 688 28 480 28 20 28 52 28 194 44 115 28 1515 28 162 28 274 28 4 28 227 28 83 44 353 28 179 28 338 44 512 28 592 28 36 28 2948 28 4 28 19 28 36 28 608 28 147 28 1101 28 290 28 115 28 433 28 353 28 68 28 2182 28 1689 28 926 28 36 28 958 28 3 28 115 28 131 44 449 28 20 28 2818 28 1228 28 120" fill="none"/><circle r="351" stroke="#868686" stroke-width="156" pathLength="36000" stroke-dasharray="0 8871 22 25499 22 1586" fill="none"/><circle r="363" stroke="#868686" stroke-width="132" pathLength="36000" stroke-dasharray="0 2081 22 58 22 7212 22 26583" fill="none"/><circle r="369" stroke="#2f9b4f" stroke-width="120" pathLength="36000" stroke-dasharray="0 332 22 35646" fill="none"/><circle r="369" stroke="#868686" stroke-width="120" pathLength="36000" stroke-dasharray="0 348 22 8485 22 27123" fill="none"/><circle r="375" stroke="#2f9b4f" stroke-width="108" pathLength="36000" stroke-dasharray="0 4212 22 11537 22 14275 22 3921 38 1951" fill="none"/><circle r="375" stroke="#868686" stroke-width="108" pathLength="36000" stroke-dasharray="0 15262 22 20716" fill="none"/><circle r="381" stroke="#868686" stroke-width="96" pathLength="36000" stroke-dasharray="0 316 22 28315 22 4907 37 1664 22 695" fill="none"/><circle r="381" stroke="#2f9b4f" stroke-width="96" pathLength="36000" stroke-dasharray="0 14324 22 21654" fill="none"/><circle r="387" stroke="#2f9b4f" stroke-width="84" pathLength="36000" stroke-dasharray="20 5591 22 932 22 1012 22 4112 22 439 22 6560 22 15165 22 2015" fill="none"/><circle r="387" stroke="#868686" stroke-width="84" pathLength="36000" stroke-dasharray="0 300 22 5861 22 8708 22 1838 22 19205" fill="none"/><circle r="393" stroke="#868686" stroke-width="72" pathLength="36000" stroke-dasharray="0 825 22 248 22 153 22 1393 22 519 22 5130 22 1743 22 8659 22 2572 22 12937 22 1601" fill="none"/><circle r="393" stroke="#f2982f" stroke-width="72" pathLength="36000" stroke-dasharray="0 22611 22 4286 22 9059" fill="none"/><circle r="393" stroke="#2f9b4f" stroke-width="72" pathLength="36000" stroke-dasharray="0 2670 22 1663 38 3587 22 757 22 3906 22 3809 22 26 38 185 22 598 22 8837 22 2490 22 1933 22 2809 22 455 22 804 38 614 22 457" fill="none"/><circle r="393" stroke="#e8452c" stroke-width="72" pathLength="36000" stroke-dasharray="0 31308 22 344 22 4304" fill="none"/><circle r="399" stroke="#868686" stroke-width="60" pathLength="36000" stroke-dasharray="0 1509 38 518 22 3906 22 1186 22 964 22 1806 22 153 38 821 22 5988 22 423 22 1743 22 2445 22 694 22 5940 22 2570 22 1600 22 152 22 3176" fill="none"/><circle r="399" stroke="#2f9b4f" stroke-width="60" pathLength="36000" stroke-dasharray="0 46 22 535 22 677 22 248 22 249 22 359 22 58 22 646 22 630 22 1647 22 360 22 25 22 551 22 105 22 26 22 1520 22 1011 22 853 38 566 22 296 22 169 22 375 22 42 22 2776 22 869 22 1552 22 264 22 42 22 232 22 1234 22 408 22 3557 22 455 22 1378 22 1313 22 360 22 980 22 661 22 217 22 1409 22 10 22 311 22 2189 22 184 38 264 22 217 22 2013 22 153 22 662 38 170" fill="none"/><circle r="399" stroke="#f2982f" stroke-width="60" pathLength="36000" stroke-dasharray="0 11144 22 2872 22 8598 22 741 22 201 22 12334" fill="none"/><circle r="399" stroke="#e8452c" stroke-width="60" pathLength="36000" stroke-dasharray="0 31864 22 4114" fill="none"/><circle r="405" stroke="#868686" stroke-width="48" pathLength="36000" stroke-dasharray="0 889 22 582 22 455 22 1345 22 2809 22 2967 22 1107 22 184 22 1966 22 2331 22 2061 22 1218 22 1075 22 1746 37 4542 22 2903 38 3333 22 2824 22 694 22 520" fill="none"/><circle r="405" stroke="#f2982f" stroke-width="48" pathLength="36000" stroke-dasharray="0 9284 22 455 22 1282 22 10 22 5034 22 5164 22 73 22 519 37 153 38 105 70 10 38 89 22 26 38 41 22 26 22 42 22 89 22 773 38 280 22 534 22 487 22 10 38 26 22 9 22 392 22 439 22 1934 22 7977" fill="none"/><circle r="405" stroke="#2f9b4f" stroke-width="48" pathLength="36000" stroke-dasharray="0 141 22 74 54 89 22 89 22 10 54 105 22 10 22 232 54 296 22 42 22 9 22 106 22 232 22 89 22 249 53 10 38 89 22 26 38 26 22 10 22 41 22 217 22 407 22 153 22 200 22 10 22 137 22 169 22 185 22 73 22 42 22 73 22 376 22 89 22 137 22 105 22 26 22 73 22 26 22 26 22 57 22 26 22 105 22 105 22 10 38 42 37 10 22 121 22 137 38 10 22 10 22 73 22 26 22 10 22 25 54 121 38 90 37 58 38 296 22 216 38 42 38 57 38 89 22 42 22 10 54 89 22 264 22 360 22 25 38 137 22 26 22 42 22 57 22 26 22 41 22 26 54 153 22 391 38 10 22 201 22 57 22 26 22 105 22 10 22 25 22 10 22 26 38 121 38 10 22 168 22 122 22 121 22 25 22 296 22 137 22 58 22 312 38 216 22 26 22 10 22 25 22 249 22 264 22 26 22 280 22 105 22 121 22 137 22 201 22 9 22 10 22 10 22 216 22 440 69 58 22 25 22 10 22 10 54 439 22 296 22 201 22 25 22 185 54 89 22 58 22 248 22 41 54 10 22 137 22 312 22 471 38 89 38 26 22 121 22 10 22 152 22 42 22 264 22 264 54 10 22 89 38 90 22 57 54 1904 22 1330 22 105 22 725 22 26 22 868 22 74 22 105 38 57 38 121 22 10 70 25 22 58 22 121 22 58 37 90 38 121 38 9 22 26 22 10 22 73 22 10 22 74 22 9 22 42 22 57 22 42 22 89 22 10 22 58 22 153 53 58 22 57 22 201 22 614 38 10 38 168 22 217 38 105 22 57 22 217 22 201 37 10 54 10 22 10 38 9 22 90 22 343 22 10 22 455 22 89 22 74 22 73 38 121 22 1234 38 74 38 343 22 58 22 200 38 169 22 73 54 42 22 57 54 137 22 185 38 41 22 121 22 10 38 10 22 26 38 105 22 200 22 265 22 25 22 264 22 58 22 26 22 105 22 26 22 105 22 184 22 155" fill="none"/><circle r="405" stroke="#e8452c" stroke-width="48" pathLength="36000" stroke-dasharray="0 31292 22 57 22 90 22 25 22 10 22 105 22 137 22 4130" fill="none"/><circle r="411" stroke="#f2982f" stroke-width="36" pathLength="36000" stroke-dasharray="0 9840 22 392 22 884 22 2077 22 725 22 3413 38 57 22 3399 38 10 22 121 22 73 22 392 22 280 22 25 22 249 22 73 22 73 22 58 22 105 22 74 37 122 22 73 22 89 22 121 22 74 38 391 38 550 38 233 22 375 22 1202 22 662 22 10 22 1934 22 995 22 5146 22 838" fill="none"/><circle r="411" stroke="#868686" stroke-width="36" pathLength="36000" stroke-dasharray="0 841 22 1234 70 169 22 852 22 710 22 200 38 2029 22 789 22 42 22 216 22 89 22 726 22 1266 22 41 38 884 22 455 38 360 22 216 22 26 22 2522 22 328 22 344 22 1536 38 741 22 1679 22 2143 22 391 22 344 22 837 22 1456 38 296 22 1982 22 5447 22 42 22 423 22 1743 22 439 22 1220" fill="none"/><circle r="411" stroke="#2f9b4f" stroke-width="36" pathLength="36000" stroke-dasharray="0 30 22 10 38 73 22 201 22 89 22 42 38 25 22 10 22 105 38 74 38 9 22 42 22 42 22 9 86 10 38 9 22 10 22 26 22 73 22 10 38 89 22 26 22 73 70 26 22 26 22 89 38 328 22 73 38 41 22 42 22 26 22 57 22 90 22 9 22 10 38 10 38 10 22 9 22 312 22 121 54 58 22 121 85 42 22 57 54 26 22 26 38 73 22 121 22 105 22 26 22 10 38 9 38 10 22 169 54 10 53 10 22 74 22 41 22 26 22 121 22 153 38 41 22 42 22 42 37 10 38 10 54 73 22 26 22 137 22 73 22 42 22 26 37 26 22 503 22 10 22 121 22 57 38 10 22 73 38 10 22 169 22 200 38 42 22 73 38 105 38 10 38 232 54 10 38 57 22 26 54 10 54 9 22 185 22 10 38 121 22 41 22 42 22 89 22 137 22 26 22 42 22 9 22 74 22 26 22 9 38 10 22 26 22 25 22 137 22 137 38 42 22 89 22 42 22 10 38 57 22 89 38 10 22 296 22 73 22 10 38 26 38 10 22 264 38 9 22 10 22 137 38 10 22 26 22 73 38 105 22 10 38 26 22 25 22 10 22 26 22 10 69 58 22 184 22 10 22 10 38 42 22 41 38 89 38 280 22 10 22 10 38 121 22 10 38 57 38 89 22 58 101 26 38 10 38 105 38 89 22 105 54 58 22 41 22 169 38 10 22 216 22 42 22 105 22 169 69 10 22 233 38 89 22 73 38 42 38 25 22 90 38 9 22 153 38 58 22 105 22 121 22 26 22 248 22 264 22 169 22 42 117 10 54 57 22 121 22 121 22 74 22 25 22 10 22 10 38 89 22 89 22 26 22 42 22 73 22 10 54 41 22 26 86 57 22 42 54 121 22 9 22 10 22 58 22 10 69 10 22 1698 22 89 22 312 70 375 22 42 22 184 38 10 22 10 22 153 22 73 22 137 54 169 22 137 22 248 22 1012 53 185 22 26 69 106 22 137 101 10 70 89 38 73 54 58 22 9 38 74 22 89 22 10 22 73 22 58 38 41 22 10 22 57 22 10 22 10 22 26 22 10 22 89 22 10 22 137 22 168 86 10 22 105 22 26 22 41 38 42 54 9 38 42 38 26 22 41 38 169 22 73 22 26 22 344 22 25 38 42 38 10 53 10 38 10 22 26 37 153 22 42 22 89 22 10 54 57 38 10 102 57 22 169 38 10 37 10 70 89 118 9 54 10 38 73 54 10 22 137 22 105 38 1186 22 26 22 26 22 57 22 74 69 10 22 10 22 42 22 105 22 89 54 10 22 10 22 121 38 9 22 58 22 26 22 105 54 57 22 10 38 57 22 10 22 26 22 10 37 10 70 26 22 73 38 42 22 57 22 26 22 25 22 26 22 10 38 10 22 41 22 26 86 25 22 169 38 10 22 73 22 26 22 10 22 9 38 10 38 10 22 10 38 168 54 10 22 57 22 58 38 10 38 57 70 121 22 26 37 1" fill="none"/><circle r="411" stroke="#e8452c" stroke-width="36" pathLength="36000" stroke-dasharray="0 30990 22 10 22 137 22 41 22 58 22 41 38 10 54 10 22 57 22 328 22 153 22 3875" fill="none"/><circle r="417" stroke="#f2982f" stroke-width="24" pathLength="36000" stroke-dasharray="0 650 22 2029 22 853 22 105 22 407 22 153 22 408 22 1949 22 3540 22 248 22 201 22 296 22 25 22 74 22 328 22 1440 22 964 22 1473 22 1711 22 41 38 121 38 42 38 216 22 614 22 2525 22 73 22 105 38 10 22 73 70 137 54 10 22 25 38 90 22 9 22 42 22 280 86 10 22 105 22 41 38 376 38 9 38 10 38 89 22 26 22 217 22 25 38 58 101 58 22 137 85 169 102 41 70 248 38 10 38 10 22 57 22 42 22 25 22 74 22 169 22 9 22 2157 22 1488 22 10 22 296 22 423 22 217 22 773 22 1965 22 964 22 2301" fill="none"/><circle r="417" stroke="#2f9b4f" stroke-width="24" pathLength="36000" stroke-dasharray="0 14 22 74 38 9 22 10 22 153 22 58 22 232 22 10 22 10 37 137 22 74 22 10 22 105 22 26 22 89 38 10 22 25 22 90 22 137 22 73 22 26 22 9 22 10 38 89 22 201 38 10 22 41 38 121 38 26 38 10 22 57 86 25 22 10 22 26 22 57 22 10 134 89 70 41 54 57 22 42 38 10 22 41 22 10 22 10 22 105 22 137 22 89 22 106 53 233 22 26 22 105 22 25 38 153 22 10 22 10 22 41 38 26 22 26 22 10 69 121 22 10 38 58 37 10 22 58 22 169 37 90 22 41 22 10 54 10 22 89 22 42 22 121 22 10 37 26 22 26 22 10 38 105 22 10 37 90 22 169 37 122 37 58 22 10 22 10 22 9 22 10 54 10 38 9 22 26 38 42 38 57 22 10 70 311 22 10 22 26 22 10 22 10 22 105 54 25 22 42 22 41 22 26 70 73 38 10 22 26 38 25 38 10 22 42 22 9 38 58 22 10 22 152 22 58 22 10 22 41 38 58 38 153 22 57 22 26 38 25 22 217 22 10 22 216 22 42 22 10 37 90 22 10 22 25 22 233 22 25 22 26 22 153 70 73 54 89 133 42 22 26 22 10 69 90 22 9 22 26 22 73 38 10 22 10 22 26 22 73 22 73 22 10 102 10 22 9 22 10 22 42 22 25 22 10 22 42 38 73 38 26 38 9 166 25 22 10 22 26 22 10 53 10 38 58 69 42 22 10 53 169 22 42 22 105 22 42 22 57 22 26 54 25 22 74 38 41 22 153 38 26 22 89 22 42 38 121 69 10 38 10 22 10 101 105 22 26 22 10 101 10 38 10 38 25 86 153 38 41 22 26 22 121 22 74 38 9 22 121 54 10 22 26 22 169 22 41 22 121 22 153 22 42 85 26 22 26 69 10 22 74 22 105 22 121 22 26 38 105 22 10 37 26 70 41 22 42 22 26 22 169 22 9 22 26 22 10 22 10 22 9 38 26 22 58 37 217 38 41 22 58 54 41 22 10 22 1396 53 233 70 9 22 153 22 42 38 10 22 311 22 265 22 375 22 121 22 296 22 42 22 57 22 328 22 26 38 169 53 265 22 73 54 10 22 25 22 26 22 89 38 74 22 41 70 280 22 73 22 10 22 74 22 9 22 26 22 248 22 10 38 58 53 58 22 153 22 57 22 10 22 10 22 10 22 9 22 42 22 10 22 73 22 42 70 216 22 26 22 57 70 10 22 25 22 26 70 26 22 105 22 10 22 25 38 10 38 10 22 57 54 42 22 57 22 26 22 25 22 137 22 10 70 57 22 26 22 153 38 26 22 9 38 10 22 26 22 26 22 57 22 105 22 74 22 25 22 26 22 10 38 137 22 25 22 26 22 89 22 137 22 26 22 10 38 26 22 57 38 73 22 74 85 106 22 89 70 137 22 89 101 42 22 1234 38 10 22 25 22 74 22 57 22 58 22 41 22 42 38 185 22 9 22 26 22 10 22 10 22 25 22 10 38 10 22 10 38 57 54 232 22 58 22 10 22 25 22 106 22 25 22 121 22 58 22 216 22 26 22 73 22 26 38 10 54 25 22 58 22 10 22 89 22 10 22 10 22 25 22 137 54 26 22 10 37 42 22 42 22 41 38 89 38 10 22 105 54 10 22 10 38 27" fill="none"/><circle r="417" stroke="#868686" stroke-width="24" pathLength="36000" stroke-dasharray="0 94 22 343 38 249 22 89 38 153 22 884 22 1345 22 106 38 439 22 200 22 551 22 41 22 296 22 74 22 153 37 471 22 249 22 343 22 614 22 249 22 41 22 185 22 550 22 10 38 10 22 137 22 57 22 901 22 439 22 105 22 344 22 1742 22 901 22 757 22 646 22 264 22 534 22 169 38 296 22 201 22 57 22 2554 54 89 22 5021 22 725 22 2729 22 757 22 169 37 26 22 519 22 1075 22 471 22 423 22 42 22 423 22 153 22 153 37 10 22 535 22 153 38 9 38 169 22 10 22 836 22 503 22 169 22 550 22 344 22 105 22 169 22 91" fill="none"/><circle r="417" stroke="#e8452c" stroke-width="24" pathLength="36000" stroke-dasharray="0 31038 101 26 22 25 38 10 22 137 22 105 22 26 22 42 22 25 22 42 54 10 22 25 22 10 22 10 22 4034" fill="none"/><circle r="423" stroke="#868686" stroke-width="12" pathLength="36000" stroke-dasharray="0 221 22 1361 22 42 54 312 22 1138 22 694 22 137 22 328 37 344 38 185 22 312 22 1488 22 121 38 185 22 964 38 1202 38 741 22 89 22 646 22 439 22 105 38 1521 37 1505 22 57 22 42 38 57 22 1250 22 201 22 519 22 280 22 804 22 137 22 424 38 836 22 1443 38 757 38 169 22 646 22 1679 22 3619 22 233 38 105 22 709 22 582 22 1791 38 89 22 217 22 57 38 26 22 264 22 1822 22 424 22 1283" fill="none"/><circle r="423" stroke="#f2982f" stroke-width="12" pathLength="36000" stroke-dasharray="0 412 22 4223 22 2045 22 2983 22 1441 22 948 22 4827 22 265 22 105 22 391 22 42 22 3192 22 137 70 200 22 42 22 296 38 57 22 996 22 121 22 10 22 10 22 216 22 217 53 328 22 121 22 58 22 25 22 296 22 74 22 725 22 1298 22 73 22 376 22 200 22 121 22 3015 22 5227" fill="none"/><circle r="423" stroke="#2f9b4f" stroke-width="12" pathLength="36000" stroke-dasharray="0 205 22 58 22 121 22 168 22 980 22 10 22 344 22 455 22 645 38 233 22 280 22 105 22 10 22 137 22 216 22 90 22 25 22 26 22 105 22 26 38 328 22 280 22 471 22 407 22 455 38 10 22 73 38 73 22 233 38 789 22 25 22 1187 22 312 22 57 22 121 22 312 22 121 22 264 22 328 22 185 22 232 22 630 22 42 22 57 22 344 22 185 22 105 22 121 22 375 22 169 22 726 69 185 22 57 22 137 22 10 22 153 22 10 22 471 22 232 22 233 22 9 22 201 22 232 22 185 22 58 22 9 22 10 22 217 22 375 22 42 22 105 22 10 22 216 38 121 38 42 22 375 22 408 22 153 22 216 22 201 22 57 22 1205 22 757 22 105 22 10 22 614 22 360 22 121 22 9 22 217 38 232 22 217 22 57 22 233 22 73 22 248 22 74 22 25 22 392 22 232 22 646 22 264 22 121 22 201 22 73 22 312 22 264 22 122 22 200 22 105 22 137 22 217 22 10 22 200 22 10 22 423 22 74 22 518 22 58 22 725 22 137 22 1314 22 232 22 153 22 852 22 58 22 725 22 423 22 1268" fill="none"/><circle r="423" stroke="#e8452c" stroke-width="12" pathLength="36000" stroke-dasharray="0 31149 22 105 22 42 38 137 22 184 22 10 22 185 22 4018" fill="none"/><path d="M-326 375A497 497 0 0 1 -412 278" stroke="#8d74cb" stroke-width="21.6" fill="none"/><path d="M-419 267A497 497 0 0 1 -476 141" stroke="#8d74cb" stroke-width="21.6" fill="none"/><path d="M26 496A497 497 0 0 1 -78 491" stroke="#8d74cb" stroke-width="21.6" fill="none"/><path d="M-86 489A497 497 0 0 1 -190 459" stroke="#8d74cb" stroke-width="21.6" fill="none"/><path d="M326-375A497 497 0 0 1 372-330" stroke="#8d74cb" stroke-width="21.6" fill="none"/><path d="M382-318A497 497 0 0 1 413-276" stroke="#8d74cb" stroke-width="21.6" fill="none"/><path d="M-191-446L-207-458L-189-466Z" stroke="#8d74cb" stroke-width="3.6" fill="none"/><path d="M-476-96L-495-89L-491-109Z" stroke="#8d74cb" stroke-width="3.6" fill="none"/><path d="M418-246L428-264L438-246Z" stroke="#8d74cb" stroke-width="3.6" fill="none"/><path d="M-431 239A493 493 0 0 1 -434 233" stroke="#f0f3f4" stroke-width="6.4" fill="none"/><path d="M-445 211A493 493 0 0 1 -448 205" stroke="#f0f3f4" stroke-width="6.4" fill="none"/><path d="M-451 198A493 493 0 0 1 -454 192" stroke="#f0f3f4" stroke-width="6.4" fill="none"/><path d="M-465 163A493 493 0 0 1 -467 156" stroke="#f0f3f4" stroke-width="6.4" fill="none"/><path d="M-445 212A493 493 0 0 1 -448 205" stroke="#f0f3f4" stroke-width="6.4" fill="none"/><path d="M-463 167A493 493 0 0 1 -466 161" stroke="#f0f3f4" stroke-width="6.4" fill="none"/><path d="M-335 361A493 493 0 0 1 -340 356" stroke="#f0f3f4" stroke-width="6.4" fill="none"/><path d="M-77 487A493 493 0 0 1 -83 486" stroke="#f0f3f4" stroke-width="6.4" fill="none"/><path d="M-170 463A493 493 0 0 1 -176 460" stroke="#f0f3f4" stroke-width="6.4" fill="none"/><path d="M-113 480A493 493 0 0 1 -120 478" stroke="#f0f3f4" stroke-width="6.4" fill="none"/><path d="M-162 465A493 493 0 0 1 -168 463" stroke="#f0f3f4" stroke-width="6.4" fill="none"/><path d="M-6 493A493 493 0 0 1 -13 493" stroke="#f0f3f4" stroke-width="6.4" fill="none"/><path d="M-77 487A493 493 0 0 1 -84 486" stroke="#f0f3f4" stroke-width="6.4" fill="none"/><path d="M-33 492A493 493 0 0 1 -39 491" stroke="#f0f3f4" stroke-width="6.4" fill="none"/></g>
<g transform="translate(471.6 213.8) scale(0.25)"><circle r="795" stroke="#fde2c6" stroke-width="37" pathLength="36000" stroke-dasharray="0 4 16 9 16 9 16 34 16 84 16 9 16 8 16 9 16 9 16 9 16 9 16 9 16 9 16 9 16 9 16 9 16 8 16 9 16 9 16 34 16 9 16 9 16 9 16 9 16 9 16 8 16 9 16 9 16 9 16 9 16 59 16 9 16 9 16 8 16 59 16 9 16 9 16 9 16 9 16 9 16 9 16 33 16 9 16 9 16 9 16 9 16 9 16 9 16 9 16 9 16 8 16 9 16 9 16 9 16 9 16 9 16 34 16 9 16 9 16 33 16 9 16 9 16 9 16 9 16 9 16 9 16 9 16 33 16 9 16 9 16 34 16 9 16 9 16 9 16 58 16 34 16 34 16 84 16 9 16 8 16 9 16 9 16 9 16 9 16 9 16 9 16 9 16 9 16 58 16 9 16 9 16 9 16 34 16 9 16 9 16 33 16 34 16 9 16 9 16 34 16 34 16 9 16 8 16 59 16 9 16 9 16 9 16 9 16 9 16 9 16 33 16 9 16 9 16 9 16 582 16 9 16 8 16 9 16 9 16 9 16 9 16 9 16 9 16 9 16 9 16 9 16 8 16 59 16 34 16 34 16 9 16 9 16 8 16 9 16 9 16 9 16 59 16 9 16 34 16 8 16 9 16 9 16 9 16 9 16 9 16 9 16 9 16 457 16 382 16 9 16 9 16 9 16 9 16 9 16 9 16 9 16 8 16 9 16 9 16 9 16 9 16 9 16 9 16 9 16 9 16 9 16 8 16 34 16 9 16 9 16 9 16 9 16 59 16 8 16 9 16 9 16 9 16 59 16 9 16 9 16 9 16 8 16 34 16 9 16 9 16 9 16 9 16 9 16 9 16 9 16 8 16 34 16 9 16 9 16 9 16 9 16 34 16 9 16 8 16 9 16 9 16 9 16 9 16 9 16 9 16 9 16 34 16 8 16 9 16 9 16 9 16 9 16 34 16 9 16 9 16 9 16 8 16 9 16 9 16 9 16 9 16 34 16 9 16 9 16 33 16 34 16 9 16 9 16 9 16 9 16 9 16 34 16 33 16 9 16 9 16 9 16 9 16 9 16 9 16 34 16 8 16 9 16 9 16 9 16 34 16 9 16 9 16 9 16 9 16 8 16 9 16 9 16 9 16 9 16 9 16 59 16 9 16 8 16 9 16 9 16 34 16 34 16 9 16 9 16 9 16 8 16 9 16 9 16 9 16 9 16 9 16 9 16 9 16 9 16 9 16 8 16 9 16 9 16 9 16 9 16 9 16 9 16 9 16 9 16 9 16 8 16 9 16 9 16 9 16 9 16 9 16 9 16 9 16 9 16 9 16 8 16 9 16 9 16 9 16 9 16 9 16 34 16 9 16 9 16 8 16 9 16 9 16 9 16 9 16 9 16 34 16 9 16 9 16 531 16 9 16 9 16 9 16 9 16 9 16 9 16 9 16 9 16 8 16 9 16 9 16 9 16 9 16 9 16 9 16 9 16 34 16 8 16 34 16 34 16 9 16 9 16 9 16 9 16 9 16 8 16 34 16 9 16 9 16 9 16 9 16 9 16 9 16 9 16 8 16 9 16 9 16 9 16 9 16 9 16 9 16 9 16 9 16 33 16 9 16 9 16 34 16 9 16 9 16 34 16 9 16 8 16 9 16 9 16 9 16 9 16 9 16 9 16 9 16 9 16 9 16 8 16 9 16 9 16 9 16 9 16 9 16 9 16 9 16 9 16 9 16 83 16 9 16 9 16 9 16 9 16 34 16 8 16 9 16 9 16 9 16 34 16 9 16 9 16 9 16 9 16 8 16 9 16 9 16 9 16 9 16 9 16 9 16 9 16 9 16 9 16 8 16 9 16 9 16 9 16 9 16 9 16 34 16 9 16 9 16 8 16 9 16 59 16 9 16 9 16 9 16 9 16 9 16 8 16 9 16 9 16 34 16 34 16 9 16 9 16 33 16 9 16 9 16 9 16 9 16 9 16 9 16 9 16 9 16 33 16 9 16 9 16 9 16 9 16 9 16 9 16 9 16 9 16 9 16 8 16 34 16 9 16 9 16 9 16 9 16 9 16 9 16 9 16 8 16 9 16 34 16 9 16 9 16 9 16 34 16 9 16 8 16 9 16 9 16 9 16 9 16 9 16 9 16 9 16 9 16 9 16 8 16 9 16 34 16 34 16 9 16 9 16 9 16 33 16 9 16 9 16 34 16 9 16 9 16 9 16 9 16 9 16 8 16 9 16 9 16 9 16 9 16 9 16 34 16 9 16 9 16 8 16 9 16 9 16 9 16 34 16 9 16 9 16 9 16 9 16 8 16 9 16 9 16 9 16 34 16 9 16 9 16 9 16 9 16 8 16 9 16 9 16 9 16 9 16 9 16 9 16 9 16 9 16 108 16 9 16 9 16 9 16 34 16 9 16 8 16 9 16 34 16 9 16 9 16 9 16 9 16 9 16 9 16 8 16 9 16 9 16 59 16 9 16 9 16 34 16 8 16 9 16 9 16 9 16 9 16 9 16 9 16 9 16 9 16 9 16 8 16 9 16 9 16 34 16 9 16 9 16 34 16 33 16 34 16 34 16 9 16 9 16 9 16 9 16 9 16 8 16 9 16 9 16 9 16 9 16 9 16 9 16 9 16 9 16 9 16 8 16 9 16 9 16 34 16 9 16 9 16 9 16 9 16 33 16 9 16 9 16 34 16 9 16 9 16 34 16 9 16 8 16 9 16 9 16 9 16 84 16 34 16 1148 16 9 16 9 16 9 16 9 16 9 16 233 16 9 16 34 16 9 16 8 16 9 16 9 16 34 16 9 16 9 16 9 16 9 16 9 16 8 16 34 16 9 16 34 16 34 16 9 16 33 16 9 16 9 16 59 16 9 16 9 16 9 16 9 16 8 16 9 16 9 16 9 16 9 16 9 16 9 16 9 16 183 16 34 16 9 16 9 16 8 16 9 16 9 16 9 16 9 16 9 16 9 16 9 16 9 16 9 16 8 16 9 16 9 16 9 16 9 16 9 16 9 16 9 16 9 16 9 16 8 16 59 16 9 16 9 16 9 16 9 16 9 16 9 16 8 16 9 16 9 16 9 16 9 16 9 16 9 16 9 16 34 16 8 16 59 16 9 16 34 16 34 16 9 16 8 16 9 16 9 16 9 16 9 16 9 16 34 16 9 16 9 16 33 16 9 16 9 16 9 16 9 16 9 16 34 16 33 16 9 16 9 16 9 16 9 16 9 16 9 16 9 16 9 16 9 16 8 16 9 16 9 16 9 16 9 16 9 16 9 16 9 16 9 16 9 16 8 16 9 16 9 16 9 16 9 16 34 16 9 16 9 16 33 16 9 16 9 16 34 16 9 16 9 16 9 16 208 16 9 16 9 16 9 16 33 16 9 16 34 16 59 16 9 16 9 16 8 16 9 16 9 16 9 16 9 16 9 16 9 16 9 16 9 16 9 16 8 16 9 16 9 16 9 16 9 16 9 16 9 16 9 16 9 16 9 16 8 16 9 16 9 16 9 16 9 16 9 16 9 16 9 16 9 16 9 16 8 16 34 16 9 16 9 16 9 16 9 16 9 16 9 16 9 16 8 16 9 16 34 16 9 16 9 16 9 16 9 16 34 16 8 16 34 16 9 16 9 16 9 16 9 16 9 16 34 16 8 16 9 16 9 16 9 16 9 16 9 16 9 16 9 16 9 16 9 16 8 16 9 16 9 16 9 16 9 16 34 16 9 16 9 16 33 16 9 16 34 16 9 16 9 16 9 16 9 16 9 16 33 16 9 16 34 16 9 16 9 16 9 16 830 16 34 16 34 16 9 16 9 16 9 16 9 16 9 16 8 16 9 16 9 16 34 16 9 16 9 16 9 16 9 16 9 16 8 16 9 16 9 16 9 16 9 16 9 16 9 16 9 16 9 16 9 16 8 16 9 16 9 16 9 16 9 16 9 16 9 16 9 16 34 16 8 16 9 16 9 16 9 16 9 16 9 16 9 16 9 16 9 16 9 16 8 16 9 16 9 16 9 16 9 16 9 16 9 16 9 16 9 16 9 16 33 16 34 16 9 16 9 16 9 16 9 16 34 16 8 16 9 16 34 16 9 16 9 16 9 16 9 16 9 16 9 16 8 16 9 16 9 16 9 16 34 16 9 16 34 16 33 16 9 16 34 16 9 16 9 16 9 16 34 16 9 16 33 16 9 16 34 16 9 16 9 16 9 16 9 16 9 16 33 16 9 16 34 16 9 16 9 16 9 16 34 16 8 16 9 16 9 16 9 16 9 16 9 16 34 16 9 16 9 16 8 16 9 16 9 16 9 16 9 16 34 16 9 16 9 16 9 16 8 16 9 16 9 16 9 16 9 16 9 16 9 16 9 16 9 16 9 16 8 16 9 16 9 16 9 16 9 16 9 16 9 16 9 16 9 16 9 16 58 16 9 16 9 16 9 16 9 16 9 16 9 16 9 16 8 16 9 16 9 16 9 16 9 16 9 16 9 16 9 16 9 16 9 16 108 16 9 16 34 16 9 16 9 16 8 16 9 16 9 16 9 16 9 16 9 16 9 16 9 16 34 16 8 16 9 16 9 16 9 16 9 16 9 16 9 16 9 16 9 16 9 16 8 16 9 16 34 16 9 16 9 16 34 16 58 16 9 16 9 16 34 16 9 16 9 16 9 16 9 16 9 16 33 16 9 16 9 16 34 16 34 16 9 16 33 16 9 16 9 16 9 16 9 16 9 16 9 16 9 16 34 16 8 16 9 16 9 16 9 16 9 16 84 16 9 16 33 16 9 16 9 16 34 16 9 16 9 16 9 16 9 16 4" fill="none"/><circle r="833" stroke="#2279b5" stroke-width="40" pathLength="36000" stroke-dasharray="0 774 20 5 20 5 20 5 20 5 20 5 20 30 20 54 20 379 20 5 20 5 20 4 20 329 20 5 20 5 20 503 20 5 20 5 20 4 20 5 20 5 20 30 20 129 20 5 20 5 20 5 20 5 20 5 20 5 20 5 20 5 20 5 20 4 20 5 20 578 20 154 20 5 20 30 20 5 20 5 20 30 20 4 20 5 20 478 20 55 20 5 20 5 20 5 20 30 20 4 20 30 20 5 20 5 20 279 20 30 20 5 20 4 20 5 20 105 20 5 20 5 20 29 20 5 20 30 20 55 20 30 20 5 20 4 20 5 20 30 20 30 20 5 20 5 20 30 20 4 20 5 20 5 20 5 20 5 20 378 20 155 20 79 20 30 20 30 20 80 20 54 20 5 20 80 20 5 20 5 20 4 20 5 20 30 20 428 20 5 20 5 20 5 20 5 20 353 20 55 20 80 20 30 20 4 20 5 20 5 20 5 20 30 20 5 20 5 20 5 20 5 20 328 20 30 20 553 20 5 20 29 20 55 20 5 20 30 20 54 20 5 20 30 20 5 20 55 20 104 20 5 20 304 20 30 20 552 20 5 20 5 20 5 20 5 20 129 20 5 20 179 20 578 20 204 20 702 20 5 20 30 20 5 20 5 20 5 20 5 20 4 20 5 20 5 20 5 20 5 20 5 20 5 20 5 20 5 20 5 20 29 20 30 20 5 20 5 20 5 20 5 20 5 20 5 20 4 20 229 20 80 20 5 20 30 20 30 20 4 20 5 20 5 20 5 20 229 20 5 20 30 20 5 20 5 20 29 20 30 20 5 20 5 20 5 20 5 20 5 20 5 20 5 20 4 20 5 20 5 20 5 20 628 20 29 20 30 20 30 20 5 20 5 20 328 20 5 20 5 20 5 20 5 20 5 20 5 20 5 20 5 20 154 20 5 20 5 20 5 20 4 20 5 20 5 20 5 20 5 20 5 20 5 20 30 20 5 20 4 20 5 20 5 20 30 20 5 20 5 20 5 20 478 20 5 20 5 20 1249 20 5 20 5 20 5 20 5 20 5 20 5 20 5 20 1767 20 5 20 5 20 5 20 5 20 5 20 29 20 155 20 5 20 5 20 4 20 5 20 80 20 5 20 5 20 5 20 5 20 4 20 30 20 5 20 5 20 55 20 5 20 5 20 4 20 5 20 5 20 5 20 5 20 5 20 5 20 5 20 5 20 29 20 5 20 5 20 30 20 5 20 80 20 4 20 55 20 5 20 5 20 5 20 55 20 4 20 30 20 5 20 5 20 55 20 5 20 5 20 4 20 5 20 5 20 30 20 5 20 5 20 5 20 5 20 5 20 179 20 5 20 5 20 4 20 5 20 5 20 329 20 5 20 5 20 5 20 29 20 5 20 5 20 5 20 503 20 30 20 5 20 154 20 578 20 4 20 30 20 5 20 5 20 229 20 5 20 5 20 5 20 30 20 4 20 30 20 30 20 5 20 5 20 5 20 5 20 5 20 4 20 30 20 5 20 5 20 30 20 5 20 5 20 5 20 4 20 5 20 30 20 5 20 55 20 204 20 5 20 5 20 5 20 4 20 5 20 5 20 5 20 80 20 5 20 5 20 4 20 5 20 55 20 5 20 5 20 154 20 5 20 5 20 5 20 30 20 54 20 5 20 5 20 5 20 5 20 154 20 5 20 5 20 403 20 1225 20 5 20 578 20 5 20 5 20 29 20 5 20 5 20 5 20 5 20 5 20 5 20 5 20 5 20 54 20 5 20 55 20 5 20 5 20 30 20 4 20 5 20 5 20 5 20 5 20 5 20 1250 20 30 20 5 20 4 20 5 20 5 20 55 20 5 20 5 20 30 20 29 20 5 20 80 20 5 20 5 20 179 20 5 20 478 20 5 20 29 20 5 20 2194" fill="none"/><path d="M-649-382A753 753 0 0 1 -639-399" stroke="#b9b9b9" stroke-width="40.8" fill="none"/><path d="M-639-399A753 753 0 0 1 -582-478" stroke="#4f7a73" stroke-width="40.8" fill="none"/><path d="M-582-478A753 753 0 0 1 -561-503" stroke="#b9b9b9" stroke-width="40.8" fill="none"/><path d="M-561-503A753 753 0 0 1 -532-534" stroke="#f1c452" stroke-width="40.8" fill="none"/><path d="M-532-534A753 753 0 0 1 -518-546" stroke="#b9b9b9" stroke-width="40.8" fill="none"/><path d="M-518-546A753 753 0 0 1 -489-573" stroke="#7dbf9f" stroke-width="40.8" fill="none"/><path d="M-489-573A753 753 0 0 1 -474-585" stroke="#b9b9b9" stroke-width="40.8" fill="none"/><path d="M-474-585A753 753 0 0 1 -416-628" stroke="#d5ebd0" stroke-width="40.8" fill="none"/><path d="M-416-628A753 753 0 0 1 -315-684" stroke="#b9b9b9" stroke-width="40.8" fill="none"/><path d="M-315-684A753 753 0 0 1 -225-719" stroke="#f1e4d3" stroke-width="40.8" fill="none"/><path d="M-225-719A753 753 0 0 1 13-753" stroke="#bf5b78" stroke-width="40.8" fill="none"/><path d="M13-753A753 753 0 0 1 39-752" stroke="#b9b9b9" stroke-width="40.8" fill="none"/><path d="M39-752A753 753 0 0 1 182-731" stroke="#e4e4f2" stroke-width="40.8" fill="none"/><path d="M182-731A753 753 0 0 1 208-724" stroke="#b9b9b9" stroke-width="40.8" fill="none"/><path d="M208-724A753 753 0 0 1 294-693" stroke="#6babd5" stroke-width="40.8" fill="none"/><path d="M294-693A753 753 0 0 1 312-685" stroke="#b9b9b9" stroke-width="40.8" fill="none"/><path d="M312-685A753 753 0 0 1 624-421" stroke="#9a98cd" stroke-width="40.8" fill="none"/><path d="M624-421A753 753 0 0 1 659-365" stroke="#b9b9b9" stroke-width="40.8" fill="none"/><path d="M659-365A753 753 0 0 1 752 34" stroke="#a08b3c" stroke-width="40.8" fill="none"/><path d="M752 34A753 753 0 0 1 612 440" stroke="#c18fca" stroke-width="40.8" fill="none"/><path d="M612 440A753 753 0 0 1 518 546" stroke="#b9b9b9" stroke-width="40.8" fill="none"/><path d="M518 546A753 753 0 0 1 416 628" stroke="#e98a6c" stroke-width="40.8" fill="none"/><path d="M416 628A753 753 0 0 1 388 646" stroke="#b9b9b9" stroke-width="40.8" fill="none"/><path d="M388 646A753 753 0 0 1 -711-248" stroke="#a8cc70" stroke-width="40.8" fill="none"/><path d="M-590-352l1-1M-589-353l2 2l1-2M-608-367l1-1M-607-368l3 2l1-2M-584-357l1-1M-584-360l1-1M-584-360l8 4l1-1M-584-358l20 12l1-2l-13-9M-604-367l64 39l2-3l-25-16M-586-352l47 28a629 629 0 0 1 3-4l-3-2M-583-367l1-1M-580-365l0-1l-2-2M-578-362l1-2l-3-1M-578-363l3 2l2-3M-574-363l3 2l1-3M-561-350a661 661 0 0 1 3-4l-13-8M-603-389l0-1M-603-390l19 12l1-1M-584-379l26 17l1-2M-558-363l12 7l1-1M-546-351a649 649 0 0 1 3-4l-3-1M-544-353l2 2a645 645 0 0 1 3-4M-541-346a642 642 0 0 1 3-5l-2-2M-539-349l16 11a622 622 0 0 1 4-5M-559-352l97 61a546 546 0 0 1 5-8l-64-42M-587-401l1-1M-562-383l1-1l-26-17M-560-380l1-2l-3-1M-558-377l1-2l-3-2M-556-374l1-2l-3-2M-573-403l1-1M-571-400l1-1l-2-2M-569-397l2-2l-3-2M-568-398l25 17l2-2M-571-407l0-1M-542-382l20 14l2-2l-51-37M-521-369l3 2l2-3M-517-368l3 1l1-2M-516-359a628 628 0 0 1 5-7l-3-2M-514-356a625 625 0 0 1 3-5l-2-1M-556-402l1 0M-512-358l2 1a622 622 0 0 1 6-8l-52-37M-507-361l3 2a619 619 0 0 1 4-5M-507-350a616 616 0 0 1 7-9l-2-2M-483-332a586 586 0 0 1 4-6l-24-17M-556-375l73 49a583 583 0 0 1 5-7l-3-2M-482-323a580 580 0 0 1 4-5l-3-2M-479-320a577 577 0 0 1 2-4l-3-1M-477-318l1-2l-2-2M-475-315l1-2l-3-2M-459-295l23 15a518 518 0 0 1 5-7l-44-29M-434-283l22 14a493 493 0 0 1 14-21M-538-326l133 81a473 473 0 0 1 16-24l-16-11M-558-411l0 0M-550-407l1-1M-549-408l2 2l1-1M-558-411l65 48l1-3l-54-40M-557-418l1-1M-556-419l2 2l1-1M-542-412l0-1M-542-412l17 13l1-2M-553-418l45 35l2-3l-18-14M-496-372l2-3l-13-10M-495-373l6 4a613 613 0 0 1 3-4M-492-365l2 2a610 610 0 0 1 5-6l-3-2M-488-366l19 14a587 587 0 0 1 4-6M-467-355l2 2a584 584 0 0 1 3-4M-463-355l2 2l2-3M-464-340a575 575 0 0 1 9-11l-5-4M-544-427l1-1M-543-427l6 5l1-2M-537-423l21 16l1-2M-560-449l1-1M-556-444l1-2l-5-4M-514-409l1-2l-43-34M-516-408l3 2l2-2l-3-2M-512-407l2 2a651 651 0 0 1 3-4M-556-454l1-1M-556-454l48 38l1-1M-507-412l2-2l-3-2M-554-457l1-1M-506-413l2 2a650 650 0 0 1 3-3l-53-43M-502-413l2 2l2-2M-534-447l1-1M-526-439l1-1l-9-7M-526-439l3 2l1-2M-499-412l12 10a632 632 0 0 1 3-4l-38-32M-488-396a628 628 0 0 1 5-6l-2-2M-508-407l81 65a546 546 0 0 1 5-5l-64-52M-543-459l1-1M-424-344l2 2a543 543 0 0 1 7-9l-127-108M-523-450l1-1M-521-447l1-1l-2-2M-528-459l1-1M-528-460l3 2l1-1M-524-454l2-2l-3-2M-520-447l62 53l2-2l-67-59M-504-463l1-1M-509-478l1-1M-499-467l1-1l-10-10M-496-462l2-2l-4-4M-495-463l3 2l2-2M-492-457a671 671 0 0 1 3-3l-2-2M-490-454l2-2l-2-2M-503-464l47 44l2-2l-35-33M-505-481l1-1M-505-481l19 18l2-1M-476-452l2-2l-11-10M-512-498l1-1M-485-470l1-2l-27-26M-475-459l1-1l-11-11M-474-460l2 3l2-3M-471-459l4 5l2-2M-508-503l1 0M-507-499l2-2l-3-2M-466-455l8 7l3-2l-51-50M-456-449l2 2l3-2M-457-439a634 634 0 0 1 7-7l-3-2M-453-443l21 21a604 604 0 0 1 5-5M-429-424l7 7a593 593 0 0 1 3-3M-475-453l48 46a590 590 0 0 1 9-9l-2-2M-423-412l3 3a587 587 0 0 1 7-7M-417-413l2 2a583 583 0 0 1 5-4M-413-413l4 4l3-2M-407-410l2 2l2-2M-495-506l0-1M-495-506l46 47l1-1M-404-409l2 2l3-2l-49-51M-400-408l11 12l3-2M-455-421l50 46a552 552 0 0 1 20-20l-2-2M-404-371a549 549 0 0 1 11-12l-2-2M-403-368a545 545 0 0 1 7-7l-3-2M-401-365a542 542 0 0 1 4-4l-3-2M-399-362l2-3l-2-2M-398-363l2 2a536 536 0 0 1 24-24M-395-357a533 533 0 0 1 13-14l-2-2M-393-354a529 529 0 0 1 7-8l-3-2M-484-508l1-1M-493-522l1-1M-492-523l12 13l1-2M-480-511l2 2l2-1M-456-482l3-2l-24-25M-483-508l38 41a645 645 0 0 1 3-3l-12-13M-443-469l13 14a626 626 0 0 1 4-3M-430-450a623 623 0 0 1 4-4l-2-3M-424-442a613 613 0 0 1 3-3l-7-7M-423-444l2 3a610 610 0 0 1 7-6M-471-514l1-1M-465-506l1-1l-7-7M-462-500l1-2l-3-4M-461-501l13 14l3-2M-482-532l0-1M-447-488l11 12a646 646 0 0 1 3-3l-49-53M-435-477l2 2l3-2M-431-476l39 43l1-2M-417-444l19 20a581 581 0 0 1 9-8l-2-2M-397-412a573 573 0 0 1 9-9l-6-7M-392-417l2 2a569 569 0 0 1 10-9M-459-515l1-1M-385-419l2 2a566 566 0 0 1 7-6l-83-93M-380-420l8 9a554 554 0 0 1 4-4M-390-358l3 2a526 526 0 0 1 36-36l-19-21M-389-349a523 523 0 0 1 22-23l-3-2M-467-531l1-1M-457-518l2-1l-12-13M-378-361l2 2a520 520 0 0 1 33-31l-113-128M-360-375l2 3a517 517 0 0 1 18-17M-349-381l2 2a513 513 0 0 1 10-8M-380-340a510 510 0 0 1 40-41l-2-2M-361-361l3 2a507 507 0 0 1 26-24M-376-335a504 504 0 0 1 33-34l-2-2M-374-332a501 501 0 0 1 16-18l-2-2M-372-330a497 497 0 0 1 8-9l-2-2M-371-327a494 494 0 0 1 5-5l-2-2M-368-330l2 3a491 491 0 0 1 45-44M-344-350l2 2a488 488 0 0 1 24-22M-364-320a485 485 0 0 1 36-37l-2-2M-346-339l2 3a481 481 0 0 1 31-29M-438-527l1-1M-438-528l2 3l2-1M-435-522l2-1l-2-3M-425-507l2-2l-11-14M-413-492l2-1l-13-15M-412-489l2-1l-2-3M-411-486l2-1l-2-2M-448-548l1-1M-441-538l2-1l-8-10M-440-538l8 9l2-1M-432-525l3-2l-2-3M-430-526l23 29a642 642 0 0 1 4-2M-405-498l3 3l2-2M-442-552l1 0M-401-496l25 31l2-2l-68-85M-410-486l32 38a586 586 0 0 1 10-9l-7-9M-373-453l2 3a583 583 0 0 1 8-6M-367-453l2 2a580 580 0 0 1 5-3M-363-452l2 2l3-2M-371-437a574 574 0 0 1 14-12l-2-2M-364-443l2 2a570 570 0 0 1 9-7M-368-432a567 567 0 0 1 12-10l-2-2M-366-429a564 564 0 0 1 6-5l-2-3M-329-351l3 3a477 477 0 0 1 19-17l-56-67M-457-395l117 101a449 449 0 0 1 42-42l-19-21M-339-290a446 446 0 0 1 21-23l-2-3M-435-554l1-1M-435-555l6 8l2-1M-438-569l1 0M-418-540l1-1l-21-28M-417-541l2 3l2-2M-414-539l33 44l2-2M-371-477a604 604 0 0 1 4-3l-13-16M-414-551l0-1M-414-552l9 13l2-1M-429-576l1-1M-404-540l2 3l2-2l-28-37M-401-538l2 3l2-2M-400-530a664 664 0 0 1 4-4l-2-2M-398-532l2 3a661 661 0 0 1 4-4M-397-524a658 658 0 0 1 5-4l-2-3M-395-526l28 36a612 612 0 0 1 5-4M-364-492l8 11l3-2M-348-457a574 574 0 0 1 8-6l-15-19M-408-566l1-1M-407-567l4 6l2-1M-397-559l1-1M-396-556l2-1l-2-3M-402-561l20 28l3-1l-16-23M-376-521l3-2l-7-10M-369-509l3-2l-9-11M-368-510l2 3a625 625 0 0 1 6-4M-359-494a610 610 0 0 1 5-3l-9-12M-344-460l3 4a570 570 0 0 1 8-6l-24-33M-337-459l2 2a566 566 0 0 1 10-7M-369-478l25 32a563 563 0 0 1 16-12l-2-2M-336-452l2 3a560 560 0 0 1 13-10M-394-578l1-1M-391-578l1-1M-393-578l20 29l2-1l-19-29M-372-549l2 2l2-1M-371-542a657 657 0 0 1 4-3l-2-2M-369-543l2 2a654 654 0 0 1 4-2M-368-536a650 650 0 0 1 5-3l-2-3M-366-538l2 3a647 647 0 0 1 5-4M-349-507a615 615 0 0 1 6-3l-18-27M-339-490a596 596 0 0 1 4-2l-11-17M-378-577l1-1M-378-574l2-1l-2-3M-377-574l11 16l2-1M-365-559l2 3l2-1M-364-552l3-2l-1-3M-363-553l18 27a630 630 0 0 1 3-3M-341-514a616 616 0 0 1 5-3l-7-11M-338-515l1 3a613 613 0 0 1 5-4M-337-491l2 2a593 593 0 0 1 12-8l-11-17M-328-473a576 576 0 0 1 8-6l-9-14M-319-458a558 558 0 0 1 5-3l-10-15M-316-460l1 3a555 555 0 0 1 16-10M-328-454l37 50a498 498 0 0 1 15-11l-31-47M-428-547l123 157a495 495 0 0 1 23-17l-2-3M-293-399l17 23a466 466 0 0 1 25-17M-329-302l3 2a443 443 0 0 1 75-65l-13-19M-335-285a440 440 0 0 1 47-47l-2-3M-418-347l82 68a437 437 0 0 1 26-28l-2-3M-341-267a433 433 0 0 1 20-24l-3-2M-339-264a430 430 0 0 1 10-13l-3-2M-334-271l2 2a427 427 0 0 1 103-91M-375-612l1-1M-352-574l1-1l-23-38M-352-574l2 3l2-2M-350-568l3-1l-2-3M-349-568l5 6l3-2M-345-558a656 656 0 0 1 4-2l-2-3M-343-551l3-2l-3-6M-341-552l2 3a646 646 0 0 1 6-4M-336-551l1 2a643 643 0 0 1 4-2M-333-550l2 3l3-2M-330-548l2 3l3-2M-335-537a633 633 0 0 1 10-6l-2-3M-334-534a630 630 0 0 1 6-3l-2-3M-331-536l1 3a627 627 0 0 1 10-6M-325-517a610 610 0 0 1 9-5l-9-14M-321-519l2 2a607 607 0 0 1 10-6M-322-511a604 604 0 0 1 10-6l-2-3M-321-507a601 601 0 0 1 5-4l-1-3M-319-509l2 2a597 597 0 0 1 14-8M-284-319l2 3a424 424 0 0 1 62-46l-90-149M-460-346l124 93a421 421 0 0 1 86-85l-2-3M-397-257l60 39a401 401 0 0 1 54-67l-13-14M-311-253l2 2a398 398 0 0 1 108-92M-259-302l2 2a395 395 0 0 1 58-41M-336-200a392 392 0 0 1 109-119l-2-3M-288-265l2 2a388 388 0 0 1 91-73M-243-303l2 3a385 385 0 0 1 48-33M-298-177a347 347 0 0 1 102-109l-22-32M-347-629l1 0M-333-602l1-1l-14-26M-333-603l2 3l2-1M-325-584l3-2l-8-14M-323-585l1 3a665 665 0 0 1 4-2M-308-552a632 632 0 0 1 4-2l-16-29M-341-632l1 0M-326-602l1-1l-16-29M-306-553l11 20a609 609 0 0 1 5-2l-36-67M-292-534l6 11a596 596 0 0 1 5-2M-288-514a589 589 0 0 1 7-4l-3-6M-284-516l1 3a586 586 0 0 1 7-4M-279-515l1 3a583 583 0 0 1 5-3M-335-635l1-1M-314-594l1-1l-21-41M-313-594l1 3l2-2M-311-592l10 18l2-1M-327-633l1-1M-308-594l2-1l-20-39M-307-594l4 8l3-2M-302-587l2 3l2-1M-300-574l14 27a617 617 0 0 1 5-2l-18-36M-283-548l1 3a614 614 0 0 1 4-2M-307-613l2 0M-306-609l1-1l-1-3M-285-565l1-1l-21-44M-280-546l15 28l3-2l-23-46M-313-646l1-1M-294-604l1 0l-20-42M-290-592l2-1l-5-11M-288-586l2-1l-3-6M-284-575l2-1l-5-10M-276-555l2-1l-9-19M-264-519l2 2a579 579 0 0 1 5-2l-18-37M-259-518l1 3a576 576 0 0 1 8-4M-254-517l2 3a573 573 0 0 1 5-3M-250-515l2 2l3-1M-275-513l7 14a566 566 0 0 1 23-12l-2-2M-257-505l2 3a563 563 0 0 1 14-7M-302-645l1-1M-293-623l2-1l-11-21M-277-586l2-1l-17-36M-290-628l1-1M-273-588l2-1l-19-40M-276-587l3 7a641 641 0 0 1 4-2l-3-6M-248-506l1 3a560 560 0 0 1 10-5l-34-73M-283-625l1 0M-283-625l3 7l2-1M-290-654l2 0M-289-654l7 15l1 0M-281-639l1 3l2-1M-279-636l1 2l2 0M-277-634l20 46l2-1M-256-574a629 629 0 0 1 5-3l-5-12M-255-571l3-1l-1-3M-279-618l23 51a622 622 0 0 1 4-2l-2-3M-254-568l1 3a619 619 0 0 1 8-4M-249-567l10 22a595 595 0 0 1 5-2M-270-636l1-1M-269-636l3 9l2-1M-265-628l1 3l2 0M-251-589l3-2l-15-34M-262-629l1-1M-250-590l18 42l4-1l-33-80M-237-546l2 3a592 592 0 0 1 6-3l-1-3M-237-520a571 571 0 0 1 13-6l-8-18M-236-517a568 568 0 0 1 7-3l-2-3M-233-518l1 3a565 565 0 0 1 17-7M-223-519l1 3a562 562 0 0 1 9-4M-259-643l2 0M-260-654l1 0M-258-643l1 3l2-1l-5-13M-249-617l2-1l-9-23M-235-579l2-1l-15-38M-231-566l2-1l-5-12M-256-650l1 0M-255-650l9 23l1 0M-230-567l2 6a606 606 0 0 1 7-3l-24-63M-253-655l1 0M-250-655l1-1M-252-655l1 3l2-1l-1-3M-234-603l3-1l-19-48M-224-563l16 40a563 563 0 0 1 6-2l-31-78M-218-518l3 7a554 554 0 0 1 13-5l-3-8M-209-514l7 18a536 536 0 0 1 13-5M-242-505l19 39a516 516 0 0 1 35-15l-8-18M-206-474l1 3a513 513 0 0 1 24-9M-250-444a510 510 0 0 1 59-29l-2-3M-221-460l1 3a507 507 0 0 1 42-18M-199-466l1 3a504 504 0 0 1 22-9M-187-468l2 3a500 500 0 0 1 11-4M-245-433a497 497 0 0 1 67-31l-2-3M-212-450l1 3a494 494 0 0 1 40-17M-242-427a491 491 0 0 1 52-26l-1-3M-216-441l1 3a488 488 0 0 1 47-20M-192-448l2 3a484 484 0 0 1 24-10M-238-418a481 481 0 0 1 61-30l-1-2M-237-415a478 478 0 0 1 30-16l-1-3M-230-648l2 0M-229-642l2 0l-2-6M-229-638l2-1l-1-3M-228-639l1 3l4-1M-228-632l4-1l-1-3M-223-643l1-1M-223-640l2 0l-1-3M-222-640l1 3l2-1M-226-666l2 0M-226-662l2-1l-1-3M-225-663l8 23l2-1M-216-640l1 3l3-1M-220-637l21 59a612 612 0 0 1 5-2l-20-58M-226-632l32 89a577 577 0 0 1 8-3l-11-33M-190-545l1 3a574 574 0 0 1 9-3M-219-682l1-1M-219-679l1 0l-1-3M-219-679l6 16l2-1M-212-663l13 41l3 0M-201-648l1-1M-197-631l2-1l-5-17M-196-632l1 3l2 0M-193-616l3-1l-4-12M-192-617l4 14l4-1M-204-679l1-1M-203-679l11 37l1 0M-182-603l2-1l-11-38M-186-604l6 19a612 612 0 0 1 4-2l-5-17M-178-586l1 3a609 609 0 0 1 5-1M-175-584l1 3l4-1M-198-622l15 48a603 603 0 0 1 12-4l-1-3M-185-570a600 600 0 0 1 9-3l-1-3M-181-572l1 3a596 596 0 0 1 13-4M-199-690l1 0M-173-571l7 25a571 571 0 0 1 8-2l-41-142M-175-536a564 564 0 0 1 15-4l-2-7M-175-532a560 560 0 0 1 8-3l-1-3M-191-682l1-1M-185-656l2-1l-7-25M-190-689l1 0M-184-656l13 45l3-1l-22-77M-172-608l3-1l-1-3M-168-588l3-1l-6-19M-171-534l9 29a530 530 0 0 1 18-5l-22-79M-185-543l20 58a512 512 0 0 1 17-5l-5-18M-165-457a486 486 0 0 1 17-6l-8-25M-222-423l3 6a470 470 0 0 1 67-28l-5-15M-186-432l1 3a467 467 0 0 1 62-22M-154-441l1 3a464 464 0 0 1 32-10M-181-689l1 0M-181-689l6 21l2 0M-172-649l3-1l-5-18M-171-650l1 3l3-1M-171-643l4-1l-1-3M-169-644l8 32l4-1M-159-613l3 11l3-1M-154-602l0 3l3-1M-166-662l2-1M-152-599l0 3l3-1l-16-65M-159-591a612 612 0 0 1 10-3l-1-3M-144-667l2-1M-143-658l2 0l-2-9M-143-652l2-1l-1-5M-142-652l7 30l3-1M-137-669l1 0M-136-669l1 3l1-1M-135-666l1 3l2-1M-136-660l4 0l-1-3M-134-660l1 4l4-1M-131-656l0 3l3-1M-129-654l4 21l2-1M-124-633l3 13l2-1M-128-616a629 629 0 0 1 9-1l-1-3M-125-598a611 611 0 0 1 5-1l-4-17M-123-599l1 3a608 608 0 0 1 9-1M-133-622l14 66a569 569 0 0 1 9-2l-8-38M-121-695l2 0M-121-692l1 0l0-3M-120-692l0 3l3 0M-116-654l3 0l-6-35M-114-654l0 3l4-1M-116-647a658 658 0 0 1 5-1l-1-3M-113-648l0 3a654 654 0 0 1 6-1M-116-641a651 651 0 0 1 6-1l0-3M-116-637l4-1l-1-3M-117-634l3-1l0-3M-113-702l1 0M-112-702l0 3l2 0M-108-661l3-1l-6-37M-106-661l0 3l3-1M-104-659l7 47l3-1M-103-700l1 0M-104-697l2 0l0-3M-99-660l2 0l-6-37M-98-641l3 0l-3-19M-102-709l2 0M-101-709l5 32l1 0M-96-696l1 0M-95-696l1 13l2 0M-93-683l1 7l2 0M-89-681l1 0M-89-681l2 9l1 0M-91-676l3 18l3-1l-1-13M-87-659l1 4l4-1M-96-677l13 91a591 591 0 0 1 8-1l-9-69M-96-641l10 72a575 575 0 0 1 9-1l-2-16M-96-613l8 48a572 572 0 0 1 7-1l0-3M-92-560a567 567 0 0 1 8-1l-1-5M-88-560l0 3a564 564 0 0 1 19-3M-115-634l17 94a549 549 0 0 1 22-4l-2-15M-79-701l1 0M-80-697l2 0l-1-4M-79-697l0 3l3 0M-78-694l1 3l2 0M-80-688l4 0l0-3M-78-688l5 41l4-1M-76-643a648 648 0 0 1 5-1l0-3M-74-644l1 3a645 645 0 0 1 6 0M-77-637a642 642 0 0 1 7-1l0-3M-70-681l1 0M-69-681l0 3l2 0M-73-637l5 49a592 592 0 0 1 9-1l-9-89M-69-567a572 572 0 0 1 8-1l-2-20M-87-542l0 3a546 546 0 0 1 25-3l-3-26M-99-534a543 543 0 0 1 25-4l-1-3M-100-530a540 540 0 0 1 14-3l-1-3M-93-531l1 3a536 536 0 0 1 40-6M-115-557l7 35a533 533 0 0 1 36-6l0-3M-114-518a530 530 0 0 1 25-4l-1-4M-114-514a527 527 0 0 1 13-3l-1-3M-115-511a524 524 0 0 1 8-1l-1-4M-115-508a520 520 0 0 1 5-1l-1-3M-112-508l0 3a517 517 0 0 1 63-10M-64-710l1 0M-65-700l2 0l-1-10M-61-706l1 0M-64-700l2 20l3 0l-2-26M-60-680l0 3l4 0M-63-673a676 676 0 0 1 5-1l0-3M-61-674l6 64l5 0M-81-511l1 3a514 514 0 0 1 36-4l-8-98M-57-716l1 0M-50-713l2 0M-51-710l2 0l0-3M-47-651l2 0l-5-59M-48-648l2 0l0-3M-47-716l1-1M-47-716l4 63l2 0M-47-648l2 32a618 618 0 0 1 6-1l-3-36M-47-612l5 0l0-5M-57-716l9 108l4-1l0-3M-46-609l0 6a605 605 0 0 1 9-1M-41-603l3 40a565 565 0 0 1 5-1M-62-510l0 3a511 511 0 0 1 30-3l-4-54M-113-495a508 508 0 0 1 66-10l0-4M-80-501l1 3a504 504 0 0 1 50-6M-112-488a501 501 0 0 1 58-10l0-3M-112-485a498 498 0 0 1 29-6l0-3M-112-482a495 495 0 0 1 15-3l-1-3M-105-484l1 4a492 492 0 0 1 77-11M-112-475a488 488 0 0 1 47-9l-1-3M-112-472a485 485 0 0 1 24-5l-1-3M-112-469a482 482 0 0 1 13-3l-1-3M-109-455a468 468 0 0 1 6-1l-3-14M-109-451l4-1l-1-3M-36-708l2 0M-37-705l2 0l0-3M-36-705l0 3l3 0M-27-686l1 0M-27-686l0 3l2 0M-21-682l1 0M-22-678l2 0l-1-4M-22-634l2 0l-1-44M-12-718l1 0M-14-716l2 0l0-2M-13-716l0 4l3-1M-14-661l4 0l-1-51M-15-658l3 0l0-3M-7-701l1 0M-8-698l1 0l0-3M-13-658l0 25a633 633 0 0 1 6 0l0-65M-10-633l0 3a630 630 0 0 1 6 0M-15-627a627 627 0 0 1 8 0l0-3M-16-624l5 0l0-3M-17-620l4 0l-1-4M-21-634l1 17l5 0l0-3M-26-683l3 69l5 0l0-3M-24-585l5 0l-1-29M-22-585l0 3a582 582 0 0 1 19 0M-25-579a579 579 0 0 1 13 0l0-3M-26-575a576 576 0 0 1 7-1l0-3M-34-702l7 147a555 555 0 0 1 6 0l-1-20M-30-551a552 552 0 0 1 6-1l0-3M3-713l1 0M6-718l2 0M5-678l2 0l0-40M3-713l0 38l3 0l0-3M4-675l0 18l4 0M1-645l5 0l0-12M0-642l4 0l0-3M2-642l0 3a639 639 0 0 1 7 0M-1-636a636 636 0 0 1 6 0l0-3M2-636l0 3a633 633 0 0 1 8 0M-2-619a619 619 0 0 1 8 0l0-14M-27-552l2 40a513 513 0 0 1 27-1l0-106M-107-452l0 3a461 461 0 0 1 97-12l-2-52M-59-457l1 3a458 458 0 0 1 66-4M-108-442a455 455 0 0 1 83-12l0-3M-67-450l1 3a452 452 0 0 1 75-4M-99-401a413 413 0 0 1 73-11l-3-39M-154-592l53 205a400 400 0 0 1 40-8l-2-13M-137-443l26 84a376 376 0 0 1 35-9l-5-23M-94-364l1 3a373 373 0 0 1 101-12M-184-320a369 369 0 0 1 141-47l0-3M17-679l1 0M17-679l0 7l2 0M26-718l2 1M23-662l2 0l2-55M22-659l2 0l0-3M29-699l2 0M30-699l0 3l2 0M34-717l1 0M31-696l-3 55l3 0l3-76M26-638l3 0l1-3M23-659l-2 41a619 619 0 0 1 6 0l1-20M24-618l0 8a610 610 0 0 1 7 0M27-610l-1 24a586 586 0 0 1 5 1M16-522a522 522 0 0 1 9 1l3-64M41-696l2 0M42-667l1 0M42-696l-4 58l3 0l1-29M40-638l-1 3l3 0M50-716l1 0M47-687l2 0l2-29M41-635l-2 23l3 0l6-75M35-609a610 610 0 0 1 6 0l0-3M38-609l0 3a607 607 0 0 1 6 1M41-605l0 3l4 0M61-697l1 0M61-675l1 1M61-697l-2 29l2 0l1-7M57-665l3 0l0-3M55-662l3 0l0-3M63-667l1 0M57-662l0 3a661 661 0 0 1 6 1l0-9M60-658l-1 3l5 0M69-693l1 0M62-655l-1 3l4 1l5-42M53-649a651 651 0 0 1 10 1l0-4M52-646a648 648 0 0 1 6 0l0-3M46-584l4 0l5-62M45-581l2 1l1-4M73-704l1 0M46-581l0 4a579 579 0 0 1 14 1l13-128M53-577l-1 4a575 575 0 0 1 9 1M78-700l2 0M79-700l-3 27l2 1M73-664l3 1l1-10M72-660l2 0l0-3M57-572l-1 3a572 572 0 0 1 7 0l10-91M60-569l-1 3a569 569 0 0 1 7 1M43-602l-3 38a566 566 0 0 1 22 2l1-3M31-562a562 562 0 0 1 20 2l0-3M79-658l2 0M74-626l2 0l4-32M41-561l-2 28a535 535 0 0 1 25 2l11-95M52-532l-1 3a532 532 0 0 1 15 1M29-528a528 528 0 0 1 29 3l0-3M43-527l0 3a525 525 0 0 1 23 3M54-522l0 3a522 522 0 0 1 12 1M21-522l0 4a519 519 0 0 1 39 3l0-4M40-517l0 3a516 516 0 0 1 26 3M15-512a512 512 0 0 1 38 2l0-3M18-672l-4 163a509 509 0 0 1 20 1l0-3M24-509l-1 19a490 490 0 0 1 41 4M11-487a487 487 0 0 1 32 2l0-3M27-486l-1 16a471 471 0 0 1 36 3M101-711l1 0M96-685l2 1l4-27M94-682l2 1l1-4M102-690l1 0M95-654l2 1l5-37M95-682l-7 50a638 638 0 0 1 5 1l3-22M107-710l1 0M108-710l-16 101l2 0M91-632l-4 25a613 613 0 0 1 6 1l0-3M90-606l-2 11a601 601 0 0 1 5 1M90-594l-1 11l3 1M108-660l1 1M117-701l1 0M108-659l0 3l2 0l8-45M109-656l-1 3l3 1M105-650l4 0l1-3M107-650l0 3l4 1M102-639a647 647 0 0 1 6 1l1-8M90-582l0 3a586 586 0 0 1 5 1l10-61M78-568a574 574 0 0 1 12 2l2-12M84-567l0 3a570 570 0 0 1 14 2M91-563l-1 3a567 567 0 0 1 8 1M74-546a551 551 0 0 1 17 3l3-16M126-707l1 0M127-696l2 0M125-667l1 0M128-696l-8 41l3 1l2-13M117-643l2 0l3-12M126-707l-21 121l2 0l11-57M131-681l1 0M133-679l1 0M133-679l0 3l2 0M134-676l-1 3l2 1M134-672l-1 3l3 0M131-681l-10 54a639 639 0 0 1 5 1l9-43M141-681l1 0M132-647l2 0l7-34M133-647l0 3l2 1M149-702l1 0M134-644l-8 40l2 1l21-99M123-627l-10 54a584 584 0 0 1 7 2l7-33M116-572l-2 13a570 570 0 0 1 6 1M106-556a566 566 0 0 1 10 2l1-4M106-586l-13 70a525 525 0 0 1 10 2l8-41M156-688l1 0M156-688l-5 24l2 0M152-664l-4 16l2 1M149-648l-3 16l2 0M147-632l-1 3l2 1M141-626a642 642 0 0 1 5 1l1-3M143-625l0 3l4 1M145-622l-1 3l4 1M146-618l-1 3l3 1M137-614a629 629 0 0 1 9 2l1-3M135-611a626 626 0 0 1 6 1l0-3M138-610l-1 3a622 622 0 0 1 10 2M133-605a619 619 0 0 1 8 2l1-3M137-604l-1 3a616 616 0 0 1 10 3M128-590a603 603 0 0 1 10 3l3-13M133-588l-1 7a596 596 0 0 1 11 3M137-580l-4 18a577 577 0 0 1 6 2M136-561l-3 11l4 1M171-678l1 0M172-678l-1 3l2 0M172-675l-11 43l2 1M179-688l1 0M177-666l1 0M175-663l1 0l1-3M179-688l-14 56l2 0l9-31M186-693l2 0M187-693l0 0l2 0M166-632l-1 3a650 650 0 0 1 5 1l18-65M168-628l-7 23a626 626 0 0 1 5 1M164-604l-3 9l3 1M162-631l-10 37a613 613 0 0 1 10 2l1-3M157-593l-1 3a610 610 0 0 1 8 2M135-549l-7 28a537 537 0 0 1 13 3l19-71M98-515l-1 4a520 520 0 0 1 33 7l5-15M114-508l-1 4a517 517 0 0 1 26 6M126-501l-14 57a458 458 0 0 1 12 4M83-545l-15 96a454 454 0 0 1 49 10l1-3M93-445l-1 3a451 451 0 0 1 31 8M44-469l-5 56a415 415 0 0 1 60 10l9-35M-116-351l10 30a338 338 0 0 1 162-13l13-75M-167-290a335 335 0 0 1 142-44l0-3M192-654l1 0M192-654l-3 13l1 1M184-632l3 1l2-10M208-687l1 0M198-657l1 0l10-30M198-643l2 0M219-684l1 1M204-640l1 0l14-44M202-638l2 1l0-3M203-637l-1 3l3 1M199-632l3 1l1-3M197-629l2 1l1-3M224-682l1 0M216-662l1 0l7-20M198-629l-11 36a622 622 0 0 1 6 2l24-71M190-592l-1 3a618 618 0 0 1 6 2M199-643l-17 55a615 615 0 0 1 9 3l1-3M219-653l1 0M220-653l-2 6l1 1M218-647l-10 30l2 1M205-614l3 1l1-3M186-586l-13 41a572 572 0 0 1 9 3l24-72M167-544a569 569 0 0 1 10 4l1-4M199-657l-38 126a555 555 0 0 1 7 2l4-13M156-523a546 546 0 0 1 5 2l3-9M185-631l-32 111a542 542 0 0 1 5 1l1-3M155-520l-1 3a539 539 0 0 1 21 7M146-505a525 525 0 0 1 14 5l5-13M231-656l2 0M232-656l-1 3l2 1M244-661l1 0M241-658l2 1l1-4M225-618l2 0l15-40M226-618l-1 3l4 1M222-613a652 652 0 0 1 4 2l1-3M250-663l1 0M233-622l1 1l16-42M244-641l1 0M234-621l-3 7l3 1l11-28M232-613l-1 4l3 1M224-612l-1 3a648 648 0 0 1 8 3l1-3M227-607l-1 3a645 645 0 0 1 7 2M229-603l-1 3a642 642 0 0 1 4 2M230-599l-1 3l3 1M231-596l-1 3l2 1M215-595a632 632 0 0 1 15 6l1-3M212-592a629 629 0 0 1 9 3l1-3M217-591l-17 47a580 580 0 0 1 13 5M232-652l-40 112a574 574 0 0 1 12 4l2-6M186-530a562 562 0 0 1 8 2l4-10M184-528a559 559 0 0 1 5 2l1-3M267-667l1 1M267-666l0 0l2 0M244-613l3 1l21-54M242-611l2 1l1-3M187-527l-1 3a556 556 0 0 1 20 8l37-94M274-647l1 1M264-628l2 1l8-20M265-628l-8 20l2 1M258-608l-2 5l2 1M250-596l4 1l3-7M252-595l-1 2a643 643 0 0 1 4 2M253-592l-2 3l3 2M253-588l-1 3l2 1M253-585l-1 3l2 1M243-582a631 631 0 0 1 8 4l2-3M240-579a627 627 0 0 1 6 2l1-3M243-578l-1 3a624 624 0 0 1 9 4M229-555a600 600 0 0 1 8 3l9-21M227-552a597 597 0 0 1 5 2l1-3M225-550l3 2l1-3M285-642l1 0M285-642l-4 10l1 1M259-586l2 1l21-46M226-549l-1 3a591 591 0 0 1 15 6l20-45M288-632l1 1M289-632l-12 26l2 1M273-601l2 1l3-6M271-599l2 1l1-3M272-598l-2 3l4 1M272-595l-1 3l3 2M266-591a648 648 0 0 1 5 3l2-3M268-589l-1 3a644 644 0 0 1 5 2M270-585l-2 3l4 1M232-543l-7 17a572 572 0 0 1 16 7l29-62M214-527a569 569 0 0 1 18 8l1-4M223-523l-1 3a565 565 0 0 1 19 9M306-647l1 0M307-647l-18 37l2 0M304-629l1 1M301-625l2 1l2-4M302-625l-9 19l2 1M294-606l-1 3l2 1M294-602l-2 2l3 1M294-599l-7 13l2 1M288-586l-1 3l2 1M288-582l-2 3l2 1M259-541a599 599 0 0 1 8 4l20-42M290-610l-42 89a576 576 0 0 1 5 3l10-21M231-516l-1 3a562 562 0 0 1 14 7l6-13M237-510l-1 3a559 559 0 0 1 14 7M243-503l-1 3a556 556 0 0 1 8 4M196-520l-1 3a553 553 0 0 1 49 21l2-2M220-507l-2 3a549 549 0 0 1 30 14M179-516a546 546 0 0 1 53 21l1-2M177-513a543 543 0 0 1 27 10l2-3M153-502l-3 10a515 515 0 0 1 31 10l10-26M141-492a511 511 0 0 1 24 8l1-3M327-638l1 0M327-615l1 0M338-627l1 1M320-597l1 1l17-31M328-615l-17 32l2 1l8-14M312-583l-2 3a658 658 0 0 1 4 2M312-579l-1 3l2 1M305-576a651 651 0 0 1 5 3l2-2M308-574l-2 3a648 648 0 0 1 5 3M301-570a645 645 0 0 1 6 3l2-3M298-568a642 642 0 0 1 4 2l2-3M296-566l3 2l1-3M280-538l2 1l15-28M281-537l-1 3a603 603 0 0 1 11 5M285-531l-1 2a600 600 0 0 1 6 4M275-530a597 597 0 0 1 10 6l2-3M280-527l-2 5a592 592 0 0 1 9 5M264-511a575 575 0 0 1 10 5l8-14M327-638l-72 140a559 559 0 0 1 7 4l7-14M344-610l1 1M341-608l2 1l1-3M342-607l-2 2l3 2M323-578l3 2l15-28M324-577l-1 3l3 2M325-573l-2 2l3 2M324-570l-1 3l2 1M324-566l-2 2l3 2M362-620l1 1M357-607l2 0M363-620l-21 36l2 1l14-24M359-600l1 0M360-600l-2 3l2 1M343-575l2 1l14-23M340-573l2 1l2-2M341-572l-12 19a643 643 0 0 1 4 3M343-584l-19 32a640 640 0 0 1 6 3l1-2M327-550l-2 2a637 637 0 0 1 6 4M319-548a634 634 0 0 1 7 5l2-3M310-534a617 617 0 0 1 4 3l9-14M312-533l-2 3a614 614 0 0 1 10 6M323-563l-24 42a601 601 0 0 1 9 5l7-11M291-522a598 598 0 0 1 11 6l2-2M296-519l-25 45a545 545 0 0 1 14 9M278-469l-2 2a542 542 0 0 1 8 5M378-610l1 0M377-611l2 1l0 0M378-610l-27 44l2 1M363-579l1 1M363-579l-1 3l1 1M362-575l-20 33l1 1M352-566l-15 24a638 638 0 0 1 4 3l1-3M339-540l-2 2a635 635 0 0 1 4 3M389-600l1 1M372-576l2 1l16-24M364-565l2 1l7-12M365-565l-2 3l3 2M395-600l1 1M368-561l2 1l26-39M365-561l-13 19l3 2l14-20M338-526a625 625 0 0 1 4 3l12-18M391-587l1 1M392-587l-18 27l1 1M371-558l2 1l2-3M390-579l1 0M391-579l-12 18l1 1M406-592l1 1M399-584l2 1l6-9M397-582l1 1l2-2M397-581l-37 55l3 2M361-525l-6 9l2 1M356-515l-2 2l2 2M379-560l-35 52a613 613 0 0 1 5 4l6-8M372-558l-34 51a610 610 0 0 1 7 4l2-3M340-525l-31 48a568 568 0 0 1 9 6l24-34M304-476a565 565 0 0 1 8 5l2-3M308-474l-2 3a562 562 0 0 1 16 11M339-536l-52 81a538 538 0 0 1 14 9l13-20M294-450l-6 10a526 526 0 0 1 14 9M295-436l-2 3a523 523 0 0 1 8 6M280-464l-12 19a520 520 0 0 1 27 17l2-2M282-436l-2 2a516 516 0 0 1 18 12M289-428l-2 3a513 513 0 0 1 10 7M292-422l-2 3a510 510 0 0 1 6 4M293-417l-2 2a507 507 0 0 1 4 3M293-413l-2 2l3 2M259-496l-31 58a494 494 0 0 1 59 36l5-8M223-437a491 491 0 0 1 33 19l2-3M240-428l-2 3a487 487 0 0 1 47 29M262-411l-2 3a484 484 0 0 1 24 16M218-429a481 481 0 0 1 52 31l2-3M153-488l-27 87a421 421 0 0 1 88 39l30-52M171-384l-8 18a400 400 0 0 1 72 42M409-557l1 0M409-557l-1 2l1 2M432-574l1 1M421-553l1 1M421-553l-10 13l2 1M408-538l2 1l2-2M432-573l-27 36l2 2l2-3M406-536l-17 23a644 644 0 0 1 3 3M384-512a640 640 0 0 1 5 3l1-3M386-511l-2 3a637 637 0 0 1 5 4M379-508a634 634 0 0 1 6 4l2-2M377-506a631 631 0 0 1 3 3l2-3M374-504l3 2l1-3M408-554l-38 51a624 624 0 0 1 3 3l2-3M367-501l3 2l2-3M449-560l1 1M418-522l1 1l31-39M418-522l-3 4l2 2M401-504l3 2l12-15M403-503l-2 3l3 2M402-499l-8 11l2 2M395-487l-4 4l2 2M460-551l1 1M461-551l0 0l1 1M458-541l1 1M432-512l2 1l24-29M468-545l1 1M443-517l1 1l24-28M440-516l1 2l2-3M433-512l-9 11l2 3l14-17M461-550l-53 64a634 634 0 0 1 3 3l14-17M409-485l-7 8a624 624 0 0 1 6 5M397-477a621 621 0 0 1 6 5l2-2M394-475a617 617 0 0 1 4 3l2-2M391-474a614 614 0 0 1 3 3l2-3M388-472l2 2l3-2M380-463l2 1l7-9M451-515l1 1M467-529l1 1M452-514l-13 14l2 1l26-29M440-499l-13 14l2 2M423-484a643 643 0 0 1 3 3l2-3M424-483l-18 21a615 615 0 0 1 3 3M457-507l1 1M457-506l-2 2l2 1M456-503l-12 13l1 1M440-489l3 2l2-2M441-488l-2 2a655 655 0 0 1 3 3M440-485l-2 3l3 2M481-521l1 1M482-520l-36 38l1 1M432-470l2 2l13-13M439-481l-11 12a635 635 0 0 1 3 3l2-3M422-471a632 632 0 0 1 6 6l2-3M467-499l1 1M468-498l-5 4l2 2M453-486l2 2l9-9M454-485l-22 24l3 2M425-468l-17 18a608 608 0 0 1 9 8l17-18M413-446l-16 16a585 585 0 0 1 6 6M479-496l1 1M498-512l1 1M480-495l-2 2l1 2l19-20M504-512l0 1M501-512l2 2l1-1M478-492l-15 15a665 665 0 0 1 3 3l36-37M465-475l-21 20a636 636 0 0 1 3 3M439-456a633 633 0 0 1 5 5l2-2M432-450a624 624 0 0 1 3 3l6-6M429-448l2 2l3-2M426-447l2 2l2-2M427-446l-8 9a606 606 0 0 1 8 8M400-427l-20 22a555 555 0 0 1 8 8l35-36M408-460l-42 47a552 552 0 0 1 16 14l2-2M360-414a549 549 0 0 1 12 10l2-2M358-412a546 546 0 0 1 6 5l2-2M381-462l-36 43a542 542 0 0 1 14 12l2-2M352-413l-2 3a539 539 0 0 1 31 28M392-482l-54 66a536 536 0 0 1 25 22l3-2M331-417a533 533 0 0 1 18 14l2-2M329-415a530 530 0 0 1 9 7l2-2M326-413a526 526 0 0 1 5 4l2-3M329-411l-2 2a523 523 0 0 1 43 39M507-501l1 1M507-501l-5 5l1 2M503-495l-34 34l1 1M465-461l2 3l2-3M461-459l3 2l2-3M349-390l-2 3a520 520 0 0 1 22 21l94-92M358-377l-3 3a516 516 0 0 1 14 14M518-497l1 1M504-478l0 1M504-477l-2 2l1 1M502-474l-2 2l1 2M501-471l-12 11l1 1M477-453a658 658 0 0 1 3 3l10-9M478-452l-3 3a654 654 0 0 1 3 3M477-447l-3 2l3 2M476-444l-3 2l2 2M474-441l-2 3l2 1M473-438l-3 3l2 1M519-496l-58 55a638 638 0 0 1 8 9l2-2M457-440a634 634 0 0 1 5 6l3-3M449-433a623 623 0 0 1 3 4l8-8M450-431l-2 2a620 620 0 0 1 9 10M443-429a617 617 0 0 1 7 7l3-2M447-426l-2 3a614 614 0 0 1 8 9M436-424a608 608 0 0 1 9 9l4-4M441-419l-3 2a605 605 0 0 1 10 10M362-367l-5 6a508 508 0 0 1 15 15l71-66M364-354l-2 3a504 504 0 0 1 12 12M310-394a501 501 0 0 1 56 51l2-2M307-392a498 498 0 0 1 29 25l3-3M304-390a495 495 0 0 1 16 12l2-2M302-388a492 492 0 0 1 8 7l2-3M299-386a488 488 0 0 1 5 4l2-3M507-456l1 0M508-456l-3 2l2 1M506-453l-6 5l1 2M477-431l2 3l21-19M517-457l1 1M513-455l1 1l3-3M478-429l-2 2a639 639 0 0 1 3 3l34-30M477-425l-25 22a606 606 0 0 1 3 3M540-467l0 1M519-451l1 1l20-17M520-450l-3 2l2 2M518-447l-2 2l1 2M465-406a617 617 0 0 1 3 3l49-41M548-461l0 1M544-460l2 2l2-2M509-426l1 1M510-425l-9 7l1 1M519-429l1 1M519-429l-2 2l1 2M502-418l-11 9l2 3l24-20M545-459l-59 49a636 636 0 0 1 4 5l2-2M488-407l-3 2a632 632 0 0 1 4 4M480-407a629 629 0 0 1 5 6l2-2M477-406a626 626 0 0 1 3 4l3-2M468-400a616 616 0 0 1 3 3l7-7M467-404l-4 3a613 613 0 0 1 4 4l3-2M465-399l-2 2a610 610 0 0 1 9 12M447-391a594 594 0 0 1 9 10l12-10M454-401l-11 9a591 591 0 0 1 6 8l3-2M302-384l-2 2a485 485 0 0 1 66 63l80-69M368-500l-82 112a482 482 0 0 1 46 39l2-3M265-364a451 451 0 0 1 24 18l21-24M200-347l-2 3a397 397 0 0 1 47 31l33-42M558-452l1 1M521-424l1 2l36-29M222-329l-2 2a394 394 0 0 1 86 79l216-175M546-431l1 1M543-430l1 1l3-2M566-442l1 1M549-430l1 1l16-13M549-429l-19 14l2 2M560-433l1 1M531-414l-31 24l2 3l58-45M501-389l-2 2l2 3M544-430l-51 41a628 628 0 0 1 4 6l3-2M571-435l1 1M512-392l1 2l59-45M495-386l-7 5a620 620 0 0 1 5 5l20-15M482-384a616 616 0 0 1 6 7l3-1M457-365a585 585 0 0 1 3 4l25-19M454-363l2 2l3-2M562-422l0 1M558-421l1 2l3-2M559-420l-31 24l1 2M524-396l2 2l2-1M455-362l-3 2a578 578 0 0 1 10 12l63-47M457-354l-2 2a575 575 0 0 1 7 9M458-347l-5 3a569 569 0 0 1 4 6M577-423l1 1M578-422l-3 2l1 1M512-376l1 2l63-46M565-408l1 1M584-417l1 1M583-418l1 2l1-1M584-417l-39 28l1 2M566-407l-25 18l2 3l3-2M580-405l1 1M568-392l1 1M550-381l1 1l18-12M580-404l-33 23l1 2l3-2M547-380l-2 2l2 3M526-369a643 643 0 0 1 3 4l17-11M523-368l2 3l3-2M512-362l2 3l10-7M513-360l-2 1a624 624 0 0 1 4 7M542-388l-76 54a573 573 0 0 1 6 8l41-29M462-334a570 570 0 0 1 4 6l3-2M512-375l-54 40a567 567 0 0 1 4 6l2-2M460-332l-3 2a564 564 0 0 1 9 13M451-333a561 561 0 0 1 8 11l3-2M455-341l-9 7a557 557 0 0 1 7 9l2-2M432-347a554 554 0 0 1 15 19l2-2M440-338l-3 2a551 551 0 0 1 19 27M266-290l-2 2a391 391 0 0 1 53 59l130-94M292-260l-3 2a387 387 0 0 1 32 41M306-238l-3 2a384 384 0 0 1 16 22M311-225l-2 2a381 381 0 0 1 8 11M104-363a378 378 0 0 1 206 147l3-2M220-307l-2 2a375 375 0 0 1 94 97M580-380l1 1M567-367l1 1M558-363l1 2l9-6M581-380l-53 35l1 2l30-19M524-345l2 3l2-2M525-343l-3 1a624 624 0 0 1 3 5M518-342a621 621 0 0 1 3 4l3-1M553-353l1 1M554-352l-4 2l1 2M538-345l2 3l10-7M577-359l1 1M557-348l1 1l19-12M557-347l-40 24l1 2M514-322l1 2l3-2M510-322l2 3l2-2M511-321l-18 12a582 582 0 0 1 3 4M539-343l-59 37a569 569 0 0 1 3 6l11-7M520-340l-47 30a566 566 0 0 1 6 9l2-2M425-282a510 510 0 0 1 4 7l47-30M581-354l1 1M581-353l-2 1l1 2M575-351l1 2l3-2M601-362l1 2M576-350l-41 24a627 627 0 0 1 2 4l64-39M531-326a623 623 0 0 1 2 4l3-2M532-324l-12 7a609 609 0 0 1 3 5M522-314l-6 3l2 3M555-323l0 1M551-323l1 2l3-2M584-329l0 1M569-322l1 1l14-8M535-304l1 1l34-19M524-299l1 2l10-6M498-285l1 1l25-14M584-324l1 1M581-324l1 2l3-2M578-323l1 1l2-1M578-322l-25 14l1 3M553-307l-28 16l2 2M498-284l-25 14a544 544 0 0 1 4 7l49-27M469-270a541 541 0 0 1 3 5l3-1M466-269l2 3l2-1M552-322l-90 53l2 3l3-1M458-269l2 3l3-2M449-265l1 3l9-6M450-264l-3 2a518 518 0 0 1 8 14M631-342l1 1M592-322l0 2l40-21M451-255l-27 15a487 487 0 0 1 4 8l164-89M617-330l1 1M587-315l1 1l30-16M587-314l-22 12l1 2M616-320l0 1M598-301l1 1M595-301l1 1l3-1M595-300l-3 1l2 2M593-298l-3 2l1 2M591-295l-39 19l1 2M552-275l-3 2l1 2M528-268a593 593 0 0 1 3 5l19-9M530-266l-9 5a583 583 0 0 1 2 4M514-262a577 577 0 0 1 3 5l5-2M516-260l-11 6a565 565 0 0 1 3 6M498-255a560 560 0 0 1 4 6l5-2M500-252l-3 1a557 557 0 0 1 4 7M492-253a554 554 0 0 1 4 7l3-1M623-302l0 1M494-250l-14 8a537 537 0 0 1 4 8l139-67M616-319l-142 73a534 534 0 0 1 5 9l3-1M471-246a531 531 0 0 1 3 6l3-1M472-243l-3 2a528 528 0 0 1 7 13M465-243a525 525 0 0 1 5 10l3-2M446-235a504 504 0 0 1 3 6l18-9M443-234a501 501 0 0 1 2 4l3-2M566-301l-127 67l2 3l3-1M619-292l1 1M584-277l1 2l35-17M580-276l1 2l3-2M591-276l0 1M581-275l-3 1a640 640 0 0 1 2 4l11-6M574-274l2 3l3-1M575-273l-52 25a578 578 0 0 1 2 5M440-232l-26 14a468 468 0 0 1 10 20l100-47M426-236l-48 27a432 432 0 0 1 9 16l32-16M383-201l-3 1a429 429 0 0 1 10 20M365-216a424 424 0 0 1 15 29l5-3M373-202l-3 2a420 420 0 0 1 12 25M654-296l1 1M603-270l0 1M654-295l-70 31l1 2l18-8M581-264l1 2l3-1M560-256l1 2l20-9M652-287l0 1M630-279l1 2l21-9M631-278l-24 10l1 3M604-268l1 3l3-1M604-267l-60 27l1 3M661-280l1 1M661-279l-42 17l1 2M620-261l-18 8l0 2M634-263l1 1M634-263l-3 1l1 2M602-252l-43 18l1 3l72-30M559-233l-3 2l2 3M551-235a599 599 0 0 1 3 7l3-2M552-232l-3 2a596 596 0 0 1 3 5M551-228l-3 2l1 3M548-224l-3 1l2 3M526-225a572 572 0 0 1 4 10l16-7M528-220l-7 3a564 564 0 0 1 3 7M522-214l-3 2a561 561 0 0 1 2 4M512-220a558 558 0 0 1 5 11l3-1M509-220a555 555 0 0 1 3 7l3-2M510-217l-2 2a551 551 0 0 1 4 11M510-209l-3 1a548 548 0 0 1 3 7M544-238l-66 29a522 522 0 0 1 6 14l24-10M660-258l0 1M624-241l0 1M660-257l-49 18l1 3l12-5M608-239l1 3l3-2M481-202l-26 11a494 494 0 0 1 5 11l148-58M457-185l-3 1a490 490 0 0 1 4 9M561-255l-119 54a486 486 0 0 1 10 23l4-2M376-188l-22 11a396 396 0 0 1 11 22l82-35M517-310l-180 108a393 393 0 0 1 20 37l3-1M347-183l-18 9a372 372 0 0 1 18 42M427-278l-118 77a369 369 0 0 1 27 49l3-1M276-183a331 331 0 0 1 14 24l33-18M661-247l0 1M627-232l1 1M661-246l-72 27l1 2l37-14M590-218l-10 3l1 3M676-242l1 1M676-241l-52 19l0 1M617-222l1 3l6-3M588-212l0 2l30-11M570-207l1 2l17-6M580-213l-41 15l1 3l31-11M535-201a571 571 0 0 1 2 5l3-1M532-201l1 4l3-1M654-229l0 1M654-228l-24 8l1 2M630-219l-4 2l1 2M581-204l1 3l44-15M532-199l-3 1a565 565 0 0 1 5 12l47-17M532-192l-3 1a562 562 0 0 1 3 9M530-186l-3 1a559 559 0 0 1 2 5M674-223l1 1M674-222l-35 12l0 1M633-210l1 2l5-2M633-209l-22 7l1 3M612-200l-3 1l1 2M605-202a637 637 0 0 1 1 5l3-1M605-199l-3 1a634 634 0 0 1 2 4M603-196l-25 8l1 3M667-206l0 1M667-206l-21 7l0 2M606-189l1 3l39-12M627-190l1 1M606-187l-3 1l1 3l24-7M585-183l1 4l18-6M676-203l1 2M585-181l-24 8a587 587 0 0 1 1 5l114-34M562-171l-4 1a584 584 0 0 1 2 4M554-174a581 581 0 0 1 2 7l3-1M641-183l1 2M638-183l0 2l3-1M638-182l-24 7l1 2M610-176l1 3l3-1M606-176l1 3l4-1M691-193l1 1M606-175l-3 1a628 628 0 0 1 2 6l86-24M600-175a625 625 0 0 1 1 5l3-1M558-164l1 3l41-12M559-163l-7 3a575 575 0 0 1 2 7M555-171l-15 5a565 565 0 0 1 4 12l9-2M674-179l0 1M641-172l0 2l33-9M625-169l1 2l15-4M656-172l0 1M625-168l-26 8l1 3l56-14M678-175l0 1M599-159l-3 1l1 4l81-21M597-156l-23 6l1 3M683-172l1 2M680-172l0 2l4-1M680-171l-42 10l1 3M639-159l-28 7l0 2M611-151l-19 5l0 2M575-148l-25 6a568 568 0 0 1 2 6l40-9M699-163l1 2M682-160l1 2l16-4M682-159l-38 9l1 2M641-151l0 3l4-1M665-150l0 1M687-152l1 1M665-149l-3 1l0 2l26-6M662-147l-39 8l1 3M624-137l-20 4l0 2M600-136a615 615 0 0 1 1 5l3-1M600-134l-3 1a612 612 0 0 1 1 5M598-131l-3 1l0 3M595-128l-3 0l0 3M592-126l-25 5l0 3M567-120l-3 1l0 2M641-150l-83 20a573 573 0 0 1 3 13l3-1M554-132a570 570 0 0 1 2 9l3-1M545-131a560 560 0 0 1 1 6l9-3M539-130l1 3l5-1M539-129l-14 4a540 540 0 0 1 4 16M527-117l-3 1a536 536 0 0 1 2 9M551-139l-48 12a519 519 0 0 1 5 19l17-4M498-135a516 516 0 0 1 5 18l3 0M495-135a513 513 0 0 1 2 10l3-1M665-132l0 1M655-131l1 2l9-2M688-130l1 1M688-130l-33 7l0 1M632-121l1 3l22-4M629-121l0 2l4 0M629-120l-3 1l1 4M605-118a616 616 0 0 1 1 5l21-4M655-130l-54 11l1 4l3-1M602-117l-7 1a606 606 0 0 1 1 8M596-112l-7 1a600 600 0 0 1 1 5M590-109l-3 1l0 3M582-117a593 593 0 0 1 2 11l3 0M583-112l-32 7a561 561 0 0 1 1 8M496-130l-11 3a501 501 0 0 1 8 36l58-10M542-160l-95 28a466 466 0 0 1 8 31l34-8M441-140a463 463 0 0 1 7 24l3-1M445-128l-3 1a460 460 0 0 1 11 48M578-186l-144 46a456 456 0 0 1 11 38l3-1M430-144a453 453 0 0 1 7 24l3-1M687-113l1 1M687-112l-34 6l0 1M635-105l0 2l18-3M635-104l-3 1l0 3M632-102l-3 1l0 2M692-107l0 1M629-100l-7 1l1 3l69-11M618-104a627 627 0 0 1 1 7l3 0M598-101l1 4l20-3M705-103l0 1M663-95l0 2M705-102l-68 9l0 3l26-4M634-94l0 3l3 0M628-94l0 2l6 0M624-95l1 3l3-1M625-93l-16 2a616 616 0 0 1 1 6M669-92l0 1M669-91l-12 1l0 2M657-89l-3 1l0 2M654-87l-3 0l0 2M651-86l-28 4l0 2M609-88l-38 6a577 577 0 0 1 1 8l51-7M598-99l-70 11a536 536 0 0 1 3 15l40-5M493-84a501 501 0 0 1 2 9l34-5M490-85a497 497 0 0 1 1 6l3-1M433-132l-3 0a450 450 0 0 1 14 58l47-8M423-143a447 447 0 0 1 12 41l3-1M430-123l-4 1a444 444 0 0 1 14 66M435-89l-4 1a440 440 0 0 1 6 33M435-72l-4 1a437 437 0 0 1 3 18M528-183l-118 41a434 434 0 0 1 20 80l3 0M403-153a431 431 0 0 1 16 51l3 0M412-127l-4 1a428 428 0 0 1 16 74M418-89l-3 0a424 424 0 0 1 6 39M419-70l-39 7a385 385 0 0 1 3 18M702-79l0 1M702-78l-21 2l0 2M681-75l-3 0l0 2M678-74l-17 2l0 2M661-71l-4 1l1 2M715-68l0 1M662-64l0 2l53-5M712-54l0 1M712-53l-3 0l0 2M709-52l-3 0l0 2M706-51l-81 6l0 2M682-45l0 2M705-42l0 1M705-42l-19 1l0 2M658-41l0 3l28-2M715-39l0 1M658-39l-3 0l0 4l60-4M682-44l-31 2a653 653 0 0 1 1 5l3 0M651-40l-35 3l0 5M612-41a614 614 0 0 1 1 7l3 0M702-35l0 1M702-34l-18 1l0 1M613-38l-4 1a611 611 0 0 1 1 8l74-3M625-44l-19 1a607 607 0 0 1 1 10l3 0M602-47a604 604 0 0 1 1 9l3 0M599-47a601 601 0 0 1 1 5l3 0M692-31l0 2M692-30l-3 0l0 2M689-29l-3 0l0 2M599-45l-3 1a598 598 0 0 1 1 20l89-4M593-48a595 595 0 0 1 1 14l3 0M593-41l-3 0a591 591 0 0 1 1 19M586-49a588 588 0 0 1 1 18l4 0M583-49a585 585 0 0 1 1 9l3 0M583-44l-3 0a582 582 0 0 1 1 23M576-50a579 579 0 0 1 2 18l3 0M693-20l0 1M689-21l0 2l4 0M686-22l0 2l3 0M600-20l0 2l86-3M577-41l-22 2a557 557 0 0 1 2 21l43-1M556-29l-3 0a554 554 0 0 1 0 15M553-21l-31 1a522 522 0 0 1 0 8M517-46a519 519 0 0 1 2 30l3 0M518-31l-3 0a516 516 0 0 1 1 20M511-46a513 513 0 0 1 1 25l3 0M507-46a509 509 0 0 1 1 13l4 0M675-11l0 1M689-9l0 1M675-11l-3 0l0 3l17 0M661-12l0 3l11 0M716 3l0 1M713 2l0 2l3 0M644 1l0 2l69 0M641-1l0 3l3 0M641 0l-3 0l0 5M635-2l0 5l3 0M632-3l0 4l3 0M628-4l0 3l4 0M716 7l0 1M716 7l-48 0l0 2M668 8l-3 0l0 2M689 13l-1 1M649 11l0 1l39 1M665 9l-39-1l0 3l23 1M628-2l-19 0a609 609 0 0 1 0 11l17 1M609 4l-3 0a606 606 0 0 1 0 9M606 8l-3 0a603 603 0 0 1 -1 6M603 11l-4 0l0 4M571-4a571 571 0 0 1 0 17l28 0M568-5a568 568 0 0 1 0 9l3 0M661-11l-97 2a565 565 0 0 1 1 8l3 0M540-11a540 540 0 0 1 0 6l25 0M540-8l-3 0a537 537 0 0 1 0 22M508-40l-3 0a506 506 0 0 1 1 43l31 0M662-63l-161 15a503 503 0 0 1 2 30l3 0M497-49a500 500 0 0 1 2 16l3 0M498-41l-3 0a497 497 0 0 1 1 55M491-49a493 493 0 0 1 2 36l3 0M696 27l0 1M687 26l0 1l9 1M681 24l0 2l6 1M681 25l-22 0l0 3M659 26l-3 0l0 3M653 22l0 5l3 1M610 20l-1 3l44 2M717 33l0 1M717 34l-1 0l0 1M716 35l-65-4l0 2M610 21l-54-1a556 556 0 0 1 0 8l95 4M553 17a553 553 0 0 1 0 6l3 1M492-31l-3 0a490 490 0 0 1 1 49l63 2M490-7l-3 0a487 487 0 0 1 -1 33M481-49a484 484 0 0 1 3 59l3 0M658-69l-180 19a481 481 0 0 1 2 30l3 0M479-35l-3 0a477 477 0 0 1 1 61M477-4l-71 0a406 406 0 0 1 0 27M707 46l0 1M707 47l-34-2l0 1M673 45l-24-1l0 2M694 50l0 1M694 51l-29-2l0 1M649 45l-30-2l0 3l46 4M706 58l0 2M706 59l-40-3l0 1M663 54l-1 2l4 1M685 60l0 1M685 61l-19-2l-1 2M663 55l-49-4l0 4l52 5M609 48a611 611 0 0 1 -1 5l6 0M702 67l0 1M698 69l0 1M702 67l-43-4l-1 2l40 4M658 64l-3 0l0 3M655 65l-3 0l0 3M610 57l0 5l42 4M610 60l-3-1a610 610 0 0 1 -1 5M609 50l-5 0a607 607 0 0 1 -1 11l4 1M602 47a603 603 0 0 1 -1 8l3 1M668 74l0 1M665 73l0 1l3 1M665 73l-3 0l-1 3M645 69l-1 3l17 2M601 51l-67-6a536 536 0 0 1 -2 13l113 13M533 52l-3 0a532 532 0 0 1 -1 9M619 44l-94-6a526 526 0 0 1 -2 18l6 1M689 82l0 2M689 83l-21-3l-1 2M703 90l0 2M663 84l0 2l40 5M651 81l0 2l12 2M711 96l0 2M711 97l-39-5l0 1M672 93l-5-1l0 2M617 83l0 3l50 7M614 81l0 3l3 0M651 82l-39-5a617 617 0 0 1 -1 5l3 0M668 81l-74-9a598 598 0 0 1 -1 5l18 3M594 75l-3-1a595 595 0 0 1 -2 10M590 79l-5 0a590 590 0 0 1 -1 5M574 68a578 578 0 0 1 -1 12l11 1M573 74l-32-4a545 545 0 0 1 -2 9M524 47l-3-1a523 523 0 0 1 -3 25l22 3M519 33a520 520 0 0 1 -2 25l3 1M516 32a517 517 0 0 1 -1 13l3 1M515 39l-3-1a513 513 0 0 1 -4 37M502 30a502 502 0 0 1 -3 26l11 1M498 29a499 499 0 0 1 -1 14l4 0M498 36l-18-1a482 482 0 0 1 -4 36M479 53l-3 0a479 479 0 0 1 -3 19M474 62l-3 0a475 475 0 0 1 -1 10M697 113l0 1M697 114l-9-2l0 2M689 115l0 2M688 113l-25-4l0 3l26 4M686 121l0 1M686 122l-3-1l-1 2M683 122l-3-1l-1 3M677 118l-1 4l3 0M674 117l-1 3l3 0M599 102l-1 3l76 13M663 110l-67-11l-1 4l3 1M596 101l-29-5a576 576 0 0 1 -1 8M565 91a572 572 0 0 1 -1 9l3 0M562 89a569 569 0 0 1 -1 6l3 0M706 131l0 1M562 92l-5-1a564 564 0 0 1 -2 12l151 29M543 85a549 549 0 0 1 -2 10l15 2M542 90l-17-3a532 532 0 0 1 -2 12M704 143l-1 1M703 144l-48-10l0 2M655 135l-3-1l-1 2M649 131l-1 3l4 1M616 123l-1 3l34 7M616 124l-13-2a615 615 0 0 1 -2 5M600 119a612 612 0 0 1 -1 5l3 0M672 147l0 1M672 147l-3-1l-1 2M668 147l-44-10l-1 2M608 132l0 3l15 3M697 157l0 1M667 153l-1 1M697 158l-68-16l-1 2l39 9M608 133l-6-1a617 617 0 0 1 -1 5l28 6M598 128a611 611 0 0 1 -1 5l5 2M591 126l-1 3l7 2M675 160l0 1M667 156l0 2l8 2M667 157l-3 0l-1 2M669 163l-1 1M666 161l-1 2l3 0M665 162l-3-1l0 3M662 162l-16-4l-1 3M645 160l-3-1l0 2M664 158l-43-10a639 639 0 0 1 -1 6l22 6M600 140a616 616 0 0 1 -2 6l22 5M599 143l-48-12a566 566 0 0 1 -2 8M591 127l-49-10a554 554 0 0 1 -4 15l12 3M540 125l-3-1a551 551 0 0 1 -3 12M536 130l-4-1a548 548 0 0 1 -1 7M599 121l-70-14a539 539 0 0 1 -6 24l9 2M526 119l-3-1a536 536 0 0 1 -4 16M521 126l-3-1a533 533 0 0 1 -2 9M520 102a530 530 0 0 1 -6 27l3 1M517 101a526 526 0 0 1 -3 14l3 1M515 108l-8-2a518 518 0 0 1 -6 25M685 182l0 1M637 168l0 2l48 13M637 169l-34-9l0 2M504 119l-9-2a509 509 0 0 1 -4 14l112 30M496 96a505 505 0 0 1 -6 27l3 1M480 92a489 489 0 0 1 -2 14l15 3M692 191l0 1M645 176l0 2l47 13M607 165l-1 2l39 10M479 99l-3-1a486 486 0 0 1 -8 30l139 38M524 93l-59-10a473 473 0 0 1 -5 27l12 3M445 69a450 450 0 0 1 -4 23l22 4M471 67l-38-5a437 437 0 0 1 -3 16l13 2M432 70l-4-1a434 434 0 0 1 -10 48M406 10l-22-1a384 384 0 0 1 -9 73l49 11M381 46l-3 0a381 381 0 0 1 -11 57M347-40a350 350 0 0 1 -4 108l31 7M344-40a346 346 0 0 1 2 54l3 1M651 193l0 1M648 191l0 1l3 1M648 191l-19-5l-1 2M628 187l-3-1l0 2M621 181a647 647 0 0 1 -1 5l5 1M618 180l0 3l3 1M618 181l-4-1a640 640 0 0 1 -2 6M613 183l-3-1l-1 4M609 176a634 634 0 0 1 -3 7l4 1M686 211l0 1M608 179l-54-16a577 577 0 0 1 -2 7l134 41M674 215l-1 1M645 204l0 2l29 9M643 202l-1 2l3 1M640 200l-1 2l3 1M640 201l-43-13l-1 4M595 185a623 623 0 0 1 -2 4l3 1M681 229l-1 1M667 228l-1 1M655 226l0 2M667 229l-24-9l-1 3l13 4M628 213l-1 3l15 5M680 229l-61-20l-1 3l9 3M583 195l-1 3l37 12M672 242l0 1M672 242l-48-17l0 2M622 222l-1 3l3 1M595 211l-1 3l27 10M592 209l-1 2l3 1M589 207l0 2l3 1M586 205l-1 2l4 1M583 196l-37-12a576 576 0 0 1 -2 7l42 15M674 246l0 2M674 247l0 0l0 2M545 188l-3-1a573 573 0 0 1 -4 11l136 50M540 192l-3-1a570 570 0 0 1 -3 7M538 179a567 567 0 0 1 -5 15l3 1M535 177a563 563 0 0 1 -3 8l3 1M534 181l-19-6a544 544 0 0 1 -5 15M514 169a541 541 0 0 1 -4 12l3 2M645 247l0 1M645 248l-3-1l-1 1M642 248l-20-8l-1 2M602 230l-1 3l21 8M602 231l-3-1a642 642 0 0 1 -2 4M597 226a638 638 0 0 1 -2 5l3 1M596 229l-3-2a635 635 0 0 1 -2 5M592 230l-3-1l-1 3M588 222a629 629 0 0 1 -3 7l3 2M586 220a626 626 0 0 1 -2 4l3 2M585 222l-50-19a573 573 0 0 1 -3 8M512 175l-70-24a468 468 0 0 1 -6 18l98 38M627 255l-1 1M623 252l-1 2l4 2M611 252l0 1M640 267l-1 1M619 257l0 2l21 9M619 258l-3-1l-1 2M616 258l-22-9l-1 2M611 252l-19-8a641 641 0 0 1 -1 5l3 1M592 247l-3-2a638 638 0 0 1 -2 5M588 248l-3-2a634 634 0 0 1 -2 4M623 253l-38-15a631 631 0 0 1 -4 9l3 1M583 242l-3-1a628 628 0 0 1 -3 7M579 245l-3-2a625 625 0 0 1 -2 5M575 246l-50-22l-1 3M627 282l-1 2M624 280l0 2l3 1M623 284l-1 2M600 273l0 2l23 10M624 281l-36-17l-2 3l14 7M587 266l-16-7a627 627 0 0 1 -2 4M570 261l-3-2l-1 3M542 242a594 594 0 0 1 -3 6l28 13M541 245l-4-2a589 589 0 0 1 -3 6M536 238a586 586 0 0 1 -3 7l3 1M534 241l-3-1a583 583 0 0 1 -3 7M530 234a580 580 0 0 1 -3 8l3 1M525 231a573 573 0 0 1 -2 5l6 2M524 233l-3-1a570 570 0 0 1 -5 10M519 227a567 567 0 0 1 -4 9l3 1M517 225a564 564 0 0 1 -3 5l3 2M524 226l-47-20a520 520 0 0 1 -2 4l41 18M476 208l-3-1a517 517 0 0 1 -6 13M470 213l-3-1a513 513 0 0 1 -3 8M639 312l-1 1M636 310l0 1l2 2M602 292l-1 2l35 16M571 275l-1 2l32 16M570 276l-3-1a630 630 0 0 1 -2 4M640 318l0 2M627 310l-1 2l14 7M627 311l-66-32l-1 2M605 305l-1 1M560 280l-16-8l-1 2l62 31M544 273l-3-1l-2 2M566 277l-25-13a602 602 0 0 1 -4 7l3 2M539 268l-3-2a599 599 0 0 1 -3 6M537 258a595 595 0 0 1 -5 10l3 1M534 255a592 592 0 0 1 -3 6l3 2M499 237a552 552 0 0 1 -2 4l36 17M466 216l-3-1a510 510 0 0 1 -3 6l38 18M470 190a507 507 0 0 1 -12 26l3 2M426 171a459 459 0 0 1 -6 13l44 19M417 166a449 449 0 0 1 -3 7l9 4M439 160l-21-7a445 445 0 0 1 -6 16l3 1M420 137a442 442 0 0 1 -8 23l3 1M418 136a439 439 0 0 1 -4 11l3 1M594 187l-178-56a436 436 0 0 1 -3 9l3 1M553 167l-139-42a433 433 0 0 1 -3 10l3 1M619 317l-1 1M619 318l-3-2l-1 2M615 317l-3-1l-1 1M612 317l-3-2l-1 2M598 318l-1 1M589 312l-1 2l9 5M589 313l-3-1l-1 2M584 308l-1 3l2 2M583 310l-30-16l-2 3M552 295l-3-1l-1 3M548 295l-3-1l-1 2M545 287a616 616 0 0 1 -4 6l4 2M543 290l-3-2a612 612 0 0 1 -2 6M509 267a575 575 0 0 1 -3 6l33 18M609 316l-102-53a572 572 0 0 1 -2 5l3 2M506 266l-29-15a539 539 0 0 1 -5 8M582 331l-1 1M568 322l0 1l14 9M597 342l0 1M597 343l-28-16l-1 1M568 323l-3-2a650 650 0 0 1 -2 4l5 3M560 316l-2 3l6 4M609 358l0 1M609 359l-29-17l-1 1M580 342l-3-1l-1 1M576 337l-2 3l3 2M575 338l-3-1l-2 3M571 333a661 661 0 0 1 -3 4l3 1M569 335l-41-24a613 613 0 0 1 -2 4M578 352l0 1M572 347l-1 1l7 4M570 344l-1 2l3 2M568 342l-1 1l3 2M527 313l-41-24l-2 3l83 51M486 282a562 562 0 0 1 -4 7l3 1M559 318l-75-43a557 557 0 0 1 -4 8l4 3M482 271a553 553 0 0 1 -3 6l3 2M481 274l-18-10a533 533 0 0 1 -9 15M575 359l-1 1M572 357l0 1l2 2M576 369l0 1M572 365l-1 1l5 3M571 365l-24-15l-2 2M541 344l-2 2l7 5M532 337l-1 2l9 6M530 334l-1 2l2 2M529 335l-2-2a623 623 0 0 1 -4 6M572 357l-46-28a620 620 0 0 1 -4 5l3 2M524 325a617 617 0 0 1 -3 5l3 1M522 323l-2 3l3 1M467 288l-1 2l55 34M459 271l-18-10a513 513 0 0 1 -5 9l31 19M444 249a509 509 0 0 1 -8 15l2 1M440 256l-3-1a506 506 0 0 1 -13 21M431 265l-3-1a503 503 0 0 1 -7 11M598 393l-1 1M575 382l-1 1M573 380l-1 1l3 2M598 394l-39-26l-2 2l16 10M558 369l-10-7a657 657 0 0 1 -3 3M547 358a653 653 0 0 1 -3 4l3 2M545 360l-43-28a602 602 0 0 1 -3 4M425 269l-15-9a485 485 0 0 1 -6 9l97 65M569 385l-1 1M568 386l-2-2l-1 1M564 381l-2 2l3 2M563 382l-35-24l-1 3M407 264l-3-1a482 482 0 0 1 -6 8l130 88M418 233a479 479 0 0 1 -19 32l2 2M416 231a476 476 0 0 1 -10 17l3 1M413 229a472 472 0 0 1 -5 9l3 1M411 226a469 469 0 0 1 -3 6l3 1M558 387l0 1M558 387l-8-5l-1 1M550 383l-23-16l-1 1M526 368l-5-4l-1 1M559 394l-1 1M520 364l-4-3l-2 3l45 31M515 363l-2-2l-2 2M501 346a609 609 0 0 1 -4 6l15 10M499 349l-2-2a606 606 0 0 1 -4 5M495 350l-12-9l-2 3M485 333a588 588 0 0 1 -6 8l3 2M482 337l-17-12a567 567 0 0 1 -5 6M546 399l0 0M546 399l-22-16l-1 1M521 379l-2 2l5 3M520 380l-2-2l-2 2M517 379l-3-2l-2 2M514 372a634 634 0 0 1 -3 4l2 2M512 369l-2 3l2 2M511 371l-3-2a628 628 0 0 1 -4 5M462 328l-2-2a564 564 0 0 1 -6 8l52 38M410 229l-3-2a466 466 0 0 1 -29 46l79 57M475 255l-107-57a418 418 0 0 1 -16 26l41 26M413 130l-38-12a393 393 0 0 1 -36 81l21 12M359 159l-2-1a390 390 0 0 1 -44 75M367 105a382 382 0 0 1 -37 88l7 4M364 104a379 379 0 0 1 -16 45l3 1M357 127l-3-2a375 375 0 0 1 -53 100M358 101a372 372 0 0 1 -30 75l3 1M554 434l-1 1M553 434l-16-12l-1 1M535 418l-1 2l2 2M534 419l-2-2l-2 3M531 419l-11-9l-1 2M561 448l-1 1M561 448l0 0l-1 2M520 411l-18-14a640 640 0 0 1 -3 3l61 49M501 399l-21-16l-2 3M482 375a611 611 0 0 1 -5 7l2 2M557 453l-1 1M557 453l-40-32l-1 1M488 395l-2 2l31 25M479 379l-2-2a608 608 0 0 1 -5 6l15 13M478 371a605 605 0 0 1 -6 7l2 2M476 368a601 601 0 0 1 -4 4l3 2M554 457l-1 1M554 455l-2 1l2 1M474 370l-12-9a586 586 0 0 1 -9 12l100 82M462 356a583 583 0 0 1 -7 9l2 2M460 353a580 580 0 0 1 -4 5l2 2M458 350a577 577 0 0 1 -3 4l3 2M519 431l-1 1M519 431l-15-12l-1 2M457 352l-3-2a573 573 0 0 1 -14 17l64 53M447 359l-2-2a570 570 0 0 1 -8 9M451 344a567 567 0 0 1 -13 16l3 2M445 352l-10-8a554 554 0 0 1 -11 13M429 350l-2-2a551 551 0 0 1 -6 8M424 352l-2-2a548 548 0 0 1 -4 4M420 352l-3-2l-2 3M544 468l0 1M525 449l-2 2l21 18M524 450l-2-2l-2 2M490 418l-2 3l33 28M541 472l-1 1M535 473l-1 1M535 474l-9-8l-1 2M526 467l-3-2l-1 1M523 466l-3-2l-1 1M520 459a694 694 0 0 1 -3 3l3 2M481 422l-2 3l40 35M541 472l-61-53l-3 2l3 3M479 420l-3-2a634 634 0 0 1 -5 6M476 413a630 630 0 0 1 -5 6l3 2M489 419l-24-20a612 612 0 0 1 -5 5l14 12M462 401l-27-24a575 575 0 0 1 -8 9M431 382l-3-3a572 572 0 0 1 -4 5M503 467l-1 1M503 468l-7-6l-1 1M496 462l-2-2l-2 2M493 456l-2 3l2 2M489 451l-2 3l5 4M488 452l-2-2a663 663 0 0 1 -4 4M484 452l-11-10l-2 3M472 443l-2-2l-3 2M472 434a641 641 0 0 1 -6 6l2 2M469 437l-2-2a638 638 0 0 1 -5 5M464 437l-2-2a635 635 0 0 1 -3 3M461 437l-3-3l-2 3M463 424a628 628 0 0 1 -8 9l2 3M462 421a625 625 0 0 1 -5 6l2 2M511 491l-1 1M514 501l-1 1M514 502l-33-32l-1 1M490 483l-1 1M481 471l-3-3l-1 2l13 13M477 469l-18-17l-2 2M460 447a641 641 0 0 1 -4 3l2 3M458 449l-9-9a628 628 0 0 1 -4 3M449 435a625 625 0 0 1 -4 4l2 2M510 492l-62-61a622 622 0 0 1 -3 4l2 2M459 424l-53-49a553 553 0 0 1 -9 10l49 48M407 370a550 550 0 0 1 -8 8l3 2M470 474l-1 1M469 475l-2-3l-1 2M467 473l-3-2l-1 1M464 467l-3 2l3 2M463 464l-3 2l3 2M461 465l-19-20a628 628 0 0 1 -3 4M495 514l-1 1M480 496l-1 2l16 16M479 497l-2-2l-2 2M476 496l-2-3l-2 2M457 471a657 657 0 0 1 -3 3l19 20M456 473l-4-4a651 651 0 0 1 -3 3M479 506l-1 1M450 471l-2-3a648 648 0 0 1 -3 3l34 36M450 462a645 645 0 0 1 -5 5l2 3M440 447l-38-39a572 572 0 0 1 -5 4l50 53M390 389a551 551 0 0 1 -6 6l15 15M403 374l-34-32a504 504 0 0 1 -15 16l33 34M426 382l-53-48a500 500 0 0 1 -14 14l3 3M416 351l-36-30a497 497 0 0 1 -16 18l2 2M393 299a494 494 0 0 1 -24 29l3 2M490 522l-1 1M478 514l0 1M466 506l-1 1M465 506l-11-12l-1 1M447 484l-1 2l8 9M478 515l-45-49l-3 2l17 17M489 523l-57-61l-3 2l2 3M431 463l-25-26a596 596 0 0 1 -4 4M468 529l-1 0M468 529l-9-10l-1 1M459 516l-2 1l2 3M458 517l-3-3l-2 2M454 515l-2-2l-2 2M453 508a680 680 0 0 1 -4 3l2 3M451 510l-12-14a662 662 0 0 1 -4 3M437 497l-29-32l-2 3M392 438a587 587 0 0 1 -6 5l21 24M455 528l-1 1M463 541l-1 1M437 518l-1 1M432 510l-2 1l6 7M431 511l-2-3l-2 2M428 509l-2-2l-2 1M426 502a659 659 0 0 1 -3 3l2 2M425 503l-2-2a655 655 0 0 1 -4 3M462 541l-38-45a652 652 0 0 1 -5 4l2 2M455 528l-32-36a649 649 0 0 1 -4 4l2 2M397 459a607 607 0 0 1 -3 3l27 32M389 440l-9-10a574 574 0 0 1 -6 5l21 26M438 528l-1 1M377 433l-2-3a571 571 0 0 1 -11 10l73 88M369 435l-2-2a568 568 0 0 1 -6 5M374 417a560 560 0 0 1 -15 13l5 5M373 414a557 557 0 0 1 -8 7l2 2M369 417l-2-2a554 554 0 0 1 -16 13M369 408a550 550 0 0 1 -12 11l2 2M363 414l-2-3a547 547 0 0 1 -15 13M354 417l-2-2a544 544 0 0 1 -9 7M363 400a541 541 0 0 1 -18 16l3 2M404 439l-40-44a538 538 0 0 1 -12 11l3 2M366 389a534 534 0 0 1 -10 9l2 3M361 394l-2-3a531 531 0 0 1 -24 21M382 313l-3-2a491 491 0 0 1 -58 61l26 30M351 343l-2-2a488 488 0 0 1 -42 38M328 360l-2-2a484 484 0 0 1 -22 19M346 262a434 434 0 0 1 -64 67l33 39M420 539l-1 0M420 539l-2-2l-2 1M416 553l-1 1M415 550l-1 1l2 3M402 531l-1 1l14 18M401 528l-1 1l2 2M401 528l-17-22a635 635 0 0 1 -4 3M412 558l-1 0M398 536l-2 1l16 21M392 527l-2 1l7 9M382 508l-12-17a615 615 0 0 1 -4 3l25 33M424 580l-1 0M395 538l-1 1l29 41M368 492l-2-2a611 611 0 0 1 -5 3l33 46M364 492l-4-6a605 605 0 0 1 -5 4M365 478a602 602 0 0 1 -9 7l1 3M360 482l-2-3a598 598 0 0 1 -7 6M362 472a595 595 0 0 1 -9 8l2 2M357 476l-5-7a586 586 0 0 1 -9 7M347 472l-1-2a583 583 0 0 1 -6 4M354 460a580 580 0 0 1 -13 9l2 3M347 465l-6-9a569 569 0 0 1 -10 7M336 459l-2-2a566 566 0 0 1 -6 4M331 459l-2-3a563 563 0 0 1 -3 3M340 440a556 556 0 0 1 -17 12l5 6M406 576l-1 1M406 577l-2-3l-2 1M403 575l-13-19l-2 1M389 557l-2-3l-1 1M400 587l-1 1M400 588l-9-13l-1 1M391 571l-2 2l1 3M390 568l-2 1l2 3M389 569l-15-21l-3 2M375 544a660 660 0 0 1 -4 2l2 3M343 496l-3 2l33 47M387 555l-53-75l-3 2l11 15M383 573l-1 1M387 582l-1 1M383 574l-10-16l-2 2l15 23M372 559l-13-19l-2 2M360 536a646 646 0 0 1 -4 2l2 3M333 481l-2-3a581 581 0 0 1 -8 6l35 53M334 472a578 578 0 0 1 -9 6l2 3M332 446l-2-3a553 553 0 0 1 -15 11l14 21M417 537l-80-103a549 549 0 0 1 -17 12l2 3M337 430a546 546 0 0 1 -10 8l2 2M332 434l-2-3a543 543 0 0 1 -32 23M314 443l-2-3a540 540 0 0 1 -17 12M331 422a537 537 0 0 1 -29 21l2 3M330 419a533 533 0 0 1 -15 11l2 3M329 416a530 530 0 0 1 -8 6l2 3M325 419l-2-3a527 527 0 0 1 -35 26M372 583l-1 0M372 583l-2-3l-1 1M370 577l-2 1l1 3M369 573l-2 2l2 2M368 574l-37-57l-3 2M359 571l-1 0M359 571l-2-3l-1 1M356 569l-3-5l-1 1M377 611l-1 1M377 611l-15-24l-2 1M364 596l-2 0M359 593l-1 1M363 596l-17-28l-2 1l14 24M361 588l-15-24l-3 2l2 3M345 565l-16-26a631 631 0 0 1 -4 2M327 540l-2-3l-3 2M329 531a625 625 0 0 1 -7 4l2 3M353 565l-24-38a622 622 0 0 1 -5 3l2 3M327 529l-2-3a618 618 0 0 1 -8 5M321 529l-2-3a615 615 0 0 1 -5 3M330 518l-18-28a581 581 0 0 1 -13 8l17 29M314 485a578 578 0 0 1 -10 7l2 2M309 489l-2-4a574 574 0 0 1 -15 9M299 490l-9-15a557 557 0 0 1 -8 5M301 464a553 553 0 0 1 -16 10l1 3M293 469l-5-8a544 544 0 0 1 -13 8M306 429l-2-2a524 524 0 0 1 -33 21l10 17M311 391a499 499 0 0 1 -37 26l14 21M293 405l-2-3a496 496 0 0 1 -41 27M353 609l-1 0M341 586l-2 1l13 22M340 586l-8-13l-2 1M331 573l-7-12l-2 2M337 595l-1 1M335 589l-2 1l3 6M334 586l-2 1l2 3M323 562l-12-22l-3 2l25 44M337 603l-1 1M328 584l-2 1l11 19M309 541l-1-3a620 620 0 0 1 -5 3l24 43M305 540l-1-3a617 617 0 0 1 -5 2M346 629l-1 1M332 602l-1 1l14 27M301 538l-32-57l-3 2l66 120M267 482l-19-35l-3 2M271 416l-2-3a493 493 0 0 1 -31 19l8 16M305 383a490 490 0 0 1 -53 37l2 3M325 605l-1 0M325 605l-7-13l-2 0M318 588l-2 1l1 3M292 537l-2 1l27 51M318 624l-1 1M318 621l-2 1l2 2M317 621l-2-3l-2 2M304 592l-3 2l13 25M304 589l-3 1l2 3M303 589l-2-3a659 659 0 0 1 -5 3M299 588l-5-10l-3 2M292 579l-1-3l-3 2M289 577l-1-3l-2 1M294 567a639 639 0 0 1 -9 5l2 3M290 570l-9-18a620 620 0 0 1 -6 4M278 554l-2-3a616 616 0 0 1 -4 2M278 534a602 602 0 0 1 -10 5l6 13M277 531a599 599 0 0 1 -5 3l1 3M277 527a596 596 0 0 1 -4 2l1 3M275 528l-2-2a592 592 0 0 1 -12 6M267 529l-1-3a589 589 0 0 1 -8 4M273 518a585 585 0 0 1 -13 6l2 4M272 513a581 581 0 0 1 -7 4l2 4M254 478a542 542 0 0 1 -4 2l18 35M291 538l-35-64a538 538 0 0 1 -5 3l1 2M279 402l-2-2a487 487 0 0 1 -48 29l24 46M254 415l-2-2a483 483 0 0 1 -41 22M288 360a461 461 0 0 1 -67 44l11 20M255 383l-4-6a453 453 0 0 1 -54 31M282 351a450 450 0 0 1 -59 40l2 3M316 297l-8-7a423 423 0 0 1 -70 59l15 23M335 253a420 420 0 0 1 -63 66l3 3M306 288l-39-37a367 367 0 0 1 -108 79M291 218a364 364 0 0 1 -76 75l2 3M256 259l-3-3a360 360 0 0 1 -98 68M297 654l-1 0M298 653l-2 1l0 0M287 626l-2 1l12 27M286 626l-1-2l-4 1M283 624l-15-32l-3 1M283 636l-1 0M290 657l-1 0M289 657l-22-51l-2 0M283 636l-15-34l-3 1l1 3M267 592l-2-3a646 646 0 0 1 -4 2l5 12M263 590l-1-3a643 643 0 0 1 -5 3M257 558a614 614 0 0 1 -9 4l11 27M272 628l-1 1M272 628l-5-10l-2 0M266 618l-19-44l-2 0M252 560l-1-3a611 611 0 0 1 -10 4l5 13M273 646l-1 1M268 630l-2 1l7 15M267 630l-1-3l-3 1M264 628l-1-3l-2 1M262 625l-13-32l-3 1M272 665l-2 0M273 664l-2 1l0 0M259 627l-2 0l15 38M247 594l-3-8l-3 1l17 40M268 663l-1 1M243 586l-2-3a631 631 0 0 1 -5 2l32 78M239 584l-16-39a589 589 0 0 1 -4 2M221 546l-4-9l-2 2M261 661l-2 0M260 661l-4-10l-2 1M252 635l-3 1l6 16M251 636l-7-17l-3 1M243 620l-14-34l-2 1M228 586l-1-3l-2 1M226 584l-1-3l-3 1M216 538l-8-19a559 559 0 0 1 -7 3l23 59M246 559l-22-50a556 556 0 0 1 -21 9l2 3M232 502a553 553 0 0 1 -20 8l2 3M222 506l-5-11a540 540 0 0 1 -25 10M247 674l-1 1M243 659l-2 0l6 15M226 634l-1 0M220 614l-1 1l7 19M232 661l-1 1M232 658l-2 0l1 3M231 658l-22-64l-3 1M208 594l-2-3l-2 1M232 680l-1 0M231 680l-6-18l-1 1M224 663l-11-34l-2 0M212 629l-4-12l-2 1M210 613a648 648 0 0 1 -4 2l1 3M208 614l-7-21l-4 1M205 592l-1-3a623 623 0 0 1 -6 2l1 3M219 614l-15-42a607 607 0 0 1 -8 3l5 15M205 568a604 604 0 0 1 -6 2l1 3M205 565l-4 1l1 3M203 566l-1-3a598 598 0 0 1 -15 5M195 565l-2-3a595 595 0 0 1 -8 3M242 659l-38-104a591 591 0 0 1 -16 6l1 3M204 552a588 588 0 0 1 -9 3l1 3M200 553l-2-5a582 582 0 0 1 -18 6M199 534a569 569 0 0 1 -14 5l4 12M199 530a566 566 0 0 1 -8 3l1 3M195 532l-4-11a555 555 0 0 1 -20 7M194 515a550 550 0 0 1 -15 5l2 5M187 517l-2-3a547 547 0 0 1 -17 6M177 517l-2-3a544 544 0 0 1 -9 4M191 505a540 540 0 0 1 -21 8l1 3M205 500l-1-3a537 537 0 0 1 -25 9l1 3M192 502l-2-3a534 534 0 0 1 -28 10M224 481a531 531 0 0 1 -49 20l1 3M216 683l-1 0M200 492l-2-3a528 528 0 0 1 -39 14l56 180M214 459a506 506 0 0 1 -43 17l8 20M193 468l-9-22a482 482 0 0 1 -40 14M187 624l-2 0M199 675l-1 0M186 624l-1-3l-2 1l16 53M201 689l-1 1M184 621l-6-19l-3 1l25 87M177 602l-3-9l-3 1M189 693l-1 0M188 693l0 0l-2 0M183 665l-3 1l7 27M181 665l-4-17l-4 1M176 637l-4 1l3 11M174 637l-1-3l-4 1M169 608a631 631 0 0 1 -5 1l7 26M177 674l-1 0M166 608l0-3a627 627 0 0 1 -7 2l18 67M168 601a624 624 0 0 1 -6 2l0 3M165 602l-1-3a621 621 0 0 1 -8 2M168 595a618 618 0 0 1 -9 2l1 3M179 695l-1 1M163 596l0-3a615 615 0 0 1 -10 2l26 100M167 588a611 611 0 0 1 -10 3l1 3M162 590l-6-22a589 589 0 0 1 -11 3M161 564a586 586 0 0 1 -11 3l1 3M172 593l-9-33a583 583 0 0 1 -8 2l0 3M167 555a580 580 0 0 1 -9 3l1 3M167 552a577 577 0 0 1 -5 2l0 3M163 693l-1 1M164 690l-2 0l1 3M163 690l-1-3l-3 1M154 644l-3 0l10 43M154 640l-2 1l0 3M148 681l-1 0M147 681l-4-22l-2 1M142 660l-2-8l-2 1M139 652l-5-23l-2 0M133 629l0-3l-3 1M134 610a624 624 0 0 1 -6 1l4 15M144 703l-1 1M143 704l-8-41l-2 0M134 663l-3-16l-2 1M130 648l-3-13l-2 0M130 631l-4 1l0 3M128 631l-1-3l-4 1M131 611l-1-4a621 621 0 0 1 -9 2l4 20M126 608l-1-3a618 618 0 0 1 -7 2M133 600a615 615 0 0 1 -12 3l0 3M133 597a611 611 0 0 1 -7 1l1 3M133 593l-4 1l0 4M134 590l-4 1l1 3M134 587l-3 0l1 3M133 587l-1-3a599 599 0 0 1 -19 4M134 580a595 595 0 0 1 -12 3l0 3M153 640l-15-64a592 592 0 0 1 -11 2l1 4M132 577l0-3a589 589 0 0 1 -22 5M138 569a586 586 0 0 1 -18 4l1 3M139 566a583 583 0 0 1 -10 2l0 3M139 563a579 579 0 0 1 -6 1l1 3M133 537l-3 1l6 25M134 534l-3 0l1 4M133 706l-1 0M132 706l0 0l-2 0M132 534l-1-3a547 547 0 0 1 -31 7l31 168M116 535l-1-3a544 544 0 0 1 -17 3M132 524a541 541 0 0 1 -26 6l1 3M164 553l-21-72a502 502 0 0 1 -32 9l8 37M145 477a499 499 0 0 1 -19 6l1 3M145 474a496 496 0 0 1 -10 3l1 3M145 471a493 493 0 0 1 -6 1l1 4M142 472l-1-3a489 489 0 0 1 -54 13M114 476l-5-22a467 467 0 0 1 -26 6M138 443a464 464 0 0 1 -43 11l1 3M164 453l-7-20a461 461 0 0 1 -41 13l1 3M120 683l-1 0M120 683l-2-10l-2 0M119 670l-3 0l1 3M118 693l-1 1M118 694l-9-52l-2 0M118 670l-7-38a641 641 0 0 1 -5 1l2 9M136 440l-1-3a458 458 0 0 1 -57 14l31 181M193 412a454 454 0 0 1 -87 30l1 3M192 408a451 451 0 0 1 -43 18l1 3M171 418l-1-3a448 448 0 0 1 -97 27M190 402a445 445 0 0 1 -69 26l1 3M156 417l-1-3a442 442 0 0 1 -84 22M188 396a438 438 0 0 1 -75 28l1 3M151 412l-1-3a435 435 0 0 1 -81 21M178 373a413 413 0 0 1 -73 27l5 21M207 294l-7-10a347 347 0 0 1 -81 42l23 62M106 710l-1 0M105 710l-4-27l-2 0M100 683l-5-38l-2 0M101 711l-1 0M100 711l-5-36l-2 0M94 675l-3-26l-2 0M92 710l-1 0M91 710l0-3l-2 0M90 707l-4-35l-3 0M85 672l-1-3l-2 0M83 669l-2-13l-2 0M86 652a658 658 0 0 1 -6 1l0 3M86 649l-4 1l1 3M84 649l0-3a652 652 0 0 1 -7 1M84 626a632 632 0 0 1 -6 1l2 20M81 626l0-3a628 628 0 0 1 -8 1M77 624l0-4a625 625 0 0 1 -5 1M74 621l0-4l-4 1M90 649l-5-36a618 618 0 0 1 -13 1l0 3M77 689l-1 0M78 613l0-3a615 615 0 0 1 -10 1l9 78M73 611l-1-3a612 612 0 0 1 -6 0M94 645l-6-43a609 609 0 0 1 -19 3l0 3M87 578a584 584 0 0 1 -12 2l3 24M81 579l-6-47a537 537 0 0 1 -18 2M62 705l-2 0M63 702l-2 0l0 3M63 698l-2 1l1 3M58 694l-1 0M58 694l-3-29l-2 0M62 698l-3-39l-5 0l0 6M61 655a658 658 0 0 1 -5 1l0 3M60 638l-3 0l1 18M61 634l-3 1l0 3M62 631l-3 0l1 4M54 706l-1 0M54 689l-2 0l2 17M49 699l-1 0M48 699l0-3l-2 0M47 696l0-3l-2 0M48 675l-3 0l1 18M49 672l-3 0l0 3M53 689l-7-88l-3 0l5 71M45 716l-1 0M44 716l0-3l-2 0M43 713l-2-36l-2 0M38 708l-1 0M39 691l-2 0l1 17M38 691l-1-6l-2 0M36 685l0-3l-3 0M35 682l-1-3l-2 0M33 679l0-7l-2 1M40 677l-2-39a639 639 0 0 1 -8 0l2 34M45 601l-1-15a588 588 0 0 1 -13 1l3 51M61 631l-7-65a568 568 0 0 1 -18 1l1 20M45 566l0-3a565 565 0 0 1 -20 1M56 559a562 562 0 0 1 -21 2l0 3M29 696l-1 0M29 696l-1-4l-1 0M28 692l-1-13l-2 0M24 682l-1 0M26 679l0-9l-3 0l0 12M24 670l-2-64l-3 0M18 718l-2 0M17 718l0 0l-2 0M16 718l-1-27l-2 0M14 691l0-18l-2 0M18 669l-5 0l0 4M15 669l0-11l-5 0M13 658l0-6l-4 0M11 652l0-8l-3 0M18 641a641 641 0 0 1 -9 0l0 3M7 703l-1 0M7 703l-1-47l-1 0M14 641l-1-18a623 623 0 0 1 -8 0l1 33M18 620a620 620 0 0 1 -9 0l0 3M20 606l0-7a599 599 0 0 1 -7 0l1 21M45 560l0-3a559 559 0 0 1 -29 1l1 41M30 558l0-3a555 555 0 0 1 -27 0M55 542a544 544 0 0 1 -39 2l1 11M36 543l-2-31a513 513 0 0 1 -32 1M-10 664l-1 0M-20 718l-1 0M-18 705l-2 0l0 13M-17 701l-2 0l0 4M-16 698l-2 0l0 3M-17 698l0-3l-5 0M-14 692l-5 0l0 3M-12 660l-4 0l-1 32M-11 664l0-9l-3 0l0 5M-12 655l0-3a652 652 0 0 1 -9 0M-17 652l0-3l-5 0M-9 646a646 646 0 0 1 -11 0l0 3M-8 643a643 643 0 0 1 -6 0l0 3M-11 643l0-4a640 640 0 0 1 -12 0M-17 639l0-14a625 625 0 0 1 -7 0M-6 622a622 622 0 0 1 -14 0l0 3M-5 613a613 613 0 0 1 -8-1l0 10M-4 609l-5 0l0 3M-3 587l-3 0l-1 22M-2 584l-3 0l0 3M-34 706l-1 0M-31 664l-2 0l-2 42M-29 644l-2 0l-1 20M-36 694l-1 0M-37 694l0-3l-1 0M-41 700l-2 0M-42 700l0-3l-2 0M-40 694l-2 0l-1 3M-37 691l3-54l-4 0l-3 57M-30 644l0-10a634 634 0 0 1 -6-1l0 4M-33 634l0-4a631 631 0 0 1 -7 0M-27 627a627 627 0 0 1 -9-1l0 4M-32 627l0-4a624 624 0 0 1 -9 0M-26 620a621 621 0 0 1 -10 0l0 3M-25 617a618 618 0 0 1 -6 0l0 3M-28 617l0-3a615 615 0 0 1 -14-1M-35 614l1-17a598 598 0 0 1 -7 0M-58 716l-2 0M-59 716l0-3l-2 0M-57 710l-3-1l0 4M-58 710l0-4l-3 0M-55 703l-4 0l-1 3M-54 700l-3 0l0 3M-52 697l-3 0l0 3M-54 697l1-3a696 696 0 0 1 -8-1M-50 691a693 693 0 0 1 -7-1l0 4M-46 643l-4-1l-4 49M-38 597l2-22a576 576 0 0 1 -7 0l-5 68M-3 584l0-36a548 548 0 0 1 -35-1l-1 28M-1 533a533 533 0 0 1 -19-1l0 16M0 530a530 530 0 0 1 -10 0l0 3M-60 666l-1 0M-5 530l0-4a526 526 0 0 1 -43-2l-13 142M-75 714l-1 0M-71 692l-2-1l-2 23M-72 691l0-3l-2 0M-73 688l0-3l-2 0M-69 682l-5 0l0 3M-71 682l0-3a682 682 0 0 1 -5-1M-75 666l-2 0M-80 686l-1 0M-81 686l1-3l-2 0M-76 666l0-3l-3-1l-2 21M-77 663l0-4l-3 0M-79 659l4-30l-3 0M-73 678l5-51a631 631 0 0 1 -8-1l0 3M-62 624a627 627 0 0 1 -10-1l0 3M-61 621l-5 0l-1 3M-63 621l0-3a621 621 0 0 1 -14-2M-58 603a606 606 0 0 1 -11-1l-1 15M-55 581a584 584 0 0 1 -6-1l-2 23M-91 705l-1 0M-92 705l1-3l-2 0M-92 702l0-3l-2 0M-95 695l-1 0M-95 695l4-31l-2-1M-101 711l-1 0M-101 711l0 0l-2 0M-92 664l1-9l-3 0l-8 56M-93 699l11-86l-4 0l-6 42M-78 611a615 615 0 0 1 -6-1l0 3M-58 581l1-3a580 580 0 0 1 -19-3l-5 35M-67 577l4-32a548 548 0 0 1 -17-3M-26 526l0-3a523 523 0 0 1 -42-4l-3 25M1 495a495 495 0 0 1 -46-2l-2 28M18 513l-1-27a486 486 0 0 1 -38 0l-1 9M50 480a483 483 0 0 1 -52 3l0 3M24 482l-1-3a480 480 0 0 1 -94-5M50 474a476 476 0 0 1 -73 2l-1 3M13 476l0-4a472 472 0 0 1 -83-5M-118 678l-1 0M-125 704l-1 0M-125 704l0-3l-2-1M-118 678l1-6l-3-1l-6 29M-119 672l1-4l-4 0M-120 668l0-3l-3-1M-121 665l7-38l-3 0M-107 625a634 634 0 0 1 -8-1l0 3M-105 615l-4-1l-2 10M-134 705l-1 0M-124 662l-2 0l-8 43M-107 615l4-24a600 600 0 0 1 -9-1l-13 72M-99 589a597 597 0 0 1 -8-1l0 3M-98 586l-4-1l-1 3M-135 686l-1 0M-136 686l5-22l-2 0M-128 654l-2 0l-2 10M-141 690l-1 0M-139 687l-2 0l0 3M-129 654l1-3l-4-1l-8 37M-125 648a660 660 0 0 1 -5-1l0 3M-100 585l1-3a591 591 0 0 1 -15-2l-14 68M-95 580a588 588 0 0 1 -11-2l-1 3M-94 577a584 584 0 0 1 -6-1l-1 3M-92 574a581 581 0 0 1 -5-1l0 3M-91 571l-3-1l-1 3M-92 570l0-3a575 575 0 0 1 -25-4M-104 565l0-3a572 572 0 0 1 -13-3M-88 556a563 563 0 0 1 -21-4l-2 9M-98 554l2-13a550 550 0 0 1 -18-3M-148 675l-1 0M-148 675l1-5l-2-1M-148 670l1-3l-2-1M-142 657l-4-1l-2 10M-140 649l-3 0l-1 7M-141 649l1-3a661 661 0 0 1 -6-1M-143 645l1-3l-4-1M-159 689l-2-1M-157 686l-2-1l-1 3M-144 642l4-21l-3-1l-15 65M-167 698l-1 0M-161 659l-1 0M-162 659l2-7l-2-1M-157 649l-3-1l-1 4M-159 649l8-31l-3-1M-172 684l-1-1M-179 695l-1 0M-169 661l-2 0l-9 34M-173 684l13-49l-3-1l-7 27M-153 617l1-3l-4-1l-6 21M-154 614l1-4a629 629 0 0 1 -6-1M-167 698l21-89a626 626 0 0 1 -9-2l-1 3M-151 608l1-3a623 623 0 0 1 -8-2M-187 693l-2 0M-180 672l-2-1l-6 22M-181 671l1-3l-3 0M-178 666l-3-1l-1 3M-176 663l-2-1l-1 3M-154 604l1-3a620 620 0 0 1 -7-2l-17 64M-157 600l1-3a617 617 0 0 1 -8-3M-189 682l-2-1M-160 596l1-4a613 613 0 0 1 -6-1l-25 91M-162 592l1-3a610 610 0 0 1 -4-2M-140 591a607 607 0 0 1 -22-6l-1 3M-138 588a604 604 0 0 1 -12-3l-1 3M-144 586l6-27a576 576 0 0 1 -19-5M-199 690l-2-1M-200 678l-1 0M-200 678l2-8l-2-1M-195 667l-3-1l-1 3M-197 667l4-11l-4-1M-200 690l15-52a664 664 0 0 1 -5-1l-5 18M-182 635l-4-1l-1 3M-184 634l1-3a657 657 0 0 1 -7-2M-187 630l8-27a628 628 0 0 1 -4-2M-172 601a625 625 0 0 1 -8-2l-1 3M-147 557l0-3a573 573 0 0 1 -14-4l-15 50M-154 552l1-4a569 569 0 0 1 -14-4M-141 621l23-101a533 533 0 0 1 -32-9l-10 36M-110 518a530 530 0 0 1 -23-5l-1 3M-105 540l5-23a526 526 0 0 1 -21-5l-1 3M-81 517a523 523 0 0 1 -29-5l-1 3M-79 514a520 520 0 0 1 -16-3l0 3M-87 513l1-3a517 517 0 0 1 -66-16M-72 470a476 476 0 0 1 -38-7l-10 40M-29 471l0-3a469 469 0 0 1 -61-8l-1 7M-59 465l0-3a466 466 0 0 1 -79-17M-216 685l-1-1M-217 685l15-46l-2-1M-200 636l-2 0l-1 3M-221 683l-1 0M-221 683l0-1l-2-1M-222 668l-2-1M-216 636l-1 0M-232 663l-2 0M-224 644l-2-1l-7 20M-225 643l1-3l-3-1M-221 638l-3-1l-1 3M-219 635l-3-1l-1 3M-220 635l1-3a669 669 0 0 1 -5-2M-222 631l3-7a661 661 0 0 1 -4-2M-213 622a658 658 0 0 1 -7-2l-1 3M-216 636l5-16a655 655 0 0 1 -5-2l-1 3M-213 619l6-18a636 636 0 0 1 -8-3M-202 599a633 633 0 0 1 -8-2l-1 3M-223 668l24-71a629 629 0 0 1 -6-2l-1 3M-197 594l-4-1l-1 3M-199 594l1-3a623 623 0 0 1 -14-5M-189 575a605 605 0 0 1 -10-4l-6 17M-222 681l36-109a602 602 0 0 1 -7-2l-1 3M-183 570a599 599 0 0 1 -6-2l-1 3M-186 569l1-3a595 595 0 0 1 -19-7M-201 636l27-86a577 577 0 0 1 -14-5l-6 18M-171 548a574 574 0 0 1 -9-3l-1 3M-175 546l1-3a570 570 0 0 1 -22-7M-185 540l1-3a567 567 0 0 1 -12-5M-190 534l1-3a564 564 0 0 1 -7-2M-192 530l1-3a561 561 0 0 1 -5-1M-99 455l2-8a458 458 0 0 1 -61-17l-35 96M-128 440l1-3a455 455 0 0 1 -32-11M66 533l-11-85a451 451 0 0 1 -197-20l-1 4M-257 670l-2 0M-256 671l-2-1l0 0M-257 670l0 0l-3-1M-232 610l-3-1l-23 61M-256 653l-1-1M-247 634l-2-1l-7 19M-248 633l9-22l-2-1M-267 667l-1-1M-265 667l-2-1l0 0M-266 667l19-49l-2-1M-240 610l1-3l-4-1l-5 12M-262 645l-1 0M-241 607l1-3a650 650 0 0 1 -5-2l-17 43M-242 603l1-3a646 646 0 0 1 -4-2M-273 644l-1-1M-279 636l-1 0M-277 634l-1-1l-2 3M-274 631l-2-1l-2 3M-272 629l-2-1l-1 3M-265 615l-2-1l-6 14M-262 612l-2-1l-2 3M-274 643l14-33l-2-1l-1 3M-261 609l1-2a660 660 0 0 1 -7-4M-263 605l1-3a657 657 0 0 1 -5-2M-265 601l2-3a653 653 0 0 1 -4-2M-253 599a650 650 0 0 1 -11-5l-1 3M-298 653l-1 0M-297 654l-1-1l0 0M-290 642l-2-1l-5 13M-270 601l-2-1l-19 41M-258 597l1-3a647 647 0 0 1 -9-4l-5 10M-237 565a613 613 0 0 1 -11-5l-14 32M-243 563l2-3a610 610 0 0 1 -14-6M-248 557l1-3a606 606 0 0 1 -7-3M-233 556a603 603 0 0 1 -16-7l-1 3M-231 554a600 600 0 0 1 -9-4l-1 3M-235 552l1-3a597 597 0 0 1 -17-8M-307 641l-1-1M-296 612l-1-1M-307 641l17-36l-2-1l-4 7M-291 604l1-3l-2-1M-283 594a658 658 0 0 1 -4-2l-4 9M-285 593l1-3a655 655 0 0 1 -4-2M-279 589a651 651 0 0 1 -5-3l-2 3M-306 611l-1-1M-302 607l-2-1l-2 4M-303 607l1-3l-2-1M-316 615l-1 0M-316 615l1-3l-2-1M-316 612l2-3l-2-1M-305 596l-3-1l-7 13M-316 605l-1-1M-306 595l1-2a667 667 0 0 1 -4-2l-8 14M-307 592l2-4a662 662 0 0 1 -4-2M-307 587l6-12l-2-1M-293 575a646 646 0 0 1 -8-4l-1 3M-297 573l2-2a642 642 0 0 1 -6-4M-298 569l1-3a639 639 0 0 1 -4-2M-288 567a636 636 0 0 1 -9-5l-2 3M-292 565l1-3a633 633 0 0 1 -8-4M-295 560l2-3a630 630 0 0 1 -5-2M-303 603l22-43a626 626 0 0 1 -13-7l-2 3M-277 558a623 623 0 0 1 -9-4l-2 2M-275 556a620 620 0 0 1 -5-3l-2 3M-272 554a617 617 0 0 1 -4-2l-1 3M-282 587l17-34a614 614 0 0 1 -8-3l-1 3M-269 552l1-3a610 610 0 0 1 -22-12M-259 549a607 607 0 0 1 -18-9l-2 3M-268 545l1-3a604 604 0 0 1 -21-11M-256 544a601 601 0 0 1 -20-10l-2 2M-253 541a598 598 0 0 1 -12-5l-1 3M-259 539l1-3a594 594 0 0 1 -26-14M-271 529l10-19a573 573 0 0 1 -14-8M-236 505a558 558 0 0 1 -25-12l-7 13M-243 545l18-38a554 554 0 0 1 -22-11l-1 3M-205 496a537 537 0 0 1 -24-11l-7 17M-203 493a533 533 0 0 1 -13-5l-1 3M-243 599l43-108a530 530 0 0 1 -8-4l-1 3M-204 489l1-3a527 527 0 0 1 -51-24M-228 475l1-3a524 524 0 0 1 -26-13M-233 609l47-123a521 521 0 0 1 -53-23l-1 2M-183 484a517 517 0 0 1 -28-12l-2 3M-166 441a471 471 0 0 1 -14-6l-17 43M-333 591l-1-1M-330 588l-1-1l-2 4M-353 619l-1-1M-356 618l-1-1M-357 617l8-14l-1-1M-343 598l-3-2l-3 7M-353 619l28-49l-3-2l-16 29M-322 568l-3-2l-2 3M-324 567l2-3a650 650 0 0 1 -5-3M-325 563l2-3a646 646 0 0 1 -4-2M-325 559l2-3l-3-2M-331 588l17-30a640 640 0 0 1 -9-6l-2 3M-318 555l1-3a637 637 0 0 1 -7-4M-320 550l1-2a634 634 0 0 1 -4-3M-321 546l2-2l-3-2M-321 543l4-8l-2-1M-318 535l9-14l-3-2M-294 526a602 602 0 0 1 -15-9l-2 3M-301 522l1-3a599 599 0 0 1 -9-6M-283 508a582 582 0 0 1 -12-7l-9 15M-289 505l2-3a578 578 0 0 1 -12-7M-268 483a552 552 0 0 1 -12-7l-13 22M-372 601l-1-1M-380 609l-1 0M-373 601l2-3l-2-1l-8 12M-369 587l-1-1M-372 597l26-42l-3-2l-20 33M-385 606l-1-1M-350 553l-2-1l-34 54M-347 554l1-2a651 651 0 0 1 -3-3l-2 3M-340 551a648 648 0 0 1 -6-3l-1 3M-343 550l2-3a645 645 0 0 1 -7-4M-336 546a641 641 0 0 1 -7-4l-1 3M-333 544a638 638 0 0 1 -5-2l-1 2M-330 542a635 635 0 0 1 -4-2l-1 3M-280 462l-2-2l-50 81M-380 590l-1-1M-380 590l10-16l-1-1M-375 567l-1 0M-374 559l-1 0M-371 557l-1-1l-2 3M-372 557l2-3l-2-1M-375 567l20-31l-3-2l-13 19M-352 534l-3-2l-1 3M-395 582l-1-1M-405 593l-1-1M-395 581l6-9l-2-1l-15 21M-385 570l-3-1l-2 2M-387 569l29-42l-3-2M-353 533l9-13a624 624 0 0 1 -8-5l-8 11M-340 519a621 621 0 0 1 -6-4l-2 3M-405 581l-1-1M-389 561l-2-1l-14 21M-386 559l-2-1l-2 2M-387 558l14-20l-3-2M-343 517l1-3a617 617 0 0 1 -11-8l-22 31M-336 514a614 614 0 0 1 -10-6l-1 2M-341 511l19-29a580 580 0 0 1 -12-8M-314 483a576 576 0 0 1 -12-8l-2 3M-320 479l2-2a573 573 0 0 1 -13-9M-325 472l2-2a570 570 0 0 1 -7-5M-326 467l3-4a564 564 0 0 1 -4-3M-371 573l67-103a560 560 0 0 1 -19-12l-2 3M-313 464l5-8a551 551 0 0 1 -12-8M-281 461l5-9a530 530 0 0 1 -26-17l-12 17M-274 480l13-22a527 527 0 0 1 -27-17l-1 3M-173 438l1-3a468 468 0 0 1 -72-36l-31 51M-419 583l-1-1M-385 536l-1-1l-34 47M-389 536l-1-1M-425 578l-2 0M-426 578l3-4l-2-1M-424 573l18-24l-2-1M-381 519l-3-2l-23 32M-378 517l-2-1l-2 2M-421 564l-1-1M-421 563l17-23l-1-1M-379 517l2-3a638 638 0 0 1 -5-4l-23 30M-380 512l2-3a634 634 0 0 1 -4-3M-380 508l2-3l-3-2M-389 536l20-28a628 628 0 0 1 -9-6l-2 2M-373 505l2-3a625 625 0 0 1 -7-5M-385 536l22-31a622 622 0 0 1 -10-8l-2 3M-419 534l-1-1M-420 534l2-3l-1-1M-414 529l-2-2l-3 4M-432 544l-1-1M-432 544l17-22l-1-1M-415 528l5-6a663 663 0 0 1 -4-3l-2 2M-406 521a660 660 0 0 1 -4-3l-2 2M-447 545l-1 0M-428 524l-1-1l-18 22M-425 522l-1-1l-2 2M-422 520l-2-1l-2 2M-419 519l-2-2l-2 3M-416 517l-2-2l-2 3M-397 495l-2-1l-18 22M-398 495l2-3a632 632 0 0 1 -6-5M-459 552l-1-1M-459 552l13-16l-1-2M-447 535l2-2l-1-2M-455 536l-1-1M-452 534l-1-1l-2 3M-443 526l-2-1l-8 9M-445 532l17-21l-3-2l-13 16M-409 494a642 642 0 0 1 -4-3l-16 19M-411 493l2-3a638 638 0 0 1 -6-5M-399 490l8-11a618 618 0 0 1 -8-7l-13 16M-424 494l-1-1M-395 476l31-38a570 570 0 0 1 -7-6l-53 62M-368 435l4-4a565 565 0 0 1 -5-4M-474 539l-1-1M-470 536l-1-1l-4 4M-452 509l-1-1M-453 509l2-3l-1-1M-482 533l0-1M-482 532l10-11l-2-1M-469 520l-2-2l-2 3M-461 514l-2-2l-7 7M-484 530l-1-1M-462 513l2-2a688 688 0 0 1 -4-4l-21 23M-462 509l22-25a654 654 0 0 1 -3-3M-441 483l2-3l-2-2M-451 506l24-28a641 641 0 0 1 -7-6l-6 7M-423 478a638 638 0 0 1 -5-5l-2 2M-425 475l2-2a635 635 0 0 1 -8-7M-427 469l2-2a631 631 0 0 1 -5-5M-471 536l74-84a602 602 0 0 1 -11-9l-20 22M-394 451a599 599 0 0 1 -6-6l-2 3M-397 448l2-2a595 595 0 0 1 -11-11M-389 447a592 592 0 0 1 -9-9l-3 3M-394 443l3-3a589 589 0 0 1 -12-10M-384 443a586 586 0 0 1 -11-10l-2 2M-367 429l2-2a561 561 0 0 1 -8-7l-16 18M-408 519l63-80a558 558 0 0 1 -22-18l-2 2M-340 438a555 555 0 0 1 -14-10l-2 2M-338 436a552 552 0 0 1 -7-5l-2 2M-342 434l6-8a542 542 0 0 1 -35-31M-354 411l2-2a539 539 0 0 1 -18-17M-498 517l-1-1M-498 517l0 0l-2-1M-499 516l10-10l-2-2M-479 499l-2-3l-9 9M-480 498l2-3l-3-2M-473 495a685 685 0 0 1 -4-3l-2 2M-470 494a682 682 0 0 1 -3-3l-2 2M-433 456l-2-2l-37 38M-427 452l-2-2l-5 5M-428 451l6-7a613 613 0 0 1 -7-6M-425 441l2-3a609 609 0 0 1 -4-4M-508 508l-1-1M-508 507l0 0l-2-1M-480 482l-2-2l-27 27M-449 452l-2-2l-30 31M-446 450l-1-1l-3 2M-443 449l-1-2l-3 3M-425 436l2-2a606 606 0 0 1 -3-4l-18 18M-488 483l-1-1M-488 482l19-19l-1-1M-509 495l-1-1M-510 495l3-3l-2-1M-494 482l-2-2l-12 12M-495 481l27-27l-2-2M-469 453l9-9l-1-2M-460 443l2-2l-2-2M-452 443a633 633 0 0 1 -5-5l-2 2M-454 440l10-10a618 618 0 0 1 -3-4M-446 428l3-2a615 615 0 0 1 -3-3M-470 463l39-38a606 606 0 0 1 -7-7l-7 6M-424 432l2-2a602 602 0 0 1 -10-11l-3 3M-427 425l2-3a599 599 0 0 1 -10-10M-430 417l49-47a531 531 0 0 1 -5-6M-361 401l18-20a513 513 0 0 1 -28-27l-13 13M-357 368l2-2a510 510 0 0 1 -17-17M-363 357l2-2a507 507 0 0 1 -9-9M-527 478l-1-1M-528 478l3-2l-2-2M-526 475l2-2l-1-2M-524 472l20-19l-1-1M-478 435a646 646 0 0 1 -3-3l-24 21M-480 433l3-2a643 643 0 0 1 -3-3M-473 432a640 640 0 0 1 -3-5l-3 3M-469 430a637 637 0 0 1 -3-3l-2 3M-466 429l-2-2l-3 2M-467 428l6-6a625 625 0 0 1 -6-7M-455 420a619 619 0 0 1 -5-5l-4 3M-457 417l12-11a603 603 0 0 1 -6-7M-542 461l0-1M-528 451l-1-2l-13 12M-524 450l-2-2l-2 2M-521 448l-2-1l-2 2M-518 447l-2-1l-2 2M-515 446l-1-2l-3 2M-512 445l-1-2l-3 2M-548 463l-1-1M-548 463l40-34l-1-1M-512 444l12-11a662 662 0 0 1 -6-7l-3 2M-503 430l2-2a659 659 0 0 1 -4-5M-494 431a655 655 0 0 1 -7-8l-2 2M-491 430a652 652 0 0 1 -4-5l-2 2M-487 428a649 649 0 0 1 -3-3l-3 2M-489 427l20-18a622 622 0 0 1 -9-10M-464 410a619 619 0 0 1 -7-8l-3 2M-468 406l3-2a616 616 0 0 1 -9-10M-448 403l2-2a599 599 0 0 1 -11-13l-13 11M-411 381a560 560 0 0 1 -11-13l-29 26M-416 375l2-3a557 557 0 0 1 -15-17M-551 453l-1-1M-515 425l-1-2l-35 29M-422 364l3-2a554 554 0 0 1 -9-10l-87 72M-559 450l-1-1M-519 419l-1-1l-40 32M-520 419l3-3l-2-2M-548 433l-1-1M-533 422l-1-1l-15 12M-533 422l2-2l-1-2M-527 419l-2-2l-2 2M-518 415l18-14l-2-3l-26 20M-501 399l2-2a638 638 0 0 1 -3-4M-493 399a634 634 0 0 1 -5-6l-2 2M-495 396l2-2a631 631 0 0 1 -5-6M-568 439l-1-1M-551 428l-1-2l-16 13M-551 427l20-16l-2-2M-495 391l2-2a628 628 0 0 1 -4-6l-35 27M-495 386l2-2a625 625 0 0 1 -3-4M-494 382l28-22l-2-3M-454 369a585 585 0 0 1 -10-13l-3 2M-451 368a582 582 0 0 1 -6-7l-2 2M-454 364l3-2a579 579 0 0 1 -10-12M-456 356l10-7a566 566 0 0 1 -6-7M-449 345l8-6a557 557 0 0 1 -4-4M-443 337l2-2l-2-2M-423 357l2-2a551 551 0 0 1 -18-23l-3 2M-430 344l2-2a547 547 0 0 1 -10-14M-577 427l-1-1M-566 421l-1-1l-10 7M-570 418l-1-1M-570 417l2-2l-1-1M-564 415l-2-2l-2 1M-567 420l48-36l-2-3l-44 33M-520 383l3-2a642 642 0 0 1 -3-4M-582 420l-1-1M-582 420l0-1l-1-1M-583 419l3-2l-1-2M-519 379l10-7a631 631 0 0 1 -4-5l-68 49M-503 375a628 628 0 0 1 -6-7l-2 2M-506 372l3-2a624 624 0 0 1 -6-8M-506 366l3-2a621 621 0 0 1 -4-5M-505 362l2-2l-2-3M-504 358l3-2l-2-2M-433 335l11-9a533 533 0 0 1 -14-18l-66 47M-429 317l4-3a528 528 0 0 1 -7-11M-385 357a525 525 0 0 1 -41-50l-3 2M-406 333l2-2a522 522 0 0 1 -24-32M-577 396l-1-1M-542 373l-1-2l-35 24M-594 403l-1-1M-595 402l35-23l-1-1M-561 378l15-9l-1-2M-542 369l-2-3l-3 2M-543 368l3-2a653 653 0 0 1 -3-4M-542 372l7-5a649 649 0 0 1 -4-5l-3 2M-532 367a646 646 0 0 1 -2-4l-3 2M-533 365l3-2a643 643 0 0 1 -5-7M-526 364a640 640 0 0 1 -4-6l-3 2M-528 361l19-13a617 617 0 0 1 -5-7M-504 351a614 614 0 0 1 -5-8l-3 2M-416 315l15-11a503 503 0 0 1 -14-20l-92 63M-366 341a500 500 0 0 1 -40-49l-2 2M-366 351l26-24a472 472 0 0 1 -25-28l-21 18M-286 371a469 469 0 0 1 -64-60l-3 2M-284 369a465 465 0 0 1 -34-29l-2 3M-281 367a462 462 0 0 1 -18-14l-2 2M-270 355a446 446 0 0 1 -10-8l-10 13M-368 501l106-144a443 443 0 0 1 -11-9l-2 3M-208 419l12-25a440 440 0 0 1 -70-44l-2 3M-232 373l2-2a436 436 0 0 1 -134-131M-304 313l2-2a433 433 0 0 1 -60-73M-589 380l0-1M-568 368l-1-2l-20 13M-563 366l-1-1l-4 2M-604 381l-1-1M-595 377l-1-2l-8 6M-595 376l11-7l-1-3M-573 364l-2-3l-10 7M-568 362l-1-2l-5 3M-570 355l-1-1M-569 361l49-30a616 616 0 0 1 -3-5l-47 29M-591 362l-1-1M-588 361l-1-2l-3 2M-589 360l9-5l-1-2M-576 355l-2-3l-3 2M-577 354l3-2a674 674 0 0 1 -2-4M-575 350l26-16l-1-3M-588 353l-1-1M-550 333l3-2l-2-3l-40 24M-524 324a616 616 0 0 1 -4-6l-20 12M-522 328l3-2a613 613 0 0 1 -4-7l-3 2M-514 329a610 610 0 0 1 -5-8l-2 2M-617 367l-1-1M-516 325l3-2a607 607 0 0 1 -9-13l-95 57M-564 365l57-37a604 604 0 0 1 -8-13l-3 2M-511 322l3-2a600 600 0 0 1 -9-15M-513 313l3-2a597 597 0 0 1 -5-8M-512 307l2-2a594 594 0 0 1 -3-5M-453 296a541 541 0 0 1 -12-20l-46 27M-459 286l3-2a537 537 0 0 1 -8-13M-447 293a534 534 0 0 1 -11-17l-2 1M-334 276l3-2a430 430 0 0 1 -33-45l-88 55M-45 449l3-24a427 427 0 0 1 -304-175l-2 2M64 419a424 424 0 0 1 -275-52l-2 3M64 415a420 420 0 0 1 -141-2l-1 3M64 412a417 417 0 0 1 -71 5l0 3M65 409a414 414 0 0 1 -36 4l0 3M47 411l-1-3a411 411 0 0 1 -401-202M-184 367l1-3a408 408 0 0 1 -170-160M-280 297l3-3a404 404 0 0 1 -73-92M52 325a330 330 0 0 1 -311-121l-58 47M-607 343l-1-1M-607 342l8-4l-1-2M-600 337l38-21l-1-2M-562 315l12-7l-1-2M-551 307l3-1l-1-2M-549 305l6-3l-1-2M-543 301l3-2l-1-2M-535 303a614 614 0 0 1 -3-6l-3 1M-531 302a611 611 0 0 1 -3-4l-2 2M-618 336l-1-1M-619 336l28-15l-1-2M-587 321l-1-2l-3 1M-588 320l28-15l-1-3M-618 330l-1-2M-615 329l-1-1l-3 1M-601 318l-1-1M-615 328l81-43l-2-2l-66 34M-561 303l31-16a603 603 0 0 1 -2-5l-3 2M-532 300l27-15a580 580 0 0 1 -6-11l-20 11M-501 286a577 577 0 0 1 -4-8l-3 1M-639 307l-1-1M-639 307l39-19l-1-2M-596 288l-2-2l-2 1M-592 287l-1-2l-4 2M-592 286l3-2a654 654 0 0 1 -2-4M-586 285l-1-4l-3 1M-582 285l-2-3l-2 1M-624 292l-1-1M-624 291l3-1l-1-2M-622 289l3-1l-1-2M-615 289l-1-3l-3 1M-616 287l3-1l-1-4M-614 284l45-21l-1-2M-564 266a624 624 0 0 1 -3-5l-3 1M-565 264l27-13a593 593 0 0 1 -2-5M-583 283l52-25a590 590 0 0 1 -5-11l-3 1M-527 259a587 587 0 0 1 -4-8l-2 1M-510 252a569 569 0 0 1 -2-5l-17 8M-507 251l-1-3l-3 1M-507 249l8-4a556 556 0 0 1 -7-16M-495 246a552 552 0 0 1 -4-10l-3 1M-632 282l0-1M-632 282l33-15l-1-2M-587 264l-1-3l-11 5M-579 261l-1-2l-8 3M-580 260l18-8l-1-4M-497 241l20-10a530 530 0 0 1 -7-16l-78 35M-614 265l0-1M-584 254l-1-2l-29 13M-621 261l0-1M-605 255l0-1l-16 6M-605 254l8-3l-1-2M-593 252l-2-3l-3 1M-594 250l3-1a641 641 0 0 1 -2-4M-587 250a638 638 0 0 1 -2-4l-3 1M-557 239l-2-3l-29 12M-558 237l3-1a603 603 0 0 1 -3-6M-556 233l9-4a593 593 0 0 1 -2-4M-584 253l42-19a590 590 0 0 1 -3-8l-3 1M-538 235a587 587 0 0 1 -2-6l-3 1M-535 234l-1-3l-3 1M-535 232l3-1a580 580 0 0 1 -6-12M-535 225l3-1a577 577 0 0 1 -3-7M-631 249l0-1M-627 249l-1-1l-3 1M-624 249l0-2l-3 2M-620 249l-1-2l-3 1M-621 248l3-1l-1-4M-614 248a662 662 0 0 1 -2-4l-3 1M-615 246l3-1a659 659 0 0 1 -2-6M-613 242l59-23l-1-4M-534 221l44-19a530 530 0 0 1 -4-9l-61 24M-481 223l3-1a527 527 0 0 1 -11-25l-3 1M-484 209l3-1a524 524 0 0 1 -8-20M-466 233a521 521 0 0 1 -16-36l-3 1M-474 215l3-1a517 517 0 0 1 -12-29M-459 231a514 514 0 0 1 -15-33l-3 2M-456 230a511 511 0 0 1 -8-17l-3 2M-453 229a508 508 0 0 1 -4-9l-3 2M-455 225l3-2a505 505 0 0 1 -19-43M-672 254l0-1M-672 253l76-29l0-1M-663 245l0-1M-663 244l24-8l0-2M-639 235l3-1l-1-2M-637 233l11-4l-1-2M-627 228l23-8l-1-2M-605 219l3-1l-1-2M-597 222a637 637 0 0 1 -2-6l-3 1M-596 224l3-1a634 634 0 0 1 -2-5l-3 1M-589 224a630 630 0 0 1 -2-5l-3 1M-663 236l-1-1M-590 221l16-6a613 613 0 0 1 -4-10l-86 31M-576 210l3-1a610 610 0 0 1 -2-6M-462 202l3-1a501 501 0 0 1 -13-32l-102 37M-444 226a498 498 0 0 1 -19-42l-3 1M-454 205l3-1a495 495 0 0 1 -16-40M-438 224a492 492 0 0 1 -19-41l-3 1M-435 223a489 489 0 0 1 -10-21l-3 1M-431 222a485 485 0 0 1 -6-11l-3 2M-428 222a482 482 0 0 1 -3-7l-3 2M-407 211l-2-3l-21 10M-648 223l-1-1M-677 229l-1-1M-656 223l0-1l-21 7M-649 223l3-1l-1-3l-9 3M-681 228l0-1M-681 227l0 0l-1-2M-681 226l47-15l-1-2M-660 215l-1-2M-661 214l8-3l0-1M-639 209l-1-3l-13 5M-639 208l3-1l-1-4M-634 210l55-19a610 610 0 0 1 -2-4l-56 18M-646 220l72-24a607 607 0 0 1 -3-8l-3 1M-575 192l3-1a603 603 0 0 1 -3-9M-574 187l3-1a600 600 0 0 1 -1-5M-564 195a597 597 0 0 1 -5-13l-3 1M-561 195a594 594 0 0 1 -2-7l-3 1M-408 210l3-2a455 455 0 0 1 -26-61l-131 45M-401 209a452 452 0 0 1 -15-32l-3 1M-398 208a449 449 0 0 1 -8-16l-3 1M-402 200l3-1a446 446 0 0 1 -26-66M-503 282l121-68a438 438 0 0 1 -24-50l-7 3M-377 216a435 435 0 0 1 -15-28l-3 1M-664 197l-1-1M-665 196l34-10l0-1M-606 181l-1-3l-24 8M-690 199l0-1M-687 200l0-2l-3 1M-687 199l44-13l0-3M-643 185l55-16l-1-2M-588 168l3-1l-1-2M-606 179l25-7a605 605 0 0 1 -2-7l-3 1M-577 173a602 602 0 0 1 -1-5l-4 0M-578 170l3-1a599 599 0 0 1 -2-8M-570 172a596 596 0 0 1 -3-8l-3 1M-572 168l4-1a593 593 0 0 1 -3-9M-564 171a589 589 0 0 1 -3-9l-3 1M-531 163a556 556 0 0 1 -2-6l-32 10M-693 190l0-2M-693 186l-1-1M-694 185l23-6l0-2M-671 178l8-2l0-2M-663 175l17-4l0-2M-615 166a638 638 0 0 1 -2-4l-29 8M-693 189l99-27l-1-4l-21 6M-590 163l-1-4l-3 1M-678 172l-1-1M-675 172l0-2l-3 1M-645 166l0-2l-30 7M-645 165l8-2l-1-4M-608 157l-1-3l-29 7M-608 156l3-1a625 625 0 0 1 -1-5M-591 161l50-14a561 561 0 0 1 -3-10l-62 15M-542 142l5-1a556 556 0 0 1 -3-8M-532 160l3-1a552 552 0 0 1 -6-23l-4 1M-532 148l3-1a549 549 0 0 1 -5-17M-532 138l4 0a546 546 0 0 1 -3-9M-530 133l4-1a543 543 0 0 1 -2-5M-527 130l3-1l-1-4M-524 127l3-1l-1-2M-510 157a533 533 0 0 1 -9-33l-3 1M-506 157a530 530 0 0 1 -5-17l-3 1M-509 148l3-1a527 527 0 0 1 -7-27M-500 156a524 524 0 0 1 -6-23l-4 1M-503 144l3 0a520 520 0 0 1 -7-26M-504 131l18-5a502 502 0 0 1 -3-13M-385 202l45-23a385 385 0 0 1 -33-87l-115 28M-680 152l0-1M-680 152l22-5l-1-2M-658 146l8-2l-1-2M-650 143l3-1l-1-2M-647 141l3 0l-1-2M-618 140a634 634 0 0 1 -1-6l-26 6M-682 145l0-1M-682 145l7-2l-1-1M-676 142l33-6l-1-2M-643 135l3-1l-1-2M-641 133l4-1l-1-2M-651 129l-1-1M-697 136l0-1M-651 129l16-4l0-2l-62 12M-630 126l0-3l-5 1M-686 128l-1-2M-687 127l4-1l-1-1M-660 124l0-3l-24 5M-660 123l17-4l-1-3M-640 121l0-4l-4 1M-640 119l3 0a648 648 0 0 1 -1-5M-637 116l3 0l-1-4M-593 113a603 603 0 0 1 -1-6l-41 7M-593 110l3-1a600 600 0 0 1 -1-5M-591 106l4 0l-1-4M-588 104l3-1l0-3M-630 125l62-12a579 579 0 0 1 -3-14l-14 3M-570 106l4-1a576 576 0 0 1 -2-9M-562 114a573 573 0 0 1 -2-14l-3 1M-638 131l80-16a570 570 0 0 1 -2-9l-3 1M-619 137l66-15a567 567 0 0 1 -3-12l-3 1M-555 116l4 0a563 563 0 0 1 -5-23M-554 104l4 0a560 560 0 0 1 -3-12M-552 98l4-1a557 557 0 0 1 -2-7M-641 101l-1-1M-638 101l0-1l-4 0M-638 101l3-1l0-2M-621 100l-1-3l-13 2M-614 100l-1-3l-7 1M-549 94l38-7a518 518 0 0 1 -1-5l-103 17M-502 114a515 515 0 0 1 -6-30l-3 1M-499 114a512 512 0 0 1 -3-15l-3 0M-501 107l4-1a509 509 0 0 1 -6-30M-679 99l0-1M-675 100l0-2l-4 1M-675 99l23-3l-1-3M-653 95l4-1l-1-2M-650 93l4 0l-1-3M-643 96l0-5l-4 0M-643 94l3-1a647 647 0 0 1 -1-5M-700 94l0-1M-700 93l20-2l0-2M-680 90l33-5l-1-2M-648 84l8-1l0-2M-631 86a637 637 0 0 1 -1-5l-8 1M-631 84l3-1l-1-4M-629 81l4 0l-1-4M-626 79l10-1l0-3M-640 91l55-8a591 591 0 0 1 -2-10l-29 3M-586 78l29-4a562 562 0 0 1 -1-7M-557 70l23-2l0-5M-534 65l3 0l0-3M-500 91l34-6a473 473 0 0 1 -4-29l-61 7M-360 136l64-24a317 317 0 0 1 -17-65l-155 24M-709 75l0-1M-705 76l-1-2l-3 0M-706 75l67-7l0-2M-636 70l0-4l-3 1M-684 66l0-1M-659 65l0-2l-25 3M-659 64l5 0l0-3M-651 66l0-4l-3 1M-636 68l83-9a556 556 0 0 1 -1-5l-97 10M-553 57l3-1a553 553 0 0 1 -1-5M-709 64l0-1M-550 54l4-1l0-4l-163 14M-712 60l0-1M-712 60l32-3l0-2M-626 54l0-2l-54 4M-626 53l4 0l-1-3M-706 54l0-1M-706 53l3 0l0-2M-703 52l64-5l0-2M-618 48l0-3l-21 1M-623 51l39-3l0-4l-34 2M-584 46l28-2a557 557 0 0 1 0-6M-546 51l24-2a524 524 0 0 1 -1-10l-33 2M-522 44l3-1a521 521 0 0 1 -1-8M-515 57a518 518 0 0 1 -1-18l-3 0M-701 45l0-1M-641 42l0-2l-60 4M-516 48l4 0a515 515 0 0 1 -2-15l-127 8M-513 40l3 0a511 511 0 0 1 0-9M-505 57a508 508 0 0 1 -2-22l-3 1M-714 39l0-1M-646 37l0-2l-68 4M-680 30l0-1M-677 31l0-1l-3 0M-662 32l0-2l-15 1M-638 32l0-2l-24 1M-623 32l0-2l-15 1M-718 26l0-1M-689 26l0-2l-29 1M-645 25l0-1l-44 1M-597 25l0-2l-48 2M-623 31l46-2a578 578 0 0 1 0-6l-20 1M-577 26l3 0a574 574 0 0 1 0-7M-574 22l3 0l0-4M-571 20l3 0l0-3M-568 18l3 0l0-3M-715 10l0-2M-715 9l62-1l0-1M-631 10l0-3l-22 0M-619 10l0-2l-12 0M-718 0l0-2M-662 1l0-2l-56 0M-656 2l0-2l-6 0M-647 3l0-2l-9 0M-647 2l3 0l0-5M-604 4l0-4l-40 0M-716-12l0-1M-669-10l0-1l-47-1M-669-10l28 0l0-3M-641-11l3 0l0-3M-635-8l0-4l-3 0M-635-10l4 0l0-5M-631-12l3 0l0-4M-595-6a595 595 0 0 1 0-7l-33-1M-595-10l3 0a592 592 0 0 1 0-6M-589-5a589 589 0 0 1 0-8l-3 0M-589-9l4 0a586 586 0 0 1 0-8M-582-4a582 582 0 0 1 0-9l-3 0M-579-3l0-5l-3-1M-579-6l47 1a532 532 0 0 1 0-11M-604 2l78 0a526 526 0 0 1 0-13l-6 0M-526-4l4 0a523 523 0 0 1 0-13M-516 4a516 516 0 0 1 0-14l-6-1M-619 9l122-2a497 497 0 0 1 0-10l-19 0M-494 9a494 494 0 0 1 0-7l-3 0M-491 10l0-4l-3 0M-694-23l0-1M-694-24l17 1l0-2M-491 8l3 0a488 488 0 0 1 1-25l-190-7M-488-5l3 0a485 485 0 0 1 1-14M-481 11a481 481 0 0 1 0-23l-3 0M-481-1l3 0a478 478 0 0 1 0-18M-478-10l3 0a475 475 0 0 1 0-10M-475-15l3 0a472 472 0 0 1 1-6M-471-18l3 0l0-3M-468-20l3 1l0-3M-465-21l3 0l0-2M-459 11a459 459 0 0 1 1-32l-4-1M-459-5l3 0a456 456 0 0 1 1-18M-452 12a453 453 0 0 1 0-26l-4 0M-565 17l116-4a449 449 0 0 1 0-14l-4 0M-646 36l201-11a446 446 0 0 1 -1-19l-3 0M-446 15l3 0a443 443 0 0 1 1-38M-639-36l0-1M-639-36l6 0l0-2M-633-37l36 2l0-2M-680-43l0-1M-688-47l0-1M-685-46l0-1l-3-1M-685-47l4 1l0-3M-680-44l98 7l1-4l-100-7M-597-36l32 2l0-4l-17-1M-562-31l0-5l-3 0M-443-4l3 0a440 440 0 0 1 1-22l-123-7M-436 26a437 437 0 0 1 0-41l-4 0M-437 5l79-1a358 358 0 0 1 1-30M-506 46l152-14a355 355 0 0 1 -1-43l-3 0M-293 34a295 295 0 0 1 -2-25l-60 2M-690-62l0-1M-690-62l3 0l0-2M-687-63l43 4l0-2M-641-56l0-4l-3 0M-641-58l45 4l1-3M-672-69l0-2M-665-77l0-1M-662-75l0-2l-3-1M-655-73l0-2l-7-1M-687-83l1-1M-646-77l0-2l-41-5M-646-78l18 2l0-2M-655-74l70 8a588 588 0 0 1 1-6l-44-5M-584-69l3 0l1-4M-578-64a582 582 0 0 1 0-7l-3 0M-578-67l3 0a579 579 0 0 1 1-7M-666-88l0-1M-655-85l0-2l-11-1M-574-70l3 0l0-5l-84-11M-569-62a572 572 0 0 1 1-10l-3 0M-568-67l3 0a569 569 0 0 1 1-9M-681-94l0-2M-681-95l3 0l0-1M-678-95l3 0l1-2M-630-86l0-4l-44-6M-565-71l21 2a548 548 0 0 1 1-7l-87-12M-544-72l4 0a545 545 0 0 1 1-7M-539-58a542 542 0 0 1 2-17l-3 0M-672-70l136 14a539 539 0 0 1 1-10l-3 0M-533-54a536 536 0 0 1 1-6l-3-1M-530-53l1-4l-3 0M-530-55l4 0a529 529 0 0 1 2-22M-525-66l3 0a526 526 0 0 1 2-12M-662-102l0-2M-664-106l0-1M-664-107l32 5l0-1M-617-98l0-2l-15-3M-662-103l47 7l1-2l-3-1M-612-94l1-2l-3-1M-611-95l3 0a616 616 0 0 1 1-5M-582-88a588 588 0 0 1 1-5l-27-4M-521-72l3 1a523 523 0 0 1 1-9l-64-10M-517-76l3 1a520 520 0 0 1 2-11M-513-81l3 1a516 516 0 0 1 1-6M-510-83l4 1l0-4M-508-50a510 510 0 0 1 5-34l-3 0M-506-67l4 1a507 507 0 0 1 3-20M-596-56l110 11a488 488 0 0 1 4-28l-19-3M-483-41a485 485 0 0 1 2-18l-3 0M-480-40a481 481 0 0 1 1-10l-3 0M-477-39a478 478 0 0 1 1-6l-3 0M-476-42l3 0a475 475 0 0 1 5-40M-470-38a472 472 0 0 1 2-23l-3-1M-467-37a469 469 0 0 1 1-12l-3-1M-464-36a465 465 0 0 1 1-7l-4 0M-436-33l0-4l-28-2M-657-125l0-1M-657-126l7 2l0-2M-650-125l3 0l1-2M-646-126l36 7l0-2M-610-120l3 1l1-2M-593-112a604 604 0 0 1 1-5l-14-3M-574-107l0-4l-19-4M-571-106l0-2l-3-1M-670-143l1-1M-667-141l1-2l-3-1M-667-142l4 0l0-2M-663-143l5 1l0-2M-605-127l1-4l-54-12M-589-123l0-3l-16-3M-589-124l6 1a596 596 0 0 1 2-6M-701-156l1-2M-701-157l25 6l1-2M-676-152l55 12l0-2M-582-126l15 3a580 580 0 0 1 1-5l-55-13M-565-117a577 577 0 0 1 2-8l-3-1M-692-165l0-1M-689-163l0-1l-3-1M-660-155l0-2l-29-7M-657-153l0-2l-3-1M-657-154l43 10l1-4M-564-130l1-4l-50-12M-564-121l46 10a530 530 0 0 1 2-10l-48-11M-685-169l0-1M-633-155l0-2l-52-13M-693-176l1-1M-658-166l1-2l-35-9M-677-175l1-1M-658-167l66 17l0-3l-84-22M-592-152l3 1l1-3M-587-147a605 605 0 0 1 2-5l-4 0M-633-156l84 21a565 565 0 0 1 1-5l-38-9M-548-137l3 0a562 562 0 0 1 1-6M-543-132a559 559 0 0 1 2-7l-3-1M-542-136l3 1a556 556 0 0 1 2-8M-677-181l0-1M-677-182l9 3l1-2M-538-139l3 1a553 553 0 0 1 1-6l-133-36M-517-116l9 2a521 521 0 0 1 5-19l-31-8M-507-104a517 517 0 0 1 4-19l-3 0M-505-113l3 0a514 514 0 0 1 6-22M-499-124l3 1a511 511 0 0 1 3-12M-494-129l3 0a508 508 0 0 1 2-6M-483-98a493 493 0 0 1 7-30l-14-4M-480-113l21 5a472 472 0 0 1 5-19M-459-92a469 469 0 0 1 5-25l-3 0M-457-105l3 1a465 465 0 0 1 6-22M-451-115l9 3a456 456 0 0 1 3-12M-440-118l5 1a451 451 0 0 1 1-6M-571-107l131 24a448 448 0 0 1 9-36l-4-1M-437-80a444 444 0 0 1 5-20l-4-1M-667-200l0-1M-616-183l1-2l-52-15M-609-180l0-2l-6-2M-656-209l0-1M-637-202l1-1l-20-6M-637-202l38 12l0-3M-669-217l0-1M-599-192l3 1l1-2l-74-24M-585-184l1-4l-12-4M-582-182l1-3l-3-1M-580-180l1-3l-3-1M-579-181l3 1a604 604 0 0 1 2-8M-575-184l3 1a601 601 0 0 1 2-5M-571-186l16 6a583 583 0 0 1 2-4M-539-166a564 564 0 0 1 3-10l-18-6M-538-171l3 1a561 561 0 0 1 3-8M-533-164a558 558 0 0 1 3-9l-3-1M-531-162a555 555 0 0 1 2-5l-3-1M-530-165l3 1a551 551 0 0 1 4-11M-525-159a548 548 0 0 1 3-10l-3-1M-609-181l101 30a530 530 0 0 1 3-7l-18-6M-507-155l3 1a526 526 0 0 1 5-14M-502-147a523 523 0 0 1 4-13l-3-1M-499-146a520 520 0 0 1 2-7l-3-1M-496-144l1-4l-3-1M-496-146l4 1a513 513 0 0 1 6-20M-490-141a510 510 0 0 1 4-13l-3-1M-487-139a506 506 0 0 1 2-8l-3-1M-435-90l5 1a439 439 0 0 1 8-35l-64-19M-429-78a436 436 0 0 1 6-28l-3-1M-426-77a433 433 0 0 1 3-14l-3-1M-425-84l3 1a430 430 0 0 1 15-56M-415-111l19 5a410 410 0 0 1 9-27M-400-71a406 406 0 0 1 11-48l-3-1M-397-70a403 403 0 0 1 5-24l-3-1M-436-35l37 3a400 400 0 0 1 7-50l-3 0M-396-57l3 1a397 397 0 0 1 18-74M-386-93l87 21a307 307 0 0 1 9-29M-295 21l199-14a96 96 0 0 1 4-34l-203-60M-307 80l219-57a91 91 0 0 1 -3-33l-4 0M-120 307l89-227a86 86 0 0 1 -55-74l-5 1M161 308l-123-236a82 82 0 0 1 -104-23l-3 2M345 139l-274-110a77 77 0 0 1 -88 46l-1 5M346-13l-274 10a72 72 0 0 1 -39 67l3 4M381-54l-314 45a67 67 0 0 1 -9 43l4 2M283-171l-230 139a62 62 0 0 1 8 44l5 1M269-261l-228 221a58 58 0 0 1 16 30l4-1M-99-320l83 270a53 53 0 0 1 63 26l4-2M-253-237l218 204a48 48 0 0 1 54-11l2-5" stroke="#9d9da6" stroke-width="1.4" fill="none"/><circle r="510" stroke="#a5a5ad" stroke-width="432" pathLength="36000" stroke-dasharray="0 17331 28 18641" fill="none"/><circle r="528" stroke="#a5a5ad" stroke-width="396" pathLength="36000" stroke-dasharray="0 32624 28 3348" fill="none"/><circle r="552" stroke="#a5a5ad" stroke-width="348" pathLength="36000" stroke-dasharray="0 3666 28 24887 28 4006 28 3357" fill="none"/><circle r="558" stroke="#a5a5ad" stroke-width="336" pathLength="36000" stroke-dasharray="0 21061 28 2870 48 8588 28 3377" fill="none"/><circle r="570" stroke="#a5a5ad" stroke-width="312" pathLength="36000" stroke-dasharray="0 25603 28 10369" fill="none"/><circle r="576" stroke="#a5a5ad" stroke-width="300" pathLength="36000" stroke-dasharray="0 35294 28 678" fill="none"/><circle r="582" stroke="#a5a5ad" stroke-width="288" pathLength="36000" stroke-dasharray="0 1794 28 19966 28 13448 28 708" fill="none"/><circle r="588" stroke="#a5a5ad" stroke-width="276" pathLength="36000" stroke-dasharray="0 11037 28 8507 28 2437 28 3548 28 2930 28 7401" fill="none"/><circle r="594" stroke="#a5a5ad" stroke-width="264" pathLength="36000" stroke-dasharray="0 2172 28 23423 28 2910 28 6406 28 977" fill="none"/><circle r="600" stroke="#a5a5ad" stroke-width="252" pathLength="36000" stroke-dasharray="0 300 28 10719 28 7372 38 9259 28 8228" fill="none"/><circle r="606" stroke="#a5a5ad" stroke-width="240" pathLength="36000" stroke-dasharray="0 1067 28 3995 28 3279 28 6855 28 2551 28 580 28 4419 28 2053 28 620 28 997 28 1038 28 3000 38 5200" fill="none"/><circle r="612" stroke="#a5a5ad" stroke-width="228" pathLength="36000" stroke-dasharray="0 3706 28 9952 28 8423 48 11027 28 2760" fill="none"/><circle r="618" stroke="#a5a5ad" stroke-width="216" pathLength="36000" stroke-dasharray="0 2182 28 3916 28 331 28 2452 28 10520 48 2605 28 690 28 4244 28 7273 28 1377 28 110" fill="none"/><circle r="624" stroke="#a5a5ad" stroke-width="204" pathLength="36000" stroke-dasharray="0 9861 38 1158 28 5171 28 380 28 908 28 2223 28 2995 28 2830 28 1406 28 1357 28 1924 38 271 28 2382 28 2233 28 489" fill="none"/><circle r="630" stroke="#a5a5ad" stroke-width="192" pathLength="36000" stroke-dasharray="0 1057 28 4085 28 6038 28 6047 28 4847 28 371 28 3129 28 5052 28 629 28 1436 28 3029" fill="none"/><circle r="636" stroke="#a5a5ad" stroke-width="180" pathLength="36000" stroke-dasharray="0 4214 28 938 28 739 28 938 28 12900 28 2347 48 8817 28 4891" fill="none"/><circle r="642" stroke="#a5a5ad" stroke-width="168" pathLength="36000" stroke-dasharray="0 5449 28 460 28 5062 28 430 28 5788 28 5246 28 330 28 1795 28 8876 28 411 28 499 38 1336" fill="none"/><circle r="648" stroke="#a5a5ad" stroke-width="156" pathLength="36000" stroke-dasharray="0 1405 28 391 28 499 38 3040 28 470 28 4205 28 1665 28 3468 28 5963 38 1157 28 32 28 888 28 888 38 689 28 2472 28 1008 28 1526 28 5728" fill="none"/><circle r="654" stroke="#a5a5ad" stroke-width="144" pathLength="36000" stroke-dasharray="0 3736 28 1655 28 749 28 958 28 2691 48 9205 28 2178 38 1735 28 1256 28 2293 38 181 28 450 28 3877 28 758 28 3846" fill="none"/><circle r="660" stroke="#a5a5ad" stroke-width="132" pathLength="36000" stroke-dasharray="0 6375 28 1287 28 9295 28 709 28 559 28 869 28 4110 28 539 28 3917 28 3009 28 919 28 1396 28 320 28 889 28 928 28 459" fill="none"/><circle r="666" stroke="#a5a5ad" stroke-width="120" pathLength="36000" stroke-dasharray="0 957 28 5251 28 5191 28 2352 28 3130 28 2033 28 3403 28 191 28 650 28 519 28 1397 28 12 28 1993 28 431 28 639 28 1167 28 1167 28 2054 28 72 28 619 28 1755 28 429" fill="none"/><circle r="672" stroke="#a5a5ad" stroke-width="108" pathLength="36000" stroke-dasharray="0 1714 28 92 28 1217 28 768 28 988 28 988 38 410 38 122 28 2273 28 2780 28 2193 28 580 28 978 28 1804 28 4011 28 1257 28 719 28 141 28 1097 28 889 28 918 28 1317 28 330 28 1745 28 1048 28 251 28 500 27 739 28 1307 28 241 28 1327 28 369" fill="none"/><circle r="678" stroke="#a5a5ad" stroke-width="96" pathLength="36000" stroke-dasharray="0 2132 38 3140 28 559 28 2393 37 1198 28 5977 28 2104 28 5245 28 2303 28 1755 28 1854 28 1476 28 968 28 749 28 201 28 161 28 3318" fill="none"/><circle r="684" stroke="#a5a5ad" stroke-width="84" pathLength="36000" stroke-dasharray="19 2263 28 6137 28 3777 28 41 28 600 28 1536 28 1097 28 1416 28 4140 28 1287 28 390 28 869 28 768 28 1686 28 579 28 869 27 1845 28 659 28 1227 28 2402 28 1834" fill="none"/><circle r="690" stroke="#a5a5ad" stroke-width="72" pathLength="36000" stroke-dasharray="0 569 28 2 28 1804 28 3189 28 331 28 1466 28 1376 28 241 28 1675 28 869 28 11739 28 2382 28 1466 28 540 28 261 28 759 28 659 28 1476 28 1725 28 2939" fill="none"/><circle r="696" stroke="#a5a5ad" stroke-width="60" pathLength="36000" stroke-dasharray="0 419 28 4544 28 1038 28 6505 28 172 28 71 28 6157 28 9190 28 4135 28 1147 28 301 28 2013" fill="none"/><circle r="702" stroke="#a5a5ad" stroke-width="48" pathLength="36000" stroke-dasharray="0 25822 28 10150" fill="none"/><circle r="708" stroke="#a5a5ad" stroke-width="36" pathLength="36000" stroke-dasharray="0 21131 28 14841" fill="none"/><circle r="516" stroke="#9d9da6" stroke-width="420" pathLength="36000" stroke-dasharray="0 19908 15 16077" fill="none"/><circle r="528" stroke="#df4a4e" stroke-width="396" pathLength="36000" stroke-dasharray="0 23993 20 11987" fill="none"/><circle r="528" stroke="#9d9da6" stroke-width="396" pathLength="36000" stroke-dasharray="0 8085 15 27900" fill="none"/><circle r="534" stroke="#9d9da6" stroke-width="384" pathLength="36000" stroke-dasharray="0 21057 15 14258 15 655" fill="none"/><circle r="540" stroke="#9d9da6" stroke-width="372" pathLength="36000" stroke-dasharray="0 6432 15 11967 15 16911 15 645" fill="none"/><circle r="546" stroke="#df4a4e" stroke-width="360" pathLength="36000" stroke-dasharray="0 24003 20 11977" fill="none"/><circle r="546" stroke="#9d9da6" stroke-width="360" pathLength="36000" stroke-dasharray="0 3683 15 2724 15 27469 15 2079" fill="none"/><circle r="552" stroke="#9d9da6" stroke-width="348" pathLength="36000" stroke-dasharray="0 1561 45 25507 15 5483 15 3374" fill="none"/><circle r="558" stroke="#9d9da6" stroke-width="336" pathLength="36000" stroke-dasharray="0 3663 15 28913 15 2714 15 665" fill="none"/><circle r="564" stroke="#df4a4e" stroke-width="324" pathLength="36000" stroke-dasharray="0 19895 20 4038 20 12027" fill="none"/><circle r="564" stroke="#9d9da6" stroke-width="324" pathLength="36000" stroke-dasharray="0 316 15 14656 25 3979 25 11573 15 5396" fill="none"/><circle r="570" stroke="#9d9da6" stroke-width="312" pathLength="36000" stroke-dasharray="0 3693 15 2734 15 1638 25 6857 15 4896 15 16097" fill="none"/><circle r="576" stroke="#9d9da6" stroke-width="300" pathLength="36000" stroke-dasharray="0 8115 25 11738 15 1892 15 1947 15 9168 15 572 25 374 15 1379 15 675" fill="none"/><circle r="582" stroke="#9d9da6" stroke-width="288" pathLength="36000" stroke-dasharray="0 1551 15 224 15 1898 15 2734 15 1598 25 6559 25 333 15 2635 15 622 15 114 15 573 35 2988 15 13231 25 695" fill="none"/><circle r="588" stroke="#9d9da6" stroke-width="276" pathLength="36000" stroke-dasharray="0 6412 15 35 34 1559 15 4656 15 2485 25 1001 15 1579 15 423 15 1270 15 7519 15 3481 15 3511 25 1850" fill="none"/><circle r="588" stroke="#df4a4e" stroke-width="276" pathLength="36000" stroke-dasharray="0 871 20 1275 20 2928 20 30866" fill="none"/><circle r="594" stroke="#9d9da6" stroke-width="264" pathLength="36000" stroke-dasharray="0 5127 15 2126 15 692 15 2724 15 2007 25 2485 15 2595 15 393 25 1270 15 4163 15 1718 25 144 15 1439 15 7127 15 1750" fill="none"/><circle r="594" stroke="#df4a4e" stroke-width="264" pathLength="36000" stroke-dasharray="0 18431 20 17549" fill="none"/><circle r="600" stroke="#9d9da6" stroke-width="252" pathLength="36000" stroke-dasharray="0 854 25 1997 45 5473 15 1429 25 2893 15 5453 45 174 15 523 15 135 15 403 15 4452 15 11969" fill="none"/><circle r="600" stroke="#df4a4e" stroke-width="252" pathLength="36000" stroke-dasharray="0 9855 20 26125" fill="none"/><circle r="606" stroke="#9d9da6" stroke-width="240" pathLength="36000" stroke-dasharray="0 296 15 533 15 4278 15 1250 15 841 15 692 15 7276 35 2585 15 323 15 254 15 3625 15 772 15 5 15 1081 25 931 25 652 25 1439 15 2545 25 871 15 3302 15 1499 15 575" fill="none"/><circle r="606" stroke="#df4a4e" stroke-width="240" pathLength="36000" stroke-dasharray="0 5104 20 25443 20 5413" fill="none"/><circle r="612" stroke="#9d9da6" stroke-width="228" pathLength="36000" stroke-dasharray="0 157 15 154 25 2953 15 1828 15 802 15 1299 35 1668 15 6300 15 752 15 612 15 1181 15 1240 15 2449 15 2425 15 892 35 692 35 4845 15 214 25 2396 15 1787 25 384 25 555" fill="none"/><circle r="612" stroke="#df4a4e" stroke-width="228" pathLength="36000" stroke-dasharray="0 22131 40 8635 20 5174" fill="none"/><circle r="618" stroke="#9d9da6" stroke-width="216" pathLength="36000" stroke-dasharray="0 834 15 1678 15 752 15 10364 25 1608 35 563 15 781 25 404 15 503 15 283 15 593 15 393 25 603 25 254 15 3017 15 1140 15 862 25 752 15 941 15 1917 15 1917 35 1001 15 1061 15 1818 15 981 25 505" fill="none"/><circle r="618" stroke="#df4a4e" stroke-width="216" pathLength="36000" stroke-dasharray="0 1081 20 1812 20 14412 20 10363 20 4024 20 4208" fill="none"/><circle r="624" stroke="#df4a4e" stroke-width="204" pathLength="36000" stroke-dasharray="0 1091 20 17838 20 3211 20 6405 20 2868 20 4343 20 124" fill="none"/><circle r="624" stroke="#9d9da6" stroke-width="204" pathLength="36000" stroke-dasharray="0 346 25 1091 15 1040 15 3153 15 5004 15 1151 25 1807 15 782 15 822 15 533 25 771 15 663 15 801 15 653 15 84 15 195 15 443 35 6075 25 702 15 1250 25 2764 15 2425 15 174 15 284 15 2557" fill="none"/><circle r="630" stroke="#df4a4e" stroke-width="192" pathLength="36000" stroke-dasharray="0 18570 20 3610 30 13770" fill="none"/><circle r="630" stroke="#9d9da6" stroke-width="192" pathLength="36000" stroke-dasharray="0 147 15 493 15 433 15 324 25 1399 15 264 15 1509 15 403 15 55 25 493 15 811 15 712 15 1141 15 592 25 1181 15 1020 15 2077 15 324 15 811 15 165 15 283 15 1290 25 354 25 652 15 822 15 383 15 254 15 6075 15 991 15 493 15 851 15 384 15 1170 15 1937 15 2137 15 234 15 1578 25 1143" fill="none"/><circle r="636" stroke="#9d9da6" stroke-width="180" pathLength="36000" stroke-dasharray="0 824 15 45 15 523 25 363 15 214 15 1101 15 841 35 443 15 264 25 274 25 1101 15 722 15 264 15 353 25 354 15 443 15 1758 15 1917 15 413 15 204 15 533 15 981 15 354 15 1927 35 1947 15 204 15 841 15 6245 15 1808 15 1120 25 752 15 453 25 931 15 1469 15 1230 25 2027 15 107" fill="none"/><circle r="636" stroke="#df4a4e" stroke-width="180" pathLength="36000" stroke-dasharray="0 5662 20 1225 20 289 20 2590 20 18808 20 4323 20 2983" fill="none"/><circle r="642" stroke="#9d9da6" stroke-width="168" pathLength="36000" stroke-dasharray="0 167 15 2166 15 174 15 374 15 64 15 981 15 782 15 244 15 154 15 454 15 1489 15 383 15 812 15 522 15 2914 15 871 15 921 15 304 15 244 25 1031 15 194 15 722 15 304 15 413 35 393 15 115 15 692 15 1041 15 94 25 194 25 125 15 2987 15 643 25 204 15 1429 25 1489 15 612 15 1589 25 712 25 812 15 1608 15 443 15 682 25 105 15 244 15 144 15 284 15 862 15 841 15 137" fill="none"/><circle r="642" stroke="#df4a4e" stroke-width="168" pathLength="36000" stroke-dasharray="0 1818 20 2948 20 1703 20 3356 20 14546 20 7879 20 3630" fill="none"/><circle r="648" stroke="#9d9da6" stroke-width="156" pathLength="36000" stroke-dasharray="0 894 25 114 15 981 15 115 15 164 15 154 15 234 15 792 15 145 15 253 15 195 25 821 15 1878 25 1777 15 1420 15 383 15 105 15 14 15 264 15 5 15 1479 25 533 15 1190 15 1071 15 1469 15 941 45 762 15 134 15 931 15 1892 15 1320 15 204 15 85 15 204 15 1031 24 1499 15 214 25 344 15 65 15 851 15 364 25 64 15 125 15 174 15 792 15 294 15 194 15 2664 15 971 15 403 15 105 25 503 15 1469 25 37" fill="none"/><circle r="648" stroke="#df4a4e" stroke-width="156" pathLength="36000" stroke-dasharray="0 5443 20 5548 20 1504 20 10253 20 129 20 1773 20 2998 20 4542 30 647 20 647 20 956 20 1330" fill="none"/><circle r="654" stroke="#9d9da6" stroke-width="144" pathLength="36000" stroke-dasharray="0 665 15 1698 25 94 15 1220 15 5 15 1041 15 413 15 165 15 35 15 224 15 493 15 592 15 473 25 65 15 194 35 493 15 861 25 493 15 2356 15 194 15 174 15 194 15 563 15 971 25 174 15 732 15 344 15 234 25 124 25 1230 15 981 25 105 15 453 15 74 25 304 25 224 15 523 15 1603 15 294 35 722 35 253 15 334 15 1031 15 3082 15 125 15 941 15 742 15 2963 15 692 15 443 15 75 15 114 15 723 15 84 25 443 25 662 25 264 15 197" fill="none"/><circle r="654" stroke="#df4a4e" stroke-width="144" pathLength="36000" stroke-dasharray="0 9895 20 13242 20 1005 20 11798" fill="none"/><circle r="660" stroke="#9d9da6" stroke-width="132" pathLength="36000" stroke-dasharray="0 137 15 652 25 1569 15 74 15 55 15 125 15 732 15 94 15 1190 15 473 15 145 15 801 25 145 15 403 15 135 15 194 25 373 15 324 25 1459 15 533 25 811 15 204 15 244 15 214 15 5 15 334 15 234 15 981 25 174 25 334 15 592 15 672 25 573 15 204 15 95 15 184 25 204 25 104 25 553 15 1021 25 473 15 294 15 3635 15 1548 15 1111 15 164 15 3830 25 313 15 165 15 134 35 3770 15 74 25 1051 15 105 25 781 15 207" fill="none"/><circle r="660" stroke="#df4a4e" stroke-width="132" pathLength="36000" stroke-dasharray="0 2545 20 15577 20 5363 20 627 20 478 20 3686 20 5398 20 1713 20 453" fill="none"/><circle r="666" stroke="#df4a4e" stroke-width="120" pathLength="36000" stroke-dasharray="0 304 20 5617 20 3576 20 7460 20 5562 20 1135 20 996 20 827 20 169 20 1922 20 448 20 2271 20 299 20 627 20 3147 20 339 20 249 20 249 20 443" fill="none"/><circle r="666" stroke="#9d9da6" stroke-width="120" pathLength="36000" stroke-dasharray="0 117 25 35 15 244 25 134 15 503 15 65 25 1469 15 682 15 55 15 74 15 204 35 1111 15 333 15 125 15 114 15 603 15 841 25 384 15 284 44 623 15 423 15 204 15 1270 25 224 15 234 15 433 15 194 15 25 25 294 25 55 15 164 15 1339 15 1270 15 194 15 75 15 633 15 64 15 284 15 164 25 65 15 75 25 473 15 1030 15 1200 15 215 15 44 15 244 25 65 25 3376 15 543 25 1558 15 553 15 712 15 622 15 25 15 75 15 1808 15 622 15 1688 15 174 15 85 15 194 15 682 25 25 15 75 25 1061 15 214 15 383 15 144 35 145 15 54 15 752 15 187" fill="none"/><circle r="672" stroke="#df4a4e" stroke-width="108" pathLength="36000" stroke-dasharray="0 523 20 418 20 817 20 537 20 3865 20 657 20 478 20 2430 20 30 20 528 20 578 20 537 20 2869 20 757 20 3625 20 169 20 20 20 2196 20 647 20 80 40 49 20 1464 20 199 20 349 20 99 30 1176 20 906 20 388 20 677 20 200 20 637 20 269 20 896 20 847 20 189 20 89 40 628 20 129 30 358 20 877 20 319 20 717 20 1877" fill="none"/><circle r="672" stroke="#9d9da6" stroke-width="108" pathLength="36000" stroke-dasharray="0 744 25 414 15 15 15 74 15 603 15 543 15 273 15 55 35 294 25 94 15 2465 15 314 15 792 15 473 15 134 15 194 15 135 15 433 15 682 25 154 25 135 15 313 25 802 15 433 15 274 15 324 15 453 15 214 25 1001 15 85 15 184 25 64 15 274 25 433 25 145 15 164 15 204 15 55 25 483 15 821 15 603 15 463 15 334 15 951 15 234 15 54 15 543 15 1703 15 124 15 65 15 55 15 851 15 1011 15 702 15 1121 15 64 15 533 15 702 25 115 15 1369 25 1748 15 334 15 423 15 25 25 184 15 184 25 194 15 344 15 184 15 403 15 264 15 503 15 164 15 503 15 643 15 44 15 105 15 294 15 483 15 286" fill="none"/><circle r="678" stroke="#9d9da6" stroke-width="96" pathLength="36000" stroke-dasharray="0 1123 15 363 15 264 15 135 35 94 15 234 35 125 15 84 15 35 15 25 15 154 15 374 25 263 15 15 15 35 15 294 15 184 15 85 15 24 25 105 25 15 15 64 15 65 15 1240 15 852 15 184 25 174 25 55 15 254 25 303 15 453 15 195 15 761 15 15 15 105 25 164 15 135 15 741 15 115 15 85 15 124 15 15 15 104 15 822 25 224 25 45 15 552 15 5 15 543 25 45 15 94 15 85 15 164 15 85 15 244 15 94 15 35 15 55 15 114 15 623 25 423 15 364 15 403 15 194 15 45 15 104 15 344 15 184 25 194 15 25 15 354 15 144 15 45 25 184 15 353 15 633 15 413 15 1673 25 64 25 802 15 304 15 543 15 124 15 65 15 214 15 65 24 115 15 134 15 224 15 254 25 175 15 512 15 85 15 134 15 334 15 871 15 145 15 15 15 1240 25 74 25 164 15 434 15 144 15 95 25 94 15 633 15 214 15 393 35 493 15 413 15 334 25 84 15 643 15 373 15 881 15 244 15 85 35 214 15 503 25 104 15 683 35 7" fill="none"/><circle r="678" stroke="#df4a4e" stroke-width="96" pathLength="36000" stroke-dasharray="0 1061 20 428 20 70 20 428 20 109 20 887 20 468 20 59 20 70 20 2131 20 448 20 110 20 1185 20 617 20 1604 30 1046 30 398 20 378 20 827 20 139 20 60 20 498 20 358 20 2401 20 2171 30 408 20 727 20 189 30 2017 20 308 20 339 20 916 20 428 30 667 20 718 20 328 20 50 20 906 30 80 20 796 20 50 20 787 20 10 20 99 20 638 20 876 30 627 20 10 20 130 20 229 20 29 21 956 20 219 20 9 21 298 20 150 20 1075 20 329 20 458 20 538 20 383" fill="none"/><circle r="684" stroke="#df4a4e" stroke-width="84" pathLength="36000" stroke-dasharray="0 1071 20 1045 20 30 20 727 20 478 20 140 20 29 20 907 20 308 20 508 20 10 20 458 20 398 20 817 20 1713 20 618 20 328 20 1315 20 368 20 677 20 608 20 498 20 1583 20 259 20 90 20 159 20 30 20 239 20 40 30 627 20 289 30 109 20 727 20 588 20 428 20 2385 40 876 20 329 20 99 20 150 20 79 20 907 30 1424 20 199 20 199 20 129 20 1116 20 119 20 130 20 49 20 1375 20 249 20 368 30 239 20 677 20 289 20 109 20 160 20 259 20 358 20 30 20 448 20 199 30 149 20 528 20 448 20 458 20 90 20 189 20 279 20 1220" fill="none"/><circle r="684" stroke="#9d9da6" stroke-width="84" pathLength="36000" stroke-dasharray="0 37 15 1200 15 344 25 45 25 363 25 35 15 154 15 921 15 244 15 125 15 393 15 65 15 114 15 65 35 45 15 45 15 1120 15 632 15 75 15 284 15 84 15 1051 35 35 25 543 15 373 15 214 25 115 15 34 15 135 15 632 15 334 15 811 15 444 25 84 25 214 35 75 35 273 15 145 25 413 15 85 15 453 25 104 35 45 15 353 15 195 15 114 15 85 15 244 15 264 15 393 15 94 15 35 25 184 15 523 15 364 15 333 25 35 15 85 15 25 15 164 15 15 15 35 15 24 15 45 15 184 15 35 15 75 25 184 25 154 15 25 15 224 15 493 15 354 15 2300 15 503 15 294 15 293 25 284 15 204 15 254 15 334 15 104 15 274 15 204 15 364 15 632 15 393 25 663 15 64 15 1171 15 44 25 772 25 125 15 44 35 15 15 25 15 214 15 95 15 343 25 95 15 433 15 55 25 74 15 244 15 35 15 85 15 453 15 752 15 224 15 214 35 443 35 74 15 633 25 204 15 45 15 403 25 25 15 84 15 25 25 35 15 822 15 1" fill="none"/><circle r="690" stroke="#9d9da6" stroke-width="72" pathLength="36000" stroke-dasharray="0 187 15 35 15 34 15 284 15 105 15 752 15 174 25 1309 15 264 15 25 15 45 15 234 15 343 15 503 25 55 15 45 15 304 15 1349 25 672 15 65 15 35 15 174 15 284 15 393 15 115 15 24 15 5 25 204 15 424 15 274 15 1070 15 384 15 463 15 114 15 85 15 5 25 104 25 45 15 333 15 55 15 194 15 254 15 543 25 174 25 264 15 45 15 244 35 104 15 523 15 15 15 25 25 752 35 184 15 244 15 483 15 214 15 174 15 25 35 65 15 34 15 155 15 24 15 5 15 45 15 145 15 24 15 463 15 25 15 643 15 24 15 414 15 2151 15 453 15 84 25 25 15 5 15 15 15 483 25 1160 15 174 25 543 25 105 15 722 15 722 15 54 15 65 15 433 15 45 15 214 15 184 15 105 15 264 15 74 15 404 15 194 15 244 15 164 15 354 25 24 15 105 15 144 15 95 15 45 15 124 15 204 15 105 15 15 15 1180 15 35 25 253 15 25 15 65 15 55 15 303 15 244 15 25 15 404 15 4 15 15 15 683 25 214 15 273 15 274 25 1671" fill="none"/><circle r="690" stroke="#df4a4e" stroke-width="72" pathLength="36000" stroke-dasharray="0 85 20 139 20 129 20 996 20 289 20 100 20 1085 20 1255 20 478 20 279 20 149 20 120 20 557 40 10 20 40 20 99 20 229 20 180 20 727 20 966 20 119 20 478 40 2082 20 298 20 3108 20 916 20 229 20 1275 20 79 30 60 20 89 60 249 20 1434 20 289 20 1927 20 30 20 408 20 528 20 209 20 30 20 279 39 319 20 80 30 149 20 299 30 39 20 319 30 149 20 807 30 289 20 338 20 399 20 119 20 20 20 89 20 309 20 149 20 259 20 438 20 379 20 239 20 139 20 130 20 69 20 110 20 358 20 140 20 199 30 89 50 448 20 857 20 139 20 169 20 169 21 756 20 70 20 249 20 179 20 408 20 180 20 737 20 39 20 568 20 279 20 69 20 210 20 114" fill="none"/><circle r="696" stroke="#df4a4e" stroke-width="60" pathLength="36000" stroke-dasharray="15 60 20 508 20 776 20 409 20 109 20 139 20 10 20 80 20 10 30 59 20 50 20 508 20 727 20 110 20 657 40 189 20 119 20 60 20 10 30 69 20 478 20 40 20 239 20 219 20 30 20 149 20 130 20 89 20 996 20 1514 20 448 20 20 20 378 30 50 20 408 20 150 20 89 40 578 20 747 20 308 30 1076 20 747 20 647 20 269 20 129 20 419 20 378 20 339 30 139 20 139 20 588 20 40 20 1743 20 1528 20 219 20 60 20 119 20 647 20 180 20 129 20 90 20 318 20 130 20 189 30 169 20 40 20 59 20 160 20 99 20 130 20 99 20 120 20 29 20 219 20 299 20 239 20 60 20 149 20 120 20 209 30 368 20 866 20 180 20 89 20 189 30 160 79 10 20 249 20 339 20 39 20 80 20 847 20 149 20 508 20 20 20 408 20 60 20 408 20 378 20 170 20 657 20 119 20 329 80 189 60 268 20 309 20 100 30 378 20 119 20 210 20 298 20 100 20 199 20 70 20 373" fill="none"/><circle r="696" stroke="#9d9da6" stroke-width="60" pathLength="36000" stroke-dasharray="0 67 15 374 15 15 15 14 15 85 45 55 15 403 15 15 25 204 15 114 15 195 15 124 15 104 15 225 24 324 15 184 25 15 15 125 15 44 25 25 25 5 35 353 15 424 15 323 25 35 15 194 15 5 15 702 25 45 15 15 15 154 15 244 25 184 15 165 15 64 25 583 15 254 15 294 15 333 15 55 15 423 15 214 15 294 15 224 35 144 15 234 25 105 15 134 15 403 15 45 15 75 15 15 15 333 15 115 15 74 25 215 15 104 25 254 15 94 15 55 15 573 15 15 15 154 15 214 15 55 15 5 25 1090 15 35 15 45 15 15 15 542 15 95 25 622 15 195 25 114 35 25 15 304 15 34 15 294 15 5 15 304 25 532 15 274 15 254 15 75 15 553 35 54 35 105 25 174 15 5 15 642 15 1424 15 1071 25 74 15 374 15 224 15 274 15 343 15 35 15 114 15 244 15 105 15 15 15 542 15 205 15 473 15 34 15 195 15 214 15 34 15 15 15 25 15 15 15 722 15 304 15 144 15 115 15 34 25 55 25 184 15 314 15 573 15 34 15 244 15 105 15 124 15 115 15 15 15 124 15 294 15 134 25 105 15 114 15 553 15 105 15 204 15 54 15 513 15 165 24 25 15 15 15 423 15 513 15 105 15 134 15 5 15 224 35 264 25 75 15 54 15 95 15 224 35 274 15 224 15 124 15 95 15 25 25 134 25 25 15 433 15 97" fill="none"/><circle r="702" stroke="#df4a4e" stroke-width="48" pathLength="36000" stroke-dasharray="0 194 20 359 20 378 20 349 20 19 20 239 20 548 20 1195 20 229 20 130 20 39 20 399 20 856 40 219 20 50 30 249 20 249 30 637 30 747 20 269 20 179 20 319 20 378 20 80 20 69 20 946 20 30 20 179 20 757 20 130 20 567 30 249 20 857 40 59 20 249 30 159 20 110 20 348 20 867 20 398 20 299 20 488 20 1304 20 409 20 587 20 538 30 149 20 199 20 210 29 20 20 1499 20 79 20 20 40 60 40 20 30 219 30 328 20 149 20 110 20 169 20 379 20 59 20 20 20 10 30 179 20 50 20 30 20 59 20 70 20 1155 30 20 20 249 20 30 20 40 39 90 30 289 30 119 20 20 30 20 50 79 20 419 20 9 20 70 20 279 30 189 20 80 40 248 20 209 21 468 20 129 30 239 20 139 20 20 20 90 20 388 20 249 20 209 20 408 20 50 20 90 20 9 20 90 20 498 30 398 40 209 20 80 20 99 20 289 20 199 20 140 20 239 20 328 20 50 20 448 20 199 20 518 30 169 30 120 29 588 20 109 30 249 20 85" fill="none"/><circle r="702" stroke="#9d9da6" stroke-width="48" pathLength="36000" stroke-dasharray="0 386 15 294 15 74 25 822 15 5 15 74 25 434 15 5 15 433 25 104 25 234 15 55 25 35 35 24 15 135 15 55 25 114 25 164 15 25 15 115 25 323 15 115 15 363 15 45 15 84 25 205 25 483 15 44 15 184 15 35 35 613 15 64 15 65 15 184 25 802 15 144 15 175 15 64 25 264 25 65 15 34 15 5 15 35 35 75 15 722 15 383 25 5 15 144 15 25 15 95 25 35 15 224 15 234 15 15 15 164 15 433 25 65 25 64 25 155 25 333 15 35 25 5 25 64 25 175 15 15 15 104 15 5 15 65 25 224 15 642 15 65 25 224 25 15 15 44 15 344 15 84 15 35 15 65 15 25 25 313 25 284 25 174 25 85 35 134 15 174 15 553 15 384 15 363 15 184 15 5 15 443 15 135 25 25 15 164 25 204 15 363 15 15 25 65 15 85 15 1752 15 224 15 234 15 35 25 84 15 454 15 24 15 55 15 304 15 353 15 115 15 602 15 473 15 234 15 145 25 104 15 145 15 24 25 5 25 304 15 334 15 84 15 314 15 25 15 15 15 174 15 313 15 5 15 693 25 512 25 553 25 55 15 871 15 204 15 384 25 473 15 15 15 443 35 74 35 453 25 214 25 155 15 473 25 74 25 25 35 254 15 563 15 24 15 414 15 94 15 902 25 144 15 513 15 77" fill="none"/><circle r="708" stroke="#df4a4e" stroke-width="36" pathLength="36000" stroke-dasharray="0 204 20 179 40 538 20 219 20 70 20 29 30 877 20 139 20 259 40 229 20 349 20 49 20 847 30 139 30 249 30 99 20 439 20 9 30 249 20 1046 20 797 20 826 20 30 20 897 20 159 20 50 30 59 30 289 30 239 20 1105 20 319 20 50 20 408 20 169 20 767 20 2281 20 1454 20 1414 20 388 20 419 20 249 20 1548 20 40 50 19 40 50 20 319 20 49 20 90 20 139 20 60 50 149 30 737 20 269 20 129 20 190 29 429 40 179 20 159 20 90 30 29 30 1534 20 100 20 19 20 339 20 1225 20 80 30 9 20 299 30 159 20 170 20 59 40 100 30 298 20 528 20 309 20 338 20 469 20 527 20 140 40 19 20 618 30 109 30 548 20 478 20 299 20 1583 20 50 50 139 20 55" fill="none"/><circle r="708" stroke="#9d9da6" stroke-width="36" pathLength="36000" stroke-dasharray="0 97 25 373 25 155 25 313 25 195 24 25 25 15 25 5 15 533 25 164 35 134 15 135 25 15 25 244 15 4 25 224 15 254 25 75 25 25 15 94 25 513 15 15 15 35 15 443 15 15 25 184 15 25 15 144 25 234 35 224 25 15 15 15 15 94 45 75 15 15 25 174 25 5 15 45 25 124 15 204 15 25 15 65 25 782 15 522 25 145 15 184 15 164 15 65 15 35 15 15 15 54 15 95 15 214 15 45 15 104 35 85 15 184 25 45 15 532 25 224 35 15 15 85 15 692 45 343 35 224 15 224 15 603 25 134 25 344 25 35 15 84 25 15 15 334 44 832 15 35 35 25 25 144 15 413 25 65 25 483 35 64 35 115 25 144 25 274 15 334 25 64 15 174 25 314 15 393 25 165 25 104 35 144 25 75 25 393 25 45 15 473 25 1304 15 45 15 55 15 254 15 74 25 25 15 164 15 912 15 74 25 5 15 165 15 14 15 125 15 84 15 125 15 15 15 174 15 423 15 224 15 125 15 25 15 24 25 224 25 214 25 473 15 673 15 5 15 64 15 65 15 344 15 602 15 383 25 274 45 45 15 284 15 363 15 85 15 483 25 94 15 1041 25 75 25 373 15 264 25 224 35 244 15 214 35 1070 15 135 25 35 25 114 15 115 15 323 15 1280 15 344 15 64 45 65 15 67" fill="none"/><circle r="714" stroke="#9d9da6" stroke-width="24" pathLength="36000" stroke-dasharray="0 227 15 303 35 334 15 64 25 742 25 95 25 682 15 25 15 393 25 1101 15 5 15 463 15 25 15 124 15 632 15 145 15 194 25 104 15 284 35 284 15 244 15 94 15 65 35 45 15 204 25 144 25 224 25 234 25 423 65 55 35 314 15 164 25 184 35 55 35 303 35 314 25 274 25 114 25 65 15 5 15 164 25 75 15 184 25 44 25 65 25 105 15 572 15 145 25 74 25 184 25 165 25 234 15 44 15 15 35 174 15 175 15 164 15 194 15 344 25 24 15 105 15 15 45 144 25 134 25 25 15 274 25 75 15 15 34 752 25 55 15 503 35 134 25 35 25 124 15 274 25 304 35 35 15 1738 25 84 25 145 24 105 25 1314 15 354 15 473 25 84 15 204 25 25 15 304 25 154 25 234 25 35 25 214 25 134 25 1021 15 184 15 5 25 15 25 5 15 184 25 95 15 752 35 64 15 35 35 25 25 104 15 344 15 214 35 373 25 135 25 44 25 244 25 553 25 363 15 214 15 244 25 85 15 164 25 194 25 115 15 94 25 15 35 1021 25 383 15 623 15 25 25 54 25 95 15 74 15 364 15 274 25 742 25 303 25 25 15 164 15 65 25 65 15 64 15 155 25 114 25 25 25 214 25 625" fill="none"/><circle r="714" stroke="#df4a4e" stroke-width="24" pathLength="36000" stroke-dasharray="0 214 20 299 20 368 50 2829 30 338 20 458 20 40 20 120 20 49 30 528 40 119 20 339 20 578 20 89 30 956 20 1046 30 149 20 189 20 110 30 836 40 110 40 318 20 259 20 1464 30 498 20 239 20 1922 20 877 20 896 20 667 20 1783 30 2036 60 119 30 389 30 219 20 179 30 50 30 79 30 299 30 468 20 10 20 1215 20 50 20 209 20 876 20 299 40 79 20 239 20 488 40 359 30 607 30 129 20 558 30 349 20 517 40 399 89 1843 20 99 20 70 20 378 20 1415 20 159 20 10 50 149 20 827 20 39 30 30 30 264" fill="none"/><circle r="720" stroke="#df4a4e" stroke-width="12" pathLength="36000" stroke-dasharray="0 45 30 199 20 856 20 528 30 239 20 1863 39 170 20 69 20 259 20 488 20 608 30 946 40 199 40 667 20 159 30 149 20 698 20 49 40 1066 20 239 20 50 30 418 20 209 30 328 30 1833 20 219 20 269 40 39 20 190 20 607 20 996 30 1046 20 2729 20 149 30 1658 30 717 20 597 20 747 20 70 20 508 20 229 30 20 29 80 20 130 20 49 20 697 30 90 30 40 20 667 20 79 30 269 50 10 20 30 20 308 20 80 20 20 20 129 30 30 20 578 20 59 30 40 40 139 20 289 40 139 30 359 20 89 20 329 20 896 20 409 20 169 30 179 30 149 30 150 20 268 20 259 20 160 39 20 40 1086 20 49 21 378 30 119 20 488 20 468 20 259 20 90 20 99 30 294" fill="none"/><circle r="720" stroke="#9d9da6" stroke-width="12" pathLength="36000" stroke-dasharray="0 7 35 214 25 85 25 75 25 234 25 14 25 254 25 75 15 104 25 195 24 25 25 294 25 105 15 4 35 563 25 15 25 662 25 513 15 25 25 5 35 104 15 15 25 15 15 224 25 15 15 164 25 55 25 244 15 413 25 423 25 264 25 473 25 124 25 5 15 35 25 114 25 105 25 104 25 105 25 74 25 55 25 85 15 164 15 75 35 184 25 15 25 44 35 264 15 115 25 144 35 264 25 274 54 85 25 114 15 5 15 35 35 174 25 304 25 75 25 44 15 85 25 154 35 264 25 55 35 234 34 85 25 383 25 5 25 175 24 25 25 165 25 114 25 35 35 313 15 125 35 64 15 5 25 125 35 84 15 65 15 174 15 5 15 144 45 55 25 35 25 84 25 95 25 55 34 125 25 164 25 125 25 981 24 175 55 194 35 54 25 5 15 384 25 463 35 64 25 5 25 144 25 85 25 105 24 55 25 65 25 1150 15 45 35 1922 25 124 25 413 25 25 25 5 25 45 25 373 25 15 25 184 25 85 25 433 15 94 15 493 15 354 25 35 15 114 15 75 15 94 25 593 15 144 15 35 45 45 25 542 15 443 15 35 45 65 25 154 35 105 15 4 15 215 15 104 25 164 25 194 25 25 15 135 15 24 15 145 15 234 25 35 15 244 24 15 25 224 15 115 25 323 15 155 25 94 25 174 25 115 35 94 25 15 25 95 15 224 25 164 15 85 35 4 25 374 35 74 25 65 15 274 15 55 35 84 25 85 15 44 25 862 25 393 15 35 15 65 25 134 25 284 15 254 25 234 15 453 15 284 15 94 25 406" fill="none"/><defs><path id="bdots" d="M-586-352h0M-607-368h0M-584-358h0M-576-357h0M-563-347h0M-538-326h0M-582-368h0M-580-365h0M-578-363h0M-603-390h0M-558-363h0M-546-356h0M-544-353h0M-540-353h0M-521-341h0M-459-295h0M-587-401h0M-562-383h0M-558-378h0M-556-375h0M-572-403h0M-570-401h0M-568-398h0M-542-382h0M-571-407h0M-521-369h0M-517-368h0M-514-368h0M-513-362h0M-512-358h0M-556-402h0M-507-361h0M-502-361h0M-503-355h0M-480-325h0M-478-322h0M-477-319h0M-475-316h0M-434-283h0M-405-280h0M-397-257h0M-558-411h0M-549-408h0M-546-406h0M-492-365h0M-556-419h0M-553-418h0M-542-412h0M-524-400h0M-495-373h0M-488-366h0M-467-355h0M-463-355h0M-460-355h0M-543-427h0M-537-423h0M-560-450h0M-556-445h0M-514-410h0M-512-407h0M-508-407h0M-556-454h0M-508-416h0M-554-457h0M-502-413h0M-499-412h0M-534-447h0M-526-439h0M-522-438h0M-485-404h0M-486-399h0M-424-344h0M-542-459h0M-418-347h0M-522-450h0M-520-447h0M-528-460h0M-525-458h0M-523-455h0M-503-464h0M-508-478h0M-498-468h0M-491-462h0M-490-458h0M-455-421h0M-485-464h0M-511-498h0M-474-460h0M-471-459h0M-466-455h0M-506-500h0M-456-449h0M-453-448h0M-453-443h0M-420-418h0M-423-412h0M-417-413h0M-407-410h0M-404-409h0M-495-506h0M-448-460h0M-400-408h0M-387-397h0M-399-377h0M-400-371h0M-398-363h0M-384-373h0M-390-358h0M-483-508h0M-492-523h0M-480-511h0M-477-509h0M-454-483h0M-443-469h0M-428-452h0M-423-444h0M-417-444h0M-471-514h0M-464-506h0M-447-488h0M-482-532h0M-431-476h0M-391-434h0M-394-428h0M-392-417h0M-459-516h0M-380-420h0M-370-413h0M-378-361h0M-467-532h0M-456-518h0M-360-375h0M-349-381h0M-342-383h0M-361-361h0M-345-371h0M-360-352h0M-366-341h0M-368-334h0M-368-330h0M-344-350h0M-346-339h0M-329-351h0M-438-528h0M-435-526h0M-434-523h0M-424-508h0M-411-489h0M-410-486h0M-440-538h0M-431-530h0M-405-498h0M-401-496h0M-442-552h0M-373-453h0M-367-453h0M-363-452h0M-359-451h0M-358-444h0M-363-432h0M-317-357h0M-329-302h0M-435-555h0M-428-547h0M-438-569h0M-417-541h0M-414-539h0M-380-496h0M-369-478h0M-414-552h0M-404-540h0M-428-576h0M-401-538h0M-398-536h0M-398-532h0M-394-531h0M-395-526h0M-364-492h0M-355-482h0M-407-567h0M-402-561h0M-396-560h0M-395-557h0M-380-533h0M-375-522h0M-363-509h0M-357-495h0M-337-459h0M-330-460h0M-328-454h0M-393-578h0M-390-579h0M-372-549h0M-369-547h0M-369-543h0M-365-542h0M-366-538h0M-361-537h0M-346-509h0M-337-491h0M-378-578h0M-377-574h0M-365-559h0M-362-557h0M-338-515h0M-334-514h0M-329-493h0M-324-476h0M-316-460h0M-307-462h0M-264-384h0M-312-310h0M-324-293h0M-332-279h0M-334-271h0M-284-319h0M-374-613h0M-352-574h0M-349-572h0M-349-568h0M-343-563h0M-343-559h0M-341-552h0M-336-551h0M-330-548h0M-327-546h0M-330-540h0M-331-536h0M-325-536h0M-319-509h0M-310-511h0M-252-341h0M-296-299h0M-311-253h0M-259-302h0M-243-303h0M-218-318h0M-253-237h0M-346-629h0M-333-603h0M-320-583h0M-306-553h0M-341-632h0M-326-602h0M-292-534h0M-284-524h0M-284-516h0M-279-515h0M-275-513h0M-334-636h0M-313-594h0M-311-592h0M-300-574h0M-326-634h0M-302-587h0M-299-585h0M-283-548h0M-280-546h0M-306-613h0M-305-610h0M-285-566h0M-264-519h0M-313-646h0M-293-604h0M-289-593h0M-283-575h0M-259-518h0M-254-517h0M-250-515h0M-247-513h0M-248-506h0M-302-645h0M-292-623h0M-276-587h0M-271-581h0M-242-505h0M-283-625h0M-279-618h0M-289-654h0M-281-639h0M-279-636h0M-277-634h0M-256-589h0M-253-575h0M-254-572h0M-254-568h0M-249-567h0M-237-546h0M-269-636h0M-265-628h0M-263-625h0M-250-590h0M-261-629h0M-230-549h0M-232-544h0M-223-519h0M-218-518h0M-258-643h0M-260-654h0M-256-641h0M-248-618h0M-230-567h0M-255-650h0M-245-627h0M-224-563h0M-252-655h0M-250-652h0M-233-603h0M-205-524h0M-209-514h0M-196-499h0M-206-474h0M-193-476h0M-221-460h0M-199-466h0M-187-468h0M-180-467h0M-212-450h0M-191-456h0M-216-441h0M-192-448h0M-208-434h0M-229-648h0M-228-642h0M-228-639h0M-225-636h0M-226-632h0M-222-640h0M-220-637h0M-225-666h0M-225-663h0M-214-638h0M-197-579h0M-190-545h0M-185-543h0M-219-679h0M-212-663h0M-198-622h0M-200-649h0M-196-632h0M-194-629h0M-192-617h0M-203-679h0M-191-642h0M-181-604h0M-178-586h0M-175-584h0M-177-576h0M-181-572h0M-173-571h0M-199-690h0M-162-547h0M-168-538h0M-171-534h0M-184-656h0M-190-689h0M-170-612h0M-171-608h0M-153-508h0M-157-460h0M-186-432h0M-154-441h0M-137-443h0M-181-689h0M-174-668h0M-171-650h0M-168-647h0M-169-644h0M-159-613h0M-152-599h0M-165-662h0M-150-597h0M-154-592h0M-142-658h0M-133-622h0M-136-669h0M-133-663h0M-134-660h0M-129-654h0M-124-633h0M-120-620h0M-124-616h0M-123-599h0M-118-596h0M-115-557h0M-120-695h0M-120-692h0M-119-689h0M-114-654h0M-112-651h0M-113-648h0M-110-645h0M-113-641h0M-114-638h0M-111-699h0M-106-661h0M-104-659h0M-96-613h0M-102-700h0M-103-697h0M-98-660h0M-96-641h0M-101-709h0M-96-677h0M-95-696h0M-93-683h0M-91-676h0M-89-681h0M-86-672h0M-84-656h0M-85-566h0M-88-560h0M-87-542h0M-79-701h0M-79-697h0M-78-694h0M-76-691h0M-78-688h0M-71-647h0M-74-644h0M-70-641h0M-73-637h0M-69-681h0M-63-588h0M-93-531h0M-72-531h0M-90-526h0M-102-520h0M-111-512h0M-81-511h0M-64-710h0M-58-677h0M-61-674h0M-52-610h0M-62-510h0M-57-716h0M-50-710h0M-47-716h0M-42-653h0M-42-617h0M-44-612h0M-46-609h0M-41-603h0M-36-564h0M-80-501h0M-54-501h0M-98-488h0M-105-484h0M-66-487h0M-89-480h0M-100-475h0M-106-470h0M-106-455h0M-35-708h0M-36-705h0M-27-686h0M-21-682h0M-21-634h0M-12-718h0M-13-716h0M-12-661h0M-13-658h0M-7-701h0M-7-698h0M-10-633h0M-7-630h0M-11-627h0M-14-624h0M-15-620h0M-12-582h0M-19-579h0M-22-575h0M-24-555h0M-27-552h0M3-713h0M7-718h0M4-675h0M6-657h0M4-645h0M2-642h0M2-636h0M2-619h0M-12-513h0M-59-457h0M-25-457h0M-81-391h0M-94-364h0M-43-370h0M-116-351h0M18-672h0M27-717h0M24-662h0M23-659h0M30-699h0M31-696h0M28-638h0M24-618h0M27-610h0M28-585h0M21-522h0M42-696h0M41-635h0M48-687h0M41-612h0M38-609h0M41-605h0M43-602h0M61-697h0M62-675h0M58-665h0M57-662h0M63-667h0M60-658h0M62-655h0M63-652h0M58-649h0M46-581h0M53-577h0M57-572h0M79-700h0M77-673h0M74-663h0M73-660h0M60-569h0M63-565h0M41-561h0M80-658h0M75-626h0M52-532h0M58-528h0M54-522h0M60-519h0M40-517h0M53-513h0M34-511h0M24-509h0M43-488h0M27-486h0M44-469h0M102-711h0M97-685h0M95-682h0M96-653h0M91-632h0M93-609h0M90-606h0M90-594h0M90-582h0M108-659h0M109-656h0M110-653h0M109-646h0M105-639h0M92-578h0M84-567h0M94-559h0M83-545h0M126-707h0M128-696h0M125-667h0M122-655h0M118-643h0M131-681h0M133-679h0M134-676h0M135-669h0M123-627h0M141-681h0M133-647h0M134-644h0M149-702h0M127-604h0M116-572h0M111-555h0M156-688h0M152-664h0M149-648h0M147-632h0M147-628h0M143-625h0M145-622h0M147-615h0M141-613h0M138-610h0M137-604h0M141-600h0M133-588h0M137-580h0M136-561h0M135-549h0M172-678h0M172-675h0M162-631h0M179-688h0M166-632h0M187-693h0M188-693h0M168-628h0M164-604h0M163-595h0M157-593h0M160-589h0M135-519h0M114-508h0M126-501h0M118-442h0M93-445h0M108-438h0M69-409h0M-25-337h0M-99-320h0M192-654h0M189-641h0M185-631h0M209-687h0M219-684h0M203-637h0M203-634h0M200-631h0M224-682h0M217-662h0M190-592h0M186-586h0M218-647h0M209-616h0M206-614h0M178-544h0M172-542h0M155-520h0M165-513h0M153-502h0M232-656h0M232-652h0M244-661h0M226-618h0M227-614h0M250-663h0M234-621h0M245-641h0M232-613h0M232-609h0M227-607h0M229-603h0M230-599h0M231-596h0M231-592h0M222-592h0M217-591h0M206-542h0M198-538h0M190-529h0M267-666h0M268-666h0M245-613h0M274-647h0M265-628h0M258-608h0M257-602h0M252-595h0M253-592h0M253-588h0M253-585h0M247-580h0M243-578h0M246-573h0M233-553h0M226-549h0M285-642h0M282-631h0M260-585h0M232-543h0M289-632h0M278-606h0M274-601h0M272-598h0M272-595h0M273-591h0M268-589h0M270-585h0M270-581h0M223-523h0M231-516h0M307-647h0M290-610h0M305-628h0M302-625h0M294-602h0M294-599h0M288-582h0M287-579h0M263-539h0M250-519h0M237-510h0M246-498h0M220-507h0M233-497h0M191-508h0M166-487h0M153-488h0M327-638h0M328-615h0M321-596h0M312-575h0M308-574h0M304-569h0M300-567h0M297-565h0M281-537h0M285-531h0M287-527h0M282-520h0M269-508h0M259-496h0M344-610h0M342-607h0M341-604h0M324-577h0M325-573h0M324-570h0M324-566h0M323-563h0M363-620h0M358-607h0M343-584h0M341-572h0M331-551h0M327-550h0M328-546h0M323-545h0M315-527h0M304-518h0M296-519h0M278-469h0M280-464h0M378-610h0M352-566h0M363-579h0M362-575h0M342-542h0M339-536h0M390-599h0M373-576h0M365-565h0M365-561h0M396-599h0M354-541h0M340-525h0M392-587h0M375-560h0M391-579h0M379-560h0M407-592h0M400-583h0M361-525h0M355-512h0M347-506h0M342-505h0M314-474h0M308-474h0M314-466h0M295-436h0M297-430h0M282-436h0M289-428h0M292-422h0M293-417h0M293-413h0M292-410h0M262-411h0M272-401h0M171-384h0M200-347h0M408-554h0M432-573h0M421-553h0M412-539h0M409-538h0M406-536h0M390-512h0M386-511h0M382-506h0M375-503h0M372-502h0M368-500h0M450-560h0M418-522h0M416-517h0M403-503h0M402-499h0M392-482h0M461-550h0M468-544h0M443-517h0M440-515h0M425-500h0M409-485h0M405-474h0M400-474h0M396-474h0M393-472h0M389-471h0M381-462h0M452-514h0M467-528h0M428-484h0M424-483h0M408-460h0M457-506h0M456-503h0M441-488h0M440-485h0M482-520h0M447-481h0M433-469h0M430-468h0M425-468h0M468-498h0M464-493h0M434-460h0M413-446h0M400-427h0M498-511h0M478-492h0M504-511h0M502-511h0M446-453h0M441-453h0M434-448h0M430-447h0M427-446h0M423-433h0M384-401h0M374-406h0M366-409h0M361-409h0M352-413h0M366-396h0M351-405h0M340-410h0M333-412h0M329-411h0M349-390h0M507-501h0M503-495h0M469-461h0M466-460h0M358-377h0M519-496h0M504-477h0M502-474h0M501-471h0M477-447h0M476-444h0M474-441h0M473-438h0M471-434h0M465-437h0M460-437h0M450-431h0M447-426h0M449-419h0M441-419h0M364-354h0M368-345h0M322-380h0M312-384h0M306-385h0M302-384h0M508-456h0M506-453h0M500-447h0M478-429h0M513-454h0M477-425h0M454-401h0M540-467h0M518-447h0M467-404h0M548-460h0M545-459h0M502-418h0M519-429h0M517-426h0M492-407h0M488-407h0M478-404h0M470-399h0M452-386h0M310-370h0M558-451h0M522-423h0M266-290h0M544-430h0M566-442h0M549-429h0M531-414h0M560-432h0M501-389h0M495-386h0M572-435h0M513-391h0M491-378h0M485-380h0M455-362h0M562-421h0M559-420h0M528-395h0M525-395h0M457-354h0M458-347h0M455-341h0M578-422h0M576-420h0M566-407h0M585-417h0M584-417h0M546-388h0M580-404h0M569-392h0M546-376h0M528-367h0M524-366h0M513-360h0M513-355h0M469-330h0M464-331h0M460-332h0M462-324h0M447-323h0M292-260h0M306-238h0M311-225h0M313-218h0M581-380h0M559-362h0M528-344h0M525-343h0M524-339h0M520-340h0M554-352h0M550-349h0M539-343h0M577-359h0M518-322h0M494-307h0M481-303h0M476-305h0M427-278h0M581-353h0M579-351h0M576-350h0M536-324h0M522-314h0M555-323h0M552-322h0M584-329h0M535-303h0M585-324h0M581-323h0M578-322h0M553-307h0M526-290h0M475-266h0M470-267h0M467-267h0M463-268h0M459-268h0M450-264h0M451-255h0M632-341h0M426-236h0M618-330h0M587-314h0M616-319h0M599-301h0M595-300h0M591-295h0M552-275h0M550-272h0M530-266h0M522-259h0M516-260h0M500-252h0M499-247h0M482-238h0M477-241h0M472-243h0M473-235h0M467-238h0M444-232h0M440-232h0M620-292h0M584-276h0M581-275h0M591-276h0M579-272h0M575-273h0M419-209h0M383-201h0M385-190h0M376-188h0M654-295h0M603-270h0M585-263h0M561-255h0M631-278h0M608-266h0M604-267h0M544-238h0M661-279h0M602-252h0M634-263h0M632-261h0M559-233h0M557-230h0M552-232h0M551-228h0M548-224h0M546-222h0M528-220h0M520-210h0M515-215h0M510-217h0M510-209h0M508-205h0M660-257h0M624-241h0M612-238h0M457-185h0M456-180h0M447-190h0M360-166h0M339-153h0M323-177h0M283-171h0M580-213h0M618-221h0M588-211h0M571-206h0M540-197h0M536-198h0M532-199h0M630-219h0M530-186h0M528-183h0M674-222h0M639-210h0M633-209h0M612-200h0M605-199h0M578-186h0M667-206h0M646-198h0M606-187h0M628-190h0M604-185h0M676-202h0M559-168h0M555-171h0M638-182h0M614-174h0M611-174h0M606-175h0M600-173h0M559-163h0M553-156h0M542-160h0M674-179h0M625-168h0M599-159h0M678-175h0M597-156h0M575-148h0M684-171h0M680-171h0M639-159h0M611-151h0M592-145h0M551-139h0M699-162h0M682-159h0M641-150h0M665-149h0M688-152h0M624-137h0M604-132h0M600-134h0M598-131h0M595-128h0M567-120h0M564-118h0M555-128h0M545-128h0M539-129h0M527-117h0M525-112h0M506-117h0M500-126h0M496-130h0M665-131h0M655-130h0M688-130h0M655-122h0M633-119h0M629-120h0M627-117h0M602-117h0M596-112h0M590-109h0M587-106h0M583-112h0M551-101h0M451-117h0M445-128h0M448-103h0M440-121h0M433-132h0M687-112h0M635-104h0M632-102h0M629-100h0M692-107h0M622-97h0M619-100h0M598-99h0M705-102h0M663-94h0M637-91h0M634-92h0M628-93h0M625-93h0M609-88h0M669-91h0M657-89h0M623-81h0M571-78h0M529-80h0M494-80h0M491-82h0M438-103h0M435-72h0M433-62h0M422-102h0M412-127h0M418-89h0M419-70h0M381-54h0M702-78h0M681-75h0M678-74h0M658-69h0M715-67h0M662-63h0M712-53h0M709-52h0M706-51h0M625-44h0M682-44h0M686-40h0M715-39h0M613-38h0M702-34h0M610-33h0M603-42h0M599-45h0M692-30h0M689-29h0M686-28h0M593-41h0M591-31h0M587-40h0M583-44h0M581-32h0M577-41h0M693-19h0M600-19h0M556-29h0M553-21h0M522-16h0M518-31h0M515-21h0M512-33h0M672-9h0M716 4h0M713 3h0M644 2h0M638 3h0M635 1h0M632-1h0M628-2h0M716 7h0M668 8h0M665 9h0M688 13h0M649 12h0M626 10h0M609 4h0M606 8h0M603 11h0M599 13h0M571 4h0M568-1h0M565-5h0M540-8h0M502-33h0M498-41h0M496-13h0M492-31h0M696 28h0M687 27h0M681 25h0M656 28h0M653 25h0M717 34h0M716 35h0M651 32h0M556 24h0M553 20h0M490-7h0M483-20h0M479-35h0M477-4h0M406 10h0M707 47h0M673 45h0M649 45h0M694 51h0M665 50h0M619 44h0M706 59h0M666 57h0M663 55h0M685 61h0M666 60h0M609 50h0M702 67h0M698 69h0M658 64h0M655 65h0M610 60h0M607 62h0M604 56h0M601 51h0M668 75h0M665 73h0M645 71h0M533 52h0M529 57h0M524 47h0M689 83h0M668 81h0M703 91h0M663 85h0M651 82h0M711 97h0M672 93h0M617 84h0M614 82h0M594 75h0M584 81h0M573 74h0M540 74h0M520 59h0M518 46h0M515 39h0M510 57h0M501 43h0M498 36h0M474 62h0M471 67h0M697 114h0M689 116h0M663 110h0M686 122h0M683 122h0M679 122h0M676 120h0M674 118h0M598 104h0M596 101h0M567 100h0M706 132h0M556 97h0M542 90h0M524 93h0M703 144h0M655 135h0M652 135h0M616 124h0M602 124h0M599 121h0M672 147h0M668 147h0M623 138h0M608 133h0M667 153h0M602 135h0M597 131h0M675 160h0M667 157h0M664 158h0M668 163h0M662 162h0M645 160h0M642 160h0M599 143h0M550 135h0M540 125h0M532 133h0M521 126h0M517 116h0M504 119h0M685 183h0M637 169h0M603 161h0M493 124h0M493 109h0M692 191h0M645 177h0M472 113h0M463 96h0M443 80h0M432 70h0M424 93h0M381 46h0M349 15h0M628 187h0M625 187h0M621 184h0M618 181h0M613 183h0M610 184h0M608 179h0M686 211h0M553 167h0M674 215h0M645 205h0M642 203h0M640 201h0M667 229h0M655 227h0M642 221h0M619 210h0M583 196h0M672 242h0M594 212h0M592 210h0M589 208h0M586 206h0M545 188h0M674 247h0M674 248h0M540 192h0M536 195h0M535 186h0M534 181h0M645 248h0M622 241h0M602 231h0M598 232h0M596 229h0M592 230h0M587 226h0M439 160h0M626 256h0M640 268h0M619 258h0M616 258h0M594 250h0M592 247h0M588 248h0M584 248h0M583 242h0M579 245h0M575 246h0M524 226h0M627 283h0M624 281h0M623 285h0M587 266h0M570 261h0M567 261h0M536 246h0M534 241h0M530 243h0M529 238h0M524 233h0M518 237h0M517 232h0M516 228h0M476 208h0M470 213h0M466 216h0M602 293h0M570 276h0M566 277h0M640 319h0M627 311h0M539 268h0M535 269h0M534 263h0M533 258h0M498 239h0M461 218h0M464 203h0M423 177h0M415 170h0M415 161h0M417 148h0M416 141h0M414 136h0M413 130h0M619 318h0M612 317h0M609 316h0M597 319h0M589 313h0M583 310h0M548 295h0M545 295h0M508 270h0M506 266h0M582 332h0M568 323h0M597 343h0M568 328h0M564 323h0M559 318h0M609 359h0M577 342h0M575 338h0M569 335h0M527 313h0M578 352h0M572 348h0M570 345h0M567 343h0M485 290h0M482 279h0M481 274h0M459 271h0M574 360h0M572 357h0M576 369h0M571 365h0M546 351h0M540 345h0M531 338h0M529 335h0M525 336h0M524 331h0M523 327h0M521 324h0M467 289h0M438 265h0M425 269h0M575 383h0M573 380h0M558 369h0M547 364h0M545 360h0M568 386h0M565 385h0M563 382h0M528 359h0M401 267h0M409 249h0M410 229h0M558 387h0M550 383h0M526 368h0M520 364h0M559 395h0M515 363h0M499 349h0M495 350h0M482 337h0M462 328h0M524 384h0M520 380h0M513 378h0M511 371h0M506 372h0M457 330h0M393 250h0M360 211h0M359 159h0M337 197h0M351 150h0M357 127h0M331 177h0M534 419h0M531 419h0M520 411h0M561 448h0M560 449h0M501 399h0M479 384h0M479 379h0M557 453h0M517 422h0M487 396h0M474 380h0M475 374h0M474 370h0M554 457h0M553 455h0M457 367h0M458 360h0M458 356h0M457 352h0M519 431h0M504 420h0M447 359h0M445 352h0M429 350h0M424 352h0M544 469h0M524 450h0M521 449h0M489 419h0M541 472h0M535 474h0M523 466h0M520 464h0M519 460h0M474 416h0M462 401h0M426 382h0M496 462h0M493 461h0M492 458h0M484 452h0M472 443h0M469 437h0M464 437h0M461 437h0M457 436h0M459 429h0M459 424h0M510 492h0M514 502h0M481 471h0M490 483h0M477 469h0M458 449h0M447 441h0M447 437h0M403 374h0M469 475h0M467 473h0M464 471h0M463 468h0M440 447h0M495 514h0M479 497h0M476 496h0M473 494h0M456 473h0M479 507h0M447 470h0M447 465h0M399 410h0M387 392h0M362 351h0M366 341h0M372 330h0M382 313h0M489 523h0M478 515h0M465 506h0M454 495h0M447 485h0M431 467h0M431 463h0M404 439h0M468 529h0M459 520h0M454 515h0M451 514h0M451 510h0M437 497h0M455 528h0M462 541h0M436 518h0M428 509h0M425 507h0M425 503h0M421 502h0M421 498h0M421 494h0M395 461h0M437 528h0M369 435h0M364 435h0M369 417h0M359 421h0M363 414h0M354 417h0M358 401h0M361 394h0M347 402h0M351 343h0M328 360h0M315 368h0M316 297h0M420 539h0M417 537h0M416 554h0M415 550h0M402 531h0M401 528h0M382 508h0M412 558h0M397 537h0M391 527h0M423 580h0M394 539h0M364 492h0M357 488h0M360 482h0M355 482h0M357 476h0M347 472h0M343 472h0M347 465h0M336 459h0M331 459h0M328 458h0M332 446h0M406 577h0M403 575h0M389 557h0M387 555h0M400 588h0M390 576h0M390 572h0M373 549h0M373 545h0M342 497h0M333 481h0M383 574h0M386 583h0M372 559h0M358 541h0M358 537h0M329 475h0M322 449h0M329 440h0M332 434h0M314 443h0M304 446h0M317 433h0M323 425h0M325 419h0M306 429h0M372 583h0M369 581h0M369 577h0M368 574h0M330 518h0M359 571h0M356 569h0M353 565h0M377 611h0M361 588h0M358 593h0M345 569h0M345 565h0M327 540h0M324 538h0M326 533h0M327 529h0M321 529h0M316 527h0M306 494h0M309 489h0M299 490h0M293 469h0M288 438h0M293 405h0M271 416h0M340 586h0M331 573h0M323 562h0M336 596h0M334 590h0M333 586h0M309 541h0M337 604h0M327 584h0M305 540h0M301 538h0M345 630h0M267 482h0M246 448h0M254 423h0M279 402h0M317 592h0M291 538h0M317 621h0M303 593h0M303 589h0M292 579h0M289 577h0M287 575h0M290 570h0M278 554h0M274 552h0M273 537h0M274 532h0M275 528h0M267 529h0M267 521h0M268 515h0M253 475h0M255 383h0M225 394h0M253 372h0M306 288h0M256 259h0M207 294h0M297 654h0M286 626h0M283 624h0M267 592h0M283 636h0M266 603h0M263 590h0M259 589h0M252 560h0M272 628h0M266 618h0M246 574h0M273 646h0M267 630h0M262 625h0M247 594h0M271 665h0M272 665h0M258 627h0M239 584h0M221 546h0M216 538h0M251 636h0M228 586h0M226 584h0M224 581h0M205 521h0M214 513h0M222 506h0M205 500h0M247 674h0M242 659h0M219 614h0M231 661h0M231 658h0M208 594h0M231 680h0M224 663h0M212 629h0M207 618h0M208 614h0M199 594h0M200 573h0M202 569h0M203 566h0M195 565h0M189 564h0M196 558h0M200 553h0M189 551h0M195 532h0M181 525h0M187 517h0M177 517h0M171 516h0M192 502h0M176 504h0M215 683h0M179 496h0M193 468h0M164 453h0M186 624h0M199 675h0M200 690h0M177 602h0M172 593h0M188 693h0M187 693h0M175 649h0M174 637h0M171 635h0M166 608h0M177 674h0M165 602h0M160 600h0M179 695h0M158 594h0M151 570h0M155 565h0M159 561h0M162 557h0M164 553h0M163 693h0M163 690h0M161 687h0M152 644h0M153 640h0M142 660h0M139 652h0M132 626h0M134 663h0M130 648h0M126 635h0M128 631h0M125 629h0M126 608h0M121 606h0M127 601h0M129 598h0M131 594h0M132 590h0M133 587h0M122 586h0M128 582h0M132 577h0M134 567h0M136 563h0M132 538h0M132 706h0M131 706h0M116 535h0M107 533h0M119 527h0M127 486h0M136 480h0M140 476h0M142 472h0M96 457h0M117 449h0M136 440h0M120 683h0M117 673h0M118 670h0M118 694h0M108 642h0M109 632h0M107 445h0M150 429h0M171 418h0M122 431h0M114 427h0M151 412h0M142 388h0M161 308h0M105 710h0M94 645h0M100 711h0M90 649h0M85 672h0M83 669h0M80 656h0M83 653h0M84 649h0M80 647h0M81 626h0M74 621h0M72 617h0M78 613h0M77 689h0M73 611h0M69 608h0M78 604h0M81 579h0M66 533h0M62 702h0M58 694h0M56 659h0M58 656h0M58 638h0M60 635h0M61 631h0M54 706h0M53 689h0M48 699h0M47 696h0M46 675h0M48 672h0M45 601h0M43 713h0M40 677h0M38 708h0M38 691h0M36 685h0M35 682h0M33 679h0M32 672h0M34 638h0M37 587h0M45 566h0M45 560h0M29 696h0M28 692h0M26 679h0M23 682h0M24 670h0M20 606h0M17 718h0M16 718h0M14 691h0M13 673h0M15 669h0M13 658h0M11 652h0M9 644h0M14 641h0M6 656h0M9 623h0M17 599h0M36 543h0M18 513h0M-20 718h0M-19 705h0M-18 701h0M-17 698h0M-19 695h0M-14 660h0M-12 655h0M-17 652h0M-20 649h0M-14 646h0M-11 643h0M-17 639h0M-20 625h0M-13 622h0M-9 612h0M-7 609h0M-5 587h0M-3 584h0M-35 706h0M-32 664h0M-30 644h0M-37 694h0M-37 691h0M-42 700h0M-43 697h0M-41 694h0M-36 637h0M-33 634h0M-36 630h0M-36 623h0M-31 620h0M-28 617h0M-35 614h0M-59 716h0M-60 713h0M-60 706h0M-57 703h0M-55 700h0M-54 697h0M-57 694h0M-48 643h0M-39 575h0M-20 548h0M-10 533h0M-61 666h0M-26 526h0M-75 714h0M-72 691h0M-74 685h0M-71 682h0M-73 678h0M-76 666h0M-81 686h0M-81 683h0M-77 663h0M-79 659h0M-76 629h0M-72 626h0M-67 624h0M-63 621h0M-70 617h0M-63 603h0M-58 581h0M-92 702h0M-95 695h0M-92 664h0M-101 711h0M-102 711h0M-92 655h0M-81 610h0M-71 544h0M-2 486h0M24 482h0M13 476h0M-29 471h0M-125 704h0M-126 700h0M-120 668h0M-121 665h0M-115 627h0M-111 624h0M-107 615h0M-134 705h0M-107 591h0M-103 588h0M-100 585h0M-132 664h0M-129 654h0M-130 650h0M-128 648h0M-107 581h0M-101 579h0M-97 576h0M-95 573h0M-92 570h0M-111 561h0M-98 554h0M-148 675h0M-148 666h0M-144 656h0M-141 649h0M-143 645h0M-160 688h0M-141 621h0M-167 698h0M-162 659h0M-161 652h0M-159 649h0M-153 617h0M-173 684h0M-180 695h0M-170 661h0M-162 634h0M-154 614h0M-156 610h0M-151 608h0M-188 693h0M-181 671h0M-182 668h0M-179 665h0M-177 663h0M-157 600h0M-160 596h0M-190 682h0M-162 592h0M-163 588h0M-151 588h0M-144 586h0M-147 557h0M-200 690h0M-200 678h0M-199 669h0M-197 667h0M-187 637h0M-184 634h0M-187 630h0M-181 602h0M-176 600h0M-154 552h0M-160 547h0M-134 516h0M-122 515h0M-111 515h0M-95 514h0M-120 503h0M-59 465h0M-99 455h0M-203 639h0M-201 636h0M-221 683h0M-222 681h0M-223 668h0M-216 636h0M-233 663h0M-225 643h0M-225 640h0M-223 637h0M-220 635h0M-222 631h0M-213 619h0M-211 600h0M-199 594h0M-205 588h0M-194 573h0M-190 571h0M-194 563h0M-181 548h0M-175 546h0M-185 540h0M-190 534h0M-192 530h0M-193 526h0M-128 440h0M-143 432h0M-45 449h0M-258 670h0M-257 670h0M-233 609h0M-248 633h0M-240 610h0M-267 666h0M-266 667h0M-262 645h0M-243 599h0M-274 643h0M-280 636h0M-278 633h0M-275 631h0M-266 614h0M-263 612h0M-258 597h0M-298 653h0M-291 641h0M-262 592h0M-243 563h0M-250 552h0M-235 552h0M-243 545h0M-296 611h0M-282 587h0M-303 603h0M-316 615h0M-316 612h0M-315 608h0M-306 595h0M-307 592h0M-307 587h0M-302 574h0M-297 573h0M-298 569h0M-295 560h0M-288 556h0M-282 556h0M-277 555h0M-274 553h0M-269 552h0M-278 536h0M-266 539h0M-271 529h0M-268 506h0M-248 499h0M-236 502h0M-217 491h0M-209 490h0M-204 489h0M-228 475h0M-240 465h0M-213 475h0M-197 478h0M-173 438h0M-333 591h0M-331 588h0M-357 617h0M-327 569h0M-324 567h0M-325 563h0M-325 559h0M-325 555h0M-318 555h0M-320 550h0M-321 543h0M-318 535h0M-311 520h0M-301 522h0M-304 516h0M-289 505h0M-274 480h0M-381 609h0M-347 554h0M-351 552h0M-347 551h0M-343 550h0M-344 545h0M-339 544h0M-335 543h0M-332 541h0M-281 461h0M-371 573h0M-375 567h0M-374 559h0M-372 557h0M-371 553h0M-356 535h0M-353 533h0M-395 581h0M-390 571h0M-387 569h0M-360 526h0M-348 518h0M-387 558h0M-375 537h0M-341 511h0M-328 478h0M-320 479h0M-325 472h0M-326 467h0M-325 461h0M-314 452h0M-289 444h0M-275 450h0M-420 582h0M-385 536h0M-389 536h0M-426 578h0M-407 549h0M-382 518h0M-379 517h0M-421 563h0M-405 540h0M-380 512h0M-380 508h0M-380 504h0M-375 500h0M-368 501h0M-420 534h0M-419 531h0M-415 528h0M-432 544h0M-416 521h0M-412 520h0M-408 519h0M-428 523h0M-426 521h0M-423 520h0M-420 518h0M-417 516h0M-398 495h0M-399 490h0M-447 535h0M-445 532h0M-455 536h0M-453 534h0M-444 525h0M-429 510h0M-411 493h0M-412 488h0M-395 476h0M-424 494h0M-368 435h0M-367 429h0M-471 536h0M-451 506h0M-470 519h0M-462 513h0M-485 530h0M-462 509h0M-441 483h0M-440 479h0M-425 475h0M-427 469h0M-428 465h0M-402 448h0M-397 448h0M-401 441h0M-394 443h0M-389 438h0M-369 423h0M-356 430h0M-347 433h0M-342 434h0M-354 411h0M-361 401h0M-498 517h0M-499 516h0M-490 505h0M-480 498h0M-475 493h0M-434 455h0M-428 451h0M-425 441h0M-425 436h0M-509 507h0M-481 481h0M-450 451h0M-447 450h0M-444 448h0M-424 432h0M-488 482h0M-470 463h0M-510 495h0M-495 481h0M-460 443h0M-459 440h0M-445 424h0M-427 425h0M-430 417h0M-384 367h0M-357 368h0M-363 357h0M-366 351h0M-526 475h0M-524 472h0M-505 453h0M-480 433h0M-479 430h0M-474 430h0M-467 428h0M-457 417h0M-542 461h0M-525 449h0M-522 448h0M-519 446h0M-548 463h0M-509 428h0M-503 425h0M-497 427h0M-493 427h0M-489 427h0M-474 404h0M-470 399h0M-451 394h0M-422 364h0M-551 452h0M-515 424h0M-423 357h0M-560 450h0M-520 419h0M-533 422h0M-531 419h0M-528 418h0M-501 399h0M-500 395h0M-495 396h0M-495 391h0M-568 439h0M-495 386h0M-494 382h0M-467 358h0M-459 363h0M-454 364h0M-456 356h0M-449 345h0M-443 337h0M-442 334h0M-430 344h0M-433 335h0M-577 427h0M-570 417h0M-568 414h0M-520 383h0M-581 416h0M-506 372h0M-505 362h0M-504 358h0M-502 355h0M-429 309h0M-416 315h0M-578 395h0M-547 368h0M-543 368h0M-542 364h0M-537 365h0M-533 360h0M-507 347h0M-386 317h0M-353 313h0M-320 343h0M-301 355h0M-290 360h0M-268 353h0M-232 373h0M-334 276h0M-589 379h0M-568 367h0M-564 365h0M-604 381h0M-595 376h0M-585 368h0M-574 363h0M-569 361h0M-570 355h0M-522 328h0M-575 350h0M-550 333h0M-589 352h0M-548 330h0M-526 321h0M-521 323h0M-516 325h0M-617 367h0M-518 317h0M-511 322h0M-513 313h0M-512 307h0M-511 303h0M-459 286h0M-460 277h0M-348 252h0M-213 370h0M-78 416h0M29 416h0M47 411h0M-184 367h0M-280 297h0M-317 251h0M-120 307h0M-600 337h0M-562 315h0M-551 307h0M-549 305h0M-543 301h0M-541 298h0M-536 300h0M-532 300h0M-619 329h0M-615 328h0M-602 317h0M-535 284h0M-531 285h0M-503 282h0M-600 287h0M-592 286h0M-590 282h0M-586 283h0M-622 289h0M-619 287h0M-616 287h0M-614 284h0M-565 264h0M-533 252h0M-507 249h0M-502 237h0M-497 241h0M-632 282h0M-599 266h0M-580 260h0M-562 250h0M-481 223h0M-614 265h0M-621 260h0M-605 254h0M-598 250h0M-594 250h0M-592 247h0M-558 237h0M-548 227h0M-543 230h0M-539 232h0M-535 232h0M-534 221h0M-627 249h0M-624 248h0M-619 245h0M-615 246h0M-555 217h0M-492 198h0M-485 198h0M-474 215h0M-467 215h0M-460 222h0M-455 225h0M-462 202h0M-596 224h0M-639 235h0M-637 233h0M-627 228h0M-598 219h0M-594 220h0M-590 221h0M-664 236h0M-574 206h0M-466 185h0M-454 205h0M-460 184h0M-448 203h0M-440 213h0M-434 217h0M-430 218h0M-649 223h0M-677 229h0M-656 222h0M-646 220h0M-681 227h0M-681 226h0M-634 210h0M-661 214h0M-637 205h0M-580 189h0M-575 192h0M-574 187h0M-572 183h0M-566 189h0M-419 178h0M-409 193h0M-402 200h0M-413 167h0M-385 202h0M-665 196h0M-606 179h0M-690 199h0M-687 199h0M-643 185h0M-588 168h0M-586 166h0M-578 170h0M-576 165h0M-572 168h0M-570 163h0M-565 167h0M-532 160h0M-693 189h0M-694 185h0M-671 178h0M-663 175h0M-646 170h0M-616 164h0M-594 160h0M-591 161h0M-678 171h0M-675 171h0M-638 161h0M-608 156h0M-606 152h0M-532 148h0M-532 138h0M-530 133h0M-527 130h0M-524 127h0M-522 125h0M-514 141h0M-509 148h0M-503 144h0M-488 120h0M-360 136h0M-647 141h0M-645 140h0M-682 145h0M-676 142h0M-643 135h0M-641 133h0M-638 131h0M-651 129h0M-697 135h0M-635 124h0M-630 125h0M-687 127h0M-660 123h0M-644 118h0M-640 119h0M-637 116h0M-635 114h0M-593 110h0M-591 106h0M-588 104h0M-585 102h0M-570 106h0M-567 101h0M-559 111h0M-555 116h0M-552 98h0M-642 100h0M-638 101h0M-622 98h0M-615 99h0M-511 85h0M-505 99h0M-500 91h0M-679 99h0M-653 95h0M-650 93h0M-643 94h0M-700 93h0M-680 90h0M-648 84h0M-640 82h0M-631 84h0M-629 81h0M-626 79h0M-616 76h0M-586 78h0M-557 70h0M-531 63h0M-468 71h0M-307 80h0M-709 74h0M-706 75h0M-639 67h0M-636 68h0M-684 66h0M-553 57h0M-546 51h0M-712 60h0M-626 53h0M-623 51h0M-639 46h0M-618 46h0M-584 46h0M-556 41h0M-519 39h0M-516 48h0M-701 44h0M-641 41h0M-513 40h0M-510 36h0M-506 46h0M-714 39h0M-646 36h0M-680 30h0M-662 31h0M-623 31h0M-718 25h0M-689 25h0M-645 25h0M-577 26h0M-574 22h0M-571 20h0M-568 18h0M-565 17h0M-653 7h0M-631 8h0M-619 9h0M-718-1h0M-662 0h0M-656 1h0M-647 2h0M-644 0h0M-716-12h0M-638-12h0M-635-10h0M-631-12h0M-628-14h0M-595-10h0M-592-13h0M-589-9h0M-585-13h0M-582-9h0M-532-11h0M-526-4h0M-522-11h0M-516-3h0M-497 2h0M-494 6h0M-694-24h0M-677-24h0M-488-5h0M-484-12h0M-481-1h0M-478-10h0M-471-18h0M-468-20h0M-462-22h0M-459-5h0M-453-1h0M-446 15h0M-443-4h0M-639-36h0M-633-37h0M-688-48h0M-685-47h0M-582-39h0M-565-36h0M-562-33h0M-440-15h0M-437 5h0M-358-11h0M-295 21h0M-690-62h0M-687-63h0M-641-58h0M-596-56h0M-672-70h0M-665-78h0M-662-76h0M-655-74h0M-687-84h0M-646-78h0M-628-77h0M-584-69h0M-581-71h0M-578-67h0M-574-70h0M-666-88h0M-655-86h0M-571-72h0M-568-67h0M-565-71h0M-681-95h0M-674-96h0M-544-72h0M-540-75h0M-535-61h0M-532-57h0M-530-55h0M-525-66h0M-521-72h0M-662-103h0M-664-107h0M-632-103h0M-617-99h0M-614-97h0M-611-95h0M-608-97h0M-581-90h0M-517-76h0M-513-81h0M-510-83h0M-506-84h0M-506-67h0M-501-76h0M-484-59h0M-482-50h0M-479-45h0M-476-42h0M-471-62h0M-467-43h0M-464-39h0M-657-126h0M-650-125h0M-646-126h0M-610-120h0M-606-120h0M-593-115h0M-574-109h0M-571-107h0M-669-144h0M-667-142h0M-658-143h0M-605-129h0M-589-124h0M-701-157h0M-676-152h0M-621-141h0M-564-121h0M-692-165h0M-689-164h0M-657-154h0M-613-146h0M-564-132h0M-517-116h0M-685-170h0M-692-177h0M-658-167h0M-592-152h0M-589-152h0M-586-149h0M-548-137h0M-544-140h0M-542-136h0M-538-139h0M-677-182h0M-667-180h0M-506-123h0M-505-113h0M-494-129h0M-480-113h0M-451-115h0M-436-101h0M-435-90h0M-667-200h0M-615-184h0M-609-181h0M-656-209h0M-599-192h0M-669-217h0M-584-186h0M-579-181h0M-575-184h0M-571-186h0M-554-182h0M-538-171h0M-533-174h0M-532-168h0M-530-165h0M-523-164h0M-501-161h0M-500-154h0M-498-149h0M-496-146h0M-489-155h0M-488-148h0M-486-143h0M-415-111h0M-392-120h0M-396-57h0M-386-93h0M-295-87h0M-69 51h0M-18 80h0M66 13h0M61-11h0"/></defs><use href="#bdots" stroke="#a8a8ae" stroke-width="10.4" stroke-linecap="round" fill="none"/><use href="#bdots" stroke="#d2d2d5" stroke-width="6.8" stroke-linecap="round" fill="none"/></g>
<text x="20.8" y="37.2" font-size="10.2" font-weight="bold" fill="#1e1e1e" stroke="#1e1e1e" stroke-width="0.08">a</text>
<text x="277.8" y="37.2" font-size="10.5" font-weight="bold" fill="#1e1e1e" stroke="#1e1e1e" stroke-width="0.08">b</text>
<text x="278.8" y="429.8" font-size="10.2" font-weight="bold" fill="#1e1e1e" stroke="#1e1e1e" stroke-width="0.08">c</text>
<text x="101.4" y="141" font-size="10.2" textLength="35" lengthAdjust="spacingAndGlyphs" fill="#1e1e1e" stroke="#1e1e1e" stroke-width="0.22">FlaHase</text>
<text x="93.8" y="392" font-size="10.4" textLength="35.2" lengthAdjust="spacingAndGlyphs" fill="#1e1e1e" stroke="#1e1e1e" stroke-width="0.22">HyDase</text>
<text x="114.8" y="643.4" font-size="10.2" textLength="27.2" lengthAdjust="spacingAndGlyphs" fill="#1e1e1e" stroke="#1e1e1e" stroke-width="0.22">RDase</text>
<path d="M31.4 73.8L25.2 70.4" stroke="#2a2a2a" stroke-width="1.05"/><path d="M24.5 70L18.6 66.8" stroke="#2a2a2a" stroke-width="1.05"/><text x="20.2" y="79.6" font-size="10.4" text-anchor="middle" fill="#1e1e1e" stroke="#1e1e1e" stroke-width="0.22">2</text><text x="26.5" y="83.6" font-size="10.4" text-anchor="middle" fill="#1e1e1e" stroke="#1e1e1e" stroke-width="0.22">1</text>
<path d="M31.3 324.4L25.3 321.2" stroke="#2a2a2a" stroke-width="1.05"/><path d="M24.6 320.8L18.7 317.6" stroke="#2a2a2a" stroke-width="1.05"/><text x="20.2" y="330.1" font-size="10.4" text-anchor="middle" fill="#1e1e1e" stroke="#1e1e1e" stroke-width="0.22">2</text><text x="26.5" y="334.1" font-size="10.4" text-anchor="middle" fill="#1e1e1e" stroke="#1e1e1e" stroke-width="0.22">1</text>
<path d="M33.3 573.8L27.7 570.7" stroke="#2a2a2a" stroke-width="1.05"/><path d="M27 570.4L21 567.2" stroke="#2a2a2a" stroke-width="1.05"/><text x="22" y="578.2" font-size="10.4" text-anchor="middle" fill="#1e1e1e" stroke="#1e1e1e" stroke-width="0.22">2</text><text x="28.3" y="582.2" font-size="10.4" text-anchor="middle" fill="#1e1e1e" stroke="#1e1e1e" stroke-width="0.22">1</text>
<path d="M310.5 125.3L302.1 120.6" stroke="#2a2a2a" stroke-width="1.05"/><path d="M301 120L284.6 111" stroke="#2a2a2a" stroke-width="1.05"/><text x="289.6" y="127.1" font-size="12.6" text-anchor="middle" fill="#1e1e1e" stroke="#1e1e1e" stroke-width="0.22">3</text><text x="302.4" y="134.8" font-size="12.6" text-anchor="middle" fill="#1e1e1e" stroke="#1e1e1e" stroke-width="0.22">2</text>
<rect x="288.6" y="451.3" width="126.5" height="1.2" fill="#b4b4b4"/><rect x="294.9" y="452.6" width="19.5" height="43.7" fill="#dfe6ee"/><rect x="294.9" y="494.8" width="19.5" height="1.5" fill="#6fa9d4"/><text x="305.9" y="506.8" font-size="9.2" textLength="28.5" lengthAdjust="spacingAndGlyphs" text-anchor="middle" fill="#1e1e1e" stroke="#1e1e1e" stroke-width="0.22" transform="rotate(-14 305.9 503.5)">phylum</text><rect x="319.3" y="452.6" width="19.5" height="43.7" fill="#dfe6ee"/><rect x="319.3" y="494.1" width="19.5" height="2.2" fill="#6fa9d4"/><text x="330.3" y="506.8" font-size="9.2" textLength="18.5" lengthAdjust="spacingAndGlyphs" text-anchor="middle" fill="#1e1e1e" stroke="#1e1e1e" stroke-width="0.22" transform="rotate(-14 330.3 503.5)">class</text><rect x="343.7" y="452.6" width="19.5" height="43.7" fill="#dfe6ee"/><rect x="343.7" y="491" width="19.5" height="5.3" fill="#6fa9d4"/><text x="354.8" y="506.8" font-size="9.2" textLength="20.8" lengthAdjust="spacingAndGlyphs" text-anchor="middle" fill="#1e1e1e" stroke="#1e1e1e" stroke-width="0.22" transform="rotate(-14 354.8 503.5)">order</text><rect x="368.1" y="452.6" width="19.5" height="43.7" fill="#dfe6ee"/><rect x="368.1" y="484.4" width="19.5" height="11.9" fill="#6fa9d4"/><text x="379.1" y="506.8" font-size="9.2" textLength="23.6" lengthAdjust="spacingAndGlyphs" text-anchor="middle" fill="#1e1e1e" stroke="#1e1e1e" stroke-width="0.22" transform="rotate(-14 379.1 503.5)">family</text><rect x="392.5" y="452.6" width="19.5" height="43.7" fill="#dfe6ee"/><rect x="392.5" y="475.2" width="19.5" height="21.1" fill="#6fa9d4"/><text x="403.6" y="506.8" font-size="9.2" textLength="22" lengthAdjust="spacingAndGlyphs" text-anchor="middle" fill="#1e1e1e" stroke="#1e1e1e" stroke-width="0.22" transform="rotate(-14 403.6 503.5)">genus</text><path d="M290.6 451.8V496.3H414.6V451.8" stroke="#4a4a4a" stroke-width="0.9" fill="none"/><path d="M288.4 496.3h2.2M289.3 491.9h1.3M288.4 487.5h2.2M289.3 483.1h1.3M288.4 478.7h2.2M289.3 474.3h1.3M288.4 469.9h2.2M289.3 465.5h1.3M288.4 461.1h2.2M289.3 456.7h1.3M288.4 452.3h2.2" stroke="#4a4a4a" stroke-width="0.8"/><text x="291.6" y="448.9" font-size="9.6" textLength="30.4" lengthAdjust="spacingAndGlyphs" fill="#1e1e1e" stroke="#1e1e1e" stroke-width="0.22">FlaHase</text>
<rect x="420.6" y="451.3" width="126.5" height="1.2" fill="#b4b4b4"/><rect x="427.4" y="452.6" width="19.5" height="43.7" fill="#dfe6ee"/><rect x="427.4" y="493.7" width="19.5" height="2.6" fill="#6fa9d4"/><text x="438.5" y="506.8" font-size="9.2" textLength="28.5" lengthAdjust="spacingAndGlyphs" text-anchor="middle" fill="#1e1e1e" stroke="#1e1e1e" stroke-width="0.22" transform="rotate(-14 438.5 503.5)">phylum</text><rect x="451.8" y="452.6" width="19.5" height="43.7" fill="#dfe6ee"/><rect x="451.8" y="491.5" width="19.5" height="4.8" fill="#6fa9d4"/><text x="462.9" y="506.8" font-size="9.2" textLength="18.5" lengthAdjust="spacingAndGlyphs" text-anchor="middle" fill="#1e1e1e" stroke="#1e1e1e" stroke-width="0.22" transform="rotate(-14 462.9 503.5)">class</text><rect x="476.2" y="452.6" width="19.5" height="43.7" fill="#dfe6ee"/><rect x="476.2" y="479.6" width="19.5" height="16.7" fill="#6fa9d4"/><text x="487.3" y="506.8" font-size="9.2" textLength="20.8" lengthAdjust="spacingAndGlyphs" text-anchor="middle" fill="#1e1e1e" stroke="#1e1e1e" stroke-width="0.22" transform="rotate(-14 487.3 503.5)">order</text><rect x="500.6" y="452.6" width="19.5" height="43.7" fill="#dfe6ee"/><rect x="500.6" y="468.6" width="19.5" height="27.7" fill="#6fa9d4"/><text x="511.7" y="506.8" font-size="9.2" textLength="23.6" lengthAdjust="spacingAndGlyphs" text-anchor="middle" fill="#1e1e1e" stroke="#1e1e1e" stroke-width="0.22" transform="rotate(-14 511.7 503.5)">family</text><rect x="525" y="452.6" width="19.5" height="43.7" fill="#dfe6ee"/><rect x="525" y="460.2" width="19.5" height="36.1" fill="#6fa9d4"/><text x="536" y="506.8" font-size="9.2" textLength="22" lengthAdjust="spacingAndGlyphs" text-anchor="middle" fill="#1e1e1e" stroke="#1e1e1e" stroke-width="0.22" transform="rotate(-14 536 503.5)">genus</text><path d="M422.6 451.8V496.3H546.6V451.8" stroke="#4a4a4a" stroke-width="0.9" fill="none"/><path d="M420.4 496.3h2.2M421.3 491.9h1.3M420.4 487.5h2.2M421.3 483.1h1.3M420.4 478.7h2.2M421.3 474.3h1.3M420.4 469.9h2.2M421.3 465.5h1.3M420.4 461.1h2.2M421.3 456.7h1.3M420.4 452.3h2.2" stroke="#4a4a4a" stroke-width="0.8"/><text x="423.6" y="448.9" font-size="9.6" textLength="29.2" lengthAdjust="spacingAndGlyphs" fill="#1e1e1e" stroke="#1e1e1e" stroke-width="0.22">HyDase</text>
<rect x="553.6" y="451.3" width="126.5" height="1.2" fill="#b4b4b4"/><rect x="560.4" y="452.6" width="19.5" height="43.7" fill="#dfe6ee"/><rect x="560.4" y="493.2" width="19.5" height="3.1" fill="#6fa9d4"/><text x="571.4" y="506.8" font-size="9.2" textLength="28.5" lengthAdjust="spacingAndGlyphs" text-anchor="middle" fill="#1e1e1e" stroke="#1e1e1e" stroke-width="0.22" transform="rotate(-14 571.4 503.5)">phylum</text><rect x="584.8" y="452.6" width="19.5" height="43.7" fill="#dfe6ee"/><rect x="584.8" y="486.6" width="19.5" height="9.7" fill="#6fa9d4"/><text x="595.8" y="506.8" font-size="9.2" textLength="18.5" lengthAdjust="spacingAndGlyphs" text-anchor="middle" fill="#1e1e1e" stroke="#1e1e1e" stroke-width="0.22" transform="rotate(-14 595.8 503.5)">class</text><rect x="609.2" y="452.6" width="19.5" height="43.7" fill="#dfe6ee"/><rect x="609.2" y="475.2" width="19.5" height="21.1" fill="#6fa9d4"/><text x="620.2" y="506.8" font-size="9.2" textLength="20.8" lengthAdjust="spacingAndGlyphs" text-anchor="middle" fill="#1e1e1e" stroke="#1e1e1e" stroke-width="0.22" transform="rotate(-14 620.2 503.5)">order</text><rect x="633.6" y="452.6" width="19.5" height="43.7" fill="#dfe6ee"/><rect x="633.6" y="458" width="19.5" height="38.3" fill="#6fa9d4"/><text x="644.6" y="506.8" font-size="9.2" textLength="23.6" lengthAdjust="spacingAndGlyphs" text-anchor="middle" fill="#1e1e1e" stroke="#1e1e1e" stroke-width="0.22" transform="rotate(-14 644.6 503.5)">family</text><rect x="658" y="452.6" width="19.5" height="43.7" fill="#dfe6ee"/><rect x="658" y="455.8" width="19.5" height="40.5" fill="#6fa9d4"/><text x="669" y="506.8" font-size="9.2" textLength="22" lengthAdjust="spacingAndGlyphs" text-anchor="middle" fill="#1e1e1e" stroke="#1e1e1e" stroke-width="0.22" transform="rotate(-14 669 503.5)">genus</text><path d="M555.6 451.8V496.3H679.6V451.8" stroke="#4a4a4a" stroke-width="0.9" fill="none"/><path d="M553.4 496.3h2.2M554.3 491.9h1.3M553.4 487.5h2.2M554.3 483.1h1.3M553.4 478.7h2.2M554.3 474.3h1.3M553.4 469.9h2.2M554.3 465.5h1.3M553.4 461.1h2.2M554.3 456.7h1.3M553.4 452.3h2.2" stroke="#4a4a4a" stroke-width="0.8"/><text x="556.6" y="448.9" font-size="9.6" textLength="24.2" lengthAdjust="spacingAndGlyphs" fill="#1e1e1e" stroke="#1e1e1e" stroke-width="0.22">RDase</text>
<text x="286.9" y="498.5" font-size="9.6" textLength="4.6" lengthAdjust="spacingAndGlyphs" text-anchor="end" fill="#1e1e1e" stroke="#1e1e1e" stroke-width="0.22">0</text>
<text x="286.9" y="489.7" font-size="9.6" textLength="9.4" lengthAdjust="spacingAndGlyphs" text-anchor="end" fill="#1e1e1e" stroke="#1e1e1e" stroke-width="0.22">20</text>
<text x="286.9" y="480.9" font-size="9.6" textLength="9.4" lengthAdjust="spacingAndGlyphs" text-anchor="end" fill="#1e1e1e" stroke="#1e1e1e" stroke-width="0.22">40</text>
<text x="286.9" y="472.1" font-size="9.6" textLength="9.4" lengthAdjust="spacingAndGlyphs" text-anchor="end" fill="#1e1e1e" stroke="#1e1e1e" stroke-width="0.22">60</text>
<text x="286.9" y="463.3" font-size="9.6" textLength="9.4" lengthAdjust="spacingAndGlyphs" text-anchor="end" fill="#1e1e1e" stroke="#1e1e1e" stroke-width="0.22">80</text>
<text x="286.9" y="454.5" font-size="9.6" textLength="13.2" lengthAdjust="spacingAndGlyphs" text-anchor="end" fill="#1e1e1e" stroke="#1e1e1e" stroke-width="0.22">100</text>
<text x="0" y="0" font-size="8.6" textLength="56" lengthAdjust="spacingAndGlyphs" text-anchor="middle" fill="#1e1e1e" stroke="#1e1e1e" stroke-width="0.22" transform="translate(268.2 474.2) rotate(-90)">Percentage (%)</text>
<text x="311.1" y="526" font-size="8.9" textLength="67.7" lengthAdjust="spacingAndGlyphs" fill="#1e1e1e" stroke="#1e1e1e" stroke-width="0.22">functionally novel</text>
<text x="384.4" y="526.2" font-size="8.9" fill="#1e1e1e" stroke="#1e1e1e" stroke-width="0.22">(</text>
<rect x="389" y="519" width="11.1" height="10" fill="#6fa9d4"/>
<text x="401.8" y="526.2" font-size="8.9" fill="#1e1e1e" stroke="#1e1e1e" stroke-width="0.22">)</text>
<text x="408.6" y="526" font-size="8.9" textLength="15.2" lengthAdjust="spacingAndGlyphs" fill="#1e1e1e" stroke="#1e1e1e" stroke-width="0.22">and</text>
<text x="428.5" y="526" font-size="8.9" textLength="24.8" lengthAdjust="spacingAndGlyphs" fill="#1e1e1e" stroke="#1e1e1e" stroke-width="0.22">known</text>
<text x="458.7" y="526.2" font-size="8.9" fill="#1e1e1e" stroke="#1e1e1e" stroke-width="0.22">(</text>
<rect x="463.5" y="519" width="11.1" height="10" fill="#dfe6ee"/>
<text x="475.6" y="526.2" font-size="8.9" fill="#1e1e1e" stroke="#1e1e1e" stroke-width="0.22">)</text>
<text x="483.4" y="526" font-size="8.9" textLength="162.4" lengthAdjust="spacingAndGlyphs" fill="#1e1e1e" stroke="#1e1e1e" stroke-width="0.22">halogenase/dehalogenase-containing taxa</text>
<rect x="293.2" y="544.1" width="372.8" height="1.4" fill="#5a5a5a"/>
<rect x="293.2" y="575.8" width="372.8" height="0.9" fill="#6e6e6e"/>
<rect x="293.2" y="606.9" width="372.8" height="1.4" fill="#5a5a5a"/>
<rect x="293.2" y="629.4" width="372.8" height="0.9" fill="#6e6e6e"/>
<rect x="293.2" y="698.9" width="372.8" height="0.9" fill="#6e6e6e"/>
<rect x="293.2" y="717.9" width="372.8" height="0.9" fill="#6e6e6e"/>
<rect x="293.2" y="739.8" width="372.8" height="1.4" fill="#5a5a5a"/>
<text x="305.3" y="557.9" font-size="8.9" font-weight="bold" textLength="113.8" lengthAdjust="spacingAndGlyphs" fill="#1e1e1e" stroke="#1e1e1e" stroke-width="0.08">Protein-based tree branch (a)</text>
<rect x="427" y="555.6" width="8" height="2" fill="#2f9b4f"/>
<text x="440.7" y="557.9" font-size="8.9" textLength="19.9" lengthAdjust="spacingAndGlyphs" fill="#1e1e1e" stroke="#1e1e1e" stroke-width="0.22">novel</text>
<rect x="468.8" y="555.6" width="7.8" height="2" fill="#f2982f"/>
<text x="481.6" y="557.9" font-size="8.9" textLength="127.9" lengthAdjust="spacingAndGlyphs" fill="#1e1e1e" stroke="#1e1e1e" stroke-width="0.22">known halogenase/dehalogenase</text>
<rect x="427" y="566" width="8" height="2" fill="#e8452c"/>
<text x="440.7" y="569" font-size="8.9" textLength="199.6" lengthAdjust="spacingAndGlyphs" fill="#1e1e1e" stroke="#1e1e1e" stroke-width="0.22">halogenase/dehalogenase being absent in this study</text>
<text x="304.4" y="589.2" font-size="8.9" font-weight="bold" textLength="106.6" lengthAdjust="spacingAndGlyphs" fill="#1e1e1e" stroke="#1e1e1e" stroke-width="0.08">MAG-based tree branch (b)</text>
<rect x="305.8" y="598" width="7.6" height="2" fill="#e0474c"/>
<text x="318.1" y="601.4" font-size="8.9" textLength="68" lengthAdjust="spacingAndGlyphs" fill="#1e1e1e" stroke="#1e1e1e" stroke-width="0.22">functionally novel</text>
<rect x="390.5" y="598" width="7.3" height="2" fill="#8c8c8c"/>
<text x="401.6" y="601.4" font-size="8.9" textLength="24.8" lengthAdjust="spacingAndGlyphs" fill="#1e1e1e" stroke="#1e1e1e" stroke-width="0.22">known</text>
<text x="432.8" y="601.4" font-size="8.9" textLength="161" lengthAdjust="spacingAndGlyphs" fill="#1e1e1e" stroke="#1e1e1e" stroke-width="0.22">halogenase/dehalogenase-containing taxa</text>
<text x="304.4" y="621.8" font-size="8.9" font-weight="bold" textLength="33" lengthAdjust="spacingAndGlyphs" fill="#1e1e1e" stroke="#1e1e1e" stroke-width="0.08">Circle_1:</text>
<text x="340.3" y="621.8" font-size="8.9" textLength="44.4" lengthAdjust="spacingAndGlyphs" fill="#1e1e1e" stroke="#1e1e1e" stroke-width="0.22">Length (AA)</text>
<rect x="396.4" y="615.4" width="9.3" height="9.3" fill="#b3c2d3"/>
<text x="409.5" y="621.8" font-size="8.9" textLength="32.1" lengthAdjust="spacingAndGlyphs" fill="#1e1e1e" stroke="#1e1e1e" stroke-width="0.22">(0 - 500]</text>
<rect x="454.2" y="615.4" width="9.9" height="9.3" fill="#7fb6de"/>
<text x="467.9" y="621.8" font-size="8.9" textLength="45.2" lengthAdjust="spacingAndGlyphs" fill="#1e1e1e" stroke="#1e1e1e" stroke-width="0.22">(500 - 1000]</text>
<rect x="525.5" y="615.4" width="9.7" height="9.3" fill="#3d4c5c"/>
<text x="538.6" y="621.8" font-size="8.9" textLength="46.5" lengthAdjust="spacingAndGlyphs" fill="#1e1e1e" stroke="#1e1e1e" stroke-width="0.22">(1000-1500]</text>
<text x="304.4" y="640.2" font-size="8.9" font-weight="bold" textLength="33" lengthAdjust="spacingAndGlyphs" fill="#1e1e1e" stroke="#1e1e1e" stroke-width="0.08">Circle_2:</text>
<text x="340.3" y="640.2" font-size="8.9" textLength="26.6" lengthAdjust="spacingAndGlyphs" fill="#1e1e1e" stroke="#1e1e1e" stroke-width="0.22">Phylum</text>
<rect x="311.1" y="646.8" width="9.9" height="9.5" fill="#f1c452"/>
<text x="324.8" y="654.1" font-size="8.9" textLength="64.2" lengthAdjust="spacingAndGlyphs" fill="#1e1e1e" stroke="#1e1e1e" stroke-width="0.22">Asgardarchaeota</text>
<rect x="311.1" y="659.3" width="9.9" height="9.5" fill="#7dbf9f"/>
<text x="324.8" y="666.6" font-size="8.9" textLength="62.8" lengthAdjust="spacingAndGlyphs" fill="#1e1e1e" stroke="#1e1e1e" stroke-width="0.22">Thermoproteota</text>
<rect x="311.1" y="671.7" width="9.9" height="9.5" fill="#a8cc70"/>
<text x="324.8" y="679" font-size="8.9" textLength="66.6" lengthAdjust="spacingAndGlyphs" fill="#1e1e1e" stroke="#1e1e1e" stroke-width="0.22">Pseudomonadota</text>
<rect x="311.1" y="684.2" width="9.9" height="9.5" fill="#c18fca"/>
<text x="324.8" y="691.5" font-size="8.9" textLength="51.1" lengthAdjust="spacingAndGlyphs" fill="#1e1e1e" stroke="#1e1e1e" stroke-width="0.22">Chloroflexota</text>
<rect x="396.4" y="646.8" width="9.9" height="9.5" fill="#e98a6c"/>
<text x="409.5" y="654.1" font-size="8.9" textLength="65.7" lengthAdjust="spacingAndGlyphs" fill="#1e1e1e" stroke="#1e1e1e" stroke-width="0.22">Desulfobacterota</text>
<rect x="396.4" y="659.3" width="9.9" height="9.5" fill="#a08b3c"/>
<text x="409.5" y="666.6" font-size="8.9" textLength="59.8" lengthAdjust="spacingAndGlyphs" fill="#1e1e1e" stroke="#1e1e1e" stroke-width="0.22">Actinomycetota</text>
<rect x="396.4" y="671.7" width="9.9" height="9.5" fill="#bf5b78"/>
<text x="409.5" y="679" font-size="8.9" textLength="64.2" lengthAdjust="spacingAndGlyphs" fill="#1e1e1e" stroke="#1e1e1e" stroke-width="0.22">Planctomycetota</text>
<rect x="396.4" y="684.2" width="9.9" height="9.5" fill="#9a98cd"/>
<text x="409.5" y="691.5" font-size="8.9" textLength="48.7" lengthAdjust="spacingAndGlyphs" fill="#1e1e1e" stroke="#1e1e1e" stroke-width="0.22">Bacteroidota</text>
<rect x="481.5" y="646.8" width="9.9" height="9.5" fill="#2f60ad"/>
<text x="496.5" y="654.1" font-size="8.9" textLength="60.7" lengthAdjust="spacingAndGlyphs" fill="#1e1e1e" stroke="#1e1e1e" stroke-width="0.22">Myxococcota_A</text>
<rect x="481.5" y="659.3" width="9.9" height="9.5" fill="#e4e4f2"/>
<text x="496.5" y="666.6" font-size="8.9" textLength="74.2" lengthAdjust="spacingAndGlyphs" fill="#1e1e1e" stroke="#1e1e1e" stroke-width="0.22">Gemmatimonadota</text>
<rect x="481.5" y="671.7" width="9.9" height="9.5" fill="#6babd5"/>
<text x="496.5" y="679" font-size="8.9" textLength="59.2" lengthAdjust="spacingAndGlyphs" fill="#1e1e1e" stroke="#1e1e1e" stroke-width="0.22">Marinisomatota</text>
<rect x="481.5" y="684.2" width="9.9" height="9.5" fill="#f1e4d3"/>
<text x="496.5" y="691.5" font-size="8.9" textLength="71.2" lengthAdjust="spacingAndGlyphs" fill="#1e1e1e" stroke="#1e1e1e" stroke-width="0.22">Verrucomicrobiota</text>
<rect x="576.4" y="646.8" width="9.9" height="9.5" fill="#d5ebd0"/>
<text x="590.7" y="654.1" font-size="8.9" textLength="29.1" lengthAdjust="spacingAndGlyphs" fill="#1e1e1e" stroke="#1e1e1e" stroke-width="0.22">SAR324</text>
<rect x="576.4" y="659.3" width="9.9" height="9.5" fill="#4f7a73"/>
<text x="590.7" y="666.6" font-size="8.9" textLength="60.5" lengthAdjust="spacingAndGlyphs" fill="#1e1e1e" stroke="#1e1e1e" stroke-width="0.22">Acidobacteriota</text>
<rect x="576.4" y="671.7" width="9.9" height="9.5" fill="#b9b9b9"/>
<text x="590.7" y="679" font-size="8.9" textLength="26.1" lengthAdjust="spacingAndGlyphs" fill="#1e1e1e" stroke="#1e1e1e" stroke-width="0.22">Others</text>
<text x="304.4" y="711.6" font-size="8.9" font-weight="bold" textLength="33.6" lengthAdjust="spacingAndGlyphs" fill="#1e1e1e" stroke="#1e1e1e" stroke-width="0.08">Circle_3:</text>
<rect x="343.2" y="704.6" width="6.6" height="10" fill="#fde2c6"/>
<text x="353.1" y="711.6" font-size="8.9" textLength="33.6" lengthAdjust="spacingAndGlyphs" fill="#1e1e1e" stroke="#1e1e1e" stroke-width="0.22">High and</text>
<rect x="391.1" y="704.6" width="6.4" height="10" fill="#2a86bf"/>
<text x="401.6" y="711.6" font-size="8.9" textLength="76.5" lengthAdjust="spacingAndGlyphs" fill="#1e1e1e" stroke="#1e1e1e" stroke-width="0.22">Low redox potential</text>
<path d="M312.9 725.6L321.4 729.6L312.9 733.6Z" stroke="#8a63c9" stroke-width="1" fill="none"/>
<text x="325.7" y="732.1" font-size="8.9" textLength="103.3" lengthAdjust="spacingAndGlyphs" fill="#1e1e1e" stroke="#1e1e1e" stroke-width="0.22">RDase with Tat signal motif</text></svg></body></html>
